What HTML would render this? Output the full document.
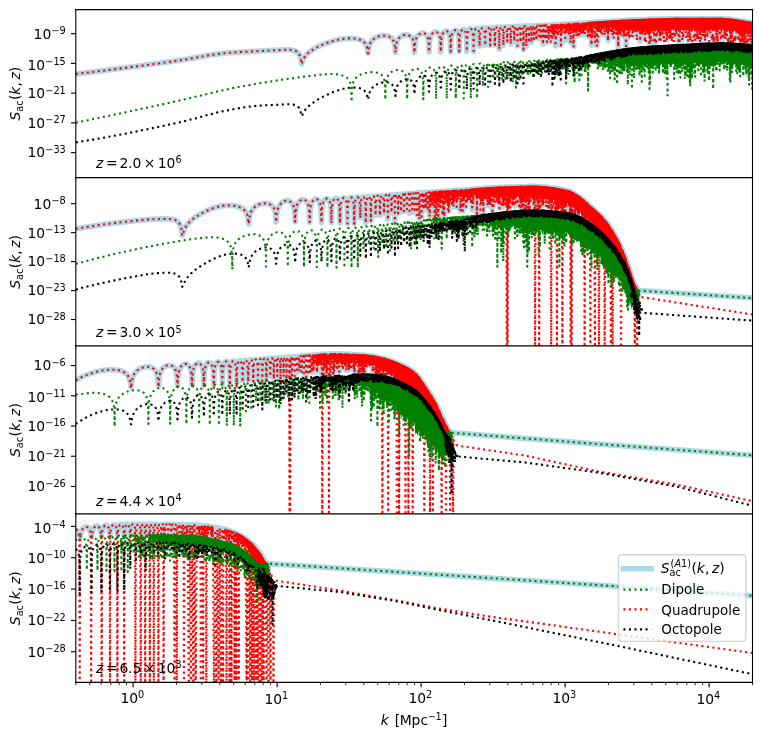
<!DOCTYPE html><html><head><meta charset="utf-8"><style>html,body{margin:0;padding:0;background:#fff;overflow:hidden}svg{display:block}</style></head><body><svg width="762" height="738" viewBox="0 0 548.64 531.36" version="1.1"><defs><style type="text/css">*{stroke-linejoin: round; stroke-linecap: butt}</style></defs><g id="figure_1"><g id="patch_1"><path d="M 0 531.36  L 548.64 531.36  L 548.64 0  L 0 0  z " style="fill: #ffffff"/></g><g id="axes_1"><g id="patch_2"><path d="M 54.576 127.8864  L 541.8 127.8864  L 541.8 6.8904  L 54.576 6.8904  z " style="fill: #ffffff"/></g><g id="matplotlib.axis_1"><g id="xtick_1"><g id="line2d_1"><defs><path id="m1504cfccaf" d="M 0 0  L 0 3.5  " style="stroke: #000000; stroke-width: 0.8"/></defs><g><use xlink:href="#m1504cfccaf" x="95.837366" y="127.8864" style="stroke: #000000; stroke-width: 0.8"/></g></g></g><g id="xtick_2"><g id="line2d_2"><g><use xlink:href="#m1504cfccaf" x="199.52477" y="127.8864" style="stroke: #000000; stroke-width: 0.8"/></g></g></g><g id="xtick_3"><g id="line2d_3"><g><use xlink:href="#m1504cfccaf" x="303.212174" y="127.8864" style="stroke: #000000; stroke-width: 0.8"/></g></g></g><g id="xtick_4"><g id="line2d_4"><g><use xlink:href="#m1504cfccaf" x="406.899578" y="127.8864" style="stroke: #000000; stroke-width: 0.8"/></g></g></g><g id="xtick_5"><g id="line2d_5"><g><use xlink:href="#m1504cfccaf" x="510.586981" y="127.8864" style="stroke: #000000; stroke-width: 0.8"/></g></g></g><g id="xtick_6"><g id="line2d_6"><defs><path id="m05db3bdf9b" d="M 0 0  L 0 2  " style="stroke: #000000; stroke-width: 0.6"/></defs><g><use xlink:href="#m05db3bdf9b" x="54.576" y="127.8864" style="stroke: #000000; stroke-width: 0.6"/></g></g></g><g id="xtick_7"><g id="line2d_7"><g><use xlink:href="#m05db3bdf9b" x="64.624348" y="127.8864" style="stroke: #000000; stroke-width: 0.6"/></g></g></g><g id="xtick_8"><g id="line2d_8"><g><use xlink:href="#m05db3bdf9b" x="72.834445" y="127.8864" style="stroke: #000000; stroke-width: 0.6"/></g></g></g><g id="xtick_9"><g id="line2d_9"><g><use xlink:href="#m05db3bdf9b" x="79.775984" y="127.8864" style="stroke: #000000; stroke-width: 0.6"/></g></g></g><g id="xtick_10"><g id="line2d_10"><g><use xlink:href="#m05db3bdf9b" x="85.789019" y="127.8864" style="stroke: #000000; stroke-width: 0.6"/></g></g></g><g id="xtick_11"><g id="line2d_11"><g><use xlink:href="#m05db3bdf9b" x="91.092891" y="127.8864" style="stroke: #000000; stroke-width: 0.6"/></g></g></g><g id="xtick_12"><g id="line2d_12"><g><use xlink:href="#m05db3bdf9b" x="127.050385" y="127.8864" style="stroke: #000000; stroke-width: 0.6"/></g></g></g><g id="xtick_13"><g id="line2d_13"><g><use xlink:href="#m05db3bdf9b" x="145.308831" y="127.8864" style="stroke: #000000; stroke-width: 0.6"/></g></g></g><g id="xtick_14"><g id="line2d_14"><g><use xlink:href="#m05db3bdf9b" x="158.263404" y="127.8864" style="stroke: #000000; stroke-width: 0.6"/></g></g></g><g id="xtick_15"><g id="line2d_15"><g><use xlink:href="#m05db3bdf9b" x="168.311751" y="127.8864" style="stroke: #000000; stroke-width: 0.6"/></g></g></g><g id="xtick_16"><g id="line2d_16"><g><use xlink:href="#m05db3bdf9b" x="176.521849" y="127.8864" style="stroke: #000000; stroke-width: 0.6"/></g></g></g><g id="xtick_17"><g id="line2d_17"><g><use xlink:href="#m05db3bdf9b" x="183.463388" y="127.8864" style="stroke: #000000; stroke-width: 0.6"/></g></g></g><g id="xtick_18"><g id="line2d_18"><g><use xlink:href="#m05db3bdf9b" x="189.476422" y="127.8864" style="stroke: #000000; stroke-width: 0.6"/></g></g></g><g id="xtick_19"><g id="line2d_19"><g><use xlink:href="#m05db3bdf9b" x="194.780295" y="127.8864" style="stroke: #000000; stroke-width: 0.6"/></g></g></g><g id="xtick_20"><g id="line2d_20"><g><use xlink:href="#m05db3bdf9b" x="230.737789" y="127.8864" style="stroke: #000000; stroke-width: 0.6"/></g></g></g><g id="xtick_21"><g id="line2d_21"><g><use xlink:href="#m05db3bdf9b" x="248.996234" y="127.8864" style="stroke: #000000; stroke-width: 0.6"/></g></g></g><g id="xtick_22"><g id="line2d_22"><g><use xlink:href="#m05db3bdf9b" x="261.950807" y="127.8864" style="stroke: #000000; stroke-width: 0.6"/></g></g></g><g id="xtick_23"><g id="line2d_23"><g><use xlink:href="#m05db3bdf9b" x="271.999155" y="127.8864" style="stroke: #000000; stroke-width: 0.6"/></g></g></g><g id="xtick_24"><g id="line2d_24"><g><use xlink:href="#m05db3bdf9b" x="280.209253" y="127.8864" style="stroke: #000000; stroke-width: 0.6"/></g></g></g><g id="xtick_25"><g id="line2d_25"><g><use xlink:href="#m05db3bdf9b" x="287.150792" y="127.8864" style="stroke: #000000; stroke-width: 0.6"/></g></g></g><g id="xtick_26"><g id="line2d_26"><g><use xlink:href="#m05db3bdf9b" x="293.163826" y="127.8864" style="stroke: #000000; stroke-width: 0.6"/></g></g></g><g id="xtick_27"><g id="line2d_27"><g><use xlink:href="#m05db3bdf9b" x="298.467698" y="127.8864" style="stroke: #000000; stroke-width: 0.6"/></g></g></g><g id="xtick_28"><g id="line2d_28"><g><use xlink:href="#m05db3bdf9b" x="334.425193" y="127.8864" style="stroke: #000000; stroke-width: 0.6"/></g></g></g><g id="xtick_29"><g id="line2d_29"><g><use xlink:href="#m05db3bdf9b" x="352.683638" y="127.8864" style="stroke: #000000; stroke-width: 0.6"/></g></g></g><g id="xtick_30"><g id="line2d_30"><g><use xlink:href="#m05db3bdf9b" x="365.638211" y="127.8864" style="stroke: #000000; stroke-width: 0.6"/></g></g></g><g id="xtick_31"><g id="line2d_31"><g><use xlink:href="#m05db3bdf9b" x="375.686559" y="127.8864" style="stroke: #000000; stroke-width: 0.6"/></g></g></g><g id="xtick_32"><g id="line2d_32"><g><use xlink:href="#m05db3bdf9b" x="383.896657" y="127.8864" style="stroke: #000000; stroke-width: 0.6"/></g></g></g><g id="xtick_33"><g id="line2d_33"><g><use xlink:href="#m05db3bdf9b" x="390.838195" y="127.8864" style="stroke: #000000; stroke-width: 0.6"/></g></g></g><g id="xtick_34"><g id="line2d_34"><g><use xlink:href="#m05db3bdf9b" x="396.85123" y="127.8864" style="stroke: #000000; stroke-width: 0.6"/></g></g></g><g id="xtick_35"><g id="line2d_35"><g><use xlink:href="#m05db3bdf9b" x="402.155102" y="127.8864" style="stroke: #000000; stroke-width: 0.6"/></g></g></g><g id="xtick_36"><g id="line2d_36"><g><use xlink:href="#m05db3bdf9b" x="438.112596" y="127.8864" style="stroke: #000000; stroke-width: 0.6"/></g></g></g><g id="xtick_37"><g id="line2d_37"><g><use xlink:href="#m05db3bdf9b" x="456.371042" y="127.8864" style="stroke: #000000; stroke-width: 0.6"/></g></g></g><g id="xtick_38"><g id="line2d_38"><g><use xlink:href="#m05db3bdf9b" x="469.325615" y="127.8864" style="stroke: #000000; stroke-width: 0.6"/></g></g></g><g id="xtick_39"><g id="line2d_39"><g><use xlink:href="#m05db3bdf9b" x="479.373963" y="127.8864" style="stroke: #000000; stroke-width: 0.6"/></g></g></g><g id="xtick_40"><g id="line2d_40"><g><use xlink:href="#m05db3bdf9b" x="487.58406" y="127.8864" style="stroke: #000000; stroke-width: 0.6"/></g></g></g><g id="xtick_41"><g id="line2d_41"><g><use xlink:href="#m05db3bdf9b" x="494.525599" y="127.8864" style="stroke: #000000; stroke-width: 0.6"/></g></g></g><g id="xtick_42"><g id="line2d_42"><g><use xlink:href="#m05db3bdf9b" x="500.538634" y="127.8864" style="stroke: #000000; stroke-width: 0.6"/></g></g></g><g id="xtick_43"><g id="line2d_43"><g><use xlink:href="#m05db3bdf9b" x="505.842506" y="127.8864" style="stroke: #000000; stroke-width: 0.6"/></g></g></g><g id="xtick_44"><g id="line2d_44"><g><use xlink:href="#m05db3bdf9b" x="541.8" y="127.8864" style="stroke: #000000; stroke-width: 0.6"/></g></g></g></g><g id="matplotlib.axis_2"><g id="ytick_1"><g id="line2d_45"><defs><path id="m5d545ce8f8" d="M 0 0  L -3.5 0  " style="stroke: #000000; stroke-width: 0.8"/></defs><g><use xlink:href="#m5d545ce8f8" x="54.576" y="109.869363" style="stroke: #000000; stroke-width: 0.8"/></g></g><g id="text_1"><!-- $\mathdefault{10^{-33}}$ --><g transform="translate(19.7840 114.3526)"><text><tspan x="0.0000" y="-0.9766" style="font-size: 10px; font-family: 'DejaVu Sans'">1</tspan><tspan x="6.3623" y="-0.9766" style="font-size: 10px; font-family: 'DejaVu Sans'">0</tspan><tspan x="12.8203" y="-4.1927" style="font-size: 7px; font-family: 'DejaVu Sans'">−</tspan><tspan x="18.6855" y="-4.1927" style="font-size: 7px; font-family: 'DejaVu Sans'">3</tspan><tspan x="23.1392" y="-4.1927" style="font-size: 7px; font-family: 'DejaVu Sans'">3</tspan></text></g></g></g><g id="ytick_2"><g id="line2d_46"><g><use xlink:href="#m5d545ce8f8" x="54.576" y="88.462982" style="stroke: #000000; stroke-width: 0.8"/></g></g><g id="text_2"><!-- $\mathdefault{10^{-27}}$ --><g transform="translate(19.7840 92.9462)"><text><tspan x="0.0000" y="-0.9766" style="font-size: 10px; font-family: 'DejaVu Sans'">1</tspan><tspan x="6.3623" y="-0.9766" style="font-size: 10px; font-family: 'DejaVu Sans'">0</tspan><tspan x="12.8203" y="-4.1927" style="font-size: 7px; font-family: 'DejaVu Sans'">−</tspan><tspan x="18.6855" y="-4.1927" style="font-size: 7px; font-family: 'DejaVu Sans'">2</tspan><tspan x="23.1392" y="-4.1927" style="font-size: 7px; font-family: 'DejaVu Sans'">7</tspan></text></g></g></g><g id="ytick_3"><g id="line2d_47"><g><use xlink:href="#m5d545ce8f8" x="54.576" y="67.056601" style="stroke: #000000; stroke-width: 0.8"/></g></g><g id="text_3"><!-- $\mathdefault{10^{-21}}$ --><g transform="translate(19.7840 71.5398)"><text><tspan x="0.0000" y="-0.9766" style="font-size: 10px; font-family: 'DejaVu Sans'">1</tspan><tspan x="6.3623" y="-0.9766" style="font-size: 10px; font-family: 'DejaVu Sans'">0</tspan><tspan x="12.8203" y="-4.1927" style="font-size: 7px; font-family: 'DejaVu Sans'">−</tspan><tspan x="18.6855" y="-4.1927" style="font-size: 7px; font-family: 'DejaVu Sans'">2</tspan><tspan x="23.1392" y="-4.1927" style="font-size: 7px; font-family: 'DejaVu Sans'">1</tspan></text></g></g></g><g id="ytick_4"><g id="line2d_48"><g><use xlink:href="#m5d545ce8f8" x="54.576" y="45.65022" style="stroke: #000000; stroke-width: 0.8"/></g></g><g id="text_4"><!-- $\mathdefault{10^{-15}}$ --><g transform="translate(19.7840 50.1334)"><text><tspan x="0.0000" y="-0.0641" style="font-size: 10px; font-family: 'DejaVu Sans'">1</tspan><tspan x="6.3623" y="-0.0641" style="font-size: 10px; font-family: 'DejaVu Sans'">0</tspan><tspan x="12.8203" y="-3.2802" style="font-size: 7px; font-family: 'DejaVu Sans'">−</tspan><tspan x="18.6855" y="-3.2802" style="font-size: 7px; font-family: 'DejaVu Sans'">1</tspan><tspan x="23.1392" y="-3.2802" style="font-size: 7px; font-family: 'DejaVu Sans'">5</tspan></text></g></g></g><g id="ytick_5"><g id="line2d_49"><g><use xlink:href="#m5d545ce8f8" x="54.576" y="24.243839" style="stroke: #000000; stroke-width: 0.8"/></g></g><g id="text_5"><!-- $\mathdefault{10^{-9}}$ --><g transform="translate(24.1840 28.7271)"><text><tspan x="0.0000" y="-0.9766" style="font-size: 10px; font-family: 'DejaVu Sans'">1</tspan><tspan x="6.3623" y="-0.9766" style="font-size: 10px; font-family: 'DejaVu Sans'">0</tspan><tspan x="12.8203" y="-4.1927" style="font-size: 7px; font-family: 'DejaVu Sans'">−</tspan><tspan x="18.6855" y="-4.1927" style="font-size: 7px; font-family: 'DejaVu Sans'">9</tspan></text></g></g></g><g id="text_6"><!-- $S_{\rm ac}(k,z)$ --><g transform="translate(15.0723 86.7884) rotate(-90)"><text><tspan x="0.0000" y="-0.4062" style="font-style: oblique; font-size: 10px; font-family: 'DejaVu Sans'">S</tspan><tspan x="18.6606" y="-0.4062" style="font-style: oblique; font-size: 10px; font-family: 'DejaVu Sans'">k</tspan><tspan x="29.5786" y="-0.4062" style="font-style: oblique; font-size: 10px; font-family: 'DejaVu Sans'">z</tspan><tspan x="6.3477" y="1.2344" style="font-size: 7px; font-family: 'DejaVu Sans'">a</tspan><tspan x="10.6372" y="1.2344" style="font-size: 7px; font-family: 'DejaVu Sans'">c</tspan><tspan x="14.7593" y="-0.4062" style="font-size: 10px; font-family: 'DejaVu Sans'">(</tspan><tspan x="24.4517" y="-0.4062" style="font-size: 10px; font-family: 'DejaVu Sans'">,</tspan><tspan x="34.8276" y="-0.4062" style="font-size: 10px; font-family: 'DejaVu Sans'">)</tspan></text></g></g></g><g transform="scale(0.72)"><clipPath id="cp0"><rect x="75.80" y="9.57" width="676.70" height="168.05"/></clipPath><g clip-path="url(#cp0)" stroke-linejoin="round"><path d="M75.8,74l40.3-4.9 44.6-6 22.7-3.3 26.5-4.7 11.7-1.6 7.5-.8 12.3-.8 38.3-1.8 5.6-.4 4.3,0 3.4,.5 2.7,.8 1.1,.6 1,.8 .7,.8 .7,.9 1,2.3 .7,2.9 .6,4.7 .3-.4 1.1-3 .7-1.8 .9-1.5 1.1-1.6 1.3-1.5 1.7-1.6 2-1.5 2.2-1.4 2.9-1.7 3.4-1.8 3.6-1.6 3.9-1.5 3.8-1.3 3.8-1.2 3.8-.9 3.5-.6 3.1-.4 2.9-.3 3.2,0 2.8,.1 2.6,.3 2.2,.4 1.9,.6 1.7,.7 1.4,.9 1.1,1 1,1.2 .7,1.3 .6,1.5 .5,1.5 .7,4.9 .2,.5 .6-4.8 .7-3.1 1-2.5 1.4-2.1 1-1.1 1.1-.9 2.6-1.6 3.2-1.1 3.2-.5 3,.1 1.4,.2 1.3,.4 1.1,.6 1.1,.6 .9,.8 .8,1 1.2,2 .9,2.8 .5,3.3 .4,5.1 .4-5.6 .6-3.5 .4-1.5 .6-1.5 .7-1.2 .8-1 1.1-1.1 1.1-.9 1.4-.7 1.4-.4 1.6-.3 1.4,.1 1.4,.3 1.3,.5 1.2,.8 1,1.1 .9,1.5 .5,1.7 .5,2 .3,2.7 .3,7.1 .3-5.4 .3-3.8 .5-2.8 .7-2.1 1.1-2.1 1.5-1.7 1.7-1.1 .9-.4 .9-.1 .9,0 .8,.2 .8,.3 .7,.5 1.2,1.4 .9,1.9 .6,2.3 .5,3.2 .3,9.1 .4-9.6 .4-2.6 .6-2.6 .8-2 1.2-1.8 1.3-1 .8-.3 .8-.2 1.3,.2 1.3,.9 1,1.4 .8,1.9 .5,2.4 .3,3 .3,10.1 .3-9.6 .3-3.4 .5-2.3 .7-2.3 .9-1.6 1.2-1.2 .6-.2 .7-.2 .6,0 .6,.2 1.1,.9 .8,1.5 .7,2.1 .4,2.5 .3,2.9 .2,10.5 .3-10.6 .2-3 .5-2.6 .6-2 .8-1.7 1-1.1 .5-.3 .6-.2 .6,.1 .5,.2 1,1 .7,1.6 .5,2 .4,2.4 .2,3.6 .2,10.4 .2-11.5 .5-4.9 .6-2.2 .7-1.8 .9-1.2 .6-.3 .5-.1 .5,0 .4,.3 .8,1 .6,1.4 .5,2.2 .4,2.8 .1,2.7 .2,11.4 .2-10.7 .2-3.1 .3-3.1 .5-2.4 .6-1.6 .8-1.1 .4-.3 .5-.2 .4,.1 .4,.2 .8,1 .6,1.5 .4,2 .3,3.2 .2,3.4 .2,11 .1-10.5 .2-4.9 .3-2.2 .4-2.1 .5-1.5 .6-1.1 .4-.4 .4-.2 .5,.1 .4,.2 .7,1.1 .6,1.9 .4,2 .2,2.7 .3,9.9 .2-7.1 .2-4.4 .5-3.4 .7-2.1 .8-1.1 .4-.1 .4,0 .4,.4 .4,.5 .6,1.9 .4,1.8 .2,2.5 .4,10.3 .1-8.4 .3-3.5 .3-2.3 .5-1.9 .6-1.2 .4-.3 .3-.1 .3,0 .4,.3 .4,.7 .3,.8 .6,3.2 .4,5 .1,7.8 .2-9 .4-4.3 .3-2 .4-1.5 .5-.9 .6-.4 .5,.2 .5,.9 .5,1.3 .3,1.9 .3,4.3 .2,9.1 .3-9.9 .2-3.2 .3-2.1 .6-1.9 .4-.5 .3-.3 .4,0 .3,.3 .6,1.3 .4,2.1 .3,3.5 .2,5 .1,9.8 .1-10.5 .2-5.7 .5-3.7 .5-1.4 .4-.7 .2-.2 .4,.1 .5,.6 .4,1.3 .4,1.9 .3,4.3 .2,10 .1-9.2 .2-3.2 .5-3.8 .3-1.2 .4-.6 .2-.3 .3,0 .4,.3 .4,1 .4,1.5 .4,4.5 .3,7.1 .1-7.1 .2-2.5 .3-2.5 .4-1.6 .5-.8 .2-.1 .3,.1 .5,.9 .4,1.8 .3,3.3 .3,11.2 .3-10.6 .3-3.7 .4-2 .4-.9 .3-.2 .2,0 .5,.7 .4,1.7 .4,4.3 .3,8 .1-7.7 .4-4.1 .2-1.4 .4-1.1 .3-.5 .3,0 .1,.1 .4,.6 .2,.9 .4,3.2 .3,6.3 .1,8.4 .2-12.2 .2-3.7 .3-2.2 .5-1.3 .4-.3 .4,.6 .4,1.6 .5,4.7 .1,9.1 .2-7.9 .3-4.3 .5-3 .3-.7 .2-.2 .2,.1 .4,.6 .2,1 .4,3.9 .2,4.8 .1,13 .1-13.4 .1-4.5 .5-3.9 .3-1.2 .3-.5 .4,.2 .3,.9 .3,1.4 .2,2.7 .2,4.4 .1,10.5 .1-9.7 .1-4.9 .5-4 .2-1 .4-.6 .3,.2 .3,.9 .5,3.1 .1,3.1 .2,9.5 .1-7.7 .1-4.2 .4-3.2 .2-1.1 .3-.6 .2-.1 .1,.1 .3,.5 .5,3 .2,5.3 .1,7.5 .3-11.1 .3-3.6 .4-1.5 .2-.2 .2,0 .2,.3 .5,2.1 .2,3.3 .2,7.5 .3-9.2 .3-2.4 .3-1.4 .3-.3 .2,.1 .3,.7 .2,1.4 .3,3.2 .2,6.9 .2-6.9 .3-3.2 .2-1.5 .3-.7 .1-.1 .2,0 .3,.7 .3,2.1 .2,2.3 .2,7.7 .1-5.2 .3-4.7 .4-2.6 .2-.4 .3,.1 .3,1.2 .3,2.2 .3,10.4 .1-6.1 .3-5 .3-2.2 .3-.6 .2,0 .4,1.5 .3,2.8 .2,4.9 0,9.6 .2-13.2 .3-3.6 .4-2 .2-.2 .3,.5 .3,2.2 .3,4.9 .1,6.4 .1-7.6 .3-4.1 .2-1.7 .3-.6 .2-.1 0,.2 .3,.8 .3,2.4 0,2.5 .2,11 .2-12.2 .1,.6 0-2.6 .4-2.5 .2-.2 .2,0 .3,1.8 .1,1.7 .1-.5 .2,11.5 .2-8.4 0-2.4 .1,1.2 .1-3.5 .2-.9 .1,.4 .1-1 .1,.3 .1-.3 .2,.3 .1-.2 0,.3 .2,2 .1-.6 .1,6.8 .1-5.9 .1,13.9 .2-13.9 .1-.6 .1,1.2 .1-2.2 0,.7 .1-1.8 .2,.3 .1-.4 .1,0 .1,.2 .2,2.8 .2,11.9 .1-13.5 0,5 .3-4.7 .1,9.1 .1-9.3 0,3.7 .2-4.7 .1,.1 .1-.6 .2-.1 0,1.6 .1-1.5 .2,6.3 .2-5 0,10.6 .1-7 .1,1.1 .2-5 .1,.2 .1-.9 0,3.6 .1-3.9 .2,.6 .1-.6 .1,1.5 .1-.2 .1,1.4 .1-2.9 .1,0 .1,21.2 .1-18.1 .1-1 .1,.5 .1,12.9 .1-14.7 .1-.5 0,3 .1-3.3 .2,.5 .1-.4 .1,.1 .1-.2 0,.2 .1,3.1 .1-2.9 .1,2.7 .1-1.4 .1,2.9 0-1.3 .2,7.6 .1-8.2 .1-2.1 .1,5.5 .1-6.2 .1,11.5 .2-11.5 .1,.8 .1-.8 .1,1.6 .2-1.6 .2,7.4 .1-5.1 0,2.6 .1-3.9 .1,1.3 .2-2.2 .1,2.2 0-2.3 .1,2.1 .3-2.1 .1-.1 .1,1.2 0-.7 .1,.5 .1,4.5 .1-5.5 .1,7.3 .1-6.1 0-.5 .1,5.5 .2-6.2 .2,20.8 .2-20.9 .1,1.4 .1-1.1 .2,9.1 .1-9.4 .1,6.3 .1-4.8 .1,6.3 .2-7.6 0,1 .1-1 .1-.2 .1,.7 .1-.7 .1,0 0,3 .2-2.7 .1,2.7 .1,0 .1-3.1 .1,.2 0-.1 .4,2.4 .1-1.9 0,1 .1-1.1 .1,.7 .1-.7 .2,2.8 .1,0 0-3 .1,8.2 .1-8.5 .2,8.1 .1-8.1 0,3.4 .2-3.4 .1,16.3 .2-16.4 .1,.3 0-.2 .1,1.2 .1,3.6 .2-3.9 .1-.3 0,1.1 .2-1.6 .1,9.6 .1-6.5 .2-3 0-.2 .1,5.8 .2-5.7 .1,0 .1,.9 0-1.2 .1,.2 .1,2.3 .1-2.4 .1,4.8 .2-4.9 .1,0 .1,.5 .1,2.4 .1-2.3 .1,2.3 0-1.9 .1,5.4 .1-6.4 .1,3.4 .2-3.2 .1,4.1 .1,7.7 .1-11.3 .1,5.1 .1-4.9 .1,1.2 0-1.9 .1,2.9 .1-3.2 .1,8.8 .2-8 .1,6.6 0-7.4 .1,0 .2,.2 .1,1.6 .1-1.8 0,.4 .1-.3 .1,18.6 .1-18.5 .1-.3 .1,.1 .1,6.2 .1-5.6 .1,.8 .2-1.5 .1,2.6 0-2.4 .2,3 .1,0 .1-3 .1-.1 .1,2.6 .1-2.5 .1,4.6 .1-4.8 .1,4.8 .1-3.5 .1,.5 .1-.5 .2,6.6 .2-7.3 0,18.2 .1-18.9 .1,3.3 .1-1.5 .2,20.7 0-22.2 .2,1.6 .1-.3 .1,.8 .1-1.7 .1-.7 0,.2 .1,2.3 .1-2.6 .1,1.3 .1-1.3 .1,7.6 0-6.3 .1,8 .1-9.3 .1,2 .1-.8 .1,1.7 .1-2.4 0,3.2 .1-3.4 .1,.1 .2-.5 .1,6.3 0-6.1 .2,8.9 .1-7.5 .2,10.9 .1-12.3 .2,2 .2-2.2 .1,1.8 .1-1.9 .1,2.1 .1-2.1 .1,3.8 .2-3.8 .1,.6 .1,3.2 .1-3.8 .1,3.5 .1-3.5 0,1.7 .1-1.4 .1,1 .1-.4 .2,10.7 .1-9 0,7.8 .1-10.2 .1,4.2 .1-4.5 .1,5.2 .1-4.7 0,11.2 .1-10 .1,.8 .1-2.2 .1,2.3 .1-2.5 .1,3.3 .2-3.4 .3,.1 .1-.2 .3,9 .1-7 .1,7.2 0-9.2 .1,8.2 .1-5.5 .2-2.7 .1,7.1 0-1.7 .1,.6 .1,3.2 .1-8.9 .1,7.1 .1-7 .1,1.3 .1-1.5 .1,1.3 .1-1.1 .1,.2 .1,9.1 0-8.8 .1,.4 .1-.6 .2,1.2 .1,9.3 .2-9.6 .1,8.2 .1-10 .1,0 .1,.7 0-.4 .1,2.8 .1-.5 .1,.9 .1-3.5 .1,5.3 0-3.6 .1,.7 .1-2.4 .1,7 .2-7 .1,4.4 .1-3 .1,9.4 .1-9.3 .1,2.6 .1-.1 0-3.9 .1,2.5 .1-2.7 .1,0 .2,5.4 .1-5.4 .1,1.7 .1-1.2 .1,4.8 .2-5.2 .1,8.7 .1-7.6 .2-.6 .1,1.2 .1-1.8 0,3.5 .1-1.4 .2,.3 .1-2 .1,2.7 .1-2.2 .2,.4 .1-1.4 .1,1.4 .1-1.1 0,13 .2-13.4 .1,0 .1,1.4 .1,11.9 0-13.3 .1,.7 .2,.1 .1-.5 .2,3.7 .1-3.8 .1,3.5 .1-1.2 .2,1.7 0-4.2 .1,1.4 .1-.1 .1,3.2 .1-1.1 .1,.9 .1-3.9 .1,12.2 .1-11.8 .1-.9 .2,1.3 .1-.9 .1,3.3 .1-3.7 .2,2 .1-2.1 .1,1.7 .1,20.7 .1-19.1 .1,1.4 .1-3.9 .1,5.1 .1-5 .1-.4 .1,4.2 .1-2.5 .1,9.1 0-9.9 .1-.5 .2,.5 .1,15 .1-16.5 .1,0 .1,2.3 .3-2.3 .1,4.1 0-3.8 .1-.2 .1,.1 .1,4.6 .1-4.9 .1,.2 .2,4.8 .1-5 .1,.7 .1-.4 .1,2.3 0-1.7 .1-.1 .1,3.3 .1-1.3 .1,3 .1-1.8 0,15.6 .1-8 .1,1.5 .1-13.2 .1,7.6 .1-4.7 .1-.4 0,1.2 .1-3.5 .1-.1 .1,5.7 .2-5.3 0-.3 .1,.2 .1,2.4 .2-2.9 .1,7.3 .1-6.8 0,3.4 .1,0 .1,19.6 .1-23.4 .1,1.7 .1-1.8 .1,.3 .1,4.2 .2-4.5 .1,0 .1,19.5 0-19.1 .1,6.5 .1-6.3 .2,1.4 .1-1.6 0,6.7 .3-7.1 .1,6.1 .1-4.7 .1,.1 0-1.3 .2-.3 .2,8.8 .1-7.8 0,3.7 .1-4.1 .1,10.9 .1-11 .2-.5 .1,.2 .1,2.4 .1-2.7 .1,.8 .1,7 .1-5.6 0-.1 .1,6 .1-6.5 .2-1.6 .1,11.8 .1-11.6 0-.3 .1,1.6 .1-.9 .1,0 .1,3.9 .1-4.5 .2,3.6 .2-2.8 .2,10.9 0-10.9 .3,4.9 .2-5.8 .1,3.5 .2-2.7 .1,1.7 .1-.4 .1-2.1 0,5.4 .1-4.7 .1,1.8 .1-2.6 .1,.2 .1-.2 .2,.8 .1-.7 .1,.1 .1,1.5 .1-1.5 .1,13.1 .1-12.5 .2,3.8 .1-4.6 .2,4.6 .2-4.6 .1,.6 .1-.3 .3,3 .1-3.3 .1,1.1 .1,8.5 .2-8.7 .2-1.1 .2,0 .2,6.1 .2-5.9 0,12.3 .2-11.7 .1,4.4 .1-3.9 .1,3.9 .1-.7 0,.8 .1-3.3 .1,16.8 .1-18 .2,.1 0,3.3 .2-.4 .1-3.7 .1,2.1 .1-.4 .1,0 0-1.1 .2,3 .1,6.2 .2-10.1 0,1.8 .1-1.7 .2,1.2 .1,6.2 .3-7.1 .2,5.2 .1-5.5 .1-.2 .2,4.3 .1-4.3 .2,1 .1,1.7 0-2.7 .2,1 .1-1 .2,.8 0-.2 .1,5.2 .1-5.8 .2,.2 .1,2.6 .1-2.5 0,9.8 .1-9.7 .1,9.1 .1-4.1 .2,9.9 0-15.2 .1,3.8 .1-2.6 .2,1.3 .1-2.6 .1,1.8 0-1.7 .2,9.7 .2-9.1 .1,15.5 .1-16.1 .2,2.6 .1-1.4 .2,2.5 .1-2 .1,5.5 .2-7.4 .1,2.6 .3-2.7 .2,1.1 .1-.5 .1,6 .1-5.8 .1,1.8 .1-2.4 .1,9.9 .1-10.2 .1,1.8 .1-1.8 .1,.1 .1,3.2 .1-1.9 0,3.8 .1-5.2 .2,2.9 .2-2.9 .1,15 .1-9.9 .1,6.1 .1-11.3 .2,2.7 .2-1.3 .2,.7 .1,23.5 0-23.5 .1,0 .2-2 .2,2.8 .1-2.9 .1,9.5 .1-8 .2,2.3 .1-3.6 0-.1 .1,1.2 .1-.1 .1,11.1 .1-12.3 .1,.3 .1,13.6 .2-14 .1,.6 .1-.5 .1,9.8 .2-10 .2,4.8 .1-3.5 .1-.6 .1,7.4 .4-7.3 .1,5.6 .2-6.4 .1,3 .1-2.8 0,1.8 .1-2 .1-.1 .2,.5 .2,9.5 0-9.1 .1-.3 .1,.2 .1,1.8 .2-2.3 0,6.5 .1-6.8 .1,0 .1,1.2 .1-1.1 .1,.2 .1,15.6 .1-15.8 .1,13.4 .1-13 .1,11.7 .1-11.8 0-.5 .1,6.6 .1-6.2 .1,.2 .1-.6 .2,10.1 .2-9.9 .1,.1 .1,6 .1-6.3 .1,2.8 .2-2.5 .1,4.9 .2-5.2 .1,.3 .1,25.2 .2-25.6 .1,4.6 .2-3.3 .1,.5 .1,5.2 .1-3.8 .1,1.4 .1-4.2 .2-.4 .1,3.8 .2-3.9 .1,5 .2-3.9 .1,.9 .1-1.9 .1,13.9 .1-10.1 .2-3.3 .1,.4 0-.9 .2,2.8 .1,8.7 .1-6 .1,4 .1-9.4 .1,2.2 .1-2.4 .2,.2 .1,4.3 0-4.4 .1,1.3 .1-1.4 .2,5.9 .2-5.5 0,6.2 .1-3.5 .3-3 .1,9.5 .2-8.9 .1,1.2 .1-.3 .1,0 .1,2.5 0-2.7 .2-1.4 .2,1.1 .1-1.3 0,5.9 .2-5.2 .1,.2 .1-.6 .1,2.9 .1-1.6 .2-1.5 .1,3.5 .1-3.6 .1,.2 0,9.9 .1-8 .1,.2 .1-1.7 .3,2.6 .1-3.2 .2,10.9 .2-11 0,6 .2-5.9 .4,7.2 0-3 .1,.1 .2,5.8 .2-10.2 0,2.3 .2-2.2 .2-.1 .1,.6 .1-.6 .2,1.5 .1,5.5 .2-7.1 .1,2.5 .1-2 .1,1.8 .1-2 .1,15.8 .1-13.4 .1-1.8 .1,2.8 .3-3.7 .1,5.6 .1-5 .1,10.2 .2-10.4 .1-.4 0,4.4 .2-4.4 .1,.8 .1,8.6 .1-9.4 0,1.3 .1-1.2 .1,5.8 .2-5.7 .1,.5 .1-.8 0,9 .1-8.8 .1-.2 .2,1.9 .1,5.1 0-7 .1,1.2 .1-.6 .1,.5 .1-1.1 .2,5.4 0,15.6 .1-20.8 .3,.9 .1,2.8 .1-2.2 .1,1.5 .1-1 .1,.5 .1-2.1 .1,2.5 0-3.1 .1,.2 .1,11.6 .1-11.8 .2,14.5 0-14.6 .2,2.6 .1,12.7 .1-15.3 .1,.1 .1,3.7 0-3.6 .2,11.3 .1-10.2 .1,2.2 .1-3.5 .2,4.1 .3-4.1 .1,4.8 0-3.6 .1,8 .1-9 .3,11.8 0-10.5 .1,8.3 .1-9.9 .2,.3 .2-.2 0,.1 .2-.1 .1,9.5 .1-8 .1,2.4 .1-3.9 .1,.2 .2-.1 .1,2 .1-2.2 0,1.9 .1-1.8 .1,1.6 .2-1 .1,5.9 .1-6.5 .3,11.2 .1-10.9 .1,.1 .1,13.1 .2-13.3 .1,5 .1-5.4 0,12.9 .3-12.7 .2-.2 .1,.2 .2,4.1 .1-3.1 .2-1.2 0,12 .1-10.5 .1,4.1 .1-5.5 .1,.3 .1,10.2 .1-10.5 .1-.1 .1,3.5 .2-3.5 .1,25.2 .1-24.7 .1-.3 .1,.3 .1,7.5 .1-7.4 .1,12.4 0-13.1 .1,5.2 .2-5.1 .1,4.7 .1-4.3 .1,5.6 .2-6.1 .2,3.1 .1,.1 0-2.9 .2,.8 .1,7.3 .1-7.8 .1,2.6 0-3.2 .1,1.3 .2-1.3 .1,1.5 .1-1.5 .1,.5 .1-.3 .2,12.7 .2-12.5 0-.1 .1,9.8 .1-10.2 .1,.5 .1-.4 .2,2.4 0-2.4 .1,.2 .1,10.5 .1-9.9 .1,.3 .1-.6 0,.5 .1,4 .2-3.9 .1,.3 .1-1.4 .1,.2 .1,23.5 .2-23.8 .1,1.4 .1-1.4 .1,.7 .1-.7 .1,.1 .1-.2 .2,3.1 0-2.8 .2,1.2 .2-1.4 .1,.2 .1,3.4 .1-1.4 .1,5.2 .1-6.6 .1,.8 .1-1.2 .1,1.7 .1-2.2 .2,3.6 .1-2.8 .2,1.5 .1,0 .2-2.3 .1,6.3 .1-6.2 .1,5.7 .3-5.8 0-.1 .2,4 .1-3.9 .1,3.2 .1-3.3 .1,9.5 .1-5.9 .1-1.8 .1,.1 .1,2.6 .1-4.5 .1,12.4 .1-12 .1,.1 .1,2.1 .1-1.6 0,1.9 .1,14.4 .1-15.7 .1-.8 .1,2.4 .1-3.2 .1,1.5 .1-1.5 .1,1.7 .1-1.8 .1,3 .1-2.8 0,2.5 .1-2.3 .1,1.9 .1-2 .2,9.1 .1-5.9 0,1 .1-2.8 .1,.7 .1-1.4 .1,5.4 .1-6.1 0,.1 .2,15.9 .1-15.9 .1-.3 .1,2.5 .1-1.8 .1,2.1 .1-.5 .1,1.1 .1,6.1 .2-9.3 .2,3 .2-3.3 .1,2.8 0-2.7 .2,1.7 .1-1.2 .1,1.9 .1-1.5 .2-1.1 .1,3.1 .1-3 .1,0 .1,12.6 .1-12.6 .2,6.1 .1-4.4 .1-1.5 .1-.2 .1,7.1 .2-6.3 .1-.5 .1,2.8 0-3.2 .2,1.5 .1-1 .1,1.8 .1-1.9 0,7.7 .1-7.9 .1,4 .1-4.1 .2,6 .1-.3 0,14.9 .1-20.7 .2,.4 .1,3.7 .1-3.8 0-.2 .1,2.7 .1-.6 .1,.8 .1-3 .2,7.1 .1-7.1 .2,5 .1-4.8 .1-.2 0,.3 .1,6.7 .1-6 .1,.2 .2,13.1 .1-10.8 0,.8 .1-2.9 .2,4.4 .2-5.5 0,14.2 .2-14.6 .1,10.6 .1-9.3 .1,0 .1-1.3 0,15 .2-14.9 .1,1.8 .2-1.9 .1,10.3 .1-9.7 .1,7.6 .1-8.2 .1,.1 .1,4.8 .1-4.9 .1,1.3 .1-1.3 .2,4.5 .1-4.5 .1,3 .1,.1 .1-2.7 .1,5.3 .1-5.6 .1,.4 .1-.5 .1,0 .2,4.9 0-4.3 .2,3.8 .1-3.9 .1,10.6 .1-11.1 .1,1.7 .1-1.6 .2,1.7 .1-.7 .1,8.7 0-9.7 .1,6.9 .2-7.1 .1,6.2 .1-2.6 .1,.6 0-4.1 .1,0 .1,1.8 .1-1.7 .1,.9 .1-1.1 0,1.2 .1-1.2 .3,.3 .1,.6 .1-.1 .1,6 .2-6.5 .1,5 .1-3.2 .1,3.5 .1-5.5 .1,2.9 .1-3 .1,3.9 .1-2.8 0,.5 .1-.1 .1,.2 .1-.6 .1,1.3 .1-1.8 0,3.7 .1-4.1 .1,10.5 .1-9.6 .1,1.5 .1-1.8 .1-.8 .1,5 .1-4.5 .1,1.1 .1-1.2 .1,25.7 .1-21.8 .2,6.7 .1-10.8 .1-.1 .1-.1 0,1.8 .2-1.7 .1,4.1 .1-3.6 .1,1.4 0-1.7 .3,6.8 .2-7.1 .1,0 0,1.7 .1-1.5 .1,.4 .1-.5 .2,.3 0,2.7 .4-3.1 .2,4.7 .1-4.5 .1,5.4 .1-5.2 .1-.3 .1,1.2 .1,2.3 .1-3.5 .1,0 .1,3.8 .2-3.8 0,.1 .3-.2 .1,3.4 .1-2.7 .1,5.1 .2-5.8 .1,3.4 .1-2 .1,6.7 0-5.9 .1,1.1 .2-1.7 .1,4.6 .1-6.2 .1,9.6 .1-8.6 .1,1.1 .1-.1 .2,3.8 .1-5.5 .1,0 .1,.9 .1,3.6 .1-4.7 0,3.3 .2-3.4 .3,1 .1,2.7 0-2.4 .1,.3 .1-1.4 .1,.9 .1-.9 .2,7.4 .1-6.1 .2-.2 .1,8.6 .1-9.9 .1,5.4 .2-5.2 .2-.1 0,2 .1-2.1 .1,.2 .1,2.5 .2-2.7 .1,3.8 .1-3.8 .1,9.7 .2-9.6 .1,.4 .1-.2 .1,1.1 .2-1.1 .2,.2 0,3.8 .1-3 .1,10.9 .1-8.2 .2-3.8 0,.3 .2,16.4 .3-16.7 .1-.2 0,7.8 .1-7.6 .1,11.1 .1-9.5 .2,3.2 .1-4.8 .1,1.5 .1-1.7 .2,2.5 .1-2.3 0,.3 .1-.2 .2,.5 .2,7 0-5.7 .1,.1 .1,8.8 .2-10.4 .2,9.4 .2-10 .2,4 .1-3.7 0,.9 .1,3.9 .1-4.3 .1,2.8 .1-1.1 .1,.1 .1-2.4 0,1.1 .1-.8 .1,3.3 .1-3.6 .2,4.3 .2-4.2 .1,.9 .1-1 .1,2.2 .1-2.4 0,9.5 .1-5.8 .1-1.5 .1,.6 .1-.1 .1,16.4 0-18.6 .1,1 .1,0 .1-1.4 .1,3.4 .1-3.5 .1,0 0,5.7 .2-5.2 .1,1.6 .2-1.6 0,.3 .1-.7 .1,.5 .2-.6 .2,7.6 .1-6.7 .1,.7 .1-1.6 .2,2.4 0,18.2 .1-20 .1,13.3 .2-13.8 .1,2.7 .1-1.5 .1,2.9 .1-3.4 .1,3.5 .1-2.2 .1,7.3 0-9.2 .2,5.9 .1-4.9 .2,9.4 .1-10.4 .2,2.6 .1-1.2 .1,8.5 .1-8 0-2.1 .1,.1 .1,17.2 .1-17.2 .1,8.9 .1-4.7 0,11.6 .1-14.2 .2-.4 .1-1.3 .2,6.1 .2-6 .1,13.8 .1-13.8 .1,2.4 .1-2.4 .4,4 .1-4 0,9.4 .3-9.5 .1,.5 .1-.1 0,1.9 .1-2.2 .1,8.7 .1-7.9 .1-.8 .1,4.4 .1-4.5 .1,0 .1,2.4 .1-2.4 .1,2.7 .1-2.7 .1,11.8 .1-10.3 .2,12.5 .1-11.2 .1,10.2 0-12.3 .1,8.3 .1-8.9 .1,1 .1-1 .1,1.7 0,5.1 .1-5.2 .1,9.3 .1-10.6 .2,4.2 .1,15 .1-19.6 .1,0 .1,9 .1-8.7 .1,5.4 0-5.6 .1,.2 .2-.3 .1,9.2 .1-8 .1,2.7 0-3.9 .1,.3 .1,8.2 .3-7.9 0,5 .1-5.5 .1,3.5 .1-1.5 .1,3.3 .1-4.5 .1,.6 0,8.1 .2-9.1 .1,.3 .2-.7 .1,.3 .1,5.2 .1-3.7 .2-1.1 .1,11.4 0-9.5 .1-1.5 .1,1 .1-2.1 .1,0 .1,.5 0-.6 .2,.6 .1,2.3 .1-2.9 .1,1.4 .1-.9 0,.2 .1,2.4 .2-3.1 .2,4.7 0-3.6 .2-1.1 .2,8.4 .1-8.3 .1,5.3 .1-5.3 .1,4.5 .1-4 .1,.9 .1-1.1 0,9.4 .1-9.2 .1-.2 .1,4.2 .1-3.2 .1,6.6 .1-7.4 0-.3 .1,.5 .1-.4 .1,1.8 .1-2.1 .1,1.2 0-1.2 .2,.6 .1,2 .1-2.4 .2,.7 0-.7 .1,18.9 .2-19.2 .1,10.6 .1-4.5 0,3.1 .3-8.2 .1,0 .1,2.2 .1-2.4 .1,8.9 .2-9.7 .2,.5 0-.3 .1,4.2 .2-4.3 .2,7.3 .1-7.1 0,11.3 .3-11.1 .1,11.5 .1-12 0,2.6 .1-2.5 .1,.8 .1-.9 .1,4.7 .1-2.3 .1,4.9 .1-7.2 .2,19.2 .1-18.6 .1,3.6 .1-4 .2,6.9 .2-7.2 .1,.9 .1-.8 .1,3.9 .1-3.6 .1,4.2 .1,17.3 .1-21.7 .2,2.7 .2-2.9 .1,6 .1-5.4 .1,1.1 .1-1.3 .1,.4 .1-.1 0,1.3 .2-1.9 .1,2.1 .1-.3 .1,0 .1,7.9 0-7.1 .2-2.7 .3,10.6 .1-9 .2-1.4 .1,3.7 .1-3.8 .1-.1 0,3.2 .1,.2 .1-1.2 .2,7.9 .1-10 0,3.8 .3-3.7 .1,5.8 .1-5.9 .1,2.8 .1-2 .1,5.4 .1-6.1 .2,1.3 .1-1.4 .2,.7 .1-.7 .1,1 .1-1 0,4.4 .1-2.8 .2,1.9 .1,5.2 .1-7.9 .2,6.3 .1-5.9 .2,6.7 .1-5.8 0,1.1 .1-3.2 .1,.7 .2-.6 .1,.4 0-.4 .1,0 .1,2.1 .1,0 .1-.9 .1,3.8 .1-5 0,.8 .1-.8 .1,.1 .1,5.4 .2-4.9 .1,1.8 .1-2.4 .1,.5 .1,3.4 .1-3.1 .1,2.6 .1-3.2 .1,.3 .1,4.6 .1-1.6 .1,.3 0-3.7 .1,2 .1-2 .1,2.2 .1-2 .2,4.3 .2-4.4 .1,7.4 .2-7.1 .1,.7 .1-.6 .3,.6 .1,3.7 0-4.2 .2,4.2 .1-3.3 .1,2.7 .1-4 .1,5.2 .1-5.2 .1,0 .3,7.5 0-4.1 .3-3.3 .1,9.3 .1-9.3 .1,2.9 .1-2.9 .1,.2 .1,4 .1,0 .1-3.9 0,9.9 .1-10.1 .2,24.8 .1-24.4 .1,3.3 0-3.7 .2,.2 .1,0 .1,7.3 .1-6.1 .1,3.8 .1-5.1 .1,3.7 .1-3.1 .1,8.1 .1-8.6 .1,1.4 .1,6.3 .1-7 .2-.4 .1,1.4 0-1.7 .1,3.3 .1-3.3 .1,2.6 .1-.6 .1,6.9 .1-8.8 .1,1.8 .2-1.8 .2,2 .2-1.7 .1,3.1 .1-2.9 .1,1.5 0-1.2 .1,5.3 .1-5.9 .2,4.4 .1-4.4 .1,7.8 .2-4.3 .2,7 .1-10.4 .2,9 .3-7.9 .1,1.4 .1-2.1 .1,7.2 .2-7.5 .1,1.3 .1-.9 .1,.7 .1,5.3 .1-5.3 .1,4.3 0-5 .1,4.5 .3-4.4 .1,9.9 .1-10.1 0-.1 .1,4.4 .1-4.4 .1,1.2 .1-.5 .1,2.5 .1-2.9 .1,4.8 .1-1.6 .1,6 .1-7.5 .1,5.7 .2-6.4 .2,8.3 .1-8.7 0-.1 .1,12.6 .1-12.9 .1,1.9 .2-2.1 .1,3.9 0-3.9 .2,.5 .2,4.7 .1-4 0-1.1 .1,.5 .1-.3 .1,14.4 .1-13.3 .1,17.9 .1-19 .3,4.6 .1-3.9 .1,6.5 .1-7 .1,.5 .1-.3 .1,.2 .1-.5 .2,2 .2-1.9 .1-.1 .1,5.5 .1,17.4 .2-20.9 .1,.4 .1-2.2 .1,3.2 0-3 .2,2.7 .1-2.6 .1,9.6 .2-9.8 .1,1.7 .2-1.7 .2,3.6 0-2.3 .1,1.7 .1-2.8 .1,.5 .1,23.8 .1-22.9 0-.5 .1,4.4 .1-2 .1,2.4 .1-5.7 .1,8.3 .1-7.2 0-.6 .1,3.9 .1-4.2 .1,9.4 .1-9.2 .1,6.9 0-6.6 .1-.3 .1,.2 .1,1.8 .1,.2 .1-.6 .1,3.2 0-4.9 .2,9.3 .2-9.1 .1-.1 .1,1.3 .1-1.2 .2,6.8 .2-6.7 .2,14.4 .1-14 .1,2.1 .1-1.9 .2,1 .1,2.3 .1-3.7 .1,1.2 .1-.5 .1,7.5 .2-7.7 .2,9.8 0-10.3 .1,.5 .2-.5 .2,2.8 .1-2.5 0,.2 .1-.4 .1,.2 .3,1.3 .1-1.4 .1,1.3 .1-1.3 .3,1.2 .1,6.4 .1-7.1 .1,5.8 .1-6 .1,2.7 .1-1.2 .2,21 .1-19.2 .1-.7 .1,.1 0-1.8 .1,5.1 .2-5.3 .1,2.5 .3-3.1 .1,.3" stroke="#add8e6" stroke-width="5.556" fill="none" stroke-linecap="square"/><path d="M589.7,20l.9,0 .8-.1 .9,0 .8-.1 .9-.1 .8,0 .9-.1 .8,0 .8-.1 .9,0 .8-.1 .9-.1 .8,0 .9-.1 .8,0 .9-.1 .8,0 .9-.1 .8,0 .9-.1 .8-.1 .8,0 .9-.1 .8,0 .9-.1 .8,0 .9-.1 .8,0 .9-.1 .8,0 .9-.1 .8,0 .9-.1 .8,0 .8-.1 .9,0 .8-.1 .9,0 .8-.1 .9,0 .8-.1 .9,0 .8-.1 .9,0 .8,0 .8-.1 .9,0 .8-.1 .9,0 .8-.1 .9,0 .8,0 .9-.1 .8,0 .9,0 .8-.1 .9,0 .8,0 .8-.1 .9,0 .8,0 .9-.1 .8,0 .9,0 .8-.1 .9,0 .8,0 .9-.1 .8,0 .9,0 .8,0 .8-.1 .9,0 .8,0 .9-.1 .8,0 .9,0 .8-.1 .9,0 .8,0 .9-.1 .8,0 .8,0 .9,0 .8-.1 .9,0 .8,0 .9,0 .8-.1 .9,0 .8,0 .9,0 .8,0 .9-.1 .8,0 .8,0 .9,0 .8,0 .9,0 .8,0 .9-.1 .8,0 .9,0 .8,0 .9,0 .8,0 .9,0 .8,0 .8,0 .9,0 .8,0 .9,0 .8,0 .9,0 .8,0 .9,0 .8,0 .9,0 .8,0 .9,0 .8,0 .8,0 .9,0 .8,0 .9,0 .8,0 .9,0 .8,0 .9,0 .8,0 .9,0 .8,0 .8,0 .9,0 .8,0 .9,0 .8,0 .9,0 .8,0 .9,0 .8,0 .9,0 .8,0 .9,0 .8,0 .8,0 .9,0 .8,0 .9,0 .8,0 .9,0 .8,0 .9,0 .8,0 .9,0 .8,.1 .9,0 .8,0 .8,.1 .9,0 .8,.1 .9,0 .8,.1 .9,.1 .8,.1 .9,.1 .8,0 .9,.1 .8,.1 .9,.2 .8,.1 .8,.1 .9,.1 .8,.1 .9,.2 .8,.1 .9,.1 .8,.2 .9,.1 .8,.1 .9,.2 .8,.1 .8,.2 .9,.1 .8,.2 .9,.1 .8,.2 .9,.1 .8,.2 .9,.1 .8,.2 .9,.2 .3,0 0,23.8-.3,.9-.9-2.8-.8,3-.9-1.8-.8,3.1-.9-4.5-.8,.4-.9,.8-.8-2.4-.9,1.3-.8,3.8-.8,.4-.9-6.4-.8,4.6-.9-.2-.8-4.4-.9,4-.8-4.6-.9,3.1-.8-2.4-.9,.4-.8,.6-.8,0-.9,4.4-.8-.1-.9-5.4-.8,2.6-.9-.5-.8,2.4-.9-.3-.8-4.9-.9,2.8-.8-1.1-.9,1.2-.8,2.3-.8,.4-.9-2.8-.8,.6-.9,1-.8-5.4-.9-.1-.8,5.1-.9-1.9-.8-.7-.9-1.1-.8-.8-.9,1.5-.8,.5-.8-.7-.9,2.5-.8-4.5-.9,.3-.8,.2-.9,5.9-.8-4.7-.9,1.9-.8,2-.9,0-.8-6.4-.9,1.5-.8,.6-.8,1.6-.9,2.6-.8-1.8-.9-2.2-.8,3.9-.9-6.3-.8,5.4-.9-.7-.8-2.4-.9,3-.8,1.6-.8-6.4-.9-.3-.8,6.8-.9-2.3-.8-2.3-.9,4-.8-.2-.9-5.8-.8,2.7-.9,3.6-.8,.6-.9-.3-.8-7-.8,1.5-.9,1.2-.8-.2-.9,4.6-.8-3.5-.9,.6-.8-.2-.9-2.3-.8-.8-.9,2.1-.8,.6-.9-3.7-.8,.3-.8,6.9-.9-3.4-.8,1.1-.9-3.6-.8,2.4-.9,3-.8-3.1-.9-2-.8-1.5-.9,5.2-.8-.7-.9-2-.8-.6-.8,1.6-.9,2.7-.8-6-.9,6.6-.8-6.1-.9,4.5-.8-2.7-.9,5.2-.8-6.3-.9-.4-.8,5.9-.8-1.6-.9-3.3-.8,5.7-.9-5.1-.8,2-.9-2.7-.8,4.9-.9-6.3-.8,.9-.9-1.6-.8,2.9-.9,2.4-.8-1.3-.8-4.1-.9,3.5-.8-2.6-.9,3-.8-1.6-.9,1.7-.8-4.2-.9,1.4-.8-2.2-.9,5.1-.8-.6-.9-1.2-.8-3.2-.8-.3-.9,2.8-.8-2.4-.9,.9-.8-2.5-.9,2.8-.8-3.2-.9,2.3-.8-.6-.9,.3-.8-3.1-.8-.8-.9,.5-.8-.2-.9,2.2-.8-3-.9-.5-.8-.4-.9,1.3-.8,0-.9,.7-.8-3-.9,1.6-.8-.4-.8,.9-.9-1.3-.8-1.9-.9,0-.8,.4-.9-.3-.8,.9-.9-1.6-.8-.6-.9-.7-.8,1.1-.9-.7-.8-.9-.8,.3-.9-.8-.8-.8-.9,0-.8-.5-.9-.3-.8-.6-.9-.4z" fill="#add8e6"/><path d="M75.8,74l40.3-4.9 44.6-6 22.7-3.3 26.5-4.7 11.7-1.6 7.5-.8 12.3-.8 38.3-1.8 5.6-.4 4.3,0 3.4,.5 2.7,.8 1.1,.6 1,.8 .7,.8 .7,.9 1,2.3 .7,2.9 .6,4.7 .3-.4 1.1-3 .7-1.8 .9-1.5 1.1-1.6 1.3-1.5 1.7-1.6 2-1.5 2.2-1.4 2.9-1.7 3.4-1.8 3.6-1.6 3.9-1.5 3.8-1.3 3.8-1.2 3.8-.9 3.5-.6 3.1-.4 2.9-.3 3.2,0 2.8,.1 2.6,.3 2.2,.4 1.9,.6 1.7,.7 1.4,.9 1.1,1 1,1.2 .7,1.3 .6,1.5 .5,1.5 .7,4.9 .2,.5 .6-4.8 .7-3.1 1-2.5 1.4-2.1 1-1.1 1.1-.9 2.6-1.6 3.2-1.1 3.2-.5 3,.1 1.4,.2 1.3,.4 1.1,.6 1.1,.6 .9,.8 .8,1 1.2,2 .9,2.8 .5,3.3 .4,5.1 .4-5.6 .6-3.5 .4-1.5 .6-1.5 .7-1.2 .8-1 1.1-1.1 1.1-.9 1.4-.7 1.4-.4 1.6-.3 1.4,.1 1.4,.3 1.3,.5 1.2,.8 1,1.1 .9,1.5 .5,1.7 .5,2 .3,2.7 .3,7.1 .3-5.4 .3-3.8 .5-2.8 .7-2.1 1.1-2.1 1.5-1.7 1.7-1.1 .9-.4 .9-.1 .9,0 .8,.2 .8,.3 .7,.5 1.2,1.4 .9,1.9 .6,2.3 .5,3.2 .3,9.1 .4-9.6 .4-2.6 .6-2.6 .8-2 1.2-1.8 1.3-1 .8-.3 .8-.2 1.3,.2 1.3,.9 1,1.4 .8,1.9 .5,2.4 .3,3 .3,10.1 .3-9.6 .3-3.4 .5-2.3 .7-2.3 .9-1.6 1.2-1.2 .6-.2 .7-.2 .6,0 .6,.2 1.1,.9 .8,1.5 .7,2.1 .4,2.5 .3,2.9 .2,10.6 .3-10.7 .2-3 .5-2.6 .6-2 .8-1.7 1-1.1 .5-.3 .6-.2 .6,.1 .5,.2 1,1 .7,1.6 .5,2 .4,2.4 .2,3.6 .2,10.4 .2-11.5 .5-4.9 .6-2.2 .7-1.8 .9-1.2 .6-.3 .5-.1 .5,0 .4,.3 .8,1 .6,1.4 .5,2.2 .4,2.8 .1,2.7 .2,11.4 .2-10.7 .2-3.1 .3-3.1 .5-2.4 .6-1.6 .8-1.1 .4-.3 .5-.2 .4,.1 .4,.2 .8,1 .6,1.5 .4,2 .3,3.2 .2,3.4 .2,11 .1-10.5 .2-4.9 .6-4 .4-1.4 .5-1.1 .5-.6 .4-.3 .5-.1 .4,.2 .8,.9 .7,1.8 .4,2.4 .2,2.7 .3,9.9 .2-7.1 .2-4.4 .4-3 .7-2.3 .8-1.2 .4-.2 .4,0 .4,.3 .4,.4 .7,1.7 .4,2.2 .2,2.5 .4,10.3 .1-8.4 .5-4.8 .3-1.8 .5-1.6 .5-.8 .6-.3 .6,.2 .6,.9 .4,1.4 .4,1.8 .3,3.8 .2,9.7 .1-6.5 .3-5.2 .4-3.2 .6-2.1 .7-1 .3-.1 .4,.1 .3,.3 .3,.7 .5,1.7 .4,2.3 .2,3.5 .2,9.1 .3-9.9 .4-4.4 .4-1.9 .6-1.3 .3-.3 .4-.1 .6,.6 .4,1 .3,1.5 .4,4.1 .2,5 .1,9.8 .1-10.5 .2-5.7 .5-3.7 .5-1.4 .4-.7 .2-.2 .4,.1 .5,.6 .4,1.3 .4,1.9 .3,4.3 .2,10 .1-9.2 .2-3.2 .5-3.8 .3-1.2 .4-.6 .2-.3 .3,0 .4,.3 .4,1 .4,1.5 .4,4.5 .3,7.1 .1-7.1 .2-2.5 .3-2.5 .4-1.6 .5-.8 .2-.1 .3,.1 .5,.9 .4,1.8 .3,3.3 .3,11.2 .3-10.6 .3-3.7 .4-2 .4-.9 .3-.2 .2,0 .5,.7 .4,1.7 .4,4.3 .3,8 .1-7.7 .4-4.1 .2-1.4 .4-1.1 .3-.5 .3,0 .1,.1 .4,.6 .2,.9 .4,3.2 .3,6.3 .1,8.4 .2-12.2 .2-3.7 .3-2.2 .5-1.3 .4-.3 .4,.6 .4,1.6 .5,4.7 .1,9.1 .2-7.9 .3-4.3 .5-3 .3-.7 .3-.2 .4,.5 .3,1.2 .4,3.9 .2,4.8 .1,13 .1-13.4 .1-4.5 .5-3.9 .3-1.2 .3-.5 .4,.2 .3,.9 .3,1.4 .2,2.7 .2,4.4 .1,10.5 .1-9.7 .1-4.9 .5-4 .2-1 .4-.6 .3,.2 .3,.9 .5,3.1 .1,3.1 .2,9.5 .1-7.7 .1-4.2 .4-3.2 .2-1.1 .3-.6 .2-.1 .1,.1 .3,.5 .5,3 .2,5.3 .1,7.5 .3-11.1 .3-3.6 .4-1.5 .2-.2 .2,0 .2,.3 .5,2.1 .2,3.3 .2,7.5 .3-9.2 .3-2.4 .3-1.4 .3-.3 .2,.1 .3,.7 .2,1.4 .3,3.2 .2,6.9 .2-6.9 .3-3.2 .2-1.5 .3-.7 .1-.1 .2,0 .3,.7 .3,2.1 .2,2.3 .2,7.7 .1-5.2 .3-4.7 .4-2.6 .2-.4 .3,.1 .3,1.2 .3,2.2 .3,10.4 .1-6.1 .3-5 .3-2.2 .3-.6 .2,0 .4,1.5 .3,2.8 .2,4.9 0,9.6 .2-13.2 .3-3.6 .4-2 .2-.2 .3,.5 .3,2.2 .3,4.9 .1,6.4 .1-7.6 .3-4.1 .2-1.7 .3-.6 .2-.1 0,.2 .3,.8 .3,2.4 0,2.5 .2,11 .2-12.2 .1,.6 0-2.6 .4-2.5 .2-.2 .2,0 .3,1.8 .1,1.7 .1-.5 .2,11.5 .2-8.4 0-2.4 .1,1.2 .1-3.5 .2-.9 .1,.4 .1-1 .1,.3 .1-.3 .2,.3 .1-.2 0,.3 .2,2 .1-.6 .1,6.8 .1-5.9 .1,13.9 .2-13.9 .1-.6 .1,1.2 .1-2.2 0,.7 .1-1.8 .2,.3 .1-.4 .1,0 .1,.2 .2,2.8 .2,11.9 .1-13.5 0,5 .3-4.7 .1,9.1 .1-9.3 0,3.7 .2-4.7 .1,.1 .1-.6 .2-.1 0,1.6 .1-1.5 .2,6.3 .2-5 0,10.6 .1-7 .1,1.1 .2-5 .1,.2 .1-.9 0,3.6 .1-3.9 .2,.6 .1-.6 .1,1.5 .1-.2 .1,1.4 .1-2.9 .1,0 .1,21.2 .1-18.1 .1-1 .1,.5 .1,12.9 .1-14.7 .1-.5 0,3 .1-3.3 .2,.5 .1-.4 .1,.1 .1-.2 0,.2 .1,3.1 .1-2.9 .1,2.7 .1-1.4 .1,2.9 0-1.3 .2,7.6 .1-8.2 .1-2.1 .1,5.5 .1-6.2 .1,11.5 .2-11.5 .1,.8 .1-.8 .1,1.6 .2-1.6 .2,7.4 .1-5.1 0,2.6 .1-3.9 .1,1.3 .2-2.2 .1,2.2 0-2.3 .1,2.1 .3-2.1 .1-.1 .1,1.2 0-.7 .1,.5 .1,4.5 .1-5.5 .1,7.3 .1-6.1 0-.5 .1,5.5 .2-6.2 .2,20.8 .2-20.9 .1,1.4 .1-1.1 .2,9.1 .1-9.4 .1,6.3 .1-4.8 .1,6.3 .2-7.6 0,1 .1-1 .1-.2 .1,.7 .1-.7 .1,0 0,3 .2-2.7 .1,2.7 .1,0 .1-3.1 .1,.2 0-.1 .4,2.4 .1-1.9 0,1 .1-1.1 .1,.7 .1-.7 .2,2.8 .1,0 0-3 .1,8.2 .1-8.5 .2,8.1 .1-8.1 0,3.4 .2-3.4 .1,16.3 .2-16.4 .1,.3 0-.2 .1,1.2 .1,3.6 .2-3.9 .1-.3 0,1.1 .2-1.6 .1,9.6 .1-6.5 .2-3 0-.2 .1,5.8 .2-5.7 .1,0 .1,.9 0-1.2 .1,.2 .1,2.3 .1-2.4 .1,4.8 .2-4.9 .1,0 .1,.5 .1,2.4 .1-2.3 .1,2.3 0-1.9 .1,5.4 .1-6.4 .1,3.4 .2-3.2 .1,4.1 .1,7.7 .1-11.3 .1,5.1 .1-4.9 .1,1.2 0-1.9 .1,2.9 .1-3.2 .1,8.8 .2-8 .1,6.6 0-7.4 .1,0 .2,.2 .1,1.6 .1-1.8 0,.4 .1-.3 .1,18.6 .1-18.5 .1-.3 .1,.1 .1,6.2 .1-5.6 .1,.8 .2-1.5 .1,2.6 0-2.4 .2,3 .1,0 .1-3 .1-.1 .1,2.6 .1-2.5 .1,4.6 .1-4.8 .1,4.8 .1-3.5 .1,.5 .1-.5 .2,6.6 .2-7.3 0,18.2 .1-18.9 .1,3.3 .1-1.5 .2,20.7 0-22.2 .2,1.6 .1-.3 .1,.8 .1-1.7 .1-.7 0,.2 .1,2.3 .1-2.6 .1,1.3 .1-1.3 .1,7.6 0-6.3 .1,8 .1-9.3 .1,2 .1-.8 .1,1.7 .1-2.4 0,3.2 .1-3.4 .1,.1 .2-.5 .1,6.3 0-6.1 .2,8.9 .1-7.5 .2,10.9 .1-12.3 .2,2 .2-2.2 .1,1.8 .1-1.9 .1,2.1 .1-2.1 .1,3.8 .2-3.8 .1,.6 .1,3.2 .1-3.8 .1,3.5 .1-3.5 0,1.7 .1-1.4 .1,1 .1-.4 .2,10.7 .1-9 0,7.8 .1-10.2 .1,4.2 .1-4.5 .1,5.2 .1-4.7 0,11.2 .1-10 .1,.8 .1-2.2 .1,2.3 .1-2.5 .1,3.3 .2-3.4 .3,.1 .1-.2 .3,9 .1-7 .1,7.2 0-9.2 .1,8.2 .1-5.5 .2-2.7 .1,7.1 0-1.7 .1,.6 .1,3.2 .1-8.9 .1,7.1 .1-7 .1,1.3 .1-1.5 .1,1.3 .1-1.1 .1,.2 .1,9.1 0-8.8 .1,.4 .1-.6 .2,1.2 .1,9.3 .2-9.6 .1,8.2 .1-10 .1,0 .1,.7 0-.4 .1,2.8 .1-.5 .1,.9 .1-3.5 .1,5.3 0-3.6 .1,.7 .1-2.4 .1,7 .2-7 .1,4.4 .1-3 .1,9.4 .1-9.3 .1,2.6 .1-.1 0-3.9 .1,2.5 .1-2.7 .1,0 .2,5.4 .1-5.4 .1,1.7 .1-1.2 .1,4.8 .2-5.2 .1,8.7 .1-7.6 .2-.6 .1,1.2 .1-1.8 0,3.5 .1-1.4 .2,.3 .1-2 .1,2.7 .1-2.2 .2,.4 .1-1.4 .1,1.4 .1-1.1 0,13 .2-13.4 .1,0 .1,1.4 .1,11.9 0-13.3 .1,.7 .2,.1 .1-.5 .2,3.7 .1-3.8 .1,3.5 .1-1.2 .2,1.7 0-4.2 .1,1.4 .1-.1 .1,3.2 .1-1.1 .1,.9 .1-3.9 .1,12.2 .1-11.8 .1-.9 .2,1.3 .1-.9 .1,3.3 .1-3.7 .2,2 .1-2.1 .1,1.7 .1,20.7 .1-19.1 .1,1.4 .1-3.9 .1,5.1 .1-5 .1-.4 .1,4.2 .1-2.5 .1,9.1 0-9.9 .1-.5 .2,.5 .1,15 .1-16.5 .1,0 .1,2.3 .3-2.3 .1,4.1 0-3.8 .1-.2 .1,.1 .1,4.6 .1-4.9 .1,.2 .2,4.8 .1-5 .1,.7 .1-.4 .1,2.3 0-1.7 .1-.1 .1,3.3 .1-1.3 .1,3 .1-1.8 0,15.6 .1-8 .1,1.5 .1-13.2 .1,7.6 .1-4.7 .1-.4 0,1.2 .1-3.5 .1-.1 .1,5.7 .2-5.3 0-.3 .1,.2 .1,2.4 .2-2.9 .1,7.3 .1-6.8 0,3.4 .1,0 .1,19.6 .1-23.4 .1,1.7 .1-1.8 .1,.3 .1,4.2 .2-4.5 .1,0 .1,19.5 0-19.1 .1,6.5 .1-6.3 .2,1.4 .1-1.6 0,6.7 .3-7.1 .1,6.1 .1-4.7 .1,.1 0-1.3 .2-.3 .2,8.8 .1-7.8 0,3.7 .1-4.1 .1,10.9 .1-11 .2-.5 .1,.2 .1,2.4 .1-2.7 .1,.8 .1,7 .1-5.6 0-.1 .1,6 .1-6.5 .2-1.6 .1,11.8 .1-11.6 0-.3 .1,1.6 .1-.9 .1,0 .1,3.9 .1-4.5 .2,3.6 .2-2.8 .2,10.9 0-10.9 .3,4.9 .2-5.8 .1,3.5 .2-2.7 .1,1.7 .1-.4 .1-2.1 0,5.4 .1-4.7 .1,1.8 .1-2.6 .1,.2 .1-.2 .2,.8 .1-.7 .1,.1 .1,1.5 .1-1.5 .1,13.1 .1-12.5 .2,3.8 .1-4.6 .2,4.6 .2-4.6 .1,.6 .1-.3 .3,3 .1-3.3 .1,1.1 .1,8.5 .2-8.7 .2-1.1 .2,0 .2,6.1 .2-5.9 0,12.3 .2-11.7 .1,4.4 .1-3.9 .1,3.9 .1-.7 0,.8 .1-3.3 .1,16.8 .1-18 .2,.1 0,3.3 .2-.4 .1-3.7 .1,2.1 .1-.4 .1,0 0-1.1 .2,3 .1,6.2 .2-10.1 0,1.8 .1-1.7 .2,1.2 .1,6.2 .3-7.1 .2,5.2 .1-5.5 .1-.2 .2,4.3 .1-4.3 .2,1 .1,1.7 0-2.7 .2,1 .1-1 .2,.8 0-.2 .1,5.2 .1-5.8 .2,.2 .1,2.6 .1-2.5 0,9.8 .1-9.7 .1,9.1 .1-4.1 .2,9.9 0-15.2 .1,3.8 .1-2.6 .2,1.3 .1-2.6 .1,1.8 0-1.7 .2,9.7 .2-9.1 .1,15.5 .1-16.1 .2,2.6 .1-1.4 .2,2.5 .1-2 .1,5.5 .2-7.4 .1,2.6 .3-2.7 .2,1.1 .1-.5 .1,6 .1-5.8 .1,1.8 .1-2.4 .1,9.9 .1-10.2 .1,1.8 .1-1.8 .1,.1 .1,3.2 .1-1.9 0,3.8 .1-5.2 .2,2.9 .1-2.7 .1-.2 0,.6 .1,14.4 .1-9.9 .1,6.1 .1-11.3 .2,2.7 .2-1.3 .2,.7 .1,23.6 0-23.6 .1,0 .2-2 .2,2.8 .1-2.9 .1,9.5 .1-8 .2,2.3 .1-3.6 0-.1 .1,1.2 .1-.1 .1,11.1 .1-12.3 .1,.3 .1,13.6 .2-14 .1,.6 .1-.5 .1,9.8 .2-10 .2,4.8 .1-3.5 .1-.6 .1,7.4 .4-7.3 .1,5.6 .2-6.4 .1,3 .1-2.8 0,1.8 .1-2 .1-.1 .2,.5 .2,9.5 0-9.1 .1-.3 .1,.2 .1,1.8 .2-2.3 0,6.5 .1-6.8 .1,0 .1,1.2 .1-1.1 .1,.2 .1,15.6 .1-15.8 .1,13.4 .1-13 .1,11.7 .1-11.8 0-.5 .1,6.6 .1-6.2 .1,.2 .1-.6 .2,10.1 .2-9.9 .1,.1 .1,6 .1-6.3 .1,2.8 .2-2.5 .1,4.9 .2-5.2 .1,.3 .1,25.3 .2-25.7 .1,4.6 .2-3.3 .1,.5 .1,5.2 .1-3.8 .1,1.4 .1-4.2 .2-.4 .1,3.8 .2-3.9 .1,5 .2-3.9 .1,.9 .1-1.9 .1,13.9 .1-10.1 .2-3.3 .1,.4 0-.9 .2,2.8 .1,8.7 .1-6 .1,4 .1-9.4 .1,2.2 .1-2.4 .2,.2 .1,4.3 0-4.4 .1,1.3 .1-1.4 .2,5.9 .2-5.5 0,6.2 .1-3.5 .3-3 .1,9.5 .2-8.9 .1,1.2 .1-.3 .1,0 .1,2.5 0-2.7 .2-1.4 .2,1.1 .1-1.3 0,5.9 .2-5.2 .1,.2 .1-.6 .1,2.9 .1-1.6 .2-1.5 .1,3.5 .1-3.6 .1,.2 0,9.9 .1-8 .1,.2 .1-1.7 .3,2.6 .1-3.2 .2,10.9 .2-11 0,6 .2-5.9 .4,7.2 0-3 .1,.1 .2,5.8 .2-10.2 0,2.3 .2-2.2 .2-.1 .1,.6 .1-.6 .2,1.5 .1,5.5 .2-7.1 .1,2.5 .1-2 .1,1.8 .1-2 .1,15.8 .1-13.4 .1-1.8 .1,2.8 .3-3.7 .1,5.6 .1-5 .1,10.2 .2-10.4 .1-.4 0,4.4 .2-4.4 .1,.8 .1,8.6 .1-9.4 0,1.3 .1-1.2 .1,5.8 .2-5.7 .1,.5 .1-.8 0,9 .1-8.8 .1-.2 .2,1.9 .1,5.1 0-7 .1,1.2 .1-.6 .1,.5 .1-1.1 .2,5.4 0,15.7 .1-20.9 .3,.9 .1,2.8 .1-2.2 .1,1.5 .1-1 .1,.5 .1-2.1 .1,2.5 0-3.1 .1,.2 .1,11.6 .1-11.8 .2,14.5 0-14.6 .2,2.6 .1,12.7 .1-15.3 .1,.1 .1,3.7 0-3.6 .2,11.3 .1-10.2 .1,2.2 .1-3.5 .2,4.1 .3-4.1 .1,4.8 0-3.6 .1,8 .1-9 .3,11.8 0-10.5 .1,8.3 .1-9.9 .2,.3 .2-.2 0,.1 .2-.1 .1,9.5 .1-8 .1,2.4 .1-3.9 .1,.2 .2-.1 .1,2 .1-2.2 0,1.9 .1-1.8 .1,1.6 .2-1 .1,5.9 .1-6.5 .3,11.2 .1-10.9 .1,.1 .1,13.1 .2-13.3 .1,5 .1-5.4 0,12.9 .3-12.7 .2-.2 .1,.2 .2,4.1 .1-3.1 .2-1.2 0,12 .1-10.5 .1,4.1 .1-5.5 .1,.3 .1,10.2 .1-10.5 .1-.1 .1,3.5 .2-3.5 .1,25.7 0-21.6 .2-3.9 .2,7.8 .1-7.4 .1,12.4 0-13.1 .1,5.2 .2-5.1 .1,4.7 .1-4.3 .1,5.6 .2-6.1 .2,3.1 .1,.1 0-2.9 .2,.8 .1,7.3 .1-7.8 .1,2.6 0-3.2 .1,1.3 .2-1.3 .1,1.5 .1-1.5 .1,.5 .1-.3 .2,12.7 .2-12.5 0-.1 .1,9.8 .1-10.2 .1,.5 .1-.4 .2,2.4 0-2.4 .1,.2 .1,10.5 .1-9.9 .1,.3 .1-.6 0,.5 .1,4 .2-3.9 .1,.3 .1-1.4 .1,.2 .1,23.6 .2-23.9 .1,1.4 .1-1.4 .1,.7 .1-.7 .1,.1 .1-.2 .2,3.1 0-2.8 .2,1.2 .2-1.4 .1,.2 .1,3.4 .1-1.4 .1,5.2 .1-6.6 .1,.8 .1-1.2 .1,1.7 .1-2.2 .2,3.6 .1-2.8 .2,1.5 .1,0 .2-2.3 .1,6.3 .1-6.2 .1,5.7 .3-5.8 0-.1 .2,4 .1-3.9 .1,3.2 .1-3.3 .1,9.5 .1-5.9 .1-1.8 .1,.1 .1,2.6 .1-4.5 .1,12.4 .1-12 .1,.1 .1,2.1 .1-1.6 0,1.9 .1,14.5 .1-15.8 .1-.8 .1,2.4 .1-3.2 .1,1.5 .1-1.5 .1,1.7 .1-1.8 .1,3 .1-2.8 0,2.5 .1-2.3 .1,1.9 .1-2 .2,9.1 .1-5.9 0,1 .1-2.8 .1,.7 .1-1.4 .1,5.4 .1-6.1 0,.1 .2,15.9 .1-15.9 .1-.3 .1,2.5 .1-1.8 .1,2.1 .1-.5 .1,1.1 .1,6.1 .2-9.3 .2,3 .2-3.3 .1,2.8 0-2.7 .2,1.7 .1-1.2 .1,1.9 .1-1.5 .2-1.1 .1,3.1 .1-3 .1,0 .1,12.6 .1-12.6 .2,6.1 .1-4.4 .1-1.5 .1-.2 .1,7.1 .2-6.3 .1-.5 .1,2.8 0-3.2 .2,1.5 .1-1 .1,1.8 .1-1.9 0,7.7 .1-7.9 .1,4 .1-4.1 .2,6 .1-.3 0,15 .1-20.8 .2,.4 .1,3.7 .1-3.8 0-.2 .1,2.7 .1-.6 .1,.8 .1-3 .2,7.1 .1-7.1 .2,5 .1-4.8 .1-.2 0,.3 .1,6.7 .1-6 .1,.2 .2,13.1 .1-10.8 0,.8 .1-2.9 .2,4.4 .2-5.5 0,14.2 .2-14.6 .1,10.6 .1-9.3 .1,0 .1-1.3 0,15 .2-14.9 .1,1.8 .2-1.9 .1,10.3 .1-9.7 .1,7.6 .1-8.2 .1,.1 .1,4.8 .1-4.9 .1,1.3 .1-1.3 .2,4.5 .1-4.5 .1,3 .1,.1 .1-2.7 .1,5.3 .1-5.6 .1,.4 .1-.5 .1,0 .2,4.9 0-4.3 .2,3.8 .1-3.9 .1,10.6 .1-11.1 .1,1.7 .1-1.6 .2,1.7 .1-.7 .1,8.7 0-9.7 .1,6.9 .2-7.1 .1,6.2 .1-2.6 .1,.6 0-4.1 .1,0 .1,1.8 .1-1.7 .1,.9 .1-1.1 0,1.2 .1-1.2 .3,.3 .1,.6 .1-.1 .1,6 .2-6.5 .1,5 .1-3.2 .1,3.5 .1-5.5 .1,2.9 .1-3 .1,3.9 .1-2.8 0,.5 .1-.1 .1,.2 .1-.6 .1,1.3 .1-1.8 0,3.7 .1-4.1 .1,10.5 .1-9.6 .1,1.5 .1-1.8 .1-.8 .1,5 .1-4.5 .1,1.1 .1-1.2 .1,26.8 .1-22.9 .2,6.7 .1-10.8 .1-.1 .1-.1 0,1.8 .2-1.7 .1,4.1 .1-3.6 .1,1.4 0-1.7 .3,6.8 .2-7.1 .1,0 0,1.7 .1-1.5 .1,.4 .1-.5 .2,.3 0,2.7 .4-3.1 .2,4.7 .1-4.5 .1,5.4 .1-5.2 .1-.3 .1,1.2 .1,2.3 .1-3.5 .1,0 .1,3.8 .2-3.8 0,.1 .3-.2 .1,3.4 .1-2.7 .1,5.1 .2-5.8 .1,3.4 .1-2 .1,6.7 0-5.9 .1,1.1 .2-1.7 .1,4.6 .1-6.2 .1,9.6 .1-8.6 .1,1.1 .1-.1 .2,3.8 .1-5.5 .1,0 .1,.9 .1,3.6 .1-4.7 0,3.3 .2-3.4 .3,1 .1,2.7 0-2.4 .1,.3 .1-1.4 .1,.9 .1-.9 .2,7.4 .1-6.1 .2-.2 .1,8.6 .1-9.9 .1,5.4 .2-5.2 .2-.1 0,2 .1-2.1 .1,.2 .1,2.5 .2-2.7 .1,3.8 .1-3.8 .1,9.7 .2-9.6 .1,.4 .1-.2 .1,1.1 .2-1.1 .2,.2 0,3.8 .1-3 .1,10.9 .1-8.2 .2-3.8 0,.3 .2,16.4 .3-16.7 .1-.2 0,7.8 .1-7.6 .1,11.1 .1-9.5 .2,3.2 .1-4.8 .1,1.5 .1-1.7 .2,2.5 .1-2.3 0,.3 .1-.2 .2,.5 .2,7 0-5.7 .1,.1 .1,8.8 .2-10.4 .2,9.4 .2-10 .2,4 .1-3.7 0,.9 .1,3.9 .1-4.3 .1,2.8 .1-1.1 .1,.1 .1-2.4 0,1.1 .1-.8 .1,3.3 .1-3.6 .2,4.3 .2-4.2 .1,.9 .1-1 .1,2.2 .1-2.4 0,9.5 .1-5.8 .1-1.5 .1,.6 .1-.1 .1,16.5 0-18.7 .1,1 .1,0 .1-1.4 .1,3.4 .1-3.5 .1,0 0,5.7 .2-5.2 .1,1.6 .2-1.6 0,.3 .1-.7 .1,.5 .2-.6 .2,7.6 .1-6.7 .1,.7 .1-1.6 .2,2.4 0,18.2 .1-20 .1,13.3 .2-13.8 .1,2.7 .1-1.5 .1,2.9 .1-3.4 .1,3.5 .1-2.2 .1,7.3 0-9.2 .2,5.9 .1-4.9 .2,9.4 .1-10.4 .2,2.6 .1-1.2 .1,8.5 .1-8 0-2.1 .1,.1 .1,17.3 .1-17.3 .1,8.9 .1-4.7 0,11.6 .1-14.2 .2-.4 .1-1.3 .2,6.1 .2-6 .1,13.8 .1-13.8 .1,2.4 .1-2.4 .4,4 .1-4 0,9.4 .3-9.5 .1,.5 .1-.1 0,1.9 .1-2.2 .1,8.7 .1-7.9 .1-.8 .1,4.4 .1-4.5 .1,0 .1,2.4 .1-2.4 .1,2.7 .1-2.7 .1,11.8 .1-10.3 .2,12.5 .1-11.2 .1,10.2 0-12.3 .1,8.3 .1-8.9 .1,1 .1-1 .1,1.7 0,5.1 .1-5.2 .1,9.3 .1-10.6 .2,4.2 .1,15.2 .1-19.8 .1,0 .1,9 .1-8.7 .1,5.4 0-5.6 .1,.2 .2-.3 .1,9.2 .1-8 .1,2.7 0-3.9 .1,.3 .1,8.2 .3-7.9 0,5 .1-5.5 .1,3.5 .1-1.5 .1,3.3 .1-4.5 .1,.6 0,8.1 .2-9.1 .1,.3 .2-.7 .1,.3 .1,5.2 .1-3.7 .2-1.1 .1,11.4 0-9.5 .1-1.5 .1,1 .1-2.1 .1,0 .1,.5 0-.6 .2,.6 .1,2.3 .1-2.9 .1,1.4 .1-.9 0,.2 .1,2.4 .2-3.1 .2,4.7 0-3.6 .2-1.1 .2,8.4 .1-8.3 .1,5.3 .1-5.3 .1,4.5 .1-3.9 .1,.8 .1-1.1 0,9.4 .1-9.2 .1-.2 .1,4.2 .1-3.2 .1,6.6 .1-7.4 0-.3 .1,.5 .1-.4 .1,1.8 .1-2.1 .1,1.2 0-1.2 .2,.6 .1,2 .1-2.4 .2,.7 0-.7 .1,18.9 .2-19.2 .1,10.6 .1-4.5 0,3.1 .3-8.2 .1,0 .1,2.2 .1-2.4 .1,8.9 .2-9.7 .2,.5 0-.3 .1,4.2 .2-4.3 .2,7.3 .1-7.1 0,11.3 .3-11.1 .1,11.5 .1-12 0,2.6 .1-2.5 .1,.8 .1-.9 .1,4.7 .1-2.3 .1,4.9 .1-7.2 .2,19.2 .1-18.6 .1,3.6 .1-4 .2,6.9 .2-7.2 .1,.9 .1-.8 .1,3.9 .1-3.6 .1,4.2 .1,18 .1-22.4 .2,2.7 .2-2.9 .1,6 .1-5.4 .1,1.1 .1-1.3 .1,.4 .1-.1 0,1.3 .2-1.9 .1,2.1 .1-.3 .1,0 .1,7.9 0-7.1 .2-2.7 .3,10.6 .1-9 .2-1.4 .1,3.7 .1-3.8 .1-.1 0,3.2 .1,.2 .1-1.2 .2,7.9 .1-10 0,3.8 .3-3.7 .1,5.8 .1-5.9 .1,2.8 .1-2 .1,5.4 .1-6.1 .2,1.3 .1-1.4 .2,.7 .1-.7 .1,1 .1-1 0,4.4 .1-2.8 .2,1.9 .1,5.2 .1-7.9 .2,6.3 .1-5.9 .2,6.7 .1-5.8 0,1.1 .1-3.2 .1,.7 .2-.6 .1,.4 0-.4 .1,0 .1,2.1 .1,0 .1-.9 .1,3.8 .1-5 0,.8 .1-.8 .1,.1 .1,5.4 .2-4.9 .1,1.8 .1-2.4 .1,.5 .1,3.4 .1-3.1 .1,2.6 .1-3.2 .1,.3 .1,4.6 .1-1.6 .1,.3 0-3.7 .1,2 .1-2 .1,2.2 .1-2 .2,4.3 .2-4.4 .1,7.4 .2-7.1 .1,.7 .1-.6 .3,.6 .1,3.7 0-4.2 .2,4.2 .1-3.3 .1,2.7 .1-4 .1,5.2 .1-5.2 .1,0 .3,7.5 0-4.1 .3-3.3 .1,9.3 .1-9.3 .1,2.9 .1-2.9 .1,.2 .1,4 .1,0 .1-3.9 0,9.9 .1-10.1 .2,31.1 .1-30.7 .1,3.3 0-3.7 .2,.2 .1,0 .1,7.3 .1-6.1 .1,3.8 .1-5.1 .1,3.7 .1-3.1 .1,8.1 .1-8.6 .1,1.4 .1,6.3 .1-7 .2-.4 .1,1.4 0-1.7 .1,3.3 .1-3.3 .1,2.6 .1-.6 .1,6.9 .1-8.8 .1,1.8 .2-1.8 .2,2 .2-1.7 .1,3.1 .1-2.9 .1,1.5 0-1.2 .1,5.3 .1-5.9 .2,4.4 .1-4.4 .1,7.8 .2-4.3 .2,7 .1-10.4 .2,9 .3-7.9 .1,1.4 .1-2.1 .1,7.2 .2-7.5 .1,1.3 .1-.9 .1,.7 .1,5.3 .1-5.3 .1,4.3 0-5 .1,4.5 .3-4.4 .1,9.9 .1-10.1 0-.1 .1,4.4 .1-4.4 .1,1.2 .1-.5 .1,2.5 .1-2.9 .1,4.8 .1-1.6 .1,6 .1-7.5 .1,5.7 .2-6.4 .2,8.3 .1-8.7 0-.1 .1,12.6 .1-12.9 .1,1.9 .2-2.1 .1,3.9 0-3.9 .2,.5 .2,4.7 .1-4 0-1.1 .1,.5 .1-.3 .1,14.4 .1-13.3 .1,18.2 .1-19.3 .3,4.6 .1-3.9 .1,6.5 .1-7 .1,.5 .1-.3 .1,.2 .1-.5 .2,2 .2-1.9 .1-.1 .1,5.5 .1,18.4 .2-21.9 .1,.4 .1-2.2 .1,3.2 0-3 .2,2.7 .1-2.6 .1,9.6 .2-9.8 .1,1.7 .2-1.7 .2,3.6 0-2.3 .1,1.7 .1-2.8 .1,.5 .1,24.1 .1-23.2 0-.5 .1,4.4 .1-2 .1,2.4 .1-5.7 .1,8.3 .1-7.2 0-.6 .1,3.9 .1-4.2 .1,9.4 .1-9.2 .1,6.9 0-6.6 .1-.3 .1,.2 .1,1.8 .1,.2 .1-.6 .1,3.2 0-4.9 .2,9.3 .2-9.1 .1-.1 .1,1.3 .1-1.2 .2,6.8 .2-6.7 .2,14.4 .1-14 .1,2.1 .1-1.9 .2,1 .1,2.3 .1-3.7 .1,1.2 .1-.5 .1,7.5 .2-7.7 .2,9.8 0-10.3 .1,.5 .2-.5 .2,2.8 .1-2.5 0,.2 .1-.4 .1,.2 .3,1.3 .1-1.4 .1,1.3 .1-1.3 .3,1.2 .1,6.5 .1-7.2 .1,5.8 .1-6 .1,2.7 .1-1.2 .1,2 .1,27.9 .1-28.1 .1-.7 .1,.1 0-1.8 .1,5.1 .2-5.3 .1,2.5 .3-3.1 .1,.3" stroke="#ff0000" stroke-dasharray="2.083 3.438" stroke-width="2.083" fill="none"/><path d="M589.7,21.8l.9-.1 .8,0 .9-.1 .8,0 .9-.1 .8,0 .9-.1 .8,0 .8-.1 .9-.1 .8,0 .9-.1 .8,0 .9-.1 .8,0 .9-.1 .8-.1 .9,0 .8-.1 .9,0 .8-.1 .8,0 .9-.1 .8,0 .9-.1 .8,0 .9-.1 .8-.1 .9,0 .8-.1 .9,0 .8-.1 .9,0 .8-.1 .8,0 .9-.1 .8,0 .9-.1 .8,0 .9,0 .8-.1 .9,0 .8-.1 .9,0 .8-.1 .8,0 .9-.1 .8,0 .9,0 .8-.1 .9,0 .8,0 .9-.1 .8,0 .9-.1 .8,0 .9,0 .8-.1 .8,0 .9,0 .8,0 .9-.1 .8,0 .9,0 .8-.1 .9,0 .8,0 .9-.1 .8,0 .9,0 .8-.1 .8,0 .9,0 .8-.1 .9,0 .8,0 .9-.1 .8,0 .9,0 .8,0 .9-.1 .8,0 .8,0 .9-.1 .8,0 .9,0 .8,0 .9-.1 .8,0 .9,0 .8,0 .9,0 .8-.1 .9,0 .8,0 .8,0 .9,0 .8,0 .9-.1 .8,0 .9,0 .8,0 .9,0 .8,0 .9,0 .8,0 .9,0 .8,0 .8,0 .9,0 .8,0 .9,0 .8,0 .9,0 .8,0 .9,0 .8,0 .9,0 .8,0 .9,0 .8,0 .8,0 .9,0 .8,0 .9,0 .8,0 .9,0 .8,0 .9,0 .8,0 .9,0 .8,0 .8,0 .9,0 .8,0 .9,0 .8,0 .9,0 .8,0 .9,0 .8,0 .9,0 .8,0 .9,0 .8,0 .8,0 .9,0 .8,0 .9,0 .8,0 .9,0 .8,0 .9,0 .8,0 .9,0 .8,0 .9,.1 .8,0 .8,0 .9,.1 .8,.1 .9,0 .8,.1 .9,.1 .8,0 .9,.1 .8,.1 .9,.1 .8,.1 .9,.1 .8,.1 .8,.2 .9,.1 .8,.1 .9,.1 .8,.2 .9,.1 .8,.1 .9,.2 .8,.1 .9,.2 .8,.1 .8,.2 .9,.1 .8,.2 .9,.1 .8,.2 .9,.1 .8,.2 .9,.1 .8,.2 .9,.1 .3,.1 0,11.8-.3,.8-.9,3.5-.8-4.2-.9-.3-.8,3.4-.9-2.6-.8-.1-.9-1.3-.8,3.4-.9-2.8-.8-1.4-.8,3.5-.9-3.2-.8,1.5-.9,.5-.8-1.2-.9-2.1-.8,2.3-.9-1.5-.8,2.5-.9-3.6-.8-.3-.8,.7-.9,2.5-.8-2.5-.9-.9-.8,2.5-.9,.5-.8-3.2-.9,1.3-.8,.8-.9-.4-.8-1.2-.9,.5-.8-1.2-.8-.7-.9,3.9-.8-1.4-.9-2.6-.8-.5-.9,4.2-.8-2.5-.9,.9-.8-1-.9,1.8-.8-2.9-.9,0-.8,1.5-.8-1.7-.9,1.7-.8-.5-.9,2.2-.8-1.7-.9,1.9-.8-2.6-.9,.1-.8-1.4-.9,4.1-.8-3.6-.9,2.9-.8-2.2-.8,2.2-.9-2.2-.8,1.5-.9,1.3-.8-1.6-.9-1.5-.8,2.4-.9-2.7-.8-.4-.9,1-.8,2.3-.8-.9-.9-1.1-.8,.8-.9,.4-.8-1.8-.9,2.7-.8-2.1-.9-.1-.8,.3-.9,.9-.8-.6-.9-1.1-.8,.7-.8,.2-.9,2.2-.8-1.1-.9-2.3-.8,3.6-.9-.2-.8-.6-.9-3.1-.8,1.9-.9-1.3-.8,.4-.9-1-.8,1.2-.8,2.9-.9-.5-.8-3-.9,3.6-.8-2.6-.9,2.5-.8-2.7-.9,.3-.8,.3-.9-.3-.8-1.4-.9,1.1-.8-.6-.8,3.1-.9-.6-.8-2.9-.9,3.1-.8-2.5-.9,1.5-.8-1-.9,2.7-.8-1.4-.9-.8-.8,2.1-.8-2.9-.9,3.6-.8-.9-.9,.6-.8-2.5-.9,.8-.8,1.1-.9-1.7-.8,1.4-.9-3.3-.8,1.8-.9,1.3-.8-.8-.8-1.6-.9,.7-.8,.4-.9,.3-.8-.9-.9-1.5-.8,1.3-.9-.4-.8,1.3-.9-1.6-.8-.3-.9-1.2-.8,1.5-.8-.6-.9-.4-.8-.3-.9,2.3-.8-2.1-.9,.5-.8,.4-.9,.2-.8-1.1-.9-.6-.8-.6-.8,2.2-.9-2.5-.8,1.4-.9-1.1-.8,0-.9,1.5-.8-.6-.9-1.5-.8,1.5-.9-1.9-.8-.2-.9,1-.8,.3-.8-.2-.9-.5-.8-.9-.9,0-.8-.2-.9,.4-.8,.2-.9-.4-.8-1-.9,.4-.8-.1-.9-.4-.8,.1-.8-.2-.9-.3-.8-.2-.9-.5-.8-.1-.9-.2-.8-.2-.9-.2z" fill="#ff0000"/><path d="M593.3,24.1h2.1v2.1h-2.1zm5.4,1.5h2.1v2.1h-2.1zm2.1,1.4h2.1v2.1h-2.1zm1.1-.4h2.1v2.1h-2.1zm.3-1.5h2.1v2.1h-2.1zm4,2.6h2.1v2.1h-2.1zm.4-.5h2.1v2.1h-2.1zm1.4,.2h2.1v2.1h-2.1zm1.7,2h2.1v2.1h-2.1zm.6,.4h2.1v2.1h-2.1zm.1-.2h2.1v2.1h-2.1zm2.7,2.3h2.1v2.1h-2.1zm1.8-3.7h2.1v2.1h-2.1zm.3,4h2.1v2.1h-2.1zm1.1-4.5h2.1v2.1h-2.1zm0,4.9h2.1v2.1h-2.1zm2.4-.9h2.1v2.1h-2.1zm1.7,1.8h2.1v2.1h-2.1zm1.4-3.1h2.1v2.1h-2.1zm2.2,3.3h2.1v2.1h-2.1zm2.4-1.8h2.1v2.1h-2.1zm1.4-.9h2.1v2.1h-2.1zm.3,4.6h2.1v2.1h-2.1zm0-4.9h2.1v2.1h-2.1zm1.2,3.7h2.1v2.1h-2.1zm2.1,.6h2.1v2.1h-2.1zm.1-3.6h2.1v2.1h-2.1zm.6-1.1h2.1v2.1h-2.1zm3.9,7.7h2.1v2.1h-2.1zm3.5-7.6h2.1v2.1h-2.1zm.5,1.6h2.1v2.1h-2.1zm3.6,6.7h2.1v2.1h-2.1zm.1,.1h2.1v2.1h-2.1zm.2-6h2.1v2.1h-2.1zm.1,4.6h2.1v2.1h-2.1zm.9,2.6h2.1v2.1h-2.1zm.4-7.8h2.1v2.1h-2.1zm2.8,.6h2.1v2.1h-2.1zm1.2,4.5h2.1v2.1h-2.1zm.2-1.6h2.1v2.1h-2.1zm.1,4h2.1v2.1h-2.1zm.3-3.3h2.1v2.1h-2.1zm2.5-4.9h2.1v2.1h-2.1zm0,7.4h2.1v2.1h-2.1zm1.1-5.6h2.1v2.1h-2.1zm.2,5.5h2.1v2.1h-2.1zm1.4,1.5h2.1v2.1h-2.1zm.4-6.2h2.1v2.1h-2.1zm.7-1.9h2.1v2.1h-2.1zm2.1,6.5h2.1v2.1h-2.1zm.4-.8h2.1v2.1h-2.1zm.5-5.4h2.1v2.1h-2.1zm.7,6.2h2.1v2.1h-2.1zm1.3-6.3h2.1v2.1h-2.1zm1.5,3.7h2.1v2.1h-2.1zm.2,.4h2.1v2.1h-2.1zm.1,3.4h2.1v2.1h-2.1zm1.4-.2h2.1v2.1h-2.1zm.1-7.5h2.1v2.1h-2.1zm1.4,5.5h2.1v2.1h-2.1zm.1-3.5h2.1v2.1h-2.1zm1.8,1.6h2.1v2.1h-2.1zm0-4.6h2.1v2.1h-2.1zm1.2,3h2.1v2.1h-2.1zm.2,2.7h2.1v2.1h-2.1zm.5-3.3h2.1v2.1h-2.1zm.3,2.4h2.1v2.1h-2.1zm.8,3h2.1v2.1h-2.1zm.5-2.5h2.1v2.1h-2.1zm.1-3.7h2.1v2.1h-2.1zm1.4,7.1h2.1v2.1h-2.1zm.2-7.2h2.1v2.1h-2.1zm.8,1.7h2.1v2.1h-2.1zm1.5-2h2.1v2.1h-2.1zm3.2,2.9h2.1v2.1h-2.1zm0,4.5h2.1v2.1h-2.1zm.4-9.5h2.1v2.1h-2.1zm2.1,7.6h2.1v2.1h-2.1zm.1-6.1h2.1v2.1h-2.1zm.8,3.5h2.1v2.1h-2.1zm.6-1.3h2.1v2.1h-2.1zm2-3h2.1v2.1h-2.1zm.7,4.9h2.1v2.1h-2.1zm1.4-1h2.1v2.1h-2.1zm0-2.4h2.1v2.1h-2.1zm.5,6.8h2.1v2.1h-2.1zm.7-7.3h2.1v2.1h-2.1zm.2,3.4h2.1v2.1h-2.1zm1.2,2.4h2.1v2.1h-2.1zm.1-1.6h2.1v2.1h-2.1zm1.2,3.3h2.1v2.1h-2.1zm1,.5h2.1v2.1h-2.1zm1.2-4.4h2.1v2.1h-2.1zm1.2-1.9h2.1v2.1h-2.1zm.1,4.9h2.1v2.1h-2.1zm1.9-4.5h2.1v2.1h-2.1zm.8,1.8h2.1v2.1h-2.1zm0,1h2.1v2.1h-2.1zm1-.5h2.1v2.1h-2.1zm.5,.5h2.1v2.1h-2.1zm.5-4h2.1v2.1h-2.1zm.3,7h2.1v2.1h-2.1zm1.1-2.6h2.1v2.1h-2.1zm1.2-3.2h2.1v2.1h-2.1zm.1-3.8h2.1v2.1h-2.1zm.5,3.6h2.1v2.1h-2.1zm1.9-3h2.1v2.1h-2.1zm.2,7.5h2.1v2.1h-2.1zm2.3-3.8h2.1v2.1h-2.1zm0-2.1h2.1v2.1h-2.1zm1.9,7.4h2.1v2.1h-2.1zm1.1-8.7h2.1v2.1h-2.1zm1.5,4.7h2.1v2.1h-2.1zm.4,1.4h2.1v2.1h-2.1zm.7-.1h2.1v2.1h-2.1zm.5-1h2.1v2.1h-2.1zm.1,2.3h2.1v2.1h-2.1zm.1,1.5h2.1v2.1h-2.1zm.7-2.3h2.1v2.1h-2.1zm2.6,.2h2.1v2.1h-2.1zm.4,1.5h2.1v2.1h-2.1zm2.6-7.4h2.1v2.1h-2.1zm.8,5.1h2.1v2.1h-2.1zm.2-1.5h2.1v2.1h-2.1zm1.6-1.3h2.1v2.1h-2.1zm.8,1.4h2.1v2.1h-2.1zm1.1-4.5h2.1v2.1h-2.1zm.3,5.3h2.1v2.1h-2.1zm.2-3.4h2.1v2.1h-2.1zm.7,.5h2.1v2.1h-2.1zm.1,3h2.1v2.1h-2.1zm.4-3.9h2.1v2.1h-2.1zm.9,1.2h2.1v2.1h-2.1zm.7,4.5h2.1v2.1h-2.1zm.4,1.6h2.1v2.1h-2.1zm1.3-2.5h2.1v2.1h-2.1zm1.4-4.8h2.1v2.1h-2.1zm.4,8.3h2.1v2.1h-2.1zm.2-4.3h2.1v2.1h-2.1zm.1-4.4h2.1v2.1h-2.1zm.4,2.6h2.1v2.1h-2.1zm.9,4.9h2.1v2.1h-2.1zm1.2-2h2.1v2.1h-2.1zm.7,1h2.1v2.1h-2.1zm.4-2.6h2.1v2.1h-2.1zm.3,.7h2.1v2.1h-2.1zm.2-.3h2.1v2.1h-2.1zm2.7-.4h2.1v2.1h-2.1zm.3,1.7h2.1v2.1h-2.1zm1.7,2.6h2.1v2.1h-2.1zm.1-1.2h2.1v2.1h-2.1zm.5-1.1h2.1v2.1h-2.1zm.2-3.6h2.1v2.1h-2.1zm.5,4.1h2.1v2.1h-2.1zm.1-4.1h2.1v2.1h-2.1zm.2-1h2.1v2.1h-2.1zm.3,1h2.1v2.1h-2.1zm.7,4h2.1v2.1h-2.1zm.4-1.4h2.1v2.1h-2.1zm1,1h2.1v2.1h-2.1zm.9,2.7h2.1v2.1h-2.1zm.1-4.6h2.1v2.1h-2.1zm.2,.7h2.1v2.1h-2.1zm1.1,3.7h2.1v2.1h-2.1zm.7-1.6h2.1v2.1h-2.1zm.4,1h2.1v2.1h-2.1zm.4-1.7h2.1v2.1h-2.1zm1.1,0h2.1v2.1h-2.1zm.4-2.9h2.1v2.1h-2.1zm1.6,2.4h2.1v2.1h-2.1zm1.1,4.8h2.1v2.1h-2.1z" fill="#ff0000"/><path d="M75.8,122.7l42.6-8.9 46-9.9 22.3-5 34.9-8.4 15.8-3.3 21.9-3.9 22.7-3.6 30.6-4.1 7.8-.9 6.6-.5 3.7-.2 3.5,.1 3.1,.3 2.9,.5 2.5,.7 2.1,.9 1.8,1.1 1.4,1.3 1.1,1.4 .7,1.4 .7,2 .4,2 .4,2.9 .1,2.9 .2,10.2 .2-11.3 .4-3.7 .6-3.1 .8-2.4 1.3-2.1 1.6-1.8 2-1.5 2.7-1.5 3.2-1.1 3.3-.7 3.5-.4 3.2,.1 2.8,.5 2.4,.9 1.9,1.3 1.1,1.2 .9,1.6 .7,1.8 .5,2.2 .5,5.6 .1,12.4 .2-11.4 .3-4.3 .6-4.4 .6-1.9 .7-1.5 1-1.6 1.3-1.4 1.5-1.3 1.7-.9 1.9-.7 1.9-.3 1.9,0 1.8,.3 1.9,.9 .8,.7 .8,.8 1.2,2 .8,2.7 .5,3.3 .3,3.9 .2,14.7 .1-11.7 .1-4.7 .4-4.3 .4-1.8 .5-1.7 .7-1.6 .8-1.4 1-1.2 1.1-.9 1.3-.7 1.4-.4 1.3-.1 1.4,.2 .8,.3 .9,.5 .7,.6 .7,.8 .6,1 .5,1.2 .7,2.7 .3,2.5 .3,4.3 .1,16.4 .2-17.5 .3-4.4 .6-3.3 .5-1.6 .6-1.4 .8-1.2 .8-.9 1-.8 1-.5 1.1-.2 1,.1 .8,.2 .7,.5 .7,.7 .6,.8 .9,2.2 .6,2.7 .3,3.4 .2,4.1 .1,16.7 .2-18.1 .2-4.4 .4-2.6 .7-3.1 1-2.1 .7-.9 .8-.7 .7-.4 .9-.2 .7,.1 .8,.3 .7,.5 .6,.7 .9,1.9 .7,2.8 .4,4.2 .2,4.9 .1,16.9 0-17.4 .2-4.6 .4-3.6 .5-3 1-2.3 .6-.9 .6-.6 .6-.5 .8-.2 .7,.1 .7,.3 .5,.6 .6,.8 .8,2.2 .5,2.7 .3,2.7 .1,4 .1,19.6 .2-20.7 .4-5.9 .6-3.1 .8-2 1-1.4 .6-.4 .6-.1 .6,0 .5,.3 .5,.5 .5,.9 .7,1.8 .5,2.9 .2,2.8 .2,4.6 .1,19.7 .1-19.2 .3-7.2 .5-3.4 .7-2.2 .9-1.5 .5-.4 .6-.2 .5,.1 .5,.3 .9,1.3 .6,2.1 .5,2.8 .3,6.1 .1,21.4 .1-19.3 .3-7.9 .4-3.1 .6-2.1 .9-1.6 .5-.4 .5-.2 .5,.2 .4,.3 .4,.6 .5,.9 .6,2.5 .3,2.8 .2,5.9 .1,21.4 .2-24.3 .3-4 .5-3.3 .4-1.4 .4-1 .5-.6 .6-.4 .6,.2 .5,.5 .4,.8 .5,1.4 .4,2.5 .2,3 .3,14.2 .1-10.1 .1-4.5 .3-2.9 .3-2.1 .5-1.7 .7-1.2 .7-.4 .3,.1 .4,.3 .6,1 .5,1.9 .3,2.3 .3,6.6 .1,11.6 .1-10.9 .3-6.3 .2-2.4 .4-2.1 .6-1.4 .5-.8 .6-.2 .5,.5 .6,1.1 .4,1.7 .3,2.6 .2,2.6 .2,7.4 .3-9.1 .5-4.1 .5-1.8 .6-.9 .3-.2 .4,.1 .6,.7 .5,1.7 .4,2.9 .3,4.4 .1,6.6 .2-8.2 .2-2.6 .3-2.7 .4-1.7 .5-1.1 .3-.2 .3-.1 .5,.4 .4,.7 .3,1.3 .4,3 .3,5.1 .1,6.4 .2-9.6 .4-3.8 .3-1.8 .5-1.4 .5-.5 .3,0 .2,.2 .4,.6 .3,1.1 .5,3.8 .2,3.1 .1,9.8 .1-8 .2-4.2 .3-3.4 .5-1.9 .5-1.1 .2-.2 .3,.1 .5,.6 .4,1.5 .3,2.5 .2,2.4 .3,7.8 .1-7.6 .4-4 .3-1.9 .3-1 .5-.5 .4,.1 .3,.6 .4,1.1 .4,3.3 .2,6.2 .1,9.3 .1-10.2 .3-5.6 .2-2.2 .4-1.6 .4-1 .2-.2 .3,.1 .4,.7 .4,1.3 .4,3.9 .1,4.5 .1,15.5 .1-15.2 .2-4.8 .5-4.4 .3-1.2 .5-.5 .2,0 .2,.2 .3,.8 .5,3.3 .3,5.3 .1,7.9 .1-9.7 .2-3.1 .4-3.3 .3-.9 .3-.6 .4-.1 .3,.6 .5,2.5 .3,5.2 .2,5.6 .2-7.5 .3-4 .4-1.7 .3-.7 .3-.1 .4,.5 .3,1.3 .3,3.1 .4,6.9 .2-6 .3-3.7 .5-2 .3-.3 .4,.3 .3,1.3 .4,2.8 .3,9.8 .2-8.1 .3-4 .3-1.6 .4-.6 .1-.1 .2,.2 .5,1.8 .4,3.7 .1,6.3 .5-9.4 .5-2.4 .2-.3 .2-.1 .2,.2 .3,.9 .3,2.4 .2,2.6 .2,9 .3-11.1 .3-2.8 .2-.7 .4-.6 .1,0 .2,.3 .2,.4 .3,2.1 .3,7.3 .2-1.5 .2-4.2 .3-3.2 .2-.7 .3-.7 .2,.1 .2,.2 .1,.5 .4,2.3 .1,2.5 .2,8.5 .3-10.4 .4-2.8 .3-1 .2,0 .2,.1 .1,.4 .4,2 .3,7.3 .3-5.7 .4-3.1 .3-1.1 .2-.1 .2,.1 .1,.5 .4,2.1 .1,2.5 .2,7.5 .3-9.2 .4-2.8 .3-.8 .2,0 .2,.3 .3,1.7 .3,6.1 .2,1.2 .2-5.1 .1-2.1 .4-1.9 .2-.3 .1-.1 .2,.3 .3,1.7 .4,7.1 .1-1.1 .4-6.5 .3-1.5 .2-.1 .1,.1 .2,.4 .2,2 .2,.4 .1,6.7 .2,1.9 .3-9.7 .4-1.9 .3,.1 .2,.8 .1,3.3 .2-2.1 .2,4.7 .2,1.2 .3-6.9 .2,.2 .1-1.4 .4-.1 .1,1.3 .2,.4 .2,7.7 .3-6.6 .2,0 .2-2.8 .1-.1 .2,.2 .2-.1 .1,4.1 .2-3.7 .2,7.8 .1-4.6 .2,12.5 .2-2 .1-13.2 .2-1 .4-.1 .3,3.1 .2,15.2 .1-16.5 .2-.3 .2,2.5 .1-3 .2-.7 .2,.4 .1-.3 .2,.7 .2,4.7 .2-3.2 .1,1.2 .4,11.5 .1-15.5 .5,2.2 .2,13.4 .2-14.9 .1,3.3 .2-3.3 .2,.5 .2,5.7 .1-6.1 .2,0 .2-.4 .1,.5 .2-.1 .2,4 .1-4.6 .2,.2 .2-.5 .1,0 .2,1 .2,6 .2-4.9 .3,6.4 .2-6.9 .1-1.6 .2-.1 .2,1.5 .1-.9 .2-.1 .2,8.8 .1,.4 .4,1.9 .2-9.6 .1,8 .2-9.2 .2,.7 .1-1.1 .2-.4 .2,11 .1-10.8 .2-.3 .3,.1 .2,3.2 .2,.1 .2-3.2 .3,1.3 .2-1.5 .1,24.6 .2-22.7 .2,4.3 .1-5.3 .2,11.6 .2-12.1 .1-.5 .2,0 .2,3.4 .3-3 .2,2.3 .2-2.7 .1,14.5 .2,2 .2-13.5 .1,4.4 .2-5.7 .2,4.6 .1-5.2 .2-.4 .2,3 .2-3.5 .1-.2 .2,2.5 .2-2.6 .1,3.3 .2-2 .2,1.8 .5-1.6 .1,2.3 .2-3.5 .2,2.5 .2-2.6 .1,0 .2,9.8 .2-7.2 .1,3.8 .2-6.7 .3,1.7 .2,9.9 .2-7.9 .1,3.9 .2,.6 .2-8.2 .2,.8 .1,2.5 .2,20.9 .2-23.2 .1,.8 .2,4.4 .2-6.1 .1,.2 .2-.3 .2,4.6 .1-2.8 .2,.5 .2,5.4 .2-7.2 .3,1.4 .2,12.7 .3-14.6 .2-.1 .1,9.8 .2-9 .2,7.3 .3-7.2 .2-.7 .5-.3 .2,5.2 .1,16.7 .2-20.5 .3-1.3 .2,2.1 .2-.4 .1-1.5 .2,11.8 .4-11.6 .1,0 .2-.5 .2,1.2 .1,18.3 .2-19.4 .2-.1 .3,2.2 .2-1.6 .1,.4 .2,4.7 .4-4.8 .1,6.3 .2-6.9 .2,9.8 .1-7.6 .2-.5 .2-2 .1-.1 .2,1.5 .2-.9 .3,14.4 .2-11.6 .1-3.2 .2,.7 .2,13 .2-13.9 .1,9.9 .2-9.9 .2-.1 .1,3.6 .2-2.6 .3,7.6 .2-8.6 .3,10 .2-7 .2,1.2 .2-2.3 .1,30.4 .2-32.2 .2,1.3 .1,5.2 .4-4.4 .1,3 .4-2.6 .1,.6 .2,7.6 .2-8.5 .2-2.4 .1,4.8 .2-2.3 .2-1 .1,.2 .2-1.6 .3,1.7 .2-1.6 .2-.3 .1,4.3 .2-3.3 .2,5.7 .2-3.6 .1,2 .2-4.9 .2-.2 .1,4.7 .2-2.6 .3,2.8 .2-4.7 .2,4.2 .1,.2 .2-3.7 .2,1.8 .2-1.3 .1,.1 .2,3.4 .2-3.3 .1,2.8 .2-4.4 .2,5.1 .3-5.2 .3,.7 .2-.5 .2,4.3 .2-4.3 .1,5 .2-4.8 .2-.2 .1,6.4 .2-6 .2,10.2 .1-10.8 .5,5.5 .2-5.1 .2,1.7 .2-1.4 .1,7.4 .2-6.8 .2-.2 .1,1 .2,2.3 .2-4.5 .3,9.5 .2-8.9 .1,5.4 .2-2.1 .2,4.9 .2-8.1 .1,8.6 .2-9.3 .2,8.3 .1-7.1 .2-1 .2,.4 .1,2.3 .2-2.8 .2,.3 .5,12.5 .2-9.5 .1-3.3 .2-.1 .2,9.1 .1,1.1 .2-8.9 .2,2.6 .1-1.8 .2,4.5 .2-6.7 .1,9.7 .2-9.3 .2,9.2 .2-9.5 .1,5.2 .2-4.8 .3,10.4 .2-9 .2,3.2 .3,3.2 .2-8.1 .4,8.1 .2-8.2 .1,15.6 0-13.7 .1,.9 .1-2.4 .1,.8 .1-1.4 .1,.7 .1,4.1 .2-3.4 .1,12.3 .1-9.3 .1-1.5 0,.4 .1,3.6 .1-6.9 .1,9 .1-8.9 .1,.3 0-.4 .2,2.9 .1-.6 .1,1.3 .1-2.6 .1,19.8 0-18.3 .1,3.2 .1-5.8 .2,7.3 .1-7.3 .1,14.4 .2-11.6 .2,3.5 .1-5.4 0,2 .1-2.8 .1-.1 .1,6.2 .1-6.3 .1,10.8 .1-10.8 .2,3.2 .2-1.8 .1-.1 0,1.2 .1-2.2 .1,9.3 .1-8.8 .2,13.6 0-8.6 .1,3.5 .1-7.2 .1,4.5 .1-6.6 .2,12.2 .1-11.3 .1,2.2 .1-2.5 .1,6.5 .1-6.9 .2,1.3 .1,4 .3-5.5 .1,6.5 .1,17.7 .2-23.9 .1,17.3 0-15.7 .1-.7 .1,10.1 .1-7.7 .2,5 .1-7.9 .1-.3 .1,2.5 .1,.1 .1-2.9 .1,.3 0,7.7 .1-7.8 .1-.3 .1,.2 .1-.3 .1,0 .1,1.5 0-1.6 .1,6.5 .2-6.5 .2,27.4 .2-25.7 .1,1.3 .1-1.5 .1,.1 .1,15.3 .3-16.1 .1-.7 .1,2.9 .1,6.8 .2-9.6 .2-.1 .2,4.8 .2-5 .1,5.6 .1-5.2 .1,6.1 .2-6.4 .1,17.6 .1-16.9 .1,.1 0-.5 .1,10.3 .2-10.7 .2,9.7 .2-9.7 .1,4 .1-1.4 .1,6.4 0-8.5 .1,7 .1-6.4 .1,1 .2-2.2 .1,5.5 0-5.4 .1,3.1 .1-2.2 .1,17.4 .1-17.9 .1,14.4 0-14.4 .1,1.3 .1-1.3 .1,.2 .2,2.2 .1-2.6 0,.8 .1-1 .1,10.9 .1-9.6 .1,4.4 .1-4.9 0,1.4 .1-1.6 .1,12.4 .2-12.9 .2-.3 0,7.5 .1-1.3 .1,.2 .1,8.3 .1-14.1 .1,14.7 .1-10.6 .2,9.4 .2-14.1 .1,0 0,7.5 .4-7.5 .1,.8 0-.7 .1,2.2 .1-2.4 .1,6 .3-4.2 0-.6 .1,1.1 .1-1.6 .1,6.1 .1-5.1 .1,5.1 .3-6.8 .2,14.3 .1-12.6 0-.1 .1,3.6 .3-5.3 .1,14.7 .2-14.7 .1,28.3 .1-23.6 .1,2.4 .1-5.5 0,2.1 .2-3.6 .2,7.4 .1-7 .1,.3 .1-.3 .1,1.4 .1-.9 .1,.4 .1,9 .1-7.7 .3-2.8 .1,1.3 0-1.3 .1,19.2 .1-13.9 .1,1.5 .1-6.8 .2,1.2 .1,9.2 .2-10.2 .1-.1 .1,9 .2-9.2 .3,4.1 .1-3.8 0,4.9 .1-4.9 .2,4.5 .2-4.6 0,.9 .1,31.5 .1-32.6 .1,7.1 .2-7.2 .1,.6 .1-.5 .1,1.2 .1-.7 .1,.4 .1,8.7 0-9.3 .2,3.9 .1-4.2 .1-.1 .1,.6 .1,3.9 .1,7.7 .1-12 .2,21.8 .1-22.1 .2,.9 .1,2 .1,10.9 .1-13.7 .1,7.5 0-4.3 .1,5.2 .1-.5 .1-5.1 .1-2 .1,.1 .1,7.8 .1-8.1 .1-.8 .2,1.2 .1-.7 0,8.9 .2-9.1 .1,12.6 .1-12.9 .1,0 0,1.3 .1-.6 .1,4.9 .1-3.1 .1,5.1 .1-7 .1,10.9 0-11.6 .1,1.4 .1-.8 .2,5.2 .1-5.8 .1,14.5 .2-13.9 .1-.5 .1,1.7 .1,10 0-9.9 .1-1.1 .1,7.4 .1-8.1 .2-.2 .2,1.1 .2,11.3 .1-6.3 .1,.9 0-1.2 .1,4.8 .3-10.4 .1,20.8 0-17.2 .1,12.7 .1-16.5 .2,8.8 .1-8.9 .1,1.3 .1,3.3 .1-4.6 .1,8.9 .2-7.4 0,5.1 .2-5.5 .1-.7 .1,4.1 .2-4.6 .1,0 .1,8.4 .1-8.4 .2,26.2 .1-25.8 .1,1.3 .1-1.5 .2,5 .1-3.3 .2,7.1 .2-8.1 .1,7.2 .1-8.3 .1,2.7 .1-1 .1,.6 .1,11.1 .1-13.3 .1,10.5 .2-10.1 .1-.4 .1,.3 0-.4 .1,.3 .1,1.6 .2-2 .1,9.3 .1-8.8 .1,20.3 .1-19.8 .1-.5 .1,4.8 .1-4.9 0,2.7 .2-2.9 .1,7.1 .1-7.3 .1,2.2 .1-.6 0,.4 .1-2 .2,2.5 .1-1.9 .1,.3 .1,4.5 .1-5.4 .1,7.2 .2-7.3 .1,.1 0,3.9 .2-4.1 .1,14.5 .2-14.5 .1,3.5 .1-3.2 .1-.3 .1,1.1 .2,6.8 .1-7.6 .2,11.8 .1-10.9 .1,3.7 0-4.1 .1,7.3 .1-6.4 .1,16.6 .1-18.2 .1,4.2 .1-4.3 .1,12.5 .1-8.9 .2-3.8 .1,.1 0,34 .1-34.1 .1,5.8 .1,0 .1-5 .2,3 0,23.8 .1-27.1 .1-.3 .1,.1 .1,14.3 .1-14 .1,13.1 .1-6.4 .2,3.4 .2-9.9 0,1.5 .1,0 .1,12 .1-10.2 .1,3 .1-4.8 0,8.4 .3-10.5 .2,7 .1-5.7 .1-1.1 .1,5.4 .1-5.9 .1,.1 .1,17.7 .1-17.8 .1,0 .1,3.5 .1-2.5 .2,6.9 .1-7.3 .1,4.4 .1-4.7 .1,5.5 .2-5.6 .1,9.5 .2-9.8 .1-.1 .1,9 .1-8.8 .1,9.6 .1-5 .1,4.6 .1-7.8 .2-1.3 .1,3.2 .2-3.4 .1,17.1 0-17.2 .1,13.7 .1-13 .1,.7 .1-1 .1,9 .1-9.3 .1,0 .1,2.3 .2-2.1 .1,.5 .1,9 .1-8.7 .1,1.8 .1-2.7 .1,9.6 .1-9.9 .1,3.1 .1-1 .1,2.2 .2-4.5 0,8.8 .1-4.9 .1,9.5 .1-11.4 .1,1.9 .1-2.1 0,4.7 .2-6.6 .1,8.8 .1-8.5 .1-.3 .2,18.4 .1-18.4 .2,17.9 .1-12.9 0,5.2 .1-3.9 .2,3.6 .2-9.9 0,8.8 .1-7.4 .1,6.5 .1-4.2 .1,2.3 .2-6.1 0,6 .1-5.7 .1,3.2 .1-3.3 .2,5.8 .1-5.8 .2,6.6 .2-6.4 .1,4.9 .1-4.8 .2,5.7 .1-3.7 .1-.8 0,1.3 .2-2.9 .1,9 .3-9.2 .2,16.4 .1-16.2 .1,17.4 .1-17.6 0-.1 .3,9.2 .2-8 .1,3.2 .1-4.1 .2,.1 .1,1.2 .1-1.6 0,1.2 .1-.9 .1,.1 .1-.4 .2,19 .1-19.1 .1,.1 .1,11.2 .1-11.2 .1,0 .1,20.2 .3-20.1 .1,4.4 .1-3.1 .1,4 0-1.7 .1,.9 .1,7.2 .2-10.7 .1,23.4 0-24.7 .1,3.3 .3-3 .1,11.6 .1-12 .1,3.5 .2,17.4 .1-20.9 .1,41.8 0-41.8 .1,.1 .1,6.4 .2-6.5 .1,4.4 .1-3.8 0,9.9 .1-6.3 .1,1 .3-5.3 0,10.1 .2-9.1 .1,7.1 .1-8.1 .1,.6 .1-.6 0,6.9 .1-6.1 .1,5.5 .1-5.9 .1,9.8 .1-10.2 0,3.4 .2-3.4 .2,10 .2-9.6 .1,14.2 .1-10.3 .2-3.8 .1,2.8 .1-2.5 .1,2.6 .1-2.7 .1,.4 .1,7.6 .1-7.2 0,.1 .1,8.5 .3-10.2 .1,2.8 0-2.8 .2,8.9 .1-7.4 .1,3.3 .1-.2 .1,.5 0-4.3 .2,2.2 .1-2.1 .1,3.4 .1-4.4 0,1.7 .2-1 .1,.3 .1-.9 .1,2.2 .1-2.4 .1,5.5 .1-5.3 .2,7.8 .1,17.8 0-25 .1-.5 .1,7.4 .1-5.6 .1-.2 .1,2.2 .1-3.2 0,8.8 .1-8.9 .1,2.1 .1-2 .1,8 .1-8.1 0-.6 .1,7.1 .1-6.2 .1,4.1 .1-4.4 .1,5.1 .1-6 .1,16.6 .2-16.6 .2,3 0-1.9 .1,11.4 .2-11.6 .3,20.4 .1-19.6 .1,8.2 .1-4.7 .2,9.5 0-14.5 .1,2.2 .1-1.1 .2,5.5 .1-5.3 .1,0 0-1.5 .2,6 .1-6.1 .2,21.3 .1-21.3 .1,4.9 .2-3.8 .1,3.5 .1-4.7 0,1.5 .1-1 .1,9.3 .1-7.2 .1,11.9 .1-14.5 .2,2.1 .1-1.6 .1,2.5 .2-2.8 .1,24.5 .2-24.2 .1,8.2 .1-8.1 0,12.8 .1-13 .1-.4 .2,3.6 .1-3.5 .1,.8 .1,9.9 .2-10.8 .1,.2 .1-.2 .1,7 .1-7 .1,19.3 .1-12.2 .2-6.4 0,5 .1-5.3 .1,2.9 .1-3.4 .1,10.2 .1-10.1 0,.4 .1-.4 .1,2.1 .1-2.2 .1,3.5 .2-3.6 .2,6.1 .1-6.1 .2,6 0-4.3 .3,15.3 .1-16.8 .1-.2 .2,4 .1,22.2 .3-25.2 0,2.8 .1-2.4 .1,.6 .1-.7 .1,9.4 .1-6.6 .1,19.2 0-20.7 .1,1.3 .1-2.1 .2,8.8 .1-8.9 .1-1.6 .2,1.6 .1-.4 .2,14.7 0-15.9 .1,4.2 .1-4.2 .2,3.1 .1,20.1 0-23.4 .1,0 .1,12.7 .2-11.7 .1,1.4 .1-2.3 .1,1 .2-1.2 .1,.2 .1,5.1 .1-5.3 .2,24.1 .1-22.5 .1,3.5 .1-4.7 0,6.5 .1-6.6 .1,6.2 .1-5.5 .1,1.3 .1,14.4 .1-16.7 .2,29.7 .2-29.6 .1,34 0-33.7 .2,16.6 .2-17 .1,16.4 .1-14.6 .1,.4 .1-2.2 .2,15.7 .1-12.6 0-2.6 .1,10.6 .2-8.9 .2,23.4 0-24.3 .1,25.2 .1-26.4 .1-.2 .2,9.4 .1-9.3 .1,2.4 .1-2.5 .3,17.4 .1-15.2 .1,5.7 .1-4.8 .1-.5 .1,.3 .1-2.2 .1,1 .2-1.7 .2-.1 .1,4.7 .1-4.7 .1,8.6 .1-6.9 .1,21 .1-15.9 .2,2.3 .1-9 .2,.2 0-.3 .1,24.4 .1-24.4 .2,11.1 .2-9.6 0,.5 .1-2 .1,.2 .1,6.8 .1-5.8 .1,1.1 0-1.2 .1,5.8 .2-6.5 .1-.5 .1,.1 .2,14 .2-12.9 .1,9.9 .1-11.1 .1,.1 .1-.1 .1,.2 .2,5.8 0-5.3 .1-.8 .2,.1 .2,5.9 .1,14.3 .1-19.6 .1,.2 .1,12.8 .1,.1 .2-13 .2,15.4 .2-16 .1-.1 0,.3 .1,5.1 .1,0 .2-5.4 .1-.1 0,7 .1-6.4 .1,.2 .1-.6 .1,4.7 .2-4.7 .1,3.7 .3-3.9 .1,24.6 .2-24.7 .1,6.1 .1,.3 .2-1.2 0,.4 .1,3.5 .1-8.7 .3,8 0-.2 .1-7.5 .1,11.7 .1-11 .1,6.7 .1-7.3 .1,3.3 0-3.9 .1,.1 .2,21.3 .1-21 .1,1.3 0-1.5 .1,4.2 .1-3.4 .2,12.6 .2-12 0,3.6 .2-5.3 .1,17.6 .1-12.8 .1-3.9 0,2.9 .1-2 .1,27.5 .1-22.2 .2-4.1 .1,5.6 .1-8.7 .4,10.3 0-8.7 .1,.2 .1,9.4 .1-8.6 .1,2.6 .1-.2 .1-5.1 0,4.3 .1-3.6 .1,5.5 .1-6.2 .1,4.2 .1-4.3 .1,15.4 .1-15.3 .2,1.9 .2-1.9 0,14 .1-13 .1,19.8 .1-18.5 .1,4.8 .1-4.5 0,.6 .1,17.6 .2-20.6 .1-.3 .1,3.7 .1,8 .1-11.7 .2,10.7 .2-10.6 .1,2.1 .1-1.8 .1,28.6 .2-26.6 .1,2.3 0-2.3 .2,13.9 .2-16.1 .1,7.2 .1-5.9 .1,13.5 .2-14.9 .2,6.5 0-4.3 .1,10.9 .1-13.1 .1,13 .1-9.5 .1,.7 0-4.4 .1,2.3 .1-2.2 .1,.3 .2,3.8 .1-3.1 0,10.3 .1-11.4 .3,5.2 .1-4 .1,1.7 .1-2.9 .1,8.7 .1-6.8 .2,6.6 0-3.9 .2,5.9 .2-10 .1,36.8 .2-35.2 .2,12.7 .1-8.8 .1,3.6 0-8.3 .1,2.7 .1-2.9 .1,.2 .1,9.8 .1-11.1 .1,1.7 .1-1.7 .1,1.1 .1-1 .1,2.3 .1-2 0,5 .1-5.2 .1,4.4 .2-3.4 .1,5.8 0-6.7 .1,3.9 .1-4 .1,12.6 .1-10.3 .1,2.5 .1-5 .2,19.3 .1-17.9 .1,.8 .1-1.8 .1,4.4 .1-4.9 .1,17.8 .1-13.3 .2-4.4 .1,.7 .1,5.3 .1-3.4 .1,5.4 .1-7.9 0,11.1 .2-11.2 .2,7.3 .1-7 .1,1.9 .3-2.2 .1,4.3 .1-3.8 .1,7.6 .1,0 .2-7.6 .1-.5 .1,1 .1,5.1 .1-2.1 .1,1.6 .1,13.1 .1-18.8 .1,1.9 .1-1.9 .2,5.5 .2-5.5 .2,2 .1-.8 .1,1.9 .1-3.1 0,.5 .1-.4 .1,4.2 .2-2.9 .2,13.1 0-14.4 .3,8.1 .2-8.1 0,6.1 .1-4.6 .2-1.6 .1,7.5 .1-6.7 .1,10.3 .1-10.9 .1,5.9 .1-5.9 .1,1.3 .1-.9 .1,6.5 .1-5.4 .2,5 .2-5.6 0,12.6 .1-12.5 .1,9.7 .1-10.5 .2,5 0,12.6 .1-17.8 .2,4.7 .2-4.1 .2,6.2 .2-5.6 .3,3.8 .1-5.1 .1,17.6 .1-15.5 .2-2 0,.7 .1-.2 .1,0 .1,3 .1-2.8 .1,7.4 .1-7 .3,5 .2-1.4 0-2.8 .1,17.2 .1-16 .1,4.3 .1-6.5 .1,9.3 0-9.4 .1,1.1 .1-1.5 .1,8.4 .1-8.8 .2,7 .1-6.9 .2,1 .2-.4 .1,.6 .1,5.7 .2-6.9 .1,4.4 .1-4.4 .1,1.3 .2-.4 .1,5.4 .1-5.8 .1,26.9 .2-26.3 .2-.3 .1,28.8 0-29.4 .1,4.1 .1-4.2 .1,.4 .1,9.7 .1-6.4 .1-3 .1-.1 .1,1.6 .1,5.9 .1-7.7 .2,2.8 .1-2.8 .2,9.3 .1-9 0,19.7 .1-20.2 .1,.2 .1,15.8 .1-15.9 .2,1.3 0,12.6 .1-8.9 .1,1.7 .1-6.2 .1-.1 .1,3.9 0,.1 .2-4.6 .1,1.6 .1-1.5 .1,3.3 .1-1.7 0,.1 .1,3.9 .2-2.6 .1,4.9 .1-5.1 0,4.5 .1-4.9 .1,1.4 .1-3.4 .1,9 .1-8.7 0-.3 .1,.2 .1,12.4 .1-11.8 .2,4.4 .1-2.4 0,9 .1-10.6 .1,0 .1,6.3 .1-7.4 .1,1.6 0-1.3 .2-.6 .1,4.2 .1-2.9 .1,17.3 .1-18.6 .1,10.3 .1-10 .2,12.4 .1-11.8 0-.9 .1,0 .2,6.7 .1-4.6 .2,18.6 0-20.4 .1-.2 .1,2.3 .1,12.7 .1-14.5 .1,3.6 .2,3.3 .1-1.8 .1,1.9 .1,9.5 .1-15.8 0,2.9 .2-3.8 .1,.9 .1,6.6 .1-7.7 0,2.7 .1-1.4 .1,16.6 .1-10.1 .1,4.8 .1-10.9 .1,0 0-1 .4,15.6 .1-15.6 .1,23.1 .1-23.6 .1,1 .1-1 .1,1 .1-1 .2,.6 .1,5.2 .1-5.8 .1,8.6 .1-8.4 .1,7.7 .1-5.9 .1,3.6 .2-5.5 .3,9.7 .1-9.5 .1,11.7 .1-11.7 .2,7.9 .1-6.4 .1,4.5 .1-4.6 0-1 .1,3.1 .2-3.3 .1,22.9 .1-19.4 .1-3.6 .1,1.2 .1-1.3 .1,.6 .1,7.7 .1-7.6 .1,11.1 .1-9.7 .2,6.4 .1-7.4 0-1 .1,.3 .1,4.7 .1-4.8 .1,11.6 .2-11.3 .1,14.9 .1-14.3 .1-.6 .1,.5 .1,2.7 0-3.3 .1,4.5 .1-2.2 .1,5.1 .1-2.2 .1,12.2 .1-17.6 0,4.3 .1-.9 .1,16.5 .1-18.8 .2-.8 .1,8.9 .1-3.6 .1,15.2 .1-20.7 .2,10.5 0-10.4 .1,4.4 .2-4.1 .2,9.4 0-4.1 .1,2 .1-7.1 .1,5.3 .2-5.7 .1,.3 .1,6.4 .1-6.7 .1,25.2 .1-17 .1-8 .1,8.3 .1-5.7 .1,28.2 .2-28.9 .1,3.5 .1-4.8 .3,3.2 .1-3.8 0,1 .1,0 .1,.9 .1-.1 .1,11.8 .1-9.7 .1,3.7 .1-5 .2,6.4 .1-8.8 .1,2.2 .2,18.8 .3-20.3 .1,8 0-3.5 .1,3.3 .1-8.4 .1,4.6 .1-4.6 .1,3.9 .1,30.9 .2-32.7" stroke="#008000" stroke-dasharray="2.083 3.438" stroke-width="2.083" fill="none"/><path d="M589.7,56.3l.9-.1 .8-.2 .9-.1 .8-.2 .9-.1 .8-.2 .9-.2 .8-.1 .8-.2 .9-.1 .8-.2 .9-.1 .8-.2 .9-.1 .8-.2 .9-.2 .8-.1 .9-.2 .8-.1 .9-.2 .8-.1 .8-.2 .9-.1 .8-.2 .9-.1 .8-.2 .9-.1 .8-.2 .9-.1 .8-.1 .9-.2 .8-.1 .9-.2 .8-.1 .8-.1 .9-.2 .8-.1 .9-.1 .8-.1 .9-.2 .8-.1 .9-.1 .8-.1 .9-.1 .8-.2 .8-.1 .9-.1 .8-.1 .9-.1 .8-.1 .9-.1 .8-.1 .9-.1 .8-.1 .9-.1 .8,0 .9-.1 .8-.1 .8-.1 .9,0 .8-.1 .9-.1 .8-.1 .9,0 .8-.1 .9,0 .8-.1 .9-.1 .8,0 .9-.1 .8-.1 .8,0 .9-.1 .8,0 .9-.1 .8,0 .9-.1 .8-.1 .9,0 .8-.1 .9,0 .8-.1 .8,0 .9-.1 .8,0 .9-.1 .8,0 .9-.1 .8,0 .9-.1 .8,0 .9-.1 .8,0 .9,0 .8-.1 .8,0 .9-.1 .8,0 .9-.1 .8,0 .9-.1 .8,0 .9,0 .8-.1 .9,0 .8-.1 .9,0 .8-.1 .8,0 .9,0 .8-.1 .9,0 .8-.1 .9,0 .8-.1 .9,0 .8-.1 .9,0 .8-.1 .9,0 .8-.1 .8,0 .9-.1 .8,0 .9-.1 .8,0 .9-.1 .8,0 .9,0 .8-.1 .9,0 .8-.1 .8,0 .9-.1 .8,0 .9,0 .8-.1 .9,0 .8,0 .9-.1 .8,0 .9,0 .8-.1 .9,0 .8,0 .8,0 .9,0 .8-.1 .9,0 .8,0 .9,0 .8,0 .9,0 .8,0 .9,0 .8,0 .9,0 .8,0 .8,0 .9,0 .8,.1 .9,0 .8,0 .9,0 .8,.1 .9,0 .8,0 .9,.1 .8,0 .9,0 .8,.1 .8,0 .9,.1 .8,0 .9,.1 .8,0 .9,.1 .8,0 .9,.1 .8,0 .9,.1 .8,.1 .8,0 .9,.1 .8,0 .9,.1 .8,.1 .9,.1 .8,0 .9,.1 .8,.1 .9,.1 .3,0 0,22.6-.3-1.5-.9,.7-.8-4.6-.9,2.1-.8-3-.9,1.3-.8,3.8-.9-3.3-.8,4-.9-3.1-.8-2.6-.8,.7-.9,1.8-.8,0-.9,2.1-.8-.1-.9-1.3-.8,.9-.9-4.1-.8,3.6-.9-4.5-.8-.1-.8,3.1-.9,2.1-.8,.3-.9-3.8-.8,1.3-.9,.6-.8-.5-.9-.3-.8-2.6-.9,1.3-.8,.4-.9-.2-.8,.5-.8-.4-.9-.1-.8,.3-.9,.3-.8-2.1-.9,3.7-.8-2.9-.9-2.1-.8,6-.9-.9-.8,.3-.9-4.3-.8,4.2-.8,.6-.9-.4-.8-5-.9-.5-.8,.5-.9,5.5-.8-5.7-.9,2.8-.8,2.5-.9-3.8-.8-.7-.9,.6-.8,3-.8-1.4-.9,2.4-.8-4.5-.9,1.8-.8,2.4-.9-1.1-.8-.8-.9-2.4-.8,5.5-.9-.1-.8-5.8-.8,2.4-.9,1.4-.8,.6-.9-2.9-.8,.5-.9-.5-.8-1.4-.9,1.3-.8,1.2-.9,3.5-.8-2.3-.9-1.2-.8-1.5-.8,5.4-.9-2.2-.8-3.8-.9,3.6-.8-3.2-.9,.1-.8,5.4-.9-2-.8-2.4-.9,.3-.8,3.9-.9-2.3-.8-2.8-.8,3.9-.9-3.3-.8,.3-.9-.1-.8-.5-.9,5.7-.8-1.1-.9-3.8-.8,5.4-.9-5.8-.8,3.5-.9-2.9-.8,4.5-.8-1.6-.9,2.6-.8-.7-.9-3.3-.8,1.3-.9-1.2-.8,4.1-.9-3.1-.8-.1-.9-.6-.8,4.2-.8-2.5-.9-3-.8-.2-.9,2.1-.8,1.9-.9-3.8-.8,1.6-.9,.8-.8,2.8-.9-.8-.8,.4-.9-3.3-.8,1.9-.8-3.4-.9,4.7-.8-5.2-.9,1.3-.8,1.6-.9-3-.8,2.3-.9-1-.8,2.3-.9,1.2-.8-.4-.9-2.8-.8,2.6-.8-.5-.9-3.1-.8-.7-.9,.6-.8,2.4-.9-.5-.8-2.8-.9,.6-.8,1.6-.9-3.1-.8,.4-.8,3.4-.9-3.1-.8,2.8-.9-2.9-.8,1.8-.9-2.5-.8-.5-.9,2-.8,.7-.9-.4-.8-1.8-.9-.2-.8-.7-.8,.7-.9,.4-.8-.2-.9,.2-.8-1.5-.9-.2-.8-.3-.9,1.1-.8-.7-.9-.9-.8,.5-.9,.6-.8-1-.8-.5-.9,.6-.8-1.1-.9,.2-.8,.1-.9-.4-.8-.6-.9,0z" fill="#008000"/><path d="M75.8,142.4l15.6-2.5 16.1-2.9 16.9-3.1 17.7-3.6 20.7-4.3 20.2-4.5 8.6-2.2 20.2-5.4 9.8-2.4 18.6-3.5 6.4-1 5.7-.8 8.7-.7 16.6-.7 8.6-.5 4,0 3.1,.3 1.9,.6 1.6,.7 1.2,.9 1.1,1.2 .7,1.3 .6,1.6 1.1,5.1 .6-.6 1.5-3 1-1.7 1.1-1.5 1.3-1.5 1.7-1.6 2-1.7 5.1-3.6 3.5-2.1 3.8-2 4-2 3.9-1.7 3.8-1.5 3.7-1.3 3.5-1 3.3-.8 5-.7 4.8-.1 2,.2 1.8,.3 1.7,.4 1.5,.6 1.2,.7 1,.8 .8,.9 .8,1.1 1,2.3 .9,4 .3,.5 .9-4.8 .9-2.9 .7-1.4 .9-1.3 .9-1.2 1.1-1.1 1.4-1.1 1.6-1 1.7-.8 1.9-.7 1.9-.5 1.8-.3 1.8-.1 1.7,.1 1.9,.5 1.6,.7 1.3,1.1 1.1,1.5 .8,1.5 .6,2 .9,6.4 .5-4.5 .6-3.1 .8-2.5 1.3-2.2 .9-1 1-1 2.2-1.5 1.2-.5 1.2-.3 1.3-.2 1.2,0 1.6,.3 1.4,.7 1.1,1.1 1,1.5 .6,1.9 .5,2.1 .3,3.1 .2,4.2 .7-7.9 .6-2.8 .8-2.2 1.2-2.1 1.4-1.7 1.8-1.2 1.8-.6 1.6,.1 1.3,.6 1.1,1.1 .9,1.6 .6,2 .4,2.7 .4,8 .5-8.5 .4-2.8 .6-2.3 1-2.1 1.1-1.6 1.3-1.1 1.4-.6 1.4,.1 1.2,.7 .9,1.2 .8,1.7 .5,2.1 .3,2.6 .4,9.1 .4-8.9 .3-2.8 .4-2.1 .7-2 .9-1.6 1.1-1.2 .6-.3 .7-.2 .6,0 .6,.1 1.1,.8 .8,1.4 .7,1.9 .4,2.2 .3,2.3 .3,9.8 .2-6.9 .3-3.9 .4-3 .6-2.3 1-2 .6-.7 .7-.5 .6-.2 .7,0 .7,.4 .6,.6 .6,1 .4,1.1 .7,3.4 .3,4.3 .2,8.4 .3-10.8 .4-3.1 .4-2.1 .7-2.1 1-1.4 .5-.3 .6-.2 .6,.1 .5,.3 .7,.8 .5,1.3 .5,1.5 .3,2.1 .3,4.3 .2,9.5 .3-10.6 .2-3.1 .4-2.2 .6-2.2 .8-1.7 .4-.4 .5-.3 .5,0 .5,.2 .7,.7 .5,1.1 .4,1.4 .4,1.9 .4,6 .2,9 .1-8.5 .3-5.7 .3-2.4 .5-1.7 .5-1.3 .6-1 .5-.2 .4-.1 .4,.1 .4,.4 .7,1.2 .5,1.9 .4,2.3 .2,3.5 .2,8.1 .2-6.8 .2-4.4 .5-3.5 .7-2.1 .4-.7 .4-.4 .5-.1 .4,.1 .4,.3 .3,.6 .6,1.7 .4,1.8 .2,2.5 .4,10 .1-8.1 .3-3.5 .3-2.4 .5-1.9 .6-1.2 .4-.3 .3-.2 .3,.1 .4,.2 .4,.7 .3,.9 .6,3 .4,5.1 .1,7.5 .1-6.3 .3-5.1 .3-2.8 .6-2.4 .7-1.1 .4-.2 .4,0 .3,.3 .3,.6 .5,1.8 .4,2.2 .2,3.5 .2,8.9 .3-9.7 .3-3.8 .3-1.9 .5-1.4 .5-.8 .2-.2 .4,0 .5,.5 .4,1.1 .6,3.4 .3,7 .1,9 .1-9.6 .2-5.7 .5-3.8 .5-1.4 .4-.7 .2-.2 .4,0 .5,.6 .4,1.3 .4,1.9 .3,4.3 .2,9.9 .1-9.1 .2-3.2 .5-3.9 .3-1.2 .4-.7 .5-.3 .4,.3 .4,1 .4,1.5 .4,4.4 .3,7.2 .1-7.1 .2-2.5 .3-2.6 .4-1.7 .5-.7 .2-.1 .3,0 .5,.9 .4,1.8 .3,3.2 .3,11.2 .3-10.6 .3-3.7 .4-2.1 .4-.9 .3-.2 .2,.1 .5,.6 .4,1.6 .4,4.4 .3,7.9 .1-7.7 .4-4.1 .6-2.5 .3-.5 .3-.1 .1,.1 .4,.6 .2,.9 .4,3.2 .3,6.2 .1,8.3 .2-12.1 .2-3.7 .3-2.2 .5-1.3 .4-.3 .4,.5 .4,1.6 .5,4.7 .1,9 .3-9.8 .2-2.3 .5-3.1 .3-.8 .3-.1 .4,.4 .3,1.2 .4,2.7 .1,2.9 .2,15.3 .2-15.5 .3-4.5 .3-1.8 .4-.8 .3-.2 .2,.2 .5,1.7 .3,3.3 .2,4.4 .2,.7 .1-5 .4-3.5 .5-1.8 .3-.2 .4,.4 .5,2.7 .3,7.5 .5-7.9 .5-2.6 .2-.3 .2-.1 .1,.1 .4,.7 .1,.8 .4,3.1 .3,5.9 .4-7.7 .5-2.7 .1-.3 .2-.1 .2,0 .3,.9 .3,2.3 .2,2.4 .2,7.6 .3-9.3 .4-2.8 .3-1.2 .2-.1 .1,0 .2,.2 .3,1.4 .2,1.3 .2,2.4 .2,6.8 .5-10 .1-1.1 .4-1.1 .1-.2 .2,.1 .2,.3 .3,1.7 .2,1.7 .3,9 .2-7.5 .2-2.4 .3-2.3 .2-.5 .1-.3 .2,.1 .3,.8 .4,2.6 .3,10.4 .2-8.5 .3-4 .4-1.4 .1-.2 .2,.1 .2,.3 .3,1.9 .4,7 .1-.9 .2-4.4 .3-3.1 .4-1 .1-.1 .2,.3 .3,1.6 .2,1.8 .4,6.5 .1-5.7 .2-2.3 .3-1.9 .2-.4 .2,0 .3,1.1 .3,3.4 .2,5.6 .3-8 .4-2 .2-.2 .1,0 .5,1.7 .2,2.4 .2,10 .1-7.4 .4-6.1 .1-.8 .4-.1 .2,.3 .1,2.6 .2-1.1 .2,8.2 .1-5.6 .2-.3 .2-3 .1,0 .2-.3 .2-1 .1,.1 .2,2.6 .2-1.8 .2,1.8 .1,23.2 .2-19.5 .2-5.8 .1,2.5 .4-3.2 .1,.3 .2,1.5 .2-1.6 .3,17.8 .2-14 .3-3.8 .2,2.4 .2-2.1 .1-.8 .2,.2 .2,14.7 .1-10.4 .4-3.5 .1,8.7 .2-7.1 .2-2.4 .2-.3 .3,2 .2-.6 .1,12.7 .2-11.3 .2,1.3 .1-4.1 .2,3.3 .2-3.3 .3-.2 .2,.6 .2,8.5 .1-5.2 .2,12.8 .2-14.1 .1-2.7 .2,.3 .2-.4 .1,.1 .2,12.2 .2-9.4 .1-.6 .2,19.7 .2-21.9 .2-.2 .1,1.4 .2-1.3 .2,0 .3,8.5 .2-7.7 .1,2.3 .2-3 .2,3.1 .1-3.3 .2,.1 .2,.6 .2,2.3 .3-1.6 .2-1.7 .1,4.6 .2-3.5 .2,3.2 .1-4.4 .2,4.8 .2-4.1 .3-.4 .2,5.8 .2-5.5 .3-.8 .2,0 .1,20.4 .2-20.5 .2,10.4 .1-10.4 .2,2.5 .3-2.4 .2,.4 .2,7.4 .2-1.2 .1-6.8 .2,1.4 .2-1.5 .1,7.2 .2-5.9 .2,1.5 .3-2.6 .5-.4 .2,0 .2,.5 .1,11.9 .4-12.2 .1,.7 .2-1.1 .2,1.9 .1-1.5 .2-.2 .2,7 .3-7.4 .2,2.3 .2-1.9 .5-.4 .1,2.7 .2-2.7 .3-.2 .2,17.2 .2-12.8 .1,9.8 .2-13.8 .2,.2 .3-.3 .2,.9 .2-1 .3-.4 .2,9.7 .1-9.8 .2,0 .2,1.6 .1-.9 .2,.4 .2-1.2 .2,.1 .1,1 .2-1.1 .2,.4 .1,5.5 .2-1.7 .2,1.9 .1-5 .4-1.4 .1,1.6 .2-1 .2,5.6 .2-4.4 .1,13.2 .2-15.2 .2,.4 .1-.3 .2,.2 .3,8.9 .2-7.5 .2,3.3 .1-1.2 .2-4.1 .4,11.2 .1-11.3 .2,1.8 .2-1.8 .1,0 .2,1.2 .2-.6 .1,5.1 .2-.9 .2,.8 .1-5.9 .2,11.3 .2-10.6 .2,3.1 .1-2.3 .2,3.4 .2-3 .1,5.3 .2-5 .3,4.2 .2-6.1 .3,2.8 .2,4 .2-6.8 .3,.1 .2-.6 .2,.6 .1,5.7 .2-5.6 .2-1.1 .1,1.4 .2,5.5 .2-5.7 .1,1.2 .2-2.3 .2,4.3 .1-4.6 .2-.1 .2,6.8 .2-6.3 .1,4.7 .2-2.8 .2,8 .1-10.2 .2,.6 .2-.9 .3,5 .2-4.9 .1,3.2 .2-3.5 .2,1.1 .2-1 .3,2.5 .2,5 .1-7.1 .2,5.4 .2-6.2 .3,7.4 .2-7.5 .1,.2 .2,4 .2-1.4 .2,.7 .1-2 .2-.1 .2-1.4 .1,.2 .2-.4 .2,8.8 .1-8.2 .2,.4 .3,8.9 .4-10.2 .2,0 .1,3.4 .2-.8 .2-2.3 .3,2.5 .2,7.3 .1-1.6 .2-8.1 .2,5.2 .1-5.8 .4,1.7 .2-1.7 .1-.3 .2,1 .2,0 .1,3.6 .2,.3 .2-3.8 .1,6.9 .2-6.3 .2,4.3 .1-6.2 .4,5.8 .2-3.9 .1,.1 .2,7.2 .2-7.9 .1,4.4 .2-4.4 .2,.3 .1-1.3 .2,3.2 .2-2.6 .1-.5 .2,1.5 .2-2.4 .2,.1 .1,1.5 .2,5.2 .2-7 .1,7 .2-4.2 .3,2.7 .2-3.9 .2,.8 .1-2.6 .2,2.5 .2-.3 .2,5.3 .1-5.7 .2-1.8 .2,8.2 .1-5.3 .2-1.4 .2,6.4 .1-8.1 .2-.1 .2,6.9 .3-6.9 .2,.5 .2-.4 .5,3.4 .1-3.6 .2,.1 .2,5.9 .1-6.3 .2,0 .2,3.9 .1,.9 .2-.6 .1,3.7 .2-8 .1,3.2 .2-3.2 .1,0 .2,4 .1-1.2 .1-3 .1,5.1 .2-3.9 .1,2.6 .1-3.4 .2,2.3 .2-2.8 0,4.8 .1-1.9 .1,1.4 .2-3.7 .1,0 .1,7 0-7.6 .1-.1 .1,6.3 .1-4.8 .1-1.5 .1,.9 0-.9 .1,7.3 .2-7.5 .1,4.7 .1-3.7 .1,6.9 .1-6.7 .1,1.9 .1-3 .1,5.8 .1-5.6 .1,.5 .2,7 .1-7.2 .1,2.2 .1-2 .1,6.7 .1-6.3 .1-.4 .2,.3 .1,2.8 .1-4.1 .2,.6 .1,2.2 .1-2.3 0,.4 .2,3.6 .1-4.4 .1,2 .1-1.7 .2,1.1 .1,4.6 .1-6.3 .2,6.7 0-6.2 .2,.1 .1-.8 .1,1.9 .1-2 0,1.8 .1-1.6 .1,4.8 .3-5 .1,.1 0,6.2 .1-4.1 .1,1.2 .2-3 .1,7.1 .1-7 .2,3.2 .1-3.9 .1,.2 .1-.3 0,5.3 .1-4.8 .1,.8 .1-1.2 .1,6.1 .1-6.3 0,4.2 .1-3.7 .1,.1 .2,5 .1-5.3 .1,3.8 .2-3.7 .1,6.8 .1-5.4 .1,.9 .1-.5 .1,1.1 .1-2.2 .2,4.1 .1-4.4 .1,3.2 .2-4.3 .1,.9 .1-.8 .1,3 .1-2.9 .1-.3 .1,.2 .1-.2 .1,.8 0-.6 .1,5.3 .2-3.3 .2-1.8 .1,6.2 .1-6.4 .1,4.4 .2-4.2 0,6.8 .2-5.2 .1,5.2 .3-7.4 0,3.3 .1-2.8 .1,6.3 .1-6.3 .2-.6 .1,5.1 .2-5 .1,.8 .1-.5 .1,3.3 .1-3.8 .1,6.1 .1-5.6 .1,1.1 .1-1.6 0,.3 .1,6.9 .1-7.2 .2,7.1 .2-7.3 0,6 .1-5.7 .1-.3 .1,6.2 .1-4.9 .1,5.6 .1-7 .2,2.6 .1-2.6 .1,6 .2-6 .1,1.3 .1-.9 .1,2 .1-2.3 .1,6.5 .1-6 .2,.9 .1,5.3 .1-6.2 0,.3 .1-.9 .2,6.6 .1-6.8 .1,.2 0-.2 .1,1.8 .1-1.6 .2-.3 .1,.4 .1,5.8 .1-6.2 .2,3.6 .2-3.1 .1,5.9 .1-6.5 .2,.9 .2,4.3 0-5.2 .1-.1 .1,2 .2-1.9 .1,4.1 .1-4.2 .1,6.8 .2-2.9 .2,2.9 0-5.7 .1,1.6 .1-1.1 .2,2.6 .1-4.3 0,6.8 .2-4.6 .2,1.7 .2-4.1 0,5.4 .2-1.4 .1-3.8 .2,3.8 0-3.5 .1,6.2 .2-6.6 .1,6.7 .1-6.3 .1,3.7 .1-2.8 .1,2.6 .1-3 .1,.5 .1-1.5 0,3.4 .1-2 .1,2.7 .2-4.2 .2,2.4 0-1.5 .1,1 .2-1.5 .1,2.6 .1-3 0,3.7 .2-3.9 .1,1.5 .1-1.3 .2,6.4 0-6.6 .1,6.1 .1-5.9 .1,3.3 .1-2.3 .1-1.1 .1,1.2 .1-1.1 .1-.3 .1,.3 .1,3.3 .1-3.5 0,2.3 .1-2.5 .2,2.6 .1-1.7 .1,5.7 .1-5.4 .1,1.2 .1-2 .2,3.8 .1-3.4 0,5.7 .1-6.2 .1,5.1 .1-5.5 .1,6.8 .1-6.1 0,3.1 .2-3.8 .3,4.1 .1-3.9 .1,.7 .1,4.7 .1-4.8 .2,3.8 0-4.7 .1,3.7 .1-3.8 .1,6.8 .1-4.7 .2,4.2 .1-6.3 .1,0 .1,6.4 .1-5.2 .1,.4 0-1.7 .1,2.2 .1-2.2 .1,2.6 .1-2.6 .1,0 .1,5.7 0-5.7 .1,5.9 .3-5.8 .1,0 .1,4.3 .1-4.3 .1,4 .2-4 .1,4.8 0-3.1 .1,1.8 .1-2.3 .1,2.8 .2-4.3 .2,6.7 .2-6.7 .2,6 0-5.1 .1,1.4 .1-1.9 .1,2.7 .2-3.1 0,1.5 .2-1.6 .2,1.6 .1-1.5 .1,6.5 .1-6.6 .2,0 .1,6.2 .1-5.2 0,5.5 .3-6.5 .1,3.9 .2-3.7 0,5.7 .1-5.8 .1,2.8 .3-3 .2,6.5 .1-6 .1,4.7 .2-4.6 0,5.8 .1-6.2 .2,6 .2-5.3 .1,.8 .2-.7 .1,.2 .1-1.1 .1,5.8 .1-5.4 .1,5.7 .2-6.3 .1,5.6 .2-5.6 .1,2.2 .1-1 .2,5.2 .2-6.2 .1-.3 .1,1.4 .1-1.3 0,.7 .1-.3 .2,1.9 .1-2.4 .1,6.4 .1-6.5 0,4.5 .1-3.2 .1,2.3 .1-3.5 .2,4.3 0-4.5 .1,1.6 .1-1.1 .1,3.4 .2-3 .1,.7 .1,4.1 .1-5.7 .1,3.9 .1-2.2 .3-1.5 .2,4 .1-4.2 .1,6.4 .1-6.5 .1,.1 .1,5.3 .1-4.3 .1-.7 .1,2.8 .2-3.2 .2,.8 .1,3.5 .2-4.3 .1,3.8 .1-2.2 .1,1 0-2.4 .2,2.1 .1-2.4 .1,5.6 .1-5.6 .1,.1 .1-.1 .1,6 .3-5.9 0-.1 .1,2.3 .1-1.8 .2,3.9 .1-3.3 .1,1.6 0-1.8 .1,.1 .1-.9 .1,5.1 .1-4.9 .1,5.8 .4-6 .1-.1 .1,1.2 .1,2.5 .1-1.2 .1,1.2 .1-2.8 .1,4.1 0-4.8 .2,3.5 .1-1.8 .1,1.3 .1-.4 .1-2.9 .2,6.3 .1-5.8 .1,.2 .1-.9 0,.5 .1-.4 .1,6.3 .2-6.3 .2,1.3 0-1.4 .1,0 .1,3.5 .1-3.3 .1,5.8 .1-6 .1,1 .1-1 .2,2.5 .2-1.3 0,2.7 .2-4 .3,5 .1-4.1 .2,5.3 .1-6.2 .1,.8 .1,1.6 .1-2 .1,.1 .4,5.4 .3-6 .1,2.1 .1-1.9 .2,1.6 .1-1.8 .1,2.1 .1-2 .1,1.7 .1-1.8 .1,1.9 .1-1.3 .1,4.2 .1-1.6 .2,2.2 .1-4.7 .1,3.1 .1-2.3 .1,2.9 .1-3.3 .1,1.7 .2-2.8 0,3.9 .2,1.2 .1-3.9 .1,.2 .1-1.5 .1,3.9 0-3.9 .1,2.4 .1-1.2 .1,4.3 .1-5.4 .1,1.4 0-1.5 .1,.1 .1,1.7 .2-1.9 .1,4.5 .1-4.5 .2,1.7 .1-1.8 .1,4.7 .1-4.4 .1,1.9 .1-2.2 .1,5.5 .1-4.2 .1-.6 .1,1.2 0-.1 .1-1.6 .3,5.9 .1-6.1 .3,2.6 .2-2.5 .1,3.2 0-3.3 .1-.1 .2,.8 .1-.7 .1,5.5 .2-4.1 .2-1.3 .2,1.2 0-1 .1,2.7 .1-2 .1-.5 .2,1.2 0-1.8 .1,.8 .3-.4 .1,.8 .1,5.1 0-3.8 .1,1.7 .1-3.1 .1,5.2 .2-5.5 .1,4.7 .1-5.4 .2,2.6 .2-1.5 .1-.1 .2,.6 .1,3 .1-3.7 .1,4.9 .1-5.1 .1,.4 .1-1 .1,6 .1-5 .1,4.6 .1-5.3 .1,5.1 .1-5.8 .1,5 .1-4.7 .2,6.2 .1-6.5 .1,4.2 .1-4.3 .1,3.6 .1-3.4 .3,6.3 0-5.5 .1,2.5 .2-3.5 .1,3.5 .1-3 .1,3.3 .1-2.7 .1,3.5 .2-4.4 .1,1.8 0-1.7 .1,3 .2-1.8 .1,3.4 .1-5 .1,.3 0-.3 .1,5.6 .2-5.6 .2,6.5 .1-6.5 .1,6.4 .2-6.4 .2,.9 0,5.2 .2-6.1 .1,5.4 .2-5.2 .1,1.8 .2-1.5 .1,2.6 .2-3.1 .1,.1 .2,3.4 .1-3.6 .1,1.7 0-1.6 .1,1 .1-1 .2,5 .2-4.1 0,3.7 .1-3 .1,4.8 .1-5 .2,1.3 .2-2.9 .2,0 .1,5.8 .1-5.1 0-.7 .1,.1 .1,6.4 .1-6.3 .2,1.8 .1,3.7 .1-5.6 .1,3 .2-.9 .1,.4 0-2 .2,2.6 .1-3.3 .2,6.5 0-6.5 .2,.4 .2,2.5 .1-2.7 .1,1 0-.9 .2,.9 .1-1.2 .1,.5 .2-.4 .2,1.2 .1-1.2 .1,.1 .1,6.1 .1-5.2 .2,5.1 .1,0 .1-5.4 .1,5.6 .1-6.4 .1,0 .1,5.8 .1-5.8 .1,3.1 0-2.3 .2,2.5 .1-3.4 .2,3.5 0-3.5 .1,.1 .1-.2 .1,.9 .1-.5 .1,.8 .1-1.1 .1,1.5 .3-1.3 .1,2.4 .1-.9 .1,1.1 .1-2.8 .3,1.8 0-.1 .1-1.9 .2,6.5 .1-5.3 .1-1 .2,1.3 .2,4.1 .1-3.8 .1,.2 .1-1.7 .1,4.8 .1-4 .1-.4 .1,.4 .1,1.9 .1-2.2 .1,5.3 .1-4 .1,1.2 .1-1.7 0,3 .1-4.6 .1-.1 .2,.3 .1,3.6 .1-3.7 .1,1.4 .1-.9 .1,.3 .1,1.6 .1,.3 0-.1 .2,3.7 .1-6.2 .1,1.3 .1-1.6 .1,4.2 .3-3.4 .1,2.6 .1-1 .1-.4 .1-2 .3,2.3 .1-2.4 .2,5.7 .1-5.5 .1,4.2 .1-3.6 0,2.9 .1-1.3 .1,3.4 .1-5.9 .1,.5 .1-.4 .2,1.9 .2-1.6 .2,4.7 0-4.9 .1-.1 .1,6.4 .2-6.5 .1,5.7 0-5.2 .1,5.6 .2-6.2 .1,2.5 .1-2.4 .1,0 0,4.4 .2-4.5 .1,2.3 .1-1.2 .2-1.1 .2,3.3 .1-2.7 .2,2.2 0,3.7 .2-6.4 .2,1.3 .1-.7 0,3 .2-3.8 .1,.5 .1-.5 .1,1.3 .1-1.1 0,1.3 .1-1.5 .1,.1 .1,6.4 .2-6.5 .2,0 .2,2.1 .2-1.9 0,3.4 .1-2.7 .1,1.6 .1-1.9 .1,4.3 .1-3.1 0,4.3 .1-6.2 .2,4.6 .1-4.1 .1,5.5 0-4.6 .1,2.1 .3-1.6 .1-2 .1,5.7 .3-4.4 .1,2 .1-2.5 0,1.8 .1-.2 .1-2.4 .1,3.4 .1,.1 .1-3.5 .1,5.9 0-5.9 .2,4.8 .1-.1 .1-4.7 .1,4.8 .1-4.9 .2,.4 .1,2.1 .1-2.2 .3,3.2 .1-1.7 .1,1.7 .1-3.4 0,3.3 .1-3.3 .2,5.7 .2-5.8 .1,2.5 0-1.9 .1-.3 .1,.4 .1-.7 .2,.5 .2,3.4 .1-3 .1,5 .2-6 0,6.5 .2-6.2 .1,5.7 .1-4.6 .1,3.7 .1-5 .1,2.8 .1-1.7 .1,.8 .1-1.9 .1,2.2 0-2 .2,2.1 .1-2.3 .1,2.3 .1-2.3 .1,5.8 .1-3.8 .1,1.2 .1-.1 .2-3.3 0,3.7 .2-3.2 .1,6 .2-6.5 .1,3 .2-3 .2,2.2 .1-2.1 .1,6.4 .1-2.3 .1,1.1 .1-5.3 .1,2.3 0-2 .1,6.1 .1-6.4 .1-.1 .2,6.2 .1-5.1 0,.8 .1-.9 .1,.5 .2-1.5 .1,1.7 0,.2 .1-.9 .1,2.4 .1-2.9 .1,3.1 .1-1.3 .1,1.9 0-2.7 .1-.4 .1,1.2 .1-2.3 .2,2.3 .2-2 .1,1.7 .1-1.2 .1,3.7 .1-4.6 .1,5.8 .1-5.7 .2,.2 .1,.8 .1-1 .1,3.9 .1-3.8 .1,1.3 .1-1.5 .1,0 .2,6.4 .3-6 0-.2 .1,2.2 .2-1.8 .1,3.4 .2-3.9 .1,.3 .2-.5 .1,5.6 .1-5.4 .1,2.3 .1-2.4 .2,1 .2-1 .3-.1 .2,4 0-1.7 .1,2.2 .1-3.9 .2,3.5 .1-4 .1,.1 0,4.1 .2-3.8 .1,2.9 .1-1.3 .1,1.1 0-2.4 .1,3.5 .1-2.3 .1,1.8 .1-.3 .2-3.3 0,1.5 .2-1.7 .2,6.1 .1-5.8 .2,2.2 .2-1.9 .1,2.5 .1-3.1 0,6.4 .2-6.2 .1,6.3 .1-6.3 .1,6 .3-5.2 .2,3.8 .1-4.9 .2,5.5 .1-3.1 .1,1.8 .1-3.7 0-.5 .1,.5 .1,2.6 .1-3.1 .1,6 .1-5.4 .1-.6 .1,1.8 .1-1.5 .2,2.1 .1-2.1 0-.1 .1,.6 .1-.6 .1,6.3 .1-6.4 .2,3.1 0-3.1 .1,5.4 .2-5.4 .1,.8 .1-.7 .1,4.2 .1-3.8 .1-.3 .1,3.6 .1-3.9 .3,2.8 .1-2.4 .1,3.3 .1-2.7 .2,4.1 .1-5.1 .2,3.7 .1-3.6 .1,2.3 .1-2.1 .2,3.5 .1-3.8 0,2.8 .2-2.8 .1,6.4 .2-6.3 .1,3.3 0-3.1 .2,4.9 .1-3.3 .2-1.6 0,2.8 .1-2.5 .1,3.3 .1-3.4 .1,4.3 .1-4.7 .2,4.1 .1-2.9 .1,.7 .1-1.7 .1,1.2 0-1.2 .2,1.8 .1-2 .3,3.3 .1-3.4 .1,3.7 .1-3.7 .1,5.9 .2-5.9 .2,6.5 .2-6.3 .1,4.6 .2-4.5 .2,5 .1-5.2 .2,3.9 .1-3.5 .1,1.5 .1-1.9 .1,6.2 .1-5.6 .1-.4 .2,.3 .1,3.5 .1-4 .2,2.3 .1-2 .2,2.2 .1-2.5 .1,1.6 .1-.9 .1,1.2 .1-1.9 .1,1.5 .1-1 .1,.7 .1-.3 .1,.7 .1-1.6 .2,6.4 .1-6.3 .2,.1 .1,3.2 .1-2.9 .1,1.4 .1-1.8 .1,1.1 .1-.9 .1,3.5 .1-3.5 .1,3.5 .2-.1 0,2.9 .1-6.1 .1,1 .1-1.3 .2,2.2 .1-2.2 0,4.4 .1-4.4 .1,0 .1,.9 .1-.7 .1,5.8 0-2.9 .1,3.3 .2-6.5 .1,6 .1-6 .1,1.9 .1-1.7 .1,3.9 .1-3.9 .1,5.8 .1-5.9 0,5.9 .3-5.7 .1,2.8 .1,.2 .1-1.1 .1,4.3 .2-5.9 .1,4.8 .1-5.1 .1,0 .1,2.4 .2-2.4 .2,3.9 0-2.2 .1,1.1 .1-2.9 .2,4.1 .1-3.5 .1-.6 .1,4.8 .1-4.8 .2,3.6 0-3.2 .1,5.6 .1-6 .2,4.2 .1-4 .2,3.1 .1-3 .2,.5 .1,4.9 0-3.3 .3,3.1 .1-3.4 .1,4.1 .1-5.9 .1,6.2 .2-4.4 .1,4.5 .1-6.5 0,.3 .1-.3 .2,6.1 .1-5.6 .1,1.4 .1-.2 0,3.5 .1-5.1 .2,0 .1,6.2 .1-5.7 .3,4.3 .1-4.5 .1,5.5 .1-5.7 .1,0 .1,3 .2-1.8 .1,3.3 .1-3.1 .1-.7 .1,.2 .2,5.6 .1-6.3 .3,2.3 .1-1.9 .1,2.1 0-2.6 .1,0 .1,3.1 .1-2 .1,4.3 .1-5.3 .1,0 0,3.3 .1-2.9 .1,3.5 .1-3.6 .1,1 .1-1.3 .3,6.2 .1-6.2 .2,1.3 0-1.1 .2,1.4 .1-.9 .1,.2 .1,4.7 0-5.6 .2,5.2 .1-5.2 .2,5.5 .1-3.8 0,4.8 .1-6.4 .2,3 .1-2.1 .1,2.2 .1-2.8 .1,3.9 .1-4.2 .1,1.2 .1-1.2 .1,4.8 .2-4.7 .2,5.6 .1-5.6 .2,2.8 .1-2.7 .1,.1 .1,3.1 .1-2.3 0,.4 .1-.3 .1,3.2 .1,.1 .1-4.4 .1,2.1 0-2 .1,.6 .2-.6 .1,2.4 .2-2.4 .1,5.1 .1-4.6 .3,5.6 0-4.5 .2,3.7 .1-4.8 .2,4.3 .1-3.3 .1,.8 .1-1.7 .2,1.8 .2-2.2 .1-.1 .4,.5 .1-.4 .1,2 .1-2 .2,4.9 .1-4.8 .3,6 .2-5.7 0,1.7 .2-2 .1,6.4 .1-4.2 .1,1.1 .1-3.1 .1,.6 .1-.5 .1,6.1 .1-6.2 .1,2 .2-1.9 .1,3 .1-1.7 .1,.8 .1-2 .1,.7 .1-.4 .2,.6 .1,5.1 .1-6 .2,3.6 .1-3.5 .1,5.4 .1-5.6 .1-.1 .1,1.5" stroke="#000000" stroke-dasharray="2.083 3.438" stroke-width="2.083" fill="none"/><path d="M589.7,54.3l.9-.1 .8-.2 .9-.1 .8-.2 .9-.1 .8-.2 .9-.2 .8-.1 .8-.2 .9-.1 .8-.2 .9-.1 .8-.2 .9-.1 .8-.2 .9-.2 .8-.1 .9-.2 .8-.1 .9-.2 .8-.1 .8-.2 .9-.1 .8-.2 .9-.1 .8-.2 .9-.1 .8-.2 .9-.1 .8-.1 .9-.2 .8-.1 .9-.2 .8-.1 .8-.1 .9-.2 .8-.1 .9-.1 .8-.1 .9-.2 .8-.1 .9-.1 .8-.1 .9-.1 .8-.2 .8-.1 .9-.1 .8-.1 .9-.1 .8-.1 .9-.1 .8-.1 .9-.1 .8-.1 .9-.1 .8,0 .9-.1 .8-.1 .8-.1 .9,0 .8-.1 .9-.1 .8-.1 .9,0 .8-.1 .9,0 .8-.1 .9-.1 .8,0 .9-.1 .8-.1 .8,0 .9-.1 .8,0 .9-.1 .8,0 .9-.1 .8-.1 .9,0 .8-.1 .9,0 .8-.1 .8,0 .9-.1 .8,0 .9-.1 .8,0 .9-.1 .8,0 .9-.1 .8,0 .9-.1 .8,0 .9,0 .8-.1 .8,0 .9-.1 .8,0 .9-.1 .8,0 .9-.1 .8,0 .9,0 .8-.1 .9,0 .8-.1 .9,0 .8-.1 .8,0 .9,0 .8-.1 .9,0 .8-.1 .9,0 .8-.1 .9,0 .8-.1 .9,0 .8-.1 .9,0 .8-.1 .8,0 .9-.1 .8,0 .9-.1 .8,0 .9-.1 .8,0 .9,0 .8-.1 .9,0 .8-.1 .8,0 .9-.1 .8,0 .9,0 .8-.1 .9,0 .8,0 .9-.1 .8,0 .9,0 .8-.1 .9,0 .8,0 .8,0 .9,0 .8-.1 .9,0 .8,0 .9,0 .8,0 .9,0 .8,0 .9,0 .8,0 .9,0 .8,0 .8,0 .9,0 .8,.1 .9,0 .8,0 .9,0 .8,.1 .9,0 .8,0 .9,.1 .8,0 .9,0 .8,.1 .8,0 .9,.1 .8,0 .9,.1 .8,0 .9,.1 .8,0 .9,.1 .8,0 .9,.1 .8,.1 .8,0 .9,.1 .8,0 .9,.1 .8,.1 .9,.1 .8,0 .9,.1 .8,.1 .9,.1 .3,0 0,9.2-.3-.3-.9-1.1-.8,.6-.9-.1-.8,1.1-.9,.2-.8-1.6-.9,1.6-.8-1.5-.9,1.1-.8-1.4-.8,1.5-.9-1.3-.8-.9-.9,.2-.8,1.8-.9-2.4-.8,.8-.9-.9-.8,.3-.9,.1-.8,1.7-.8-2.5-.9,2.3-.8,.1-.9-1.5-.8,1.5-.9-2.7-.8,1.7-.9-1.5-.8,0-.9,1.9-.8,.2-.9-2.4-.8,1.8-.8-1.1-.9-.8-.8,1.7-.9-.9-.8-.5-.9,2.2-.8-1.9-.9,.5-.8,.5-.9-1.5-.8,.8-.9,1.1-.8-1.8-.8,2.1-.9-.9-.8,1.4-.9-.2-.8,0-.9-1.7-.8,2-.9-1.4-.8,.7-.9-1.6-.8,2.5-.9-1.3-.8,1.1-.8-1.7-.9,.9-.8-.8-.9-.5-.8,2.3-.9-.2-.8-1.4-.9,1.4-.8-1.9-.9,2-.8,.6-.8-.8-.9,.8-.8-1.3-.9,1.6-.8-.3-.9-.4-.8-1.1-.9,.7-.8,1.2-.9-.5-.8-.8-.9,1-.8-2.1-.8,.8-.9,1.2-.8,.6-.9-2.2-.8,1.5-.9-1-.8,.2-.9,.5-.8-.6-.9-.1-.8,1.3-.9,.6-.8-1.9-.8,.7-.9,.7-.8,0-.9-1.1-.8,1.9-.9-.6-.8-.8-.9-.6-.8,.1-.9,2.1-.8-.3-.9,.9-.8-2.2-.8,.4-.9,.4-.8,1.5-.9-2.2-.8,2.2-.9,0-.8-1.1-.9,1.4-.8-2.3-.9,2-.8-2-.8-.1-.9,2.2-.8-.2-.9-1.4-.8,1.5-.9-1.4-.8,.9-.9-.1-.8-.1-.9,1.3-.8-1.8-.9-.1-.8,1.4-.8,.1-.9-.7-.8,.4-.9,.5-.8-1.9-.9,1.9-.8-2.2-.9,.1-.8,0-.9,1.5-.8-.6-.9-.5-.8,1.7-.8-.8-.9-.3-.8-.5-.9,1.6-.8-1.2-.9,1.1-.8-.2-.9-1-.8,.3-.9-.3-.8,1.1-.8-1.2-.9,.8-.8-.6-.9,.9-.8-.3-.9,.7-.8,.1-.9-1.3-.8,1-.9-.4-.8,.5-.9-.5-.8,0-.8,.7-.9-.7-.8,0-.9,.2-.8,.2-.9,.2-.8-.7-.9,.4-.8,0-.9-.2-.8,.4-.9-.2-.8-.1-.8,.1-.9,0-.8-.1-.9,0-.8,0-.9,.1-.8-.1-.9,0z" fill="#000000"/></g></g><g id="patch_3"><path d="M 54.576 127.8864  L 54.576 6.8904  " style="fill: none; stroke: #000000; stroke-width: 0.8; stroke-linejoin: miter; stroke-linecap: square"/></g><g id="patch_4"><path d="M 541.8 127.8864  L 541.8 6.8904  " style="fill: none; stroke: #000000; stroke-width: 0.8; stroke-linejoin: miter; stroke-linecap: square"/></g><g id="patch_5"><path d="M 54.576 127.8864  L 541.8 127.8864  " style="fill: none; stroke: #000000; stroke-width: 0.8; stroke-linejoin: miter; stroke-linecap: square"/></g><g id="patch_6"><path d="M 54.576 6.8904  L 541.8 6.8904  " style="fill: none; stroke: #000000; stroke-width: 0.8; stroke-linejoin: miter; stroke-linecap: square"/></g><g id="text_7"><!-- $z = 2.0\times10^{6}$ --><g transform="translate(69.1927 121.8366)"><text><tspan x="0.0000" y="-0.9766" style="font-style: oblique; font-size: 10px; font-family: 'DejaVu Sans'">z</tspan><tspan x="7.1973" y="-0.9766" style="font-size: 10px; font-family: 'DejaVu Sans'">=</tspan><tspan x="16.8044" y="-0.9766" style="font-size: 10px; font-family: 'DejaVu Sans'">2</tspan><tspan x="23.0371" y="-0.9766" style="font-size: 10px; font-family: 'DejaVu Sans'">.</tspan><tspan x="26.2158" y="-0.9766" style="font-size: 10px; font-family: 'DejaVu Sans'">0</tspan><tspan x="34.3680" y="-0.9766" style="font-size: 10px; font-family: 'DejaVu Sans'">×</tspan><tspan x="44.3351" y="-0.9766" style="font-size: 10px; font-family: 'DejaVu Sans'">1</tspan><tspan x="50.6254" y="-0.9766" style="font-size: 10px; font-family: 'DejaVu Sans'">0</tspan><tspan x="57.1554" y="-4.3727" style="font-size: 7px; font-family: 'DejaVu Sans'">6</tspan></text></g></g></g><g id="axes_2"><g id="patch_7"><path d="M 54.576 249.1056  L 541.8 249.1056  L 541.8 127.8864  L 54.576 127.8864  z " style="fill: #ffffff"/></g><g id="matplotlib.axis_3"><g id="xtick_45"><g id="line2d_50"><g><use xlink:href="#m1504cfccaf" x="95.837366" y="249.1056" style="stroke: #000000; stroke-width: 0.8"/></g></g></g><g id="xtick_46"><g id="line2d_51"><g><use xlink:href="#m1504cfccaf" x="199.52477" y="249.1056" style="stroke: #000000; stroke-width: 0.8"/></g></g></g><g id="xtick_47"><g id="line2d_52"><g><use xlink:href="#m1504cfccaf" x="303.212174" y="249.1056" style="stroke: #000000; stroke-width: 0.8"/></g></g></g><g id="xtick_48"><g id="line2d_53"><g><use xlink:href="#m1504cfccaf" x="406.899578" y="249.1056" style="stroke: #000000; stroke-width: 0.8"/></g></g></g><g id="xtick_49"><g id="line2d_54"><g><use xlink:href="#m1504cfccaf" x="510.586981" y="249.1056" style="stroke: #000000; stroke-width: 0.8"/></g></g></g><g id="xtick_50"><g id="line2d_55"><g><use xlink:href="#m05db3bdf9b" x="54.576" y="249.1056" style="stroke: #000000; stroke-width: 0.6"/></g></g></g><g id="xtick_51"><g id="line2d_56"><g><use xlink:href="#m05db3bdf9b" x="64.624348" y="249.1056" style="stroke: #000000; stroke-width: 0.6"/></g></g></g><g id="xtick_52"><g id="line2d_57"><g><use xlink:href="#m05db3bdf9b" x="72.834445" y="249.1056" style="stroke: #000000; stroke-width: 0.6"/></g></g></g><g id="xtick_53"><g id="line2d_58"><g><use xlink:href="#m05db3bdf9b" x="79.775984" y="249.1056" style="stroke: #000000; stroke-width: 0.6"/></g></g></g><g id="xtick_54"><g id="line2d_59"><g><use xlink:href="#m05db3bdf9b" x="85.789019" y="249.1056" style="stroke: #000000; stroke-width: 0.6"/></g></g></g><g id="xtick_55"><g id="line2d_60"><g><use xlink:href="#m05db3bdf9b" x="91.092891" y="249.1056" style="stroke: #000000; stroke-width: 0.6"/></g></g></g><g id="xtick_56"><g id="line2d_61"><g><use xlink:href="#m05db3bdf9b" x="127.050385" y="249.1056" style="stroke: #000000; stroke-width: 0.6"/></g></g></g><g id="xtick_57"><g id="line2d_62"><g><use xlink:href="#m05db3bdf9b" x="145.308831" y="249.1056" style="stroke: #000000; stroke-width: 0.6"/></g></g></g><g id="xtick_58"><g id="line2d_63"><g><use xlink:href="#m05db3bdf9b" x="158.263404" y="249.1056" style="stroke: #000000; stroke-width: 0.6"/></g></g></g><g id="xtick_59"><g id="line2d_64"><g><use xlink:href="#m05db3bdf9b" x="168.311751" y="249.1056" style="stroke: #000000; stroke-width: 0.6"/></g></g></g><g id="xtick_60"><g id="line2d_65"><g><use xlink:href="#m05db3bdf9b" x="176.521849" y="249.1056" style="stroke: #000000; stroke-width: 0.6"/></g></g></g><g id="xtick_61"><g id="line2d_66"><g><use xlink:href="#m05db3bdf9b" x="183.463388" y="249.1056" style="stroke: #000000; stroke-width: 0.6"/></g></g></g><g id="xtick_62"><g id="line2d_67"><g><use xlink:href="#m05db3bdf9b" x="189.476422" y="249.1056" style="stroke: #000000; stroke-width: 0.6"/></g></g></g><g id="xtick_63"><g id="line2d_68"><g><use xlink:href="#m05db3bdf9b" x="194.780295" y="249.1056" style="stroke: #000000; stroke-width: 0.6"/></g></g></g><g id="xtick_64"><g id="line2d_69"><g><use xlink:href="#m05db3bdf9b" x="230.737789" y="249.1056" style="stroke: #000000; stroke-width: 0.6"/></g></g></g><g id="xtick_65"><g id="line2d_70"><g><use xlink:href="#m05db3bdf9b" x="248.996234" y="249.1056" style="stroke: #000000; stroke-width: 0.6"/></g></g></g><g id="xtick_66"><g id="line2d_71"><g><use xlink:href="#m05db3bdf9b" x="261.950807" y="249.1056" style="stroke: #000000; stroke-width: 0.6"/></g></g></g><g id="xtick_67"><g id="line2d_72"><g><use xlink:href="#m05db3bdf9b" x="271.999155" y="249.1056" style="stroke: #000000; stroke-width: 0.6"/></g></g></g><g id="xtick_68"><g id="line2d_73"><g><use xlink:href="#m05db3bdf9b" x="280.209253" y="249.1056" style="stroke: #000000; stroke-width: 0.6"/></g></g></g><g id="xtick_69"><g id="line2d_74"><g><use xlink:href="#m05db3bdf9b" x="287.150792" y="249.1056" style="stroke: #000000; stroke-width: 0.6"/></g></g></g><g id="xtick_70"><g id="line2d_75"><g><use xlink:href="#m05db3bdf9b" x="293.163826" y="249.1056" style="stroke: #000000; stroke-width: 0.6"/></g></g></g><g id="xtick_71"><g id="line2d_76"><g><use xlink:href="#m05db3bdf9b" x="298.467698" y="249.1056" style="stroke: #000000; stroke-width: 0.6"/></g></g></g><g id="xtick_72"><g id="line2d_77"><g><use xlink:href="#m05db3bdf9b" x="334.425193" y="249.1056" style="stroke: #000000; stroke-width: 0.6"/></g></g></g><g id="xtick_73"><g id="line2d_78"><g><use xlink:href="#m05db3bdf9b" x="352.683638" y="249.1056" style="stroke: #000000; stroke-width: 0.6"/></g></g></g><g id="xtick_74"><g id="line2d_79"><g><use xlink:href="#m05db3bdf9b" x="365.638211" y="249.1056" style="stroke: #000000; stroke-width: 0.6"/></g></g></g><g id="xtick_75"><g id="line2d_80"><g><use xlink:href="#m05db3bdf9b" x="375.686559" y="249.1056" style="stroke: #000000; stroke-width: 0.6"/></g></g></g><g id="xtick_76"><g id="line2d_81"><g><use xlink:href="#m05db3bdf9b" x="383.896657" y="249.1056" style="stroke: #000000; stroke-width: 0.6"/></g></g></g><g id="xtick_77"><g id="line2d_82"><g><use xlink:href="#m05db3bdf9b" x="390.838195" y="249.1056" style="stroke: #000000; stroke-width: 0.6"/></g></g></g><g id="xtick_78"><g id="line2d_83"><g><use xlink:href="#m05db3bdf9b" x="396.85123" y="249.1056" style="stroke: #000000; stroke-width: 0.6"/></g></g></g><g id="xtick_79"><g id="line2d_84"><g><use xlink:href="#m05db3bdf9b" x="402.155102" y="249.1056" style="stroke: #000000; stroke-width: 0.6"/></g></g></g><g id="xtick_80"><g id="line2d_85"><g><use xlink:href="#m05db3bdf9b" x="438.112596" y="249.1056" style="stroke: #000000; stroke-width: 0.6"/></g></g></g><g id="xtick_81"><g id="line2d_86"><g><use xlink:href="#m05db3bdf9b" x="456.371042" y="249.1056" style="stroke: #000000; stroke-width: 0.6"/></g></g></g><g id="xtick_82"><g id="line2d_87"><g><use xlink:href="#m05db3bdf9b" x="469.325615" y="249.1056" style="stroke: #000000; stroke-width: 0.6"/></g></g></g><g id="xtick_83"><g id="line2d_88"><g><use xlink:href="#m05db3bdf9b" x="479.373963" y="249.1056" style="stroke: #000000; stroke-width: 0.6"/></g></g></g><g id="xtick_84"><g id="line2d_89"><g><use xlink:href="#m05db3bdf9b" x="487.58406" y="249.1056" style="stroke: #000000; stroke-width: 0.6"/></g></g></g><g id="xtick_85"><g id="line2d_90"><g><use xlink:href="#m05db3bdf9b" x="494.525599" y="249.1056" style="stroke: #000000; stroke-width: 0.6"/></g></g></g><g id="xtick_86"><g id="line2d_91"><g><use xlink:href="#m05db3bdf9b" x="500.538634" y="249.1056" style="stroke: #000000; stroke-width: 0.6"/></g></g></g><g id="xtick_87"><g id="line2d_92"><g><use xlink:href="#m05db3bdf9b" x="505.842506" y="249.1056" style="stroke: #000000; stroke-width: 0.6"/></g></g></g><g id="xtick_88"><g id="line2d_93"><g><use xlink:href="#m05db3bdf9b" x="541.8" y="249.1056" style="stroke: #000000; stroke-width: 0.6"/></g></g></g></g><g id="matplotlib.axis_4"><g id="ytick_6"><g id="line2d_94"><g><use xlink:href="#m5d545ce8f8" x="54.576" y="230.051746" style="stroke: #000000; stroke-width: 0.8"/></g></g><g id="text_8"><!-- $\mathdefault{10^{-28}}$ --><g transform="translate(19.7840 234.5350)"><text><tspan x="0.0000" y="-0.9766" style="font-size: 10px; font-family: 'DejaVu Sans'">1</tspan><tspan x="6.3623" y="-0.9766" style="font-size: 10px; font-family: 'DejaVu Sans'">0</tspan><tspan x="12.8203" y="-4.1927" style="font-size: 7px; font-family: 'DejaVu Sans'">−</tspan><tspan x="18.6855" y="-4.1927" style="font-size: 7px; font-family: 'DejaVu Sans'">2</tspan><tspan x="23.1392" y="-4.1927" style="font-size: 7px; font-family: 'DejaVu Sans'">8</tspan></text></g></g></g><g id="ytick_7"><g id="line2d_95"><g><use xlink:href="#m5d545ce8f8" x="54.576" y="209.205079" style="stroke: #000000; stroke-width: 0.8"/></g></g><g id="text_9"><!-- $\mathdefault{10^{-23}}$ --><g transform="translate(19.7840 213.6883)"><text><tspan x="0.0000" y="-0.9766" style="font-size: 10px; font-family: 'DejaVu Sans'">1</tspan><tspan x="6.3623" y="-0.9766" style="font-size: 10px; font-family: 'DejaVu Sans'">0</tspan><tspan x="12.8203" y="-4.1927" style="font-size: 7px; font-family: 'DejaVu Sans'">−</tspan><tspan x="18.6855" y="-4.1927" style="font-size: 7px; font-family: 'DejaVu Sans'">2</tspan><tspan x="23.1392" y="-4.1927" style="font-size: 7px; font-family: 'DejaVu Sans'">3</tspan></text></g></g></g><g id="ytick_8"><g id="line2d_96"><g><use xlink:href="#m5d545ce8f8" x="54.576" y="188.358412" style="stroke: #000000; stroke-width: 0.8"/></g></g><g id="text_10"><!-- $\mathdefault{10^{-18}}$ --><g transform="translate(19.7840 192.8416)"><text><tspan x="0.0000" y="-0.9766" style="font-size: 10px; font-family: 'DejaVu Sans'">1</tspan><tspan x="6.3623" y="-0.9766" style="font-size: 10px; font-family: 'DejaVu Sans'">0</tspan><tspan x="12.8203" y="-4.1927" style="font-size: 7px; font-family: 'DejaVu Sans'">−</tspan><tspan x="18.6855" y="-4.1927" style="font-size: 7px; font-family: 'DejaVu Sans'">1</tspan><tspan x="23.1392" y="-4.1927" style="font-size: 7px; font-family: 'DejaVu Sans'">8</tspan></text></g></g></g><g id="ytick_9"><g id="line2d_97"><g><use xlink:href="#m5d545ce8f8" x="54.576" y="167.511745" style="stroke: #000000; stroke-width: 0.8"/></g></g><g id="text_11"><!-- $\mathdefault{10^{-13}}$ --><g transform="translate(19.7840 171.9950)"><text><tspan x="0.0000" y="-0.9766" style="font-size: 10px; font-family: 'DejaVu Sans'">1</tspan><tspan x="6.3623" y="-0.9766" style="font-size: 10px; font-family: 'DejaVu Sans'">0</tspan><tspan x="12.8203" y="-4.1927" style="font-size: 7px; font-family: 'DejaVu Sans'">−</tspan><tspan x="18.6855" y="-4.1927" style="font-size: 7px; font-family: 'DejaVu Sans'">1</tspan><tspan x="23.1392" y="-4.1927" style="font-size: 7px; font-family: 'DejaVu Sans'">3</tspan></text></g></g></g><g id="ytick_10"><g id="line2d_98"><g><use xlink:href="#m5d545ce8f8" x="54.576" y="146.665078" style="stroke: #000000; stroke-width: 0.8"/></g></g><g id="text_12"><!-- $\mathdefault{10^{-8}}$ --><g transform="translate(24.1840 151.1483)"><text><tspan x="0.0000" y="-0.9766" style="font-size: 10px; font-family: 'DejaVu Sans'">1</tspan><tspan x="6.3623" y="-0.9766" style="font-size: 10px; font-family: 'DejaVu Sans'">0</tspan><tspan x="12.8203" y="-4.1927" style="font-size: 7px; font-family: 'DejaVu Sans'">−</tspan><tspan x="18.6855" y="-4.1927" style="font-size: 7px; font-family: 'DejaVu Sans'">8</tspan></text></g></g></g><g id="text_13"><!-- $S_{\rm ac}(k,z)$ --><g transform="translate(15.0723 207.8960) rotate(-90)"><text><tspan x="0.0000" y="-0.4062" style="font-style: oblique; font-size: 10px; font-family: 'DejaVu Sans'">S</tspan><tspan x="18.6606" y="-0.4062" style="font-style: oblique; font-size: 10px; font-family: 'DejaVu Sans'">k</tspan><tspan x="29.5786" y="-0.4062" style="font-style: oblique; font-size: 10px; font-family: 'DejaVu Sans'">z</tspan><tspan x="6.3477" y="1.2344" style="font-size: 7px; font-family: 'DejaVu Sans'">a</tspan><tspan x="10.6372" y="1.2344" style="font-size: 7px; font-family: 'DejaVu Sans'">c</tspan><tspan x="14.7593" y="-0.4062" style="font-size: 10px; font-family: 'DejaVu Sans'">(</tspan><tspan x="24.4517" y="-0.4062" style="font-size: 10px; font-family: 'DejaVu Sans'">,</tspan><tspan x="34.8276" y="-0.4062" style="font-size: 10px; font-family: 'DejaVu Sans'">)</tspan></text></g></g></g><g transform="scale(0.72)"><clipPath id="cp1"><rect x="75.80" y="177.62" width="676.70" height="168.36"/></clipPath><g clip-path="url(#cp1)" stroke-linejoin="round"><path d="M75.8,228.8l14.6-2.4 14.2-2.1 12.7-1.6 17.6-2 9.1-.8 7.6-.6 14.1-.4 3.8,.1 3.2,.4 2.6,.7 2.1,1.2 1.6,1.5 1.2,2 .8,2.5 .5,2.6 .6,4.8 .1,.6 .4-.6 1.1-3.5 .7-2 1-1.9 1.1-1.7 1.5-2 1.8-1.9 2.1-1.9 2.4-1.9 3.2-2.2 3.6-2.1 3.7-1.9 3.8-1.8 3.7-1.5 3.6-1.1 3.5-.9 3.3-.6 2.8-.3 3.2-.1 2.9,.1 2.8,.3 2.5,.5 2.2,.6 1.9,.8 1.7,1.1 1.4,1.1 1.1,1.2 .9,1.4 .8,1.6 .5,1.8 .5,1.9 .8,6.1 .8-6.5 .8-3.7 .7-1.8 .8-1.4 .9-1.4 1.1-1.3 1.4-1.2 1.7-1.1 1.9-.9 2-.7 2-.4 2.2-.2 2,.1 1.8,.4 1.7,.8 1.6,1.1 1.2,1.5 1,1.8 .6,2.1 .6,2.6 .3,3.1 .3,5.3 .5-6.2 .4-3.5 .7-3.3 1.1-2.5 1.5-2.4 .9-1 1-.9 1.1-.7 1.1-.5 1.2-.3 1.2-.2 1,.1 1,.2 .9,.4 1,.6 .8,.7 .7,.9 1.1,2.1 .8,2.5 .5,3.2 .3,4.3 .3,6.1 .1-5.5 .4-4.8 .5-3.4 .7-2.5 1.1-2.4 1.4-1.9 .8-.7 .9-.4 .9-.4 .9-.1 .9,.1 .8,.2 .8,.4 .8,.7 1.1,1.6 1,2.3 .6,2.6 .4,3.6 .4,11 .4-10.7 .3-3.3 .6-3 .8-2.5 1.2-1.9 1.4-1.2 .7-.4 .8-.1 .8,.1 .6,.3 .7,.4 .6,.7 1,1.7 .8,2.4 .4,2.3 .3,3.4 .4,12.2 .3-12 .3-3.5 .5-2.5 .7-2.5 1-1.8 1.1-1.2 .6-.3 .6-.1 .6,0 .6,.3 .6,.5 .5,.6 .9,1.7 .6,2.4 .5,2.8 .2,3.2 .2,4.4 .1,8.3 .2-11.5 .3-3.8 .4-3.2 .6-2.4 .8-2 1.1-1.3 .5-.3 .6-.1 .5,.1 .5,.2 .9,1.1 .8,1.8 .6,2.5 .3,2.7 .2,3.8 .3,12.6 .2-12.4 .2-4 .4-2.8 .5-2.3 .7-2.1 1-1.2 .4-.3 .5-.1 .5,.1 .4,.3 .8,1 .7,1.8 .5,2.5 .5,5.9 .2,13.8 .1-11 .2-4.3 .3-3.9 .5-2.8 .6-1.9 .9-1.4 .4-.3 .5-.2 .4,.1 .4,.3 .8,1.3 .6,1.9 .4,2.6 .4,6.2 .2,13.4 .1-10.2 .3-6.8 .4-4 .7-3 .4-1 .4-.7 .5-.4 .5-.1 .5,.3 .4,.6 .8,2.1 .4,2.2 .4,3.6 .3,12.1 .2-9.8 .4-5.7 .4-2.5 .5-1.7 .6-1.1 .4-.3 .3-.1 .3,0 .4,.3 .6,1.3 .6,1.9 .3,2.4 .3,5.3 .2,14.6 .1-10.7 .3-8.3 .3-2.3 .4-2.3 .5-1.5 .5-.8 .4-.2 .3-.1 .3,.3 .4,.4 .6,1.7 .4,2.4 .4,6 .2,13.6 .1-9.4 .2-7.3 .5-4.6 .4-1.7 .6-1.2 .3-.4 .3-.1 .4,.1 .2,.3 .5,1.2 .5,1.9 .5,5.7 .2,10 .2-9.4 .2-4.1 .4-2.7 .5-2.1 .6-1 .3-.2 .3,.1 .6,.9 .6,2.4 .3,3.1 .2,5.9 .1,7.2 .4-12.4 .3-3.6 .5-2.5 .5-1.1 .3-.3 .3,0 .4,.4 .2,.5 .4,1.6 .5,4.6 .4,10.7 .1-8.8 .5-5.5 .3-1.9 .4-1.3 .5-.5 .2-.1 .3,.2 .3,.7 .3,1.2 .5,4.3 .3,7.2 .1,10.7 .2-14.8 .2-4.5 .4-3.1 .5-1.7 .3-.3 .2-.1 .4,.2 .2,.5 .5,1.7 .3,2.9 .2,2.8 .2,9.4 .2-9 .2-4.1 .6-3.3 .3-.9 .4-.5 .4,.4 .5,1.3 .5,4.1 .2,6.9 .1,14.6 .1-14.8 .2-5.4 .5-5.2 .3-1.3 .4-.8 .3,0 .1,.2 .4,.8 .5,3.2 .3,7 .1,7.8 .4-13.2 .4-4 .5-1.7 .2-.3 .2,0 .3,.5 .4,1.3 .2,1.8 .3,3.6 .2,10.2 .3-11.3 .3-3.8 .5-2.1 .2-.3 .3-.1 .3,.5 .3,1.3 .3,1.9 .3,3.9 .1,9.6 .4-11.8 .2-2.8 .4-1.9 .3-.8 .2-.1 .2,.2 .4,.9 .2,1.5 .3,4.6 .2,8.2 .3-8.4 .2-3.8 .5-2.8 .3-.5 .2-.1 .1,.2 .3,.6 .2,1.2 .4,3.7 .1,4.9 .1,9.2 .3-13.5 .2-3.5 .5-2.4 .3-.5 .2,0 .1,.3 .3,.8 .2,1.8 .3,3.6 .2,9.2 .2-8.9 .4-4.6 .2-1.5 .3-.9 .2,0 .2,.2 .2,.8 .3,1.6 .2,3.3 .3,13 .1-8.8 .2-6.2 .5-3.2 .2-.7 .3-.2 .2,.5 .3,1.2 .3,3.9 .3,16.1 .1-11.4 .1-5.1 .4-4.2 .3-.9 .2-.2 .1,0 .3,.6 .2,1.5 .4,5.2 .2,17.9 .1-18.1 .3-4.3 .2-1.9 .3-.9 .2-.2 .1,.1 .3,.8 .4,4.1 .2,5.2 .1,13.3 .1-16.3 .3-4.5 .3-2.2 .3-.6 .1,0 .2,.4 .4,2.9 .3,5.8 .1,7.5 .2-11.2 .4-4.6 .3-.8 .2-.2 .1,.1 .2,.8 .3,1.9 .2,4.9 .2,8.1 .1-7 .2-5.7 .4-2.9 .3-.3 .2,.3 .3,2.1 .3,4.6 0,11.4 .2-11.9 .2-3.1 .4-3.3 .3-.2 .1,.1 .4,2.2 .1,4.5 .1-2.2 .3,19 .1-19.3 0,.3 .1-2.5 .1,1 .3-3.2 .1,.5 0-.5 .1,0 .2,1.1 .1-.9 .1,2.4 0-.5 .4,11.5 .2-10.2 0,4 .2-2 .1-4.3 .1,1.3 .1-2.5 .1,.3 .2-.3 .2,0 .1,1.6 0-.5 .2,13.4 .1-12.5 .1,8.1 .1-6.9 .1-1.3 .1,3.2 .1-4.3 .1,4.5 .1-4.9 .2-.5 .1,.8 .1-.7 .1,.4 .1-.5 .1,4.2 .1-2.4 .3,23.8 0-22.2 .1,3 .2-5.5 .1,10.7 .1-11.2 .1,2.1 .1-2.5 .1-.1 .1,.7 .2-.8 .1,.1 .1,6.6 .1-6.7 .1,1.7 .1,24.6 .1-20.6 .1,5 .1-3.2 .1,2.7 .1-10.2 .1,1.8 0-1.8 .1,.1 .1-.1 .1,.1 .1-.2 .1,.2 .1,2.7 0-1.1 .1,.9 .1,11.1 .1-12 .1,8.3 .1-6.8 0,6.1 .2-2.6 .1,16.7 .3-23.5 0,6.5 .2-6 .1-.1 .1,.9 .1-1.4 .1,3.5 .1-3.4 .1,8.2 .1-7.5 .1,1.5 .1-.3 .1,3.5 .1-5.2 .1,9.5 .1-9.6 .1,15.2 0-15.4 .1,1 .1-.7 .1,.2 .1,0 .1,1.1 .1-1.7 0,.1 .2,6.2 .1-6.2 .1,4.4 .1-3.5 .1,2.2 .2,9.3 .1-11.5 .2,.4 0,3.4 .1-2.8 .1,1.9 .1-3.4 .2-.5 0,.3 .1-.2 .1,23.3 .2-21 .2-2.4 0,3.6 .1-.4 .1,11.6 .1-13.4 .1,.6 .1-2.1 .2-.1 .1,.7 .1-.5 .1,3.3 .1-3.1 .1,24.6 .1-19.5 .2-1.2 .1-4.3 .1,0 .1,3.2 .2-3.1 .1-.2 .1,.2 .1,8.9 .1-7.7 .1-.4 .1,1.2 .1,4.5 0-1.2 .1,1.2 .1-4.5 .1,9.2 .1-11.3 .2,11 .1-11 .1-.2 .1,1.2 .1,5.7 .1-6.9 0,11.2 .1-11.2 .2,9.8 .1-7.8 .1,2.1 .1-4 0,12.8 .1-12.4 .2,4.2 .1-4.2 .1,1.7 0-1.1 .1,17.5 .1-14.8 .1,.8 .1-1.1 .1,2.9 .1-3.1 .2,2.4 .1,14.5 .1-20.3 .1,2.6 0-.2 .1,12.8 .2-15.2 .1,1.7 .2-1.5 0-.2 .1,.8 .1-.5 .2,11.6 .2-12 .3,11.2 .1-11.1 .1,1.1 .1,7.1 .2-8 .1,2.6 .1-3 0,.6 .1-.3 .1,2.2 .1-1.4 .2,2.6 .1-3.7 0,13 .1-11.9 .1-.8 .1,4.5 .1-3.4 .1,1.7 0-3.2 .1,6.7 .4-6.5 .1,14 0-13.5 .1,6 .1,.2 .1-.5 .1-3 .1,1.5 0-2.4 .1,13.5 .1-13.9 .2-2.2 .2,.6 .1,2.6 .1-3.2 .1,.2 .2,9.1 0-9.1 .1,9.2 .2-8.9 .1,7.2 .1-7.7 .1-.1 0,4 .1-3.2 .1,1.2 .2-1.8 .1,.8 0-1 .2,0 .2,.7 .1-.5 .1,2.9 0-2.5 .1-.5 .2,1.4 .1-1 .1,15.9 .1-16.3 .1-.1 .1,1.4 .1,8.4 .1-9.9 .1,.2 .2-.2 .1,5.3 .2-5.3 0,10.2 .1-6.2 .1-.7 .1,3.1 .1-6.4 .2,.2 .1,.3 .1,5.5 .1-5.2 .1,0 .1,4 0-2.6 .1,.2 .2-2 .1,2.7 .1,.3 .1-.7 0,3.9 .1-5.7 .1,1.5 .2-2.5 .1,3.3 0-3.1 .1,6.7 .2-5.8 .1,19.5 .1-20.6 .2,5.1 .1-3.9 .1-.6 .1,.6 .1-1.1 0,.3 .3,6.7 .1,8.2 .2-14.1 0-1.3 .1-.1 .1,1 .1-.7 .2,4.2 0-2.5 .1,2 .1-3.5 .2,20.3 .1-20.4 .1,6.3 .1-6.2 .1,6.7 .2-7.3 .1,3.5 .1-2.7 .1,14.2 .2-13.7 .1,13.1 .1-9.8 0,3.3 .1-7.9 .1,0 .2,.9 .1,7.7 0-6.4 .2-1.4 .1,3 .1-1.4 .1,2.3 .1-2.7 0,3.4 .1-4.7 .1,.3 .1-1 .1,.2 .1-.2 0,4.4 .1-1.9 .1,3.8 .1-5.3 .1,15.8 .1-14 .1,.1 0-1.8 .1,0 .1,2.5 .1,0 .1-3.7 .1,.1 0,5.9 .2-5.8 .2,10.6 .1-10.1 .1,1.3 .1-2.2 .1,5.6 .1-3.9 .1,5.5 .1-7 .1,9.1 .1-8.5 .1,3 .1-3.5 .2,3.1 .1-1.9 .1,1.9 .1-2.4 .2-1 .1,.5 .4,6.4 .2-5.7 .1,9.4 .1-7.6 .2-3 .1,3.7 .2-3.8 .2,2.9 .1-2.5 0,6.4 .1-5.9 .1,6.8 .1-7.6 .2,11.2 0-10.8 .2,12.1 .2-11.9 .1,5.4 0-6.3 .2,.5 .1-.4 .1,3.5 .2-3.6 .1,20.3 .1-19.8 .2,3.7 .2-4.2 .1,7.8 .2-7.7 .1,5 .1-3.4 .1,13 .1-12.6 .2-2.3 .1,.6 .2,1.7 .1-2.3 .1,.8 .1-.4 .1,3.7 0-3.4 .2,6.8 .1-6.8 .1,1.7 .1-2.2 0,5.1 .1-5.3 .1,1.7 .1-1.3 .1,1.9 .1-2.2 .1-.2 0,.3 .1,6.1 .1-5.6 .1-.7 .1,1.7 .1,4.2 0-4.9 .1,1.1 .1-.1 .1-1.7 .3,7 0-7.4 .1,9.1 .1-9.1 .1,.1 .1,23.8 .1-22.2 0,8.3 .1-8.3 .2,7.5 .1-7 .1,2.3 .1-4.4 0,3.6 .1-3.5 .2,7.3 .2-7.7 0,4.9 .1-4.1 .1-.2 .1,3.8 .1-3.2 .1-1.2 .1,.2 0,7.3 .1-7.4 .2,10.4 .1-8.6 .1,3.9 0-4.8 .1,9.1 .1-9.2 .1,1.1 .1-2.1 .2,2.3 0-1.7 .1,.8 .1-1.3 .1,.2 .1-.3 .1,1.1 0-1.1 .1,23.2 .2-21.1 .2,2.9 .1-5.1 0,2.2 .2,13.4 .1-15.1 .1,2.8 .1-3.1 .2,7 .2-6.7 .2,2.2 0-1.6 .1,4.3 .1-2.8 .2,7.6 .2-10.3 .3,3.7 .1,9.8 .1-10.4 0-2.8 .1,0 .1,26.1 .1-23.1 .2-3.4 .1,2.1 .1-.8 .2,6.3 .1-7 .1,2.1 .1-2.7 .1,11.6 .2-10 .1,.8 0-2.2 .2,4.8 .1-3.2 .1,1.8 .1-2 .1,6.4 0-6.4 .1-1.7 .1,.8 .1,10.2 .1-11 .1,1.8 0-1.4 .1,9.3 .3-9.8 .1,7 .1-4.9 0,2.4 .2-4.1 .2,5.6 .1-6 0,5.8 .2-5.8 .1,2.7 .1-1.5 .1,3.1 .1-3.7 0,16.4 .1-15.7 .2,2.2 .1-3.2 .1,.6 0-.3 .1,6.2 .1-6.8 .1,4.4 .1-4.6 .1,3.7 .1-3.4 0,17 .1-16.9 .1,7.4 .1-7.4 .1,4.7 .1-.6 .1,11.6 .1-16.1 .1,2.1 .1-2.1 .1,9 .1-8.8 .1,12.2 .1-12.5 .1,7.1 .2-6.1 0,13.5 .1-14 .1,17.7 .1-18.2 .3,2.8 .1-2.7 .1,7 .1-6.2 .1,.4 .1-1.2 0,.4 .1,6 .1-2.1 .1,.1 .1-3.9 .1,3 .1-3.7 .1,3.5 .1-3.5 .1,2.3 .1-1.7 .1,22.2 0-22.7 .3,4.2 .1-4.1 .1,5.1 .1-5.3 .1,10.8 .1-10.2 .1,3.9 .1-4.5 .1,1.1 0,17 .1-15.7 .1,1.9 .2-2.9 .1,1.6 .1-3.1 .1,.9 .1,3 .3-3.7 .1,9.5 .1-7.6 .1,6.3 .1-8.4 .1,7.3 .2-5.2 .1,3.5 .1-5.7 .2,.2 .1,9.1 .2-8.9 .1,1.3 .1-1.7 .1,5.4 .1-5.3 .1,9.9 .1-9.3 .2,5.7 0-6 .2,2.1 .1,8.8 .2-10.1 .1,2.9 .3-4.1 .1,.4 .1,8 .1-8.5 .1,7.7 .1-7.6 .1-.1 .1,9.6 .1-9.5 .1,8.8 .1-7.7 .2,10.6 .1-11.8 0,15.2 .1-14.8 .1-.4 .1,0 .2,20.4 .1-19.1 .1,4 .3-5.3 .1,4.4 .1-4.5 .2,5.4 .2-4.1 .1,1.2 .2-2.5 .1,8.5 .1-4.9 .1,1.7 .1-4.9 .1,2.4 .1-1.7 .1,6.1 .2-7 .1,.7 .1-.9 .2,7.7 .1-7.4 .2,11.1 .1-9 .2,16.8 .1-11 0,3.8 .1-9.2 .1,4.7 .2-7.5 .1,14.9 0-11.5 .1,4.1 .1-.5 .1,8.2 .2-14.4 .1,9 0-9.2 .2,8.6 .1-9.3 .1,7.1 .1-5.7 .1-1.4 .1,11.2 .1-10.9 .1-.2 .1,2.4 .1-1.8 0,13.2 .3-13.6 .1,6.5 .1-6.8 .1,3 .2-3 .1,4.1 .2-4.2 0,.2 .1,6.9 .2-6.5 .2,.7 .1,6.5 .2-7.8 .1,.3 .1,8.5 .1-8.3 .2,6.9 .1-7.5 .2,5.4 .1-5.4 .1,1.5 .1-1.2 .2,.7 0,3.6 .1-2.8 .1,17.4 .1-17.7 .1,1 .1-.3 .1,.8 0-3 .2,7.7 .2-7.7 .1,4.7 .1-4.8 .1,4.4 .1-4 .1,.4 .1-.3 .1,8.7 .1-8 .2,2.1 .1-3.2 .1,7.7 .3-7.8 .3,.7 0,4.9 .1-5.3 .2,3.9 .2-3.2 .1-1 .1,.1 .2,9.4 .2-9.4 .1,0 .1,2.8 .2-2.9 .1,17.6 0-17.6 .1,10.6 .1-8.4 .1,4.9 .1-6.3 .1,.7 .1,15.1 0-15 .1,3.8 .2-4.9 .1-.5 .1,.2 0,4.8 .1-3.3 .2,1.6 .1-3.4 .1,2.6 .1-2.4 .2,8.8 .1-8.3 .1-.6 .1,0 0,7.8 .1-7.9 .3,3.8 .1-3.2 .1,3.6 .1,13.7 .2-17.6 .1,7 .1,.9 0-.4 .1-5.7 .2,6.8 .1-8.9 .1-.1 .1,.3 .1-.3 .1,3.7 .1-2.3 .1,1.7 .1-2.2 0-.7 .1,.5 .1,5.5 .2-4.6 .1,7.2 .1-8 0,1.1 .1-1.9 .1,6.9 .1-4.3 .2-2.5 .2-.1 .1,.1 .1,5.4 .1-4.3 .1-1.3 .1,.5 .1,7.8 .1-6.2 .1,4.3 .1-5.4 .1,4.4 .1-1.1 .1,.3 .1-4.4 .1,8.4 .1-7.6 0,6.6 .1-3.8 .1,5.1 .2-8.9 .2,4.7 .1-4.7 .1,8.3 .1-7.9 .1,13.5 .1-13.9 .1,6.1 .1-6.1 .1,11.8 .1-9.1 .1,8.4 .1-11 .1,0 .3,23.6 .1-22.2 0,2 .1-1.5 .1,2.8 .1-1.2 .1,5 .1-8.6 .2,25 .1-24.7 .1,.5 .1-.8 .1,14.6 .1-14 .2,1 .1,2.3 .1-.1 .1,14 .1-17.4 .2-.4 .1,6.8 .3-6.9 .2,1.8 .1-1.5 0,1.1 .1-1 .1,1.2 .1-.2 .1,.7 .1-2.1 .1,6.7 .1-6.7 .1,4 .2-3.5 .1,18.8 0-18.6 .2,3.5 .1-3.3 .1,11.7 .2-12.4 .1,8.3 .4-8.4 0,1.1 .1-1.2 .2,.2 .1,5.7 .1-4.8 .1,.3 0-.4 .1-1.1 .2,1.8 .1-.6 .1,.1 0,5.3 .1-4.8 .2-1.8 .1,1.9 .1-1.8 .1,0 .2,.9 .1,22.1 .2-19.8 0-2.5 .3,6.8 .1-7.4 .1-.2 .1,8.3 0-8.3 .1,1.6 .2-1.5 .1-.1 .1,.6 0,1.3 .1-1.3 .1,7.5 .2-8.1 .1,.8 .1-.7 0,.1 .1,6 .4-6.1 0,7.2 .1-7.2 .1,.7 .3-.6 .1,1.9 .1-1.6 .1,1.4 .1-1.5 .1,8.9 .1-9.2 0,1.7 .1-1.8 .1,3.5 .1-3.5 .1,1 .1-1 .1,4.5 .1-4.2 .1,16.7 .1-12.2 .1,1.9 .1-5.5 0,1.3 .1-2.5 .1,2.3 .1-1.6 .1,0 .2,2.2 .2-2.4 .1,1.6 .1-1.4 .1,1.5 0-2.2 .1,.2 .2,13.9 .2-14.1 .1,.2 0,14.3 .2-14.3 .2,9 .1-7.9 0,9 .1,0 .1-8.9 .2,9.1 .2-10.4 0,10.3 .1-10.3 .1,2.4 .1-2 .1,3.1 .1-3.4 .1,3.5 .2-3.6 .1,14 .2-11.3 .1,5.3 .2-6.1 .2-1.9 .2,1.3 .2-1.3 .1,0 .1,3 0-2.6 .1,.5 .1-.7 .1,1.8 .2-2 .1,.1 .1,2.8 .1-2.2 .1,.2 .1,8 .1-5 .1,.4 .2-3.9 .1,9.3 .1-9.5 .1-.1 .1,6.9 .1-6.2 .1,5.4 .1-6 .1,0 .1,1.6 .1-.8 .2,2.9 .1,11.9 0-15.6 .2,3.8 .2-2.7 .2,4.8 0-5.8 .1-.1 .1,15.3 .2-15.3 .1,17.3 0-12.7 .2,2.5 .1-6.8 .1,16.8 .1-15.8 .1,17.1 .2-18 .1,.5 .1-.3 .1,.4 0,7.9 .1-7.4 .2-1.4 .1,.8 .1,10.7 .1-9.2 0,.6 .1-2.5 .1,1 .2-1.3 .1,6.6 .1-6.4 .1,3.4 .1-2.8 .1,4.2 .1-4.5 .1,0 0,2.6 .1-.1 .2,1.9 .2-4.8 0,8.5 .1-7.9 .1,8.8 .1-9 .2,7.9 .1-8.2 .3,.5 .2,8.4 .2-8.8 .2,4.6 .1-2.8 0,2.7 .1-4.1 .2,4.3 .2-3.9 .1,2.4 0-1.6 .1,5.4 .1-6.9 .2,.5 .1-.4 0,19.5 .1-15.9 .2-3.5 .1,2 .1-.3 .1,.3 0,3.5 .1-5.1 .1,.5 .1-.1 .1-.7 .1,10.1 .1-10.3 .1,6 .2-5.9 .1,4.8 .1-3.8 .2,5.3 .1-5.5 .1,11.7 .1-11.1 0,3.8 .1-5.1 .2,5.1 .1-3.6 .1,0 .1,11.1 0-10.2 .1,0 .1,7.3 .2-9.5 .1,1 0-.9 .1,4.7 .1-4.5 .2,9.4 .1-3.9 .1,6.3 .1-11.6 .1,5.7 .3-6 0,9.3 .1,.2 .1-8.4 .1,6.1 .1-7.2 .1,6.6 .1-6.5 0,7.5 .1-6.7 .1,5.4 .1-6 .1,8 .1-5.4 0-.7 .1,2.6 .1-4.6 .1,7.1 .1-7 .1,2.8 .1-2.3 0,3.6 .1-3.9 .2,.4 .1-.3 .1,3 0-3.2 .1,1.9 .2-2 .1,19.6 .1-19 .1-.5 0,4.7 .1-4.5 .2,2.2 .1-1.8 .1,8.1 0-8.1 .1-.6 .1,2.3 .2-2.2 .1,8.4 .1-8.4 .2,13.3 .1-10.3 .1,8.4 .1-11.1 .1-.1 .1,.5 .1,19.2 .1-17.1 .1-1.3 .1,11.1 0-10.9 .1,3.4 .1-3.2 .2-1.6 .1,2 .1,18.7 .2-20.6 .1,8.8 .1-7.1 .1,.7 0-2.4 .1,.3 .1-.1 .2,1.6 .1-1.6 0,.5 .2,4 .1-4 .1,2.7 .1-3.2 .1,10.9 .1-9 .1-.8 .1,3.2 .1-4.2 .1,6.4 .1-6.1 .2,16.4 .2-16.1 .1,.8 0-1 .2,21.9 .1-20.5 .1-.8 .1,5.7 .1-6.4 .1,2.5 .2-2.2 .1,2.4 .1,1.2 .1-3.2 .1,7.9 .2-8.3 .1,1.2 0-1.1 .1,1.2 .1-1.3 .2,1.2 .2-1.1 0,.4 .2,8.4 .2-8.7 .1,.1 0,17.6 .2-17.4 .1,3.6 .1-2 .1,17.7 .1-14.2 0,6.1 .2-10.7 .1,6.3 .1-6.6 .1,21.1 .1-18 .2,1.6 .2,8.5 .1-13.2 0,1.3 .1,.1 .1-.8 .1,13.5 .1-12.2 .1-1.8 .1,2 .1-1.9 .1-.2 .1,.6 .1,4.1 .1-4.4 0,1.4 .1-1.5 .1,1.1 .1-1.1 .1,3.3 .1-2.6 0,1.1 .1-1.6 .1-.2 .1,1.3 .1-.8 .1,.6 .1-.8 .1,9.4 .1-4.7 .1-1.2 .1,1.1 .2-4.6 .1,2.4 .1-1.4 .1,.1 .1,1.7 .1,7.7 0-8.7 .1,2.5 .2-3.6 .1-.3 .1,2.8 0-1 .1,.4 .1-2.4 .1,1.7 .3-1.5 0,8.4 .2-8 .1,3.7 .1-2.5 .1-.7 .2,5.5 .2-1.3 .1-4.5 .1,8.1 0-3.4 .1,10 .1-14.7 .1,15.9 .2-14 0,9.9 .1-7 .1,0 .1,3.6 .1-6.6 .2-.9 0,.2 .1,8.3 .1-8.9 .1,11.7 .1-8.4 .1,2 0-4 .1,3.6 .2-4.5 .1,1.6 .1-1.6 .1,.1 .1,.4 .1,3.6 .1-3.3 .2,2.5 0-2.1 .1-.4 .2,.2 .1-.4 .2,9.3 0-7.9 .1,5 .2-5.9 .1,21.2 .1-20.7 .4,1.8 .2-2 .1,2.8 .1-2.7 .1,8.3 .2-8.1 0,3.8 .1-3.4 .1,5.3 .1-5.5 .1,1 .1-.5 .1,.1 0,2.6 .1,.1 .1-1.7 .1,5 .4-6 .1,4.7 .2-3.9 .1,1.2 0-1.5 .1,1.5 .1-1.6 .1,2.6 .1-.6 .1,16.3 .1-17.8 .2,1.7 .1-.5 .1,10 .1-10.6 0,2.9 .3-3.2 .2,4.3 .2-2.7 .3,8.2 .1,0 .1-8.9 .1,.7 .1-.8 .1,1.7 .1-1.6 0,1.1 .2,7.2 .1-6.7 .1,.6 .1-1 .1,9.2 0-8.8 .1-.1 .1,.4 .1-1.1 .2,7 0-6.8 .1-.1 .2,.5 .1-.3 .1,8.5 .1-8.3 0,3 .1-2.9 .1,5.3 .1-2 .2,12.7 0-13.6 .1,.3 .1-1.3 .2-.5 .1,1.8 .1,11.6 0-6.1 .1,2.9 .2-9.5 .2,1.5 .2-1.8 .1,6.2 .1-4.8 .1-.5 0,.8 .1-1 .1,12.4 .1,.2 .1-12.7 .1,9.6 .1-9.4 .2,6.2 .1-2 .1,8.6 .1-10.5 .1,7.7 .1-2.8 .1,10.3 .2-16.5 .1,14.5 .1-11 .1,5.5 .1-.6 .1-7.3 .1,6.1 .1-5.2 .1,0 .2,3.2 .1,13.1 .1-17.1 .1-.1 .1,5.3 .1-4.7 .1-.4 .1,1.1 .1-.9 .1,13.4 .1-12.5 .1-.5 .1,9.9 .1-8.2 0,6.9 .1-8.3 .1,2.4 .1-2.2 .2,.8 0,8.7 .2-7.1 .1,4.6 .1-6.3 .2,18.8 .2-16.3 .2-2 .1,8.7 .3-8.6 .2,6.7 .1-5.4 0,3.6 .1-4.2 .4,3.7 0,6.6 .1-10.2 .2,6.9 .1-4.9 .2-.2 0,6.4 .2-7.4 .2,9.6 .1-8.9 .1,3.7 .1-4.1 .1,.1 .2,3.4 .1-1.3 0,18.2 .1-18.2 .3,5.9 .1-7.3 .1,3.1 .1-.7 .1,8.4 .1-4.4 .1,9 .1-12.8 0-.8 .1,5.7 .1-6.7 .3,8.7 .1-8.2 .1,4 .1-4 .1,1 .1-.6 .1,9.1 0-5.4 .1,1.3 .1-3.9 .2-.9 .1,3.8 0-3 .1-.6 .1,.4 .1-.3 .1,.1 .1,11.1 .1-8.9 0,12.4 .1-13.2 .2-.9 .1,11.2 .1-10.6 .1,.6 .1-.8 .1,3.8 .1-3.4 .1,4 .1-3.5 .1,.7 .2-.5 .1,5.7 .1-.1 0-4.6 .2,.7 .1,9.4 .2-9.3 .1,2.5 0-4 .1,6.4 .2-6.2 .2,1.9 0,3.6 .1-5.1 .2,4.7 .2-3.6 .1,11.2 0-11.8 .2,7.3 .1-6.9 .1,4.4 .1-4.4 .1,.3 .1-.1 .1,1.6 .1-1.4 .1,.1 .1,3.1 .1-2.9 .1,5.1 .2-2.2 .1,.9 .1-3 .1-.1 .1,2.6 .2-2.5 .1,2.3 .2,16 .1-15.3 .1-1 .1,1.8 0-1 .1,1.1 .1-3 .1,1.3 .1-1.1 .2,.1 0,1.8 .1-1.6 .1,2.1 .1-1.9 .1,3 .1-2.8 .1,1.9 .1-.8 .1,11.3 .1-11.6 .1,7.6 .1-6.3 0,.6 .2,8.2 .1-9.9 .1,3.4 .2-3 .2,10 .2-8.7 .1-.7 .2,1 .1-.6 .1,4.3 .1-3.9 0,14.7 .1-11.7 .1,2.5 .1-.9 .1,.2 .1-3.9 .1,8.4 0-8.5 .1-.2 .1,10.3 .1-8.5 .1-1.1 .1,0 0,.3 .1-.3 .1,15 .1-10 .1,7.1 .1-11.8 .1,1.9 0-1.7 .1,13.6 .1-10.7 .2-2.5 .1,5.5 0-5.2 .1,11.3 .2-11 .1,4.9 .1-2.4 .1,6.1 0-6.8 .1,3.7 .1-4.4 .1,8.3 .1-8.5 .1,1.3 .2,10.3 .1-11 .1,1.7 .1-.4 .1,.7 0,2.8 .1-2.6 .1,8.8 .1-8.5 .1,1.7 .1-1.9 0,3.9 .1-4.8 .1,9 .1-8.8 .1,2.7 .1-2.5 .1,.6 0,3.5 .1-3.3 .1,7.3 .2-7.3 .2,7.3 .1-6.9 .1,7.5 .1-7.2 .2,11.3 .1-10.5 .1,7.3 .1-7.2 .1,4 .1,0 .1-1.9 .1,.1 .1,3.6 .1-4.5 .1,2.9 .1-3.1 0,16.8 .1-16.3 .1,9 .2-8.8 .1,2.2 .1,5.2 .1-6.9 .3,4.1 .1,.1 0-3.1 .1,2.3 .1-2.3 .1,1.4 .1-1.2 .1,.6 .2,0 .1,.3 .1,7.4 .1-3.2 .1,12.2 .1-15.4 .2,4.8 .1-4.7 .1,0 0,3.1 .2-2.4 .1,1.7 .1-1.5 .1,3.4 .1-3.1 .1,1.6 .1,0 .1-1 .1,11.3 .1-8.5 0-.7 .1,3.7 .1-4.7 .2,10.9 .2-10.5 .1,3.3 .1-2.3 .1,1.1 .1-1.4 .1,0 0,1.7 .1-.9 .1,10 .2-10 .1,12.8 .1-12 .1,10.5 .2-9.9 .2,2.4 0-2.3 .1,.5 .1,9.7 .2-9.6 .1,.1 .1,11.8 .1-11.3 .3,4.7 .1-2.6 0,3.1 .3-3.8 .2,2.2 .1,5.8 0-4.7 .2-2.3 .1,2.1 .2-1.5 0,13.6 .1-13.3 .2,3.8 .1,.6 .1-1.9 .1,1.2 .1,11.1 .1-4.9 .1,4.4 .1-12.2 .1,0 .1,6.3 .1-4.6 .1,.7 .1-1.2 .1,4.4 0-4.2 .1,2.9 .1-1.6 .1,2.2 .1-2.7 .2,4.9 .1-3.9 .2,6.9 .1-6.4 .1,8.7 .2-8 .1,5.9 .1-4.4 .2,7.1 .1-7.1 .1,2.2 .1-1.3 .1,2.8 .1-.1 0,7.5 .1-9.9 .2,2.8 .1-2.4 .1,7.3 .1-1.6 0,1 .1-.1 .1-3.7 .1,6.1 .1-1 .1,3.3 0-5.6 .1,3.2 .1-6.4 .1,5.5 .1-5.2 .2,8.5 0-7.4 .2,3.2 .1-1.5 .1,.1 .1,2.5 0-2.7 .2,6.4 .1-4.5 .1,.7 .1,6.4 .1-8.3 .2,1.1 .2,2.2 .1-1.7 .1,.3 .1,3.2 .2-1.6 .2,8.9 .1-8.7 .1,3.7 .1-1.7 .1,.6 .1,8.9 0-10 .2,7.1 .1-3.2 .1,1.2 .1-4.1 .3,4.8 .1-3.5 .1,5.2 .1-4.1 .1,1.6 .2-1.3 .1,2.8 .1-1.3 .1,1.1 0-1.5 .1,4.4 .3-3 .1,3.4 .2-2.8 .1,6.4 .1-5.4 .1,3.6 .1-3.1 .2,6.3 .1-5.2 .2,1.4 0,3.6 .1-4.1 .3,9.2 .1-4.4 .1,5.5 0-5.4 .1-1.5 .1,2.1 .1-3.5 .1,2.9 .1-1.4 .1,4.4 .1-2 .2,3.2 .1-2.1 .1,1.9 .1-4.4 .1,7.4 .2-4.6 .1,5.1 0-3.5 .1-.2 .1,2.2 .1-4.1 .1,5.6 .1-5.7 .1,4 .1-3.5 .1,3.9 .2-3.5 .1,.5 0,6.3 .1-6.6 .1,4.5 .1-4.1 .1,2.3 .1-1.4 .1,6.8 0-6.8 .2,9 .1-8.2 .1,2.2 .1-.1 .1-1.9 .1,.1 .1-.2 .2,10.1 .1-9.5 .1,2.4 .1-1.2 .2,1.5 .1-1.2 .2,5.5 .2-5.7 .1,1.7 .1-1.6 0,5.1 .2-4.7 .2,7 .1-6.7 .7,.6 .9,.2 39.7,2.8 72.7,4.8" stroke="#add8e6" stroke-width="5.556" fill="none" stroke-linecap="square"/><path d="M470.4,186.7l.8-.1 .9,0 .8-.1 .8-.1 .9,0 .8-.1 .9-.1 .8,0 .9-.1 .8-.1 .9,0 .8-.1 .9,0 .8-.1 .9-.1 .8,0 .8-.1 .9-.1 .8,0 .9-.1 .8,0 .9-.1 .8,0 .9-.1 .8-.1 .9,0 .8-.1 .9,0 .8,0 .8-.1 .9,0 .8-.1 .9,0 .8,0 .9-.1 .8,0 .9,0 .8-.1 .9,0 .8,0 .9-.1 .8,0 .8,0 .9-.1 .8,0 .9,0 .8-.1 .9,0 .8,0 .9-.1 .8,0 .9,0 .8,0 .8-.1 .9,0 .8,0 .9,0 .8-.1 .9,0 .8,0 .9,0 .8,0 .9-.1 .8,0 .9,0 .8,0 .8,0 .9,0 .8,0 .9-.1 .8,0 .9,0 .8,0 .9,0 .8,0 .9,0 .8,0 .9,0 .8,.1 .8,0 .9,0 .8,.1 .9,0 .8,.1 .9,0 .8,.1 .9,.1 .8,0 .9,.1 .8,.1 .8,.1 .9,.1 .8,.1 .9,.1 .8,.1 .9,.1 .8,.1 .9,.2 .8,.1 .9,.1 .8,.2 .9,.1 .8,.2 .8,.1 .9,.2 .8,.1 .9,.2 .8,.2 .9,.1 .8,.2 .9,.2 .8,.2 .9,.2 .8,.1 .9,.2 .8,.2 .8,.3 .9,.3 .8,.4 .9,.4 .8,.4 .9,.5 .8,.5 .9,.5 .8,.5 .9,.6 .8,.5 .9,.6 .8,.6 .8,.6 .9,.5 .8,.7 .9,.6 .8,.7 .9,.8 .8,.7 .9,.8 .8,.7 .9,.8 .8,.8 .8,.7 .9,.8 .8,.8 .9,.8 .8,.7 .9,.8 .8,.7 .9,.8 .8,.8 .9,.7 .8,.8 .9,.8 .8,.9 .8,.8 .9,.9 .8,.8 .9,1 .8,.9 .9,1 .8,1 .9,1 .8,1.1 .9,1.1 .8,1.2 .9,1.2 .8,1.3 .8,1.3 .9,1.3 .8,1.4 .9,1.5 .8,1.4 .9,1.5 .8,1.6 .9,1.6 .8,1.6 .9,1.6 .8,1.8 .8,1.8 .9,1.9 .8,2 .9,2 .8,2.1 .9,2.2 .8,2.2 .9,2.2 .8,2.3 .9,2.5 .8,2.7 .9,2.7 .8,2.7 .8,2.6 .9,2.4 .8,2.3 .9,1.9 .8,1.7 .9,1.6 .8,1.8 .9,1.9 .6,2.1 0,2.8-.6,26.6-.9-9.5-.8-2.4-.9,.3-.8,2.2-.9,.6-.8-7-.9,5.9-.8-4-.8-4.5-.9-7.1-.8-.9-.9,1.4-.8-3-.9-10.1-.8,2.2-.9-7.1-.8,1.1-.9,0-.8-.6-.9-9.9-.8,1.4-.8-3.5-.9-3.5-.8,.4-.9-3.5-.8-.3-.9-3.2-.8-1.2-.9,1.5-.8-1.8-.9-3.6-.8-2-.8,.1-.9-4.6-.8,2.8-.9-1.4-.8-3.1-.9,.8-.8-4.6-.9,3.1-.8-1.7-.9-5.1-.8,1.7-.9-1-.8-1.6-.8-3.7-.9,.7-.8-.1-.9-1.7-.8,.9-.9-1.6-.8-1.2-.9-.3-.8,1.1-.9,.1-.8-5.8-.9,.9-.8-1-.8,2.4-.9-1.9-.8,.6-.9-6.2-.8,2.2-.9-2.3-.8-1.5-.9,.1-.8-.4-.9,1.8-.8,.5-.8-2.1-.9,0-.8-3.3-.9,.9-.8,.9-.9-2.8-.8,.7-.9,5.2-.8-1.6-.9-3.3-.8,2.3-.9-1.2-.8-1-.8-1.1-.9-1.8-.8,5.9-.9-4.7-.8-.3-.9,0-.8,2.7-.9-4.4-.8,5.9-.9-3.5-.8,2.8-.9-5.7-.8,5.6-.8-4.3-.9,4.2-.8-5.4-.9,1.6-.8,3.8-.9-.8-.8-4.3-.9,2-.8-1.3-.9,5-.8-5.1-.9,1.8-.8-3.3-.8-.7-.9,1.4-.8,1.5-.9,1.1-.8-3.3-.9,2.5-.8,.1-.9,.8-.8-3.6-.9,1.2-.8,4.3-.8-3.5-.9,4.3-.8-3-.9-3.5-.8,3.9-.9-3.4-.8,4-.9-4.9-.8,3.4-.9-3.4-.8,3-.9-2.2-.8,3.7-.8-3.1-.9,1.6-.8,1.9-.9-3.7-.8,.9-.9-1.5-.8,4.5-.9-4.5-.8,5.8-.9-4.4-.8,.7-.9-.1-.8,.7-.8,2.3-.9-5.9-.8-.8-.9,2.8-.8,2.5-.9-3.2-.8,3.3-.9-3.6-.8-1.7-.9-1.7-.8,5.4-.8-2.9-.9-1-.8-.9-.9,1-.8-1.1-.9,1.6-.8-4-.9,2.7-.8-1-.9-2.6-.8,3.5-.9,.5-.8-.1-.8-3.6-.9,.3-.8,.3-.9-2.9-.8,2.5-.9,.2-.8-1.5-.9-2.2-.8,.6-.9-.5-.8,1.3-.9,.1-.8-3-.8-.5-.9,.7-.8-.2-.9-.1-.8-.1-.9-1.2-.8,.1-.9-1.4-.8,.4-.9-.3-.8-.5-.9-.8-.8-.5-.8-.6-.9-.3-.8-.6z" fill="#add8e6"/><path d="M75.8,228.8l14.6-2.4 14.2-2.1 12.7-1.6 17.7-2 9.1-.9 7.6-.5 14-.4 3.8,.1 3.2,.4 2.7,.7 2.1,1.2 1.6,1.6 1.1,1.9 .8,2.5 .5,2.6 .6,5.1 .1,.7 .4-.7 .9-3.2 .8-2.1 .9-2 1.1-1.9 1.4-1.9 1.8-1.9 2.1-1.9 2.4-1.9 3.2-2.2 3.6-2.2 3.8-2 3.8-1.8 3.7-1.5 3.6-1.2 3.6-.9 3.4-.6 2.8-.3 3-.1 3,.1 2.8,.3 2.4,.4 2.3,.7 1.9,.8 1.7,1 1.4,1.1 1.1,1.2 .9,1.4 .8,1.5 .6,1.7 .4,1.8 .9,6.5 .8-6.5 .8-3.7 .7-1.8 .8-1.4 .9-1.4 1.1-1.3 1.4-1.2 1.7-1.1 1.9-.9 2-.7 2-.4 2.2-.2 2,.1 1.8,.4 1.7,.8 1.6,1.1 1.2,1.5 1,1.8 .6,2.1 .6,2.6 .3,3.1 .3,5.3 .5-6.2 .4-3.5 .7-3.3 1.1-2.5 1.5-2.4 .9-1 1-.9 1.1-.7 1.1-.5 1.2-.3 1.2-.2 1,.1 1,.2 .9,.4 1,.6 .8,.7 .7,.9 1.1,2.1 .8,2.5 .5,3.2 .3,4.4 .3,6.1 .1-5.6 .4-4.8 .5-3.4 .7-2.5 1.1-2.4 1.4-1.9 .8-.7 .9-.4 .9-.4 .9-.1 .9,.1 .8,.2 .8,.4 .8,.7 1.1,1.6 1,2.3 .6,2.6 .4,3.6 .4,11.1 .4-10.8 .3-3.3 .6-3 .8-2.5 1.2-1.9 1.4-1.2 .7-.4 .8-.1 .8,.1 .6,.3 .7,.4 .6,.7 1,1.7 .8,2.4 .5,3 .3,4.1 .3,10.9 .3-12.1 .3-3.5 .5-2.5 .7-2.5 1-1.8 1.1-1.2 .6-.3 .6-.1 .6,0 .6,.3 .6,.5 .5,.6 .9,1.7 .6,2.4 .5,2.8 .2,3.2 .2,4.4 .1,8.5 .2-11.7 .3-3.8 .4-3.2 .6-2.4 .8-2 1.1-1.3 .5-.3 .6-.1 .5,.1 .5,.2 .9,1.1 .8,1.8 .6,2.5 .3,2.7 .2,3.8 .3,12.9 .2-12.7 .5-6.2 .5-2.6 .7-2.2 1-1.3 .5-.4 .5-.1 .5,.1 .4,.3 .9,1.2 .6,1.9 .6,2.8 .4,5.3 .2,14.1 .1-11.3 .2-4.3 .3-3.9 .5-2.8 .6-1.9 .9-1.4 .4-.3 .5-.2 .4,.1 .4,.3 .8,1.3 .6,1.9 .4,2.6 .4,6.2 .2,13.9 .1-10.6 .2-5.5 .4-4.8 .3-2 .5-1.6 .4-1 .4-.7 .5-.4 .5-.1 .5,.3 .4,.6 .8,2.1 .4,2.2 .4,3.6 .3,12.2 .2-9.9 .4-5.7 .4-2.5 .5-1.7 .6-1.1 .4-.3 .3-.1 .3,0 .4,.3 .6,1.3 .6,1.9 .3,2.4 .2,3.4 .2,5.3 .1,11.7 .1-11.2 .3-8.3 .3-2.3 .4-2.3 .5-1.5 .5-.8 .4-.2 .3-.1 .3,.3 .4,.4 .6,1.7 .4,2.4 .4,6 .2,13.9 .1-9.6 .2-7.4 .5-4.6 .4-1.7 .5-1.1 .6-.6 .3,0 .3,.3 .6,1.3 .5,1.9 .5,5.7 .2,10.1 .2-9.5 .2-4.1 .4-2.7 .5-2.1 .6-1 .3-.2 .3,.1 .6,.9 .6,2.4 .3,3.1 .2,5.9 .1,7.2 .4-12.4 .3-3.6 .5-2.5 .5-1.1 .3-.3 .3,0 .4,.4 .2,.5 .4,1.6 .5,4.6 .4,10.8 .1-8.9 .5-5.5 .3-1.9 .4-1.3 .5-.5 .2-.1 .3,.2 .3,.7 .3,1.2 .5,4.3 .3,7.3 .1,11 .2-15.2 .2-4.5 .4-3.1 .5-1.7 .3-.3 .2-.1 .4,.2 .2,.5 .5,1.7 .3,2.9 .2,2.8 .2,9.5 .2-9.1 .2-4.1 .6-3.3 .3-.9 .4-.5 .3,.1 .2,.5 .4,1.5 .6,5.1 .1,5.5 .1,16.3 .1-16.5 .2-5.4 .5-5.2 .3-1.3 .4-.8 .3,0 .1,.2 .4,.8 .5,3.2 .3,7 .1,7.9 .4-13.3 .4-4 .5-1.7 .2-.3 .2,0 .3,.5 .4,1.3 .2,1.8 .3,3.6 .2,10.2 .3-11.3 .3-3.8 .5-2.1 .2-.3 .3-.1 .3,.5 .3,1.3 .3,1.9 .3,3.9 .1,9.6 .4-11.8 .2-2.8 .4-1.9 .3-.8 .2-.1 .2,.2 .4,.9 .2,1.5 .3,4.6 .2,8.2 .3-8.4 .2-3.8 .5-2.8 .3-.5 .2-.1 .1,.2 .3,.6 .2,1.2 .4,3.7 .1,4.9 .1,9.3 .3-13.6 .2-3.5 .5-2.4 .3-.5 .2,0 .1,.3 .3,.8 .2,1.8 .3,3.6 .2,9.2 .2-8.9 .4-4.6 .2-1.5 .3-.9 .2,0 .2,.2 .2,.8 .3,1.6 .2,3.3 .3,13.1 .1-8.9 .2-6.2 .5-3.2 .2-.7 .3-.2 .2,.5 .3,1.2 .3,3.9 .3,16.4 .1-11.7 .1-5.1 .4-4.2 .3-.9 .2-.2 .1,0 .3,.6 .2,1.5 .4,5.2 .2,18.9 .1-19.1 .3-4.3 .2-1.9 .3-.9 .2-.2 .1,.1 .3,.8 .4,4.1 .2,5.2 .1,13.8 .1-16.8 .3-4.5 .3-2.2 .3-.6 .1,0 .2,.4 .4,2.9 .3,5.8 .1,7.5 .2-11.2 .4-4.6 .3-.8 .2-.2 .1,.1 .2,.8 .3,1.9 .2,4.9 .2,8.1 .1-7 .2-5.7 .4-2.9 .3-.3 .2,.3 .3,2.1 .3,4.6 0,11.4 .2-11.9 .2-3.1 .4-3.3 .3-.2 .1,.1 .4,2.2 .1,4.5 .1-2.2 .3,19.7 .1-20 0,.3 .1-2.5 .1,1 .3-3.2 .1,.5 0-.5 .1,0 .2,1.1 .1-.9 .1,2.4 0-.5 .4,11.5 .2-10.2 0,4 .2-2 .1-4.3 .1,1.3 .1-2.5 .1,.3 .2-.3 .2,0 .1,1.6 0-.5 .2,13.4 .1-12.5 .1,8.1 .1-6.9 .1-1.3 .1,3.2 .1-4.3 .1,4.5 .1-4.9 .2-.5 .1,.8 .1-.7 .1,.4 .1-.5 .1,4.2 .1-2.4 .3,26 0-24.4 .1,3 .2-5.5 .1,10.7 .1-11.2 .1,2.1 0-1.8 .2-.8 .1,.7 .2-.8 .1,.1 .1,6.6 .1-6.7 .1,1.7 .1,25.6 .1-21.6 .1,5 .1-3.2 .1,2.7 .1-10.2 .1,1.8 0-1.8 .1,.1 .1-.1 .1,.1 .1-.2 .1,.2 .1,2.7 0-1.1 .1,.9 .1,11.1 .1-12 .1,8.3 .1-6.8 0,6.1 .2-2.6 .1,17.5 .3-24.3 0,6.5 .2-6 .1-.1 .1,.9 .1-1.4 .1,3.5 .1-3.4 .1,8.2 .1-7.5 .1,1.5 .1-.3 .1,3.5 .1-5.2 .1,9.5 .1-9.6 .1,15.2 0-15.4 .1,1 .1-.7 .1,.2 .1,0 .1,1.1 .1-1.7 0,.1 .2,6.2 .1-6.2 .1,4.4 .1-3.5 .1,2.2 .2,9.3 .1-11.5 .2,.4 0,3.4 .1-2.8 .1,1.9 .1-3.4 .2-.5 0,.3 .1-.2 .1,23.7 .2-21.4 .2-2.4 0,3.6 .1-.4 .1,11.6 .1-13.4 .1,.6 .1-2.1 .2-.1 .1,.7 .1-.5 .1,3.3 .1-3.1 .1,24.9 .1-19.8 .2-1.2 .1-4.3 .1,0 .1,3.2 .2-3.1 .1-.2 .1,.2 .1,8.9 .1-7.7 .1-.4 .1,1.2 .1,4.5 0-1.2 .1,1.2 .1-4.5 .1,9.2 .1-11.3 .2,11 .1-11 .1-.2 .1,1.2 .1,5.7 .1-6.9 0,11.2 .1-11.2 .2,9.8 .1-7.8 .1,2.1 .1-4 0,12.8 .1-12.4 .2,4.2 .1-4.2 .1,1.7 0-1.1 .1,17.5 .1-14.8 .1,.8 .1-1.1 .1,2.9 .1-3.1 .2,2.4 .1,14.7 .1-20.5 .1,2.6 0-.2 .1,12.8 .2-15.2 .1,1.7 .2-1.5 0-.2 .1,.8 .1-.5 .2,11.6 .2-12 .3,11.2 .1-11.1 .1,1.1 .1,7.1 .2-8 .1,2.6 .1-3 0,.6 .1-.3 .1,2.2 .1-1.4 .2,2.6 .1-3.7 0,13.1 .1-12 .1-.8 .1,4.5 .1-3.4 .1,1.7 0-3.2 .1,6.7 .4-6.5 .1,14 0-13.5 .1,6 .1,.2 .1-.5 .1-3 .1,1.5 0-2.4 .1,13.5 .1-13.9 .2-2.2 .2,.6 .1,2.6 .1-3.2 .1,.2 .2,9.1 0-9.1 .1,9.2 .2-8.9 .1,7.2 .1-7.7 .1-.1 0,4 .1-3.2 .1,1.2 .2-1.8 .1,.8 0-1 .2,0 .2,.7 .1-.5 .1,2.9 0-2.5 .1-.5 .2,1.4 .1-1 .1,15.9 .1-16.3 .1-.1 .1,1.4 .1,8.4 .1-9.9 .1,.2 .2-.2 .1,5.3 .2-5.3 0,10.2 .1-6.2 .1-.7 .1,3.1 .1-6.4 .2,.2 .1,.3 .1,5.5 .1-5.2 .1,0 .1,4 0-2.6 .1,.2 .2-2 .1,2.7 .1,.3 .1-.7 0,3.9 .1-5.7 .1,1.5 .2-2.5 .1,3.3 0-3.1 .1,6.7 .2-5.8 .1,19.8 .1-20.9 .2,5.1 .1-3.9 .1-.6 .1,.6 .1-1.1 0,.3 .3,6.7 .1,8.3 .2-14.2 0-1.3 .1-.1 .1,1 .1-.7 .2,4.2 0-2.5 .1,2 .1-3.5 .2,20.3 .1-20.4 .1,6.3 .1-6.2 .1,6.7 .2-7.3 .1,3.5 .1-2.7 .1,14.2 .2-13.7 .1,13.1 .1-9.8 0,3.3 .1-7.9 .1,0 .2,.9 .1,7.8 0-6.5 .2-1.4 .1,3 .1-1.4 .1,2.3 .1-2.7 0,3.4 .1-4.7 .1,.3 .1-1 .1,.2 .1-.2 0,4.4 .1-1.9 .1,3.8 .1-5.3 .1,15.9 .1-14.1 .1,.1 0-1.8 .1,0 .1,2.5 .1,0 .1-3.7 .1,.1 0,5.9 .2-5.8 .2,10.6 .1-10.1 .1,1.3 .1-2.2 .1,5.6 .1-3.9 .1,5.5 .1-7 .1,9.1 .1-8.5 .1,3 .1-3.5 .2,3.1 .1-1.9 .1,1.9 .1-2.4 .2-1 .1,.5 .4,6.4 .2-5.7 .1,9.4 .1-7.6 .2-3 .1,3.7 .2-3.8 .2,2.9 .1-2.5 0,6.4 .1-5.9 .1,6.8 .1-7.6 .2,11.3 0-10.9 .2,12.1 .2-11.9 .1,5.4 0-6.3 .2,.5 .1-.4 .1,3.5 .2-3.6 .1,20.4 .1-19.9 .2,3.7 .2-4.2 .1,7.8 .2-7.7 .1,5 .1-3.4 .1,13 .1-12.6 .2-2.3 .1,.6 .2,1.7 .1-2.3 .1,.8 .1-.4 .1,3.7 0-3.4 .2,6.8 .1-6.8 .1,1.7 .1-2.2 0,5.1 .1-5.3 .1,1.7 .1-1.3 .1,1.9 .1-2.2 .1-.2 0,.3 .1,6.1 .1-5.6 .1-.7 .1,1.7 .1,4.2 0-4.9 .1,1.1 .1-.1 .1-1.7 .3,7 0-7.4 .1,9.1 .1-9.1 .1,.1 .1,24.7 .1-23.1 0,8.3 .1-8.3 .2,7.5 .1-7 .1,2.3 .1-4.4 0,3.6 .1-3.5 .2,7.3 .2-7.7 0,4.9 .1-4.1 .1-.2 .1,3.8 .1-3.2 .1-1.2 .1,.2 0,7.3 .1-7.4 .2,10.4 .1-8.6 .1,3.9 0-4.8 .1,9.1 .1-9.2 .1,1.1 .1-2.1 .2,2.3 0-1.7 .1,.8 .1-1.3 .1,.2 .1-.3 .1,1.1 0-1.1 .1,23.6 .2-21.5 .2,2.9 .1-5.1 0,2.2 .2,13.5 .1-15.2 .1,2.8 .1-3.1 .2,7 .2-6.7 .2,2.2 0-1.6 .1,4.3 .1-2.8 .2,7.6 .2-10.3 .3,3.7 .1,9.8 .1-10.4 0-2.8 .1,0 .1,34.5 .1-31.5 .2-3.4 .1,2.1 .1-.8 .2,6.3 .1-7 .1,2.1 .1-2.7 .1,11.6 .2-10 .1,.8 0-2.2 .2,4.8 .1-3.2 .1,1.8 .1-2 .1,6.4 0-6.4 .1-1.7 .1,.8 .1,10.2 .1-11 .1,1.8 0-1.4 .1,9.3 .3-9.8 .1,7 .1-4.9 0,2.4 .2-4.1 .2,5.6 .1-6 0,5.8 .2-5.8 .1,2.7 .1-1.5 .1,3.1 .1-3.7 0,16.4 .1-15.7 .2,2.2 .1-3.2 .1,.6 0-.3 .1,6.2 .1-6.8 .1,4.4 .1-4.6 .1,3.7 .1-3.4 0,17.1 .1-17 .1,7.4 .1-7.4 .1,4.7 .1-.6 .1,11.7 .1-16.2 .1,2.1 .1-2.1 .1,9 .1-8.8 .1,12.2 .1-12.5 .1,7.1 .2-6.1 0,13.5 .1-14 .1,17.7 .1-18.2 .3,2.8 .1-2.7 .1,7 .1-6.2 .1,.4 .1-1.2 0,.4 .1,6 .1-2.1 .1,.1 .1-3.9 .1,3 .1-3.7 .1,3.5 .1-3.5 .1,2.3 .1-1.7 .1,22.6 0-23.1 .3,4.2 .1-4.1 .1,5.1 .1-5.3 .1,10.8 .1-10.2 .1,3.9 .1-4.5 .1,1.1 0,17.1 .1-15.8 .1,1.9 .2-2.9 .1,1.6 .1-3.1 .1,.9 .1,3 .3-3.7 .1,9.5 .1-7.6 .1,6.3 .1-8.4 .1,7.3 .2-5.2 .1,3.5 .1-5.7 .2,.2 .1,9.1 .2-8.9 .1,1.3 .1-1.7 .1,5.4 .1-5.3 .1,9.9 .1-9.3 .2,5.7 0-6 .2,2.1 .1,8.8 .2-10.1 .1,2.9 .3-4.1 .1,.4 .1,8 .1-8.5 .1,7.7 .1-7.6 .1-.1 .1,9.6 .1-9.5 .1,8.8 .1-7.7 .2,10.6 .1-11.8 0,15.3 .1-14.9 .1-.4 .1,0 .2,20.8 .1-19.5 .1,4 .3-5.3 .1,4.4 .1-4.5 .2,5.4 .2-4.1 .1,1.2 .2-2.5 .1,8.5 .1-4.9 .1,1.7 .1-4.9 .1,2.4 .1-1.7 .1,6.1 .2-7 .1,.7 .1-.9 .2,7.8 .1-7.5 .2,11.1 .1-9 .2,16.8 .1-11 0,3.8 .1-9.2 .1,4.7 .2-7.5 .1,15 0-11.6 .1,4.1 .1-.5 .1,8.3 .2-14.5 .1,9 0-9.2 .2,8.6 .1-9.3 .1,7.1 .1-5.7 .1-1.4 .1,11.2 .1-10.9 .1-.2 .1,2.4 .1-1.8 0,13.2 .3-13.6 .1,6.5 .1-6.8 .1,3 .2-3 .1,4.1 .2-4.2 0,.2 .1,6.9 .1-2.2 .4,168.8 .4-166.5 .4,166.5 .4-172.9 .1-.6 .1,0 .1,4.3 .1-2.8 .1,17.6 .1-17.9 .1,1 .1-.3 .1,.8 0-3 .2,7.7 .2-7.7 .1,4.7 .1-4.8 .1,4.4 .1-4 .1,.4 .1-.3 .1,8.7 .1-8 .2,2.1 .1-3.2 .1,7.7 .3-7.8 .3,.7 0,4.9 .1-5.3 .2,3.9 .2-3.2 .1-1 .1,.1 .2,9.4 .2-9.4 .1,0 .1,2.8 .2-2.9 .1,17.8 0-17.8 .1,10.6 .1-8.4 .1,4.9 .1-6.3 .1,.7 .1,15.3 0-15.2 .1,3.8 .2-4.9 .1-.5 .1,.2 0,4.8 .1-3.3 .2,1.6 .1-3.4 .1,2.6 .1-2.4 .2,8.8 .1-8.3 .1-.6 .1,0 0,7.8 .1-7.9 .3,3.8 .1-3.2 .1,3.6 .1,13.8 .2-17.7 .1,7 .1,.9 0-.4 .1-5.7 .2,6.8 .1-8.9 .1-.1 .1,.3 .1-.3 .1,3.7 .1-2.3 .1,1.7 .1-2.2 0-.7 .1,.5 .1,5.5 .2-4.6 .1,7.2 .1-8 0,1.1 .1-1.9 .1,6.9 .1-4.3 .2-2.5 .2-.1 .1,.1 .1,5.4 .1-4.3 .1-1.3 .1,.5 .1,7.8 .1-6.2 .1,4.3 .1-5.4 .1,4.4 .1-1.1 .1,.3 .1-4.4 .1,8.4 .1-7.6 0,6.6 .1-3.8 .1,5.1 .2-8.9 .2,4.7 .1-4.7 .1,8.3 .1-7.9 .1,13.5 .1-13.9 .1,6.1 .1-6.1 .1,11.8 .1-9.1 .1,8.4 .1-11 .1,0 .2,9.6 .1,20 .1-28.2 0,2 .1-1.5 .1,2.8 .1-1.2 .1,5 .1-8.6 .2,26.8 .1-26.5 .1,.5 .1-.8 .1,14.6 .1-14 .2,1 .1,2.3 .1-.1 .1,14.2 .1-17.6 .2-.4 .1,6.8 .3-6.9 .2,1.8 .1-1.5 0,1.1 .1-1 .1,1.2 .1-.2 .1,.7 .1-2.1 .1,6.7 .1-6.7 .1,4 .2-3.5 .1,19.3 0-19.1 .2,3.5 .1-3.3 .1,11.7 .2-12.4 .1,8.3 .4-8.4 0,1.1 .1-1.2 .2,.2 .1,5.7 .1-4.8 .1,.3 0-.4 .1-1.1 .2,1.8 .1-.6 .1,.1 0,5.3 .1-4.8 .2-1.8 .1,1.9 .1-1.8 .1,0 .1,.3 .1,.6 .1,26.2 .2-23.9 0-2.5 .3,6.8 .1-7.4 .1-.2 .1,8.3 0-8.3 .1,1.6 .2-1.5 .1-.1 .1,.6 0,1.3 .1-1.3 .1,7.6 .2-8.2 .1,.8 .1-.7 0,.1 .1,6 .4-6.1 0,7.2 .1-7.2 .1,.7 .3-.6 .1,1.9 .1-1.6 .1,1.4 .1-1.5 .1,8.9 .1-9.2 0,1.7 .1-1.8 .1,3.5 .1-3.5 .1,1 .1-1 .1,4.5 .1-4.2 .1,16.8 .1-12.3 .1,1.9 .1-5.5 0,1.3 .1-2.5 .1,2.3 .1-1.6 .1,0 .2,2.2 .2-2.4 .1,1.6 .1-1.4 0,1.3 .5,172.4 .5-173.7 .1,8.5 .1-7.9 0,9 .1,0 .1-8.9 .2,9.1 .2-10.4 0,10.3 .1-10.3 .1,2.4 .1-2 .1,3.1 .1-3.4 .1,3.5 .2-3.6 .1,14 .2-11.3 .1,5.3 .2-6.1 .2-1.9 .2,1.3 .2-1.3 .1,0 .1,3 0-2.6 .1,.5 .1-.2 .4,173.6 .5-166.5 0-3.9 .1,.4 .2-3.9 .1,9.3 .1-9.5 .1-.1 .1,7 .1-6.3 .1,5.4 .1-6 .1,0 .1,1.6 .1-.8 .2,2.9 .1,12 0-15.7 .2,3.8 .2-2.7 .2,4.8 0-5.8 .1-.1 .1,15.3 .2-15.3 .1,17.5 0-12.9 .2,2.5 .1-6.8 .1,17 .1-16 .1,17.4 .2-18.3 .1,.5 .1-.3 .1,.4 0,7.9 .1-7.4 .2-1.4 .1,.8 .1,10.7 .1-9.2 0,.6 .1-2.5 .1,1 .2-1.3 .1,6.6 .1-6.4 .1,3.4 .1-2.8 .1,4.2 .1-4.5 .1,0 0,2.6 .1-.1 .2,1.9 .2-4.8 0,8.5 .1-7.9 .1,8.8 .1-9 .2,7.9 0-8 .2-.2 .2,.5 .2,8.4 .2-8.8 .2,4.6 .1-2.8 0,2.7 .1-4.1 .2,4.3 .2-3.9 .1,2.4 0-1.6 .1,5.4 .1-6.9 .2,.5 .1-.4 0,20 .2-19.3 .1-.6 .1,2 .1-.3 .1,.3 0,3.5 .1-5.1 .1,.5 .1-.1 .1-.7 .1,10.1 .1-10.3 .1,6 .2-5.9 .1,4.8 .1-3.8 .2,5.3 .1-5.5 .1,11.7 .1-11.1 0,3.8 .1-5.1 .1,.1 .4,173.1 .5-172.2 0,.2 0-.9 .1,4.8 .1-4.6 .2,9.4 .1-3.9 .1,6.3 .1-11.6 .1,5.7 .3-6 0,9.3 .1,.2 .1-8.4 .1,6.1 .1-7.2 .1,6.6 .1-6.5 0,7.5 .1-6.7 .1,5.4 .1-6 .1,8 .1-5.4 0-.7 .1,2.6 .1-4.6 .1,7.1 .1-7 .1,2.8 .1-2.3 0,3.6 .1-3.9 .2,.4 .1-.3 .1,3 0-3.2 .1,1.9 .2-2 .1,19.9 .1-19.3 .1-.5 0,4.7 .1-4.5 .2,2.2 .1-1.8 .1,8.1 0-8.1 .1-.6 .1,2.3 .2-2.2 .1,6.3 .4,166 .4-163.8 .1,12.1 .1-17.8 .1-1.3 .1,11.1 0-10.9 .1,3.4 .1-3.2 .2-1.6 .1,2 .1,19 .2-20.9 .1,8.8 .1-7.1 .1,.7 0-2.4 .1,.3 .1-.1 .2,1.6 .1-1.6 0,.5 .2,4 .1-4 .1,2.7 .1-3.2 .1,11 .1-9.1 .1-.8 .1,3.2 .1-4.2 .1,6.4 .1-6.1 .2,16.5 .2-16.2 .1,.8 0-1 .2,22.1 .2-21.5 .1,5.7 .1-6.4 .1,2.5 .1-1.9 .5,170.7 .4-170 .1-1 .2,1.2 .2-1.1 .2,8.8 .2-8.7 .1,.1 0,18 .2-17.8 .1,3.6 .1-2 .1,18.3 .1-14.8 0,6.1 .2-10.7 .1,6.3 .1-6.6 .1,23.4 .1-20.3 .2,1.6 .2,8.5 .1-13.2 0,1.3 .1,.1 .1-.8 .1,13.6 .1-12.3 .1-1.8 .1,2 .1-1.9 .1-.2 .1,.6 .1,4.1 .1-4.4 0,1.4 .1-1.5 .1,1.1 .1-1.1 .1,3.3 .1-2.6 0,1.1 .1-1.6 .1-.2 .1,1.3 .1-.8 .1,.6 .1-.8 .1,9.4 .1-4.7 .1-1.2 .1,1.1 .2-4.6 .1,2.4 .1-1.4 .1,.1 .1,1.7 .1,7.8 0-8.8 .1,2.5 .2-3.6 .1-.3 .1,2.8 0-1 .1,.4 .1-2.4 .1,1.7 .3-1.5 0,8.4 .2-8 .1,1.9 .4,167.1 .5-162.6 0,8.6 .1-14.8 0,8.2 .5,160.6 .5-166.4 0,7.1 .1-9 .1,11.7 .1-8.4 .1,2 0-4 .1,3.6 .2-4.5 .1,1.6 .1-1.6 .1,.1 .1,.4 .1,3.6 .1-3.3 .2,2.5 0-2.1 .1-.4 .2,.2 .1-.4 .2,9.3 0-7.9 .1,5 .2-5.9 .1,27.5 .1-27 .4,1.8 .2-2 .1,2.8 .1-2.7 .1,8.4 .2-8.2 0,3.8 .1-3.4 .1,5.3 .1-5.5 .1,1 .1-.5 .1,.1 0,2.6 .1,.1 .1-1.7 .1,5 .4-6 .1,4.7 .2-3.9 .1,1.2 0-1.5 .1,1.5 .1-1.6 .1,2.6 .1-.6 .1,17.4 .1-18.9 .2,1.7 .1-.5 .1,10.1 .1-10.7 0,2.9 .3-3.2 .2,4.3 .2-2.7 .3,8.3 .1-.1 .1-8.9 .1,.8 .1-.9 .1,1.7 .1-1.6 0,1.2 .2,7.1 .1-6.7 .1,.6 .1-1 .1,9.2 0-8.8 .1-.1 .1,.4 .1-1.1 .2,7 0-6.8 .1-.1 .2,.5 .1-.3 .1,8.5 .1-8.3 0,3 .1-2.9 .1,5.3 .1-2 .2,13.2 0-14.1 .1,.3 .1-1.3 .2-.5 .1,1.8 .1,12 0-6.5 .1,3 .2-9.6 .2,1.5 .2-1.8 .1,6.2 .1-4.8 .1-.5 0,.8 .1,0 .4,158.9 .5-149.9 0,3.2 .1-10.8 .1,7.7 .1-2.7 .1,10.6 .2-16.9 .1,15.2 .1-11.7 .1,5.5 .2-7.9 .1,6.1 .1-5.2 .1,0 .2,3.2 .1,13.4 .1-17.4 .1-.1 .1,5.3 .1-4.7 .1-.4 .1,1.1 .1-.9 .1,13.7 .1-12.8 .1-.5 .1,10 .1-8.3 0,6.9 .1-8.3 .1,2.4 .1-2.2 .2,.8 0,8.7 .2-7.1 .1,4.7 .1-6.4 .2,22.4 0-11.3 .2-8.6 .2-2 .1,8.8 .3-8.7 0,1.4 .5,153.7 .4-153.9 .2,6.5 .1-4.9 .2-.2 0,6.5 .2-7.5 .2,9.8 .1-9.1 .1,3.7 .1-4.1 .1,.1 .2,3.4 .1-1.3 0,25 .1-25 .3,6 .1-7.4 .1,3.1 .1-.7 .1,8.5 .1-4.5 .1,9.4 .1-14 .1,5.7 .1-6.7 .3,8.7 .1-8.2 .1,4.1 .1-4.1 .1,1 0-.5 .5,150.6 .5-150 0-.2 .1,.1 .1,11.3 .1-9.1 0,13.5 .1-14.3 .2-.9 .1,11.4 .1-10.8 .1,.6 .1-.8 .1,3.8 .1-3.4 .1,4 .1-3.5 .1,.7 .2-.5 .1,5.7 .1,0 0-4.7 .2,.7 .1,9.5 .2-9.4 .1,2.5 0-4 .1,6.5 .2-6.3 .2,1.9 0,3.6 .1-5.1 .1,0 .4,147.2 .4-145.7 .1-.6 .1,.3 .1-.1 .1,1.6 .1-1.4 .1,.1 .1,3.1 .1-2.9 .1,5.1 .2-2.2 .1,.9 .1-3 .1-.1 .1,2.6 .2-2.5 .1,2.3 .2,17.1 .1-16.4 .1-1 .1,1.8 0-1 .1,1.1 .1-3 .1,1.3 .1-1.1 .2,.1 0,1.8 .1-1.6 .1,2.1 .1-1.9 .1,3 .1-2.8 .1,1.9 .1-.8 .1,11.6 .1-11.9 .1,7.7 .1-6.4 0,.6 .2,8.6 .1-10.3 .1,3.4 .2-3 .2,10.1 0-3.8 .5,135.3 .5-136.6 0,2 .1-1 .1,.2 .1-3.9 .1,8.4 0-8.5 .1-.2 .1,10.5 .1-8.7 .1-1.1 .1,0 0,.3 .1-.3 .1,18.7 .1-13.7 .1,7.3 .1-12 .1,1.9 0-1.7 .1,15.9 .1-13 .2-2.5 .1,5.6 0-5.3 .1,11.6 .2-11.3 .1,4.9 .1-2.4 .1,6.2 0-6.9 .1,3.7 .1-4.4 .1,8.6 .1-8.8 .1,1.3 .1,2.8 .1,8.1 .1-11.6 .1,1.7 .1-.3 .1,.6 0,2.8 .1-2.6 .1,9.3 .1-9 .1,1.7 .1-1.9 0,3.9 .1-4.8 .1,9.3 .1-9.1 .1,2.7 .1-2.5 .1,4.1 .1-3.3 .1,7.3 .2-7.2 0,2.7 .5,130.5 .5-128.3 0-3.4 .1,4 .1,.1 .1-2 .1,.1 .1,3.7 .1-4.6 .1,2.9 .1-3 .4,130.5 .5-128.3 .1,3.1 .1,.1 0-3.2 .1,2.4 .1-2.4 .1,1.5 .1-1.3 .1,.6 .2,0 .1,.4 .1,7.6 .1-3.5 .1,22.6 .1-25.8 .2,4.9 .1-4.8 .1,.1 0,3 .2-2.4 .1,1.7 .1-1.5 .1,3.5 .1-3.2 .1,1.6 .1,.1 .1-1.1 .1,17.2 .1-14.4 0-.7 .1,4 .1-5 .2,11.1 .2-10.6 .1,3.3 .1-2.4 .1,1.1 .1-1.4 .1,0 0,1.7 .1-.9 .1,10.6 .2-10.6 .1,14.2 .1-13.4 .1,10.9 .1-9.2 .1-1.1 .2,2.4 0-2.3 .1,.6 .1,11.9 .2-11.9 .2,.7 0,11.6 .1-11.7 .3,4.8 .1-2.7 0,3.1 .3-3.8 .2,2.3 .1,6.7 0-5.5 .2-2.4 .1,2.1 .2-1.5 0,15.2 .1-15 .1,2.8 .5,112.5 .5-112 0,5.6 .1-5 .1,.8 .1-1.3 .1,4.5 0-4.4 .1,3 .1-1.7 .1,2.5 .1-2.9 .2,5.2 .1-4.2 .2,7 .1-6.6 .1,17.7 0-13.3 .2-3.6 .1,6.1 .1-4.7 .1,2.9 .1,10.3 .1-13 .1,2.1 .1-1.4 .1,3 .1-.2 0,16.6 .1-19 .2,2.8 .1-2.4 .1,12.5 .1-6.4 .1,2.3 .1-5.4 .1,6.5 .1-1.1 .1,12.4 0-14.8 .1,6.9 .1-10.4 .1,5.9 .1-5.6 .1,9.4 .1-8.3 .2,3.5 .1-1.7 .1,0 .1,3.1 0-3.2 .2,12.4 .1-10.3 .2,9.8 .1-11.2 .1,.3 .3,3.3 .1-2 .1,.1 .1,4 .2-2.2 .2,16.1 .1-15.9 .1,4.7 .1-2.8 .1,.6 .1,12 0-13.2 .1,9.9 .2-5.9 .1,3.2 .1-6.1 .3,6.5 .1-5 .1,9.4 .1-8.3 .1,1.4 .1,0 .1-1.1 .1,2.7 .1-1.3 .1,1.7 0-2 .1,4.6 .1,.1 .2-3.5 .1,4 .2-3.1 .1,6.8 .1-6.1 .1,3.8 .1-2.9 .1,9.5 .2-8.8 .2,1.6 0,3.6 .1-4 .2,6.1 .1,11.7 .1-13.1 .1,15.1 0-13.5 .1-2.8 .1,2.7 .1-4.2 .1,3.6 .1-2.3 0,2.2 .1,22.4 .1-22 .2,3.9 .1-3 .1,4.9 .1-7.2 .1,7.9 .2-5.1 .1,6.9 0-5.5 .2,2.4 0-1.7 .5,74.2 .4-62.6 .1-13.3 .1,5.7 .1-5.3 .1,2.2 .1-1.3 .1,14.4 0-14.7 .2,9.5 .1-8.6 .2,3.4 .1-2.6 .1-.4 .1,.2 .2,17.6 .4,55.8 .5-61.4 .1-8.9 .1,5.5 .1-5.4 0,3.3 .1-2.2 .1-.3 .1,.5 .1,5.1 .1-4.7 1,3.4 .3,.7 .3,.2 112.4,17.7" stroke="#ff0000" stroke-dasharray="2.083 3.438" stroke-width="2.083" fill="none"/><path d="M470.4,188.5l.8-.1 .9,0 .8-.1 .8-.1 .9,0 .8-.1 .9-.1 .8,0 .9-.1 .8-.1 .9,0 .8-.1 .9-.1 .8,0 .9-.1 .8-.1 .8,0 .9-.1 .8,0 .9-.1 .8-.1 .9,0 .8-.1 .9,0 .8-.1 .9,0 .8-.1 .9,0 .8-.1 .8,0 .9-.1 .8,0 .9,0 .8-.1 .9,0 .8,0 .9-.1 .8,0 .9,0 .8-.1 .9,0 .8,0 .8-.1 .9,0 .8,0 .9-.1 .8,0 .9,0 .8,0 .9-.1 .8,0 .9,0 .8-.1 .8,0 .9,0 .8,0 .9-.1 .8,0 .9,0 .8,0 .9,0 .8-.1 .9,0 .8,0 .9,0 .8,0 .8,0 .9-.1 .8,0 .9,0 .8,0 .9,0 .8,0 .9,0 .8,0 .9,0 .8,0 .9,0 .8,0 .8,.1 .9,0 .8,0 .9,.1 .8,0 .9,.1 .8,.1 .9,0 .8,.1 .9,.1 .8,.1 .8,.1 .9,.1 .8,.1 .9,.1 .8,.1 .9,.1 .8,.1 .9,.1 .8,.2 .9,.1 .8,.1 .9,.2 .8,.1 .8,.2 .9,.1 .8,.2 .9,.2 .8,.1 .9,.2 .8,.2 .9,.2 .8,.2 .9,.1 .8,.2 .9,.2 .8,.2 .8,.3 .9,.3 .8,.3 .9,.4 .8,.5 .9,.5 .8,.5 .9,.5 .8,.5 .9,.6 .8,.5 .9,.6 .8,.6 .8,.5 .9,.6 .8,.7 .9,.6 .8,.7 .9,.7 .8,.8 .9,.7 .8,.8 .9,.8 .8,.8 .8,.7 .9,.8 .8,.8 .9,.7 .8,.8 .9,.8 .8,.7 .9,.8 .8,.7 .9,.8 .8,.8 .9,.8 .8,.8 .8,.9 .9,.8 .8,.9 .9,.9 .8,1 .9,.9 .8,1 .9,1.1 .8,1.1 .9,1.1 .8,1.2 .9,1.2 .8,1.3 .8,1.3 .9,1.3 .8,1.4 .9,1.4 .8,1.5 .9,1.5 .8,1.6 .9,1.5 .8,1.7 .9,1.6 .8,1.7 .8,1.9 .9,1.9 .8,2 .9,2 .8,2.1 .9,2.2 .8,2.2 .9,2.2 .8,2.3 .9,2.5 .8,2.7 .9,2.7 .8,2.7 .8,2.6 .9,2.4 .8,2.3 .9,1.9 .8,1.7 .9,1.6 .8,1.7 .9,2 .6,2.1 0,1-.6,23.1-.9-7.3-.8,4.1-.9-4.2-.8-5.5-.9,7-.8-6.3-.9,1.7-.8-5.8-.8,3.6-.9-8.4-.8,1.8-.9-9.5-.8,2.5-.9-6.3-.8-1.1-.9-5.5-.8-3-.9-1.7-.8,1.4-.9-6.8-.8,.1-.8,2.2-.9-4.7-.8-1.5-.9,.5-.8-4.7-.9,0-.8-3.9-.9,1.5-.8-5.6-.9,2.6-.8-2.7-.8-5.9-.9,3.3-.8-3.4-.9-3.1-.8,.9-.9-1.8-.8-.7-.9-3.3-.8-.3-.9,2.9-.8-5.4-.9-1-.8,1.9-.8-2.8-.9-.2-.8-.3-.9,.2-.8-5.3-.9-1.1-.8,4.7-.9-5.8-.8,4.7-.9-6.4-.8-.9-.9,1.8-.8,0-.8-3.1-.9-1.1-.8,.5-.9,2.3-.8-4.3-.9,2.9-.8-4.2-.9,2.5-.8-4-.9-3.1-.8,4-.8-.6-.9-.7-.8-1-.9-3.1-.8,1.7-.9-3.9-.8,1-.9-1.4-.8-.2-.9,.3-.8-1.6-.9,1.9-.8-.8-.8-3.8-.9,1.2-.8,.6-.9-.9-.8,1.8-.9-1.6-.8-1.6-.9,2.4-.8-1.3-.9,.3-.8-1.9-.9,2.3-.8-2.7-.8-.2-.9-1.4-.8,3-.9-2.5-.8-1-.9,4.1-.8-1.4-.9-.7-.8,.9-.9-2.9-.8,1.6-.9-2.5-.8,2.9-.8-2.7-.9,1.5-.8-2.1-.9,3.4-.8-2.9-.9,1.5-.8-2.5-.9,4.5-.8-3.6-.9,0-.8,2.9-.8-1.1-.9-2.9-.8,2.7-.9,1.1-.8-.9-.9-2.8-.8,1.4-.9-1.1-.8,3-.9-3.2-.8,4-.9-.3-.8-1.9-.8-2.1-.9,2.3-.8-2-.9,.8-.8,.5-.9-.1-.8-.7-.9,2-.8-3.1-.9-.5-.8,2.5-.9-2.5-.8,3.4-.8-.5-.9-2.2-.8,.7-.9-1-.8,.8-.9,.6-.8-2-.9,.8-.8-1.9-.9,.4-.8,.6-.8-.9-.9,1.6-.8-.3-.9-.6-.8,.7-.9,.3-.8-.3-.9-.6-.8-2-.9,1.1-.8,1-.9-2-.8-.4-.8-.1-.9,1.9-.8-1.4-.9-1-.8,1.7-.9-1.6-.8,.1-.9,1-.8-1.9-.9,1-.8-.7-.9,.1-.8-.6-.8,.7-.9-.4-.8-.4-.9-.1-.8-.6-.9,.1-.8,.1-.9-.5-.8-.5-.9-.2-.8,.2-.9-.5-.8,0-.8-.3-.9-.2-.8-.2z" fill="#ff0000"/><path d="M473.8,191.5h2.1v2.1h-2.1zm1.1-1.5h2.1v2.1h-2.1zm4.7,3.4h2.1v2.1h-2.1zm.9,1.5h2.1v2.1h-2.1zm3,1h2.1v2.1h-2.1zm3-1.3h2.1v2.1h-2.1zm1,2.9h2.1v2.1h-2.1zm1.8-3.8h2.1v2.1h-2.1zm3.4,.5h2.1v2.1h-2.1zm1.6,6.4h2.1v2.1h-2.1zm1.5-1.2h2.1v2.1h-2.1zm1.2-.1h2.1v2.1h-2.1zm.1,1.9h2.1v2.1h-2.1zm.3-3.9h2.1v2.1h-2.1zm1.1-.9h2.1v2.1h-2.1zm.9,4.1h2.1v2.1h-2.1zm.8,2.7h2.1v2.1h-2.1zm1.6-7.7h2.1v2.1h-2.1zm.2,1.2h2.1v2.1h-2.1zm.6,.3h2.1v2.1h-2.1zm.3,5.9h2.1v2.1h-2.1zm1.3-.3h2.1v2.1h-2.1zm1.9-.5h2.1v2.1h-2.1zm1.5-3.2h2.1v2.1h-2.1zm.1,.9h2.1v2.1h-2.1zm.1,5.9h2.1v2.1h-2.1zm.9-7.4h2.1v2.1h-2.1zm.4,1.4h2.1v2.1h-2.1zm.1,6.6h2.1v2.1h-2.1zm.2-4.6h2.1v2.1h-2.1zm1.2-4.5h2.1v2.1h-2.1zm.9,6.1h2.1v2.1h-2.1zm.8-6h2.1v2.1h-2.1zm.9,5.5h2.1v2.1h-2.1zm3.1-2h2.1v2.1h-2.1zm.1-1.3h2.1v2.1h-2.1zm1.7,5.5h2.1v2.1h-2.1zm.3-.8h2.1v2.1h-2.1zm.8-3.5h2.1v2.1h-2.1zm.2,5.5h2.1v2.1h-2.1zm.1-7.2h2.1v2.1h-2.1zm.3,2.2h2.1v2.1h-2.1zm2.1-.9h2.1v2.1h-2.1zm.6-.7h2.1v2.1h-2.1zm.9,7.8h2.1v2.1h-2.1zm1-7.3h2.1v2.1h-2.1zm.1,7.2h2.1v2.1h-2.1zm1.8-7.4h2.1v2.1h-2.1zm.4,6.6h2.1v2.1h-2.1zm.3-.5h2.1v2.1h-2.1zm.2-2.8h2.1v2.1h-2.1zm1.1-4.1h2.1v2.1h-2.1zm.4,7.2h2.1v2.1h-2.1zm.2-7h2.1v2.1h-2.1zm.7,.3h2.1v2.1h-2.1zm3.6,1.8h2.1v2.1h-2.1zm.1,6.3h2.1v2.1h-2.1zm2.2-2.4h2.1v2.1h-2.1zm.9,2.7h2.1v2.1h-2.1zm.2-7.3h2.1v2.1h-2.1zm.6,1.6h2.1v2.1h-2.1zm.5-2.2h2.1v2.1h-2.1zm.6,6.7h2.1v2.1h-2.1zm.4-2.4h2.1v2.1h-2.1zm.6,.7h2.1v2.1h-2.1zm1.2-4.6h2.1v2.1h-2.1zm.8,2.9h2.1v2.1h-2.1zm.9-3.2h2.1v2.1h-2.1zm2.5,.3h2.1v2.1h-2.1zm0,.7h2.1v2.1h-2.1zm.5,3.6h2.1v2.1h-2.1zm2.1,.2h2.1v2.1h-2.1zm.5,1h2.1v2.1h-2.1zm0-4.3h2.1v2.1h-2.1zm1.8-.8h2.1v2.1h-2.1zm.6,6.5h2.1v2.1h-2.1zm.6-.8h2.1v2.1h-2.1zm.5-.6h2.1v2.1h-2.1zm.8-1.6h2.1v2.1h-2.1zm1.1-2.1h2.1v2.1h-2.1zm1.3,4.7h2.1v2.1h-2.1zm.1-5.2h2.1v2.1h-2.1zm.1,6.1h2.1v2.1h-2.1zm0-2.5h2.1v2.1h-2.1zm.5,2.5h2.1v2.1h-2.1zm.4-5.3h2.1v2.1h-2.1zm.9,1.6h2.1v2.1h-2.1zm.8,2.6h2.1v2.1h-2.1zm.4-2.9h2.1v2.1h-2.1zm.5,1.7h2.1v2.1h-2.1zm2.2,.6h2.1v2.1h-2.1zm1-2.5h2.1v2.1h-2.1zm.6,2.6h2.1v2.1h-2.1zm2.8,3.4h2.1v2.1h-2.1zm.5-5h2.1v2.1h-2.1zm3.5,5.1h2.1v2.1h-2.1zm.3-.7h2.1v2.1h-2.1zm1.2-.9h2.1v2.1h-2.1zm.7,.8h2.1v2.1h-2.1zm.7,1.3h2.1v2.1h-2.1zm2.4,1.8h2.1v2.1h-2.1z" fill="#ff0000"/><path d="M75.8,263.9l19.9-5.3 19-4.7 21.3-4.7 19.9-4 21.2-3.8 14.1-2.2 7.1-.9 9-.8 3.4-.2 3.2,0 2.9,.2 2.6,.4 2.4,.5 2.1,.8 1.9,.9 1.5,1.2 1.3,1.3 1,1.5 .8,1.5 .6,1.8 .4,2 .3,2.3 .4,4.8 .2,12.8 .1-9.9 .2-4.3 .3-3.8 .4-2.6 .5-2.1 .7-1.8 .9-1.9 1.4-1.8 1.6-1.7 1.9-1.4 2.3-1.3 2.6-1.1 2.8-.7 2.7-.5 2.7-.1 1.9,.1 1.9,.4 1.6,.5 1.4,.7 1.3,1 1.1,1.1 .8,1.3 .8,1.6 .5,1.5 .4,1.9 .5,4.1 .3,5.2 .2,13 0-12.2 .3-5.8 .6-4.9 .9-3.5 .8-1.7 1-1.7 1.1-1.3 1.4-1.2 1.5-1 1.6-.7 1.7-.5 1.7-.1 1.4,.1 1.3,.4 1.2,.6 1.1,.8 .9,1 .7,1.2 .7,1.5 .5,1.6 .7,3.5 .4,5.7 .2,18.1 .3-18.6 .4-5.4 .7-3.7 .5-1.6 .6-1.6 .9-1.4 .9-1.1 1-.9 1.2-.7 1.2-.4 1.3-.2 1.1,.2 1.1,.4 .9,.6 .8,.8 .8,1.2 .6,1.2 .5,1.4 .4,1.8 .5,3.8 .3,4.4 .2,20.2 .1-19.5 .3-4.8 .5-4.1 .4-1.9 .5-1.6 .6-1.3 .8-1.3 .8-1 1-.7 .9-.4 1-.1 .9,.1 .9,.4 .7,.6 .7,.8 .6,1.1 .5,1.2 .8,3.1 .4,3.6 .3,5.2 .1,20.9 .1-19.9 .3-5.9 .4-3.9 .7-3.3 .6-1.4 .5-1.1 .7-.9 .8-.7 .7-.4 .9-.2 .7,.2 .8,.4 .7,.7 .6,.9 .9,2.5 .6,3.2 .3,4 .2,4.6 .1,21.4 .2-22.7 .1-3.9 .4-3.7 .6-3.2 .9-2.7 .6-.9 .7-.8 .6-.4 .7-.2 .7,.2 .6,.4 .6,.6 .5,.9 .7,2.2 .6,3.4 .5,6.8 .1,24.2 .1-22.9 .2-4.7 .2-3.2 .5-3.3 .9-2.8 .5-1 .6-.7 .6-.5 .6-.1 .6,.1 .6,.5 .5,.7 .4,.9 .7,2.3 .5,3.6 .3,6.6 .1,24.6 .1-19.9 .2-7.6 .2-3.9 .5-3.7 .7-2.4 .4-.9 .5-.8 .5-.4 .6-.2 .5,.1 .5,.4 .9,1.6 .7,2.6 .4,3.6 .3,10 .1,21.6 .1-25.6 .2-5.8 .5-3.8 .6-2.9 .9-1.7 .5-.5 .5-.2 .5,.2 .4,.4 .8,1.7 .6,2.7 .3,3.1 .3,5.7 .1,26.6 0-22.5 .3-8.9 .3-3.7 .5-2.8 .8-2.1 .4-.6 .5-.2 .4-.1 .3,.2 .7,1 .5,1.6 .4,2.4 .4,5.7 .2,10.5 .2-9.2 .2-5 .5-3.6 .6-2.6 .4-.8 .4-.5 .4-.2 .4,.1 .3,.2 .3,.6 .6,1.8 .5,2.6 .2,3.1 .3,10.1 .3-10.3 .5-4.9 .5-2.2 .6-1.2 .3-.3 .4-.1 .6,.5 .4,.9 .3,1.2 .5,3.8 .3,4.8 .2,11.2 .1-12.2 .5-5.9 .4-2.5 .6-1.7 .3-.4 .4-.2 .3,.1 .3,.4 .5,1.1 .3,1.5 .5,5.2 .2,5.4 .1,18 0-17.7 .3-7.1 .2-2.8 .5-2.4 .5-1.5 .5-.6 .2,0 .3,.1 .4,.8 .4,1.2 .3,2 .3,4.5 .3,10.5 .2-9.9 .1-3.1 .4-3.2 .4-2 .6-1.2 .3-.2 .3,.1 .3,.6 .3,.7 .4,2.2 .3,3.8 .2,4.9 .1,9.1 .1-11.2 .5-6.5 .4-2.5 .5-1.3 .3-.3 .3,.1 .5,.9 .6,3.2 .3,5.4 .2,19.5 .1-16.4 .2-5.4 .5-5.2 .4-1.7 .4-.7 .3-.1 .1,.1 .5,.9 .3,1.5 .2,2 .4,6.9 .1,7.7 .1-9.2 .3-5 .4-3.3 .3-1 .3-.8 .2-.1 .2,0 .4,.5 .3,1.2 .3,1.6 .3,4.7 .2,8.8 .4-12.1 .4-3.3 .5-1.6 .4-.2 .3,.4 .3,1.1 .3,1.5 .3,4.5 .3,9 .1-6.1 .2-5.6 .4-3 .5-1.8 .3-.3 .3,.4 .5,2.2 .4,4 .2,5.5 .1-.4 .4-7.8 .3-2.6 .5-1.5 .2-.1 .1,.1 .4,.7 .5,3.3 .3,9.2 .5-9.8 .5-3.1 .4-.6 .2-.1 .1,.2 .5,2 .4,3.9 .1,5.3 .2,.2 .2-5.6 .3-3.9 .4-1.7 .1-.4 .2-.2 .2,0 .3,.7 .3,1.9 .4,5.3 .1,19.7 .2-20 .4-5.2 .3-2 .3-.7 .2,0 .2,.2 .1,.5 .4,2 .1,2 .4,11.8 .2-9.7 .3-4.7 .2-1.1 .3-1.1 .2-.2 .1,.1 .4,1 .3,2.8 .2,3.1 .2,11.7 .1-10.7 .2-3.7 .3-3.2 .4-1.2 .1-.2 .2,.1 .2,.4 .3,1.9 .2,1.9 .3,12.5 .2-10.2 .2-3.1 .1-1.7 .4-1.7 .1-.3 .2,0 .3,.9 .4,2.6 .2,3.1 .1,11.9 .2-10.9 .2-3.7 .3-3.1 .3-1 .2-.1 .2,.3 .1,.7 .4,2.9 .2,3.6 .1,10.7 .2-11.8 .3-4.8 .4-1.6 .1-.2 .2,.1 .2,.4 .3,2.4 .2,2.7 .2,7.9 .5-11.5 .3-1.9 .2-.3 .1,0 .2,.4 .3,2.4 .2,2.8 .2,11 .3-13.1 .2-2.1 .3-1.5 .2-.2 .3,.8 .2,1.3 .3,10.9 .2,.5 .2-8.9 .2-3.7 .1-.7 .4-.3 .1,.1 .4,3.1 .1-.1 .4,5.3 .3-7.4 .2-1.2 .2-.1 .1,.1 .2,1 .2,4.2 .1-2.9 .2,7.2 .2-6.6 .1-.4 .2,.1 .2-.7 .1-2.1 .2-.1 .2,1.9 .1-1.8 .4,8.1 .2,11.1 .3-18 .2-1.5 .1,1.5 .2,.4 .2-1 .3,9.3 .2-4.1 .1,12.5 .4-18.6 .2,2.2 .1-2.2 .2-.2 .2,6 .1-3.8 .2,6.6 .2-3.3 .1,6.7 .2-12.2 .2,.7 .1-.8 .2,.9 .2-1 .3,1.6 .2,13.7 .2-14.1 .1,14.5 .2,5 .2-20.4 .1,2.1 .2-2.4 .2-.1 .1,.7 .2-.6 .2,1.5 .2,4.7 .1-6.4 .2,0 .3,4.1 .2,25.7 .2,.5 .1-21.6 .2-7.4 .2-1.4 .1,5.3 .2-3.8 .2,.6 .2-2.2 .1,2.9 .2-.3 .2-2.1 .1,.7 .2-1.3 .2,6.9 .1,.1 .2-6.7 .2,4 .1-4.3 .2,.4 .2,1.3 .2-1.2 .1,5.7 .2-1.3 .2-4.6 .1,4.5 .2-4.9 .2,9.3 .1-1.1 .2,.8 .2,12 .1-19 .2,6 .4-8.3 .3,.7 .2-.5 .3,2.1 .2,11.7 .1-9.5 .2-.7 .2,7.7 .5-10.4 .2-1 .1,.7 .2-.8 .2-.2 .1,.3 .4,3.5 .1-2.6 .4,2.3 .1-3.6 .2,11 .2-9.5 .2,5.2 .1-6.1 .2,10.7 .2-11.3 .1,1.9 .2,9.7 .3-11.5 .2,.9 .2,4.9 .1-6.1 .2,15.5 .2-10.8 .2-3.3 .1-1.2 .2,.4 .3-.5 .4,15.7 .1-15.5 .2-.3 .2,.2 .1,3.8 .2-2.7 .2-.2 .2,7.6 .1-7 .2,7.2 .2-7.2 .3-1.9 .5,2.2 .2,14.1 .1-15.7 .2,1.6 .2-.6 .2,.2 .5,12.5 .1-12.7 .2-1.9 .2,.8 .1-.1 .2,13.8 .2-11.2 .1,3.4 .4-6.7 .2,1.3 .1,7.7 .4-7.6 .1-1.2 .2,6.3 .2-5.2 .1-1.4 .2,.1 .2,.9 .1,18.6 .2-19.7 .2,9.4 .2-9.3 .3,1.8 .2,3.8 .1,.6 .2,22.3 .2-27.5 .1-1.1 .2,4.3 .2-1.4 .1,11.7 .2-9.5 .2-3.9 .2-1.1 .1,7.9 .2-5.2 .2,8.9 .1-5.9 .2,.4 .2-5.9 .1,2.4 .2-2.6 .2,6.1 .5-6.3 .3,1.5 .2-1.6 .2,.9 .1-.5 .2,19.2 .2-4.7 .1-14.8 .4,5.6 .1-1.3 .2-3.8 .2,.9 .2-1.6 .1,9.5 .2-.6 .2,1.2 .1-9.3 .2-.9 .2,8 .1,2.6 .2-10.1 .2,.8 .1-1.3 .2,0 .2,1.2 .1-.7 .2,6.7 .2-1 .2-5.1 .1,30.2 .2-25 .2-4.6 .1,7.3 .2-7.9 .3,2.4 .2,.1 .2-3.7 .3-.1 .4,21.4 .1-20.3 .2,9 .2-6.8 .1-1.1 .2,2.3 .2-4.6 .1,18 .2-1.1 .3-11.4 .2,9.9 .4-14.5 .1,10.4 .2-10.7 .2-.6 .1,.3 .4,7.1 .1-7.2 .2,19.1 .2-12.3 .1,.7 .2-6.1 .2-1 .3-.7 .2,3.8 .2-3.2 .1-.6 .2,.2 .3,9.8 .4-9.2 .1,3 .2,0 .2-2.9 .2,1.7 .3-2.7 .2,11.8 .1-9.8 .2,7.4 .2-8.5 .1-1 .2,.8 .3,13.7 .2-14.5 .2,.9 .2,10.8 .1-11.7 .2,0 .2,4.2 .1-3.6 .2,6 .2-6.4 .1,.7 .2,13.2 .2-14.2 .1,.7 .2,3.6 .2-2.2 .3-1.3 .2-.3 .2,1.8 .1-.6 .4,10.8 .3-12.6 .2,7.6 .1-3.8 .2,16.6 .2-15.7 .2-.5 .1,7.3 .2-9.4 .2-1.7 0,6.8 .1-6.3 .2,3.6 .1-4.6 .1,0 .1,2.2 0-2.1 .2,14.5 .1-4 .1,2.6 .1-9.6 .1-3.5 .1,.5 .1-.6 .1,16 .2-13.2 0,4 .2-6.9 .1,0 .1,9.5 .1-9 0,3.4 .1-3.4 .1,3.5 .2-1.8 .1,.4 .1-2 0,7.1 .2-6 .1,7.5 .1-8.6 .1,7.5 .1-7.5 .1-.5 .1,1.7 .2-.4 .1,4.9 0-5.6 .2,4.3 .1-3.5 .2,9.6 0-11.1 .1,16.3 .1-14.9 .1,1.1 .1-2.2 .2,20.1 0-20.5 .1,17.1 .2-16.5 .1,13 .1-11.9 0,1.9 .1-1.1 .2,13.3 .1-15.6 .2,8.7 .1-8.6 .2,3.2 .2-2.1 0,3.6 .1-3.8 .1-1.2 .1,.5 .1-.5 .2,23.8 .1-22.3 .1,2.2 .1-3.1 .1,9.5 .1-9.8 .1,1.8 .1-1.3 .1,8.1 .1-7.7 .1,4.4 .1-2.7 0,6.5 .1-7.3 .2,6.5 .1-8.6 .1,0 .1,5.7 .1-5.3 .1,5.9 .2-6.3 .1,51.8 0-51.5 .1,3.3 .1-2 .1,7.7 .2,3.7 0-10 .1-.4 .1,.8 .2-3.4 .1,5 .1-5.1 .1,13.4 .1-10 .1,1.6 .1-5.1 .1,4 0-3.9 .2,25.5 .1-25.2 .2,1.4 .1-1.8 0,12.1 .3-12.1 .1,.1 .1,12 0-11.6 .3,5.4 .1-3.5 .1,13.4 .1-15.6 0,8.6 .2-8.6 .1,11 .2-11.2 0,38.5 .1-38.1 .1-.4 .2,3.4 .2-3.3 0,15.5 .1-12.9 .3-2.7 .1,13.8 0-9.7 .1,22 .2-20.4 .1,22.8 .2-27.2 0,8.2 .1-9.5 .3,46.4 .1-46.1 0,1 .1-.5 .1,6.8 .1-7.6 .3,5.2 .1,25.3 .1-30.3 .1-.3 .1,3 .1-2.8 .1,13.5 .1-11.6 .1,9.6 .2-10.7 .1,.8 0-1.2 .3,12.4 .1-11.1 .1,4.1 .1-6 .2,20.8 .1-17.7 .1,11.5 .1-14.4 0-.2 .1,.5 .1,4 .1-4.3 .1,.3 .1,11.5 0-11.7 .3,10.6 .3-10.9 .1,.1 .1,2.6 .1-2.3 .1,.9 .1-1.3 .1,.4 .1,2.7 .2-2.9 .1,22.6 0-20.4 .1,3.4 .2-5.5 .1,9.4 .2-9.7 0,2.7 .1-2.5 .1,1.9 .1-1.6 .2,15.2 0-12.9 .2-2.3 .1,8.1 .1-6.7 .1-.7 .1,3.2 0-3.8 .2,15.7 .2-16.1 .1,1.8 .1-1.9 .1,8.1 .1-8.1 .1,2.5 .1-2.5 .1,2.1 .1,10.7 .3-12.8 .1,9.5 0-7.2 .1,1.9 .1-4.3 .1,8.1 .1-7.6 .2,5.7 0-4.8 .2-1.3 .1,3.1 .1-3.1 .1,10.6 0-9.2 .1,4.9 .1-5.8 .1,.1 .2,11.8 .1-11.5 0-.3 .3,6.3 .1-4.7 .1,2 0-2.3 .1,1.6 .1-3.5 .2,2.9 .1-2.7 .3,9.5 .2-9.6 .1,23.6 0-23.3 .1,0 .1,1.6 .2-1.9 .1,13.8 .1-13 .1-.5 .1,4.4 .2-4.1 .1,2.2 .1-2.7 .1,8.6 .2-7.6 .1-1 .1,1.1 0-1 .1,2.5 .1-2.7 .1,.2 .1,16.8 .1-12.3 0,1.7 .1-5.3 .1,22.4 .1-22.7 .1,4 .1-4.7 .1,13 .1-12.9 .2,10.2 .1-10 .1,1.7 0-1.4 .1,8.8 .2-8.7 .1,.7 .1-.9 .1,6.1 .2-6.3 .1,17 .1,.2 .1-16.7 0,10.5 .1-11.1 .1,.9 .1-.9 .1,6.6 .1-2.7 .1,.9 0,10.7 .2-15.4 .1,3.7 .1-3.8 .1,.6 0-.2 .1,3.7 .1-4 .1,0 .1,3.7 .1-3.5 .1,18.4 .1-15 .1,13.7 .1-16.7 .1,10.9 .1-6.2 0,3 .2-8.3 .1,4.2 .1-4.2 .1,14.7 .1-13 0,10.8 .1-11 .1,15.4 .1-16.8 .1,5.8 .1-1.9 0,.5 .1-4.4 .1,0 .1,11 .1-11 .1,29 .1-26.3 .1,4 .1-2.1 .2,13.9 .1-18 0,3.4 .1-3.5 .1,.2 .1,.5 .1,31 .2-31.9 .1,5.6 .2-5.5 .2,13.7 .1-12.4 .3,11.6 .1-.2 .1-8.8 0,3.9 .2-7.8 .2,30.5 .1-29.2 .1,4 .1,20 .1,.5 .1-23.1 .2-2.3 0,19.1 .1-11.1 .2-3.4 .1,4.4 .1-9.2 .2,14.7 .1,36.1 .1-47 .1,23.1 .1-23.3 0,35 .1-38.4 .1,11.1 .2-11.2 .1,12 .2-10.9 .1,4.8 .2-5.5 .1,.6 0,9.5 .1-7.2 .1,32.2 .1-35.5 .1,4.3 .1-4.2 .1,2.4 .1-.1 .1,15.9 .1-17.2 .2,9.7 .1-10 .2,2 .1-1.8 .1,.7 .1-.4 .2,8.5 .1-7.1 .2-2.5 0,4.4 .1-3.4 .1,4.9 .1-3 .2,3.8 0-5 .2-1.6 .1,21.9 .1-17.8 .2-3.6 0,3.2 .1-3.3 .1,.8 .2-1.1 .1,.9 .1,2.3 .1-1.1 .1,14.9 .1-16.9 .1,3.4 .1-3.5 0,14 .2-12.6 .1-1.1 .1,.4 .1,4.1 0-4 .1,19.6 .2-19.4 .1,.5 .1-.7 .1,.1 0,3.8 .3-4.5 .1,14.6 .1-10.2 0,8.5 .1-12.9 .1,0 .1,2.3 .1-1.3 .1,4.8 .1-5.7 0,5 .2-4.8 .1,8 .2-8.3 0,.8 .1,13.5 .2-14.2 .1,5.3 .1-4.4 .1,1.8 .1-1.3 .1,.1 .1,4.9 .1-6.1 .1,1.2 0-1.3 .1,.9 .2-1 .1,12.7 .1-12.2 .1-.5 0,7.9 .1-6.3 .2,6.6 .1-8 .1,13.9 0-13.2 .3,1.7 .1-1 .1,17 .1-18.4 0,36.8 .1-36.8 .1,0 .1,9 .1-8.1 .1-.9 .1-.1 .1,.7 .2,4.9 .1-5.3 .1,19.5 0-18.4 .1-1.3 .1,1.6 .1,27.7 .2-24.8 .1-4.5 .1,0 .1,10.9 .1-10.7 .1,1.2 .1-1 0,5.6 .1-5.4 .1,.4 .1,10.8 .1-9.8 .1-1 .1,7.5 .3-7.9 .1,0 .1,14.5 0-14.4 .1-.1 .2,7.1 .1-5.9 .1,.1 0,4.1 .2,1.3 .2-7.1 .1,2.9 .1-2.5 .1,6.1 .2-5.5 .2,6.4 0-7.4 .1,.3 .1,2.5 .1-1.6 .1,7.4 .1-8.3 .1,7 .2-7.2 .2,17.6 .1-16.2 .1,25.3 .1-23.9 .1,12.3 .1-9.3 .1,1.8 .1-.4 0-5.2 .2,12 .1-8.4 .1,11.9 .1-17.3 0,1.2 .1,0 .1-1.1 .1,.7 .1-.4 .1,9.8 0-10.3 .1,0 .1,1.4 .1,8.7 .3-9.8 0-.1 .2,2.8 .1-2.7 .2,2.7 0-1.5 .1,1.7 .1-2.4 .1,.3 .3,13.7 .1-14 .1,14.7 .1-11.5 .1,4.1 .1-7 .2,5.4 .1-1.8 .1,1.3 .1,4.6 .1-10.3 .1,0 .1,12.3 .3-11.4 .1,29.9 .1-28.2 .2-2.6 .2,5.7 0-3.8 .1,1.7 .1-3.2 .2,16.7 .1-16.2 0,12.3 .1-12.4 .1,.4 .1-1.2 .2,6.8 .1-5.8 0,5 .1-5.8 .3,11.3 .1-10.5 0,14.8 .1-14.5 .2,4.3 .2-4.4 .1,9.4 .1-10.1 .1,5 .1-4.2 .1,.8 .1,13.4 .1-15.2 .2,20 .1-15.4 .1,1.1 .1-3.1 0,12.2 .1-14.8 .1,14.8 .3-11.3 0-.2 .1,1.9 .1-1.1 .1,1.8 .1-5 .1-.6 .1,.6 0,2.6 .1-2.8 .3,4.8 .1-4.8 0,1.6 .1-1.7 .2,26 .2-25.7 .1,11.3 .1-7.2 .3-4.1 .1-.7 .1,8.8 .1-7.9 .1,14.1 .1-9.8 .1,3.7 .1-8.8 0,1 .1-.8 .1,23.4 .2-23.6 .1,0 .1,6.1 .1-5.3 .2,14.2 .1-13.2 .1,1.1 0-2.6 .1,.8 .1-.6 .1,5.4 .1-5.1 .1,.6 0-1.2 .1,1.2 .1-1.1 .1,11.9 .1-6.5 .1,11.8 .1-16.2 .1,10.3 .1-10.6 .1,10.6 .1-11.2 .1,47.7 0-43 .1,.4 .1-4.1 .1,.4 .2,19.3 .1-20.6 0,3.7 .4-3.5 .1-.1 .1,15.2 .1-3.3 .1,3.4 .1-14.7 .1-.3 .1,7.2 0-5.6 .1,10.5 .3-11.9 .1,0 0,8.8 .2-9 .2,1.2 .2,22.1 0-22.4 .1,.9 .2-1.9 .1,17 .1-16.8 .1,4.7 .1-4.9 .2,3.9 .1,16.2 .1-19.2 .1-.6 .2,2.1 .1-2.1 .1,2.3 .1,16.7 .3-19.1 .2,27.8 .1-26.2 .1,13.7 .1-11.3 .1,12.9 .1-13 0,4.7 .1-8.3 .1,2.8 .1-2.2 .1,2.8 .1-3.5 .1,4.3 .2-3.6 .1,7.8 .1-7 .1,.6 0-1.7 .1,.3 .2,23 .3-23.5 0,1.7 .1-.1 .1,.8 .1,7.2 .1-9.5 .1,.9 0,10.1 .1-7.9 .2-.2 .1,5.3 .1-8 .1,2.9 .1-2.8 .2,4.2 .2-3.1 0,7.2 .1-8 .1,9 .1-5.4 .3-3.5 .1,8.8 .1-3.4 .1,10.1 .1-14.9 .1,1.6 0-1.4 .1,1.9 .1,0 .1-.9 .2,6.2 .1-7 .1,2.8 .1-3.2 .1,10.3 .2,3.1 0-13.5 .1,2.1 .2-1.9 .1,0 .1,.7 .1-.2 0,8.1 .1-7.9 .1,6.7 .1-5.4 .1,.4 .1-.4 0-1.5 .1,15 .1-15 .2,19.6 .1-18.8 .1-.5 0,.5 .1-.4 .1,.4 .2,5.1 .1-2.6 0,2.5 .1-5 .3,21.9 .1-15.9 .1-2.7 .1,14.4 .1-16.5 .1,.6 .1-1.2 .1,8.6 0-8.3 .1,.2 .1,7.1 .1-6.2 .1,9.7 .1-9.6 .1,6.7 0-7.5 .2,6.5 .1-5.1 .1,5.1 .1-6.2 .2,5.4 .1-3.4 .1,4.3 .1-5.7 .1,.6 .1-.6 .1,5.7 .1-1 .1,10.8 .1-14.8 .1-.1 .1,2.4 .1,6.4 .1-8.3 .1,1.5 .1-1.4 0,.5 .1-.8 .1,3.2 .1-2.1 .2,13.9 .1-11.3 .1,5.3 .1-7.8 .2,13.5 .1-13 0-.8 .1,.8 .1,3 .2-3.5 .1,.3 0,6.2 .2-6.3 .1,1.3 .1-.9 .1,12 .1-9.2 0,11.8 .1-14.2 .1,2.1 .1-2.2 .1,2.9 .1-2.7 0,.2 .1-.3 .1,0 .1,3.6 .1-2.3 .2,2.6 0-3.1 .1,10.3 .3-10.6 .1,1.5 .1-1.1 .1,8.1 .2-7.7 .2,2.1 .1-2.2 .2,24.4 .1-24.4 .1,3.9 0-3.6 .1,11.4 .1-8.1 .1,9 .1-11.5 .2,.6 0,2.4 .1-2.4 .1,3.5 .1-3.2 .1,23.5 .1-21.7 .1-2.6 .1,8.6 .1-5.9 .1,.7 .1,19.4 .1-22.6 .1,10.9 .2-9.9 .2,3.5 0-3 .2-1.2 .1,24.1 .2-24.1 .1,1.5 .1-.5 .1,10 .2-10.8 .1,10.3 .1-7.3 .1,7.7 .1-9.7 .2,7.4 0-7.3 .2,3.9 .1-2.4 .1,2.7 .1-4.6 .1,17.4 .1-10 .3-5.7 .2,4.7 .1-5.7 .1,.1 .2,6.9 .1-5.8 0-.3 .1,6 .1-4.9 .1,17.4 .1-15.9 .1-3.2 .2,24.2 .1-23.9 .1,1.9 .2-1.7 0,.1 .1,0 .1,2.1 .1-1.7 .1-.1 .1,.7 0-.1 .1,5.7 .1-6.3 .1,.4 .1,9.9 .1-9.9 .1,7.7 0-7.8 .1,3.3 .1-.6 .1,2 .1,7.2 .1-11.8 .1,13 .1-12.1 .1-.2 .1,6.9 .1-5.6 .1,2.1 0-2 .2,14.1 .1-15.3 .1-.1 .1,1.5 0-.9 .1,1.4 .1,24 .1-25.5 .2,8.2 .1-8.3 .1,3.1 .1,30.2 .1-31.4 .1,1.1 .1-2.7 0,7.2 .1-5.9 .1,1.4 .1-2.3 .1-.1 .1,16.9 .1-16.4 0,7.3 .1-7.5 .1,6.6 .1-5.6 .1,5.5 .1-6 0-.2 .1,1.5 .1-1.3 .2,11.2 .2-9.8 0-.1 .1,8.4 .1-5.8 .1,7.1 .1-10.5 .1,.6 0-.4 .2,13.8 .1-9.7 .1,4.6 .1-6.1 .1,4.1 .1-5.5 .2,.4 .1,.8 .1-1.6 .1,16.5 .1-15.8 .1,4.1 .1-4.3 .2,4 0-3.7 .1,4.9 .1-4.9 .1,0 .3,8.7 .1-6.3 .1,12.1 .1-12.4 .2,3 0-2.6 .1,10.3 .1-11.8 .2,25 .1-22.5 .1,27.7 .1-23.9 .3-5.4 .1,7.8 0-6.7 .1,.2 .1,11.3 .1-11.2 .1,3.6 .1-4.5 .1,3.6 .1-3.3 .1,15.2 .1-14.7 .1,2.1 .1-.5 0,5.1 .1-4.6 .1,4.8 .2-6.8 .1,.8 0,10.1 .1-10.9 .1,1.2 .1-.8 .1,5.5 .1-5.6 .1,6.3 .3-5.3 .2-.4 0,7.1 .1-6.9 .1,6.9 .1-6.4 .3,2.6 0,4.2 .1,14.7 .1-13.5 .1,13.5 .2-18.5 0,11.8 .1-7.2 .1,13.2 .1-19.2 .1-.2 .1,2.9 .1-3.2 .1,8.5 .1-7.5 .1,1.5 .1-1.6 .1,7.2 0-6 .1,2.2 .1-2.1 .1,13.7 .1-10.2 .1,8 .1-12.2 .1,.7 .1,3.8 .1-3.9 .2,18 .1-17.2 .1,10 .2-7.9 .2,14 0-15.6 .1-.3 .1,2.1 .1,4.6 .1-3.3 .1,4.4 .3-7.2 .3,6.5 0-4.6 .1,7.7 .1-6.5 .1,5 .2-.5 .2,15.7 .1-21.4 .2,9.1 .1-8.8 0,22.1 .2-22 .2,14.6 .1-10.6 .1,7.9 .2-10.9 .3,15.8 .1-14.2 .2-1.1 .2,25.5 .1-24.8 .1,31.4 .1-29.7 .2,5.9 .1-7.2 .1,0 .1,.3 .1,4.1 .1-3.6 .1,.2 .1-.4 .1,15.5 .1-15.3 .2,6.5 .1,.9 0-3 .1,14.2 .1-17.9 .1,4 .2-3.7 .1,1.3 .1,12.4 .2-10.9 .1,21 .1-23 0,5.7 .1-6.1 .1,.6 .2,31.4 .1-31.5 .2,.4 .1,10.7 .1-9.9 .1,4.8 .1-4 0,7.6 .1-6.6 .1,3.5 .1-5.7 .1,14.3 .1-14.3 0,3.4 .2-3.1 .2,9 .1-5.8 .1,7 .1-9.4 .1,21 .1,.2 .1-21.4 .1,.4 .2,24.1 .1-21 .1,2.5 .1-1.4 .1,2.1 .1-3.7 .1,2.2 .2-4.2 .1,15 .2-4 .1-10.2 .1-.2 .2,2.6 0-1 .2,15.8 .1-16.4 .1,12.9 .1-10.1 .1,4.5 .2-7 .1-.4 .1,5.5 .1-4.7 0,6.4 .1-6.2 .1,4 .2-4.5 .1,3.3 0-3.1 .3,.2 .1,2.6 .1-1.4 .1,14.9 .2-15.5 .1,15.1 .1-15 .1,2.1 .2-1.6 .1,1.4 .1,12.6 .1-10.6 .1-3.1 0,.2 .1,23 .1-12.5 .2-6.5 .1,7.4 .1-10.4 .1,8 .1-5.1 .1,26.6 .2-28.5 0,4.4 .1-5.4 .1,7.8 .1-2.9 .1,9.9 .1-11.2 .1-1.4 .1,4.3 .2-5.2 .1-.2 0,1.1 .1-1 .1,2.2 .1-1.4 .2,2.8 .1,5.6 0-8.5 .1,5.9 .1-4.1 .1,6 .1-7.3 .1,.3 .2,24.3 .1-23.6 .1-.2 .1,.2 .1,19.1 0-17.5 .2,3 .1-2.9 .1,20.2 .1-17.9 0,8.4 .1-11.2 .1,22.4 .1-20.5 .2,10.6 .1-1.9 .2-9.3 .1-.1 .1,3.3 .1-2.1 0,4.2 .1-3.8 .2,12.9 .1-10.5 .1-2.5 .1,1.2 0,7.1 .1-7.9 .2,2 .1,17 .1-17.3 .1-.7 .1,1 .2-.5 .2,19.7 .1-7.3 .1-2.8 .1,1.3 .1-5.7 .1-1.9 .1,2 .3-3 .2,.8 .2,30.3 .1-29.9 .1,0 .1,13.7 0-13.3 .1,13.9 .2-13.1 .3,1.6 0,30.3 .3-30.9 .2,26.9 .1-24.8 .1,17.4 .2-18.1 .2,5.7 0-5 .1,0 .2,9.8 .2-8.5 0,1.1 .1-1.3 .1,1.9 .1,6.5 .1-2.7 .1,2.6 .1-6.1 0,1 .1-1.3 .2,5.3 .1-4.2 .1,5.5 .1-5.1 .3,4.3 .1-3.6 .1,14.5 .1-11.6 .1-2 .1,.6 .1,6.5 .1-5.6 .1,7.6 .1-1.9 .1,10.9 .1-12 .1-.5 .1,2 0-4.9 .2,4.5 .1-2.8 .1,8.6 .1-10.1 .1,6.3 .1-5.6 .2,16.8 .2-16.2 .2,10.8 .2-10.6 .1,3.2 .1,13 .2-16.8 .2,10.5 .1-10.7 0,1.7 .1-1.1 .1,7.4 .1-6.8 .2,18.5 .1-19.7 .1,1.2 .1-.5 .1,3 .1-3 .1,1.8 .1,12.8 .4-14.9 0,11.2 .1-11.6 .1,2.7 .2-2.6 .1,6.5 .1-5.5 0,4.7 .1,18.6 .3-23.6 .1-.7 0,1.5 .1-.4 .1,2.8 .2-4 .1,.3 .1-.3 0,18.7 .2-18.5 .1,12.7 .2-4.3 0-8.6 114,7.5" stroke="#008000" stroke-dasharray="2.083 3.438" stroke-width="2.083" fill="none"/><path d="M470.4,215.1l.8,0 .9-.1 .8,0 .8-.1 .9,0 .8-.1 .9,0 .8-.1 .9,0 .8,0 .9-.1 .8,0 .9-.1 .8,0 .9-.1 .8,0 .8,0 .9-.1 .8,0 .9-.1 .8,0 .9,0 .8-.1 .9,0 .8,0 .9-.1 .8,0 .9,0 .8,0 .8-.1 .9,0 .8,0 .9,0 .8-.1 .9,0 .8-.1 .9-.1 .8-.1 .9-.1 .8-.1 .9-.1 .8-.1 .8-.1 .9,0 .8-.1 .9-.1 .8-.1 .9-.1 .8,0 .9-.1 .8-.1 .9-.1 .8,0 .8-.1 .9-.1 .8,0 .9-.1 .8-.1 .9,0 .8-.1 .9,0 .8-.1 .9,0 .8-.1 .9,0 .8,0 .8-.1 .9,0 .8,0 .9,0 .8-.1 .9,0 .8,0 .9,0 .8,0 .9,0 .8,0 .9,0 .8,0 .8,0 .9,.1 .8,0 .9,0 .8,.1 .9,0 .8,0 .9,.1 .8,0 .9,.1 .8,0 .8,.1 .9,0 .8,.1 .9,.1 .8,0 .9,.1 .8,.1 .9,.1 .8,0 .9,.1 .8,.1 .9,.1 .8,.1 .8,.1 .9,.1 .8,.1 .9,.1 .8,.1 .9,.1 .8,.1 .9,.1 .8,.1 .9,.1 .8,.1 .9,.2 .8,.1 .8,.1 .9,.2 .8,.2 .9,.2 .8,.3 .9,.3 .8,.3 .9,.3 .8,.3 .9,.3 .8,.4 .9,.3 .8,.4 .8,.3 .9,.4 .8,.5 .9,.4 .8,.5 .9,.5 .8,.5 .9,.6 .8,.5 .9,.6 .8,.6 .8,.6 .9,.6 .8,.6 .9,.7 .8,.6 .9,.6 .8,.7 .9,.6 .8,.7 .9,.7 .8,.7 .9,.7 .8,.8 .8,.7 .9,.8 .8,.8 .9,.8 .8,.8 .9,.8 .8,.9 .9,.8 .8,.9 .9,.9 .8,.9 .9,1 .8,1 .8,1 .9,1 .8,1 .9,1.1 .8,1.2 .9,1.1 .8,1.2 .9,1.2 .8,1.3 .9,1.3 .8,1.3 .8,1.4 .9,1.5 .8,1.5 .9,1.6 .8,1.7 .9,1.8 .8,1.9 .9,1.9 .8,2 .9,2.1 .8,2.2 .9,2.2 .8,2.3 .8,2.4 .9,2.7 .8,2.9 .9,1.9 .8,0 .9,0 .8,0 .9,0 .6,0 0,1-.6,15.1-.9-.2-.8-2.2-.9,2.6-.8,1.6-.9,1.9-.8-3.7-.9,4.5-.8-3.4-.8-3.4-.9-2.3-.8,1.6-.9-8.8-.8,2.6-.9,1.4-.8-10.7-.9,6.7-.8-6.2-.9-4.7-.8-1.8-.9,3-.8-6.7-.8,.1-.9,1.1-.8-4.5-.9,4.3-.8-2.7-.9-.9-.8-3.3-.9,5.2-.8-6.3-.9,5-.8,.1-.8-9.4-.9,5.1-.8-1.3-.9,3.1-.8-.5-.9-1.7-.8-4.7-.9,1.5-.8,.1-.9-3-.8-6.5-.9-2.7-.8-.7-.8,4.1-.9-6.3-.8,.4-.9,5.8-.8-7.3-.9,5.5-.8-.6-.9-5.1-.8,2.8-.9-2.7-.8-4-.9-.6-.8,1.7-.8,2.2-.9-.7-.8-3.3-.9,4.1-.8-7.4-.9,.1-.8,.7-.9-2-.8,6.1-.9-1.8-.8-5.8-.8-.3-.9,0-.8,2.1-.9-1.8-.8-2.1-.9,5.3-.8-8.2-.9,3.4-.8,1.9-.9-7.2-.8,3.8-.9-4.7-.8,.6-.8-1.2-.9,2.1-.8-3-.9,.9-.8,4.6-.9-5.7-.8,1.2-.9,3.6-.8-2.4-.9,.7-.8,0-.9-1.9-.8-1.2-.8,.1-.9,4.5-.8-2.9-.9-1.2-.8,4.4-.9-.5-.8-2.2-.9-1.7-.8,1.1-.9-.3-.8-2.1-.9,2.2-.8-1.5-.8-1.2-.9,1.5-.8-2.4-.9,3.8-.8,1.8-.9-6.2-.8,1.4-.9,.1-.8,3.3-.9-4.6-.8-.1-.8,6.2-.9-5-.8,3.9-.9-3.3-.8,.3-.9,.1-.8,1.9-.9-.9-.8,1.1-.9-4.1-.8,.3-.9-.5-.8,4-.8,.5-.9-.4-.8-3.3-.9-2.2-.8,.7-.9-.9-.8,.5-.9-1-.8,2.3-.9-2.5-.8-.8-.9,4.1-.8,.3-.8-4.8-.9,.5-.8,1.6-.9-1.9-.8,.6-.9,1-.8,.8-.9,0-.8-.4-.9-2.8-.8,1.6-.8-2-.9,1.1-.8-1-.9-.5-.8,.6-.9,.6-.8,.6-.9-2.6-.8,2.2-.9-.3-.8-.9-.9-2.2-.8,0-.8,1.6-.9-1.8-.8,.8-.9-.4-.8-.8-.9,.3-.8,1.3-.9-1.3-.8,.6-.9-1.4-.8-.1-.9,.4-.8-.2-.8-1.3-.9,.5-.8-.1-.9,.1-.8-.3-.9-.3-.8-.2-.9-.6-.8-.7-.9-.2-.8,0-.9,0-.8-.6-.8-.2-.9-.3-.8-.3z" fill="#008000"/><path d="M75.8,289.5l11.5-3 11.3-2.7 11-2.4 10.7-2.2 18.9-3.5 8.8-1.5 8.8-1.1 7.7-.4 4.7,0 3.6,.4 2.8,.8 1.2,.6 1,.7 1.5,1.6 1.2,2.3 .8,2.7 .8,4.8 .1,.2 .6-.8 1.5-3.3 1-2 1.1-1.8 1.3-1.8 1.8-2 2-2 2.4-2 2.8-2.2 3.6-2.5 3.9-2.5 4-2.3 4-2.1 3.7-1.7 3.6-1.5 3.5-1.1 3.2-.8 2.4-.5 2.6-.2 2.5-.2 2.2,.1 2,.2 1.9,.4 1.6,.5 1.4,.7 1.2,.8 1,1 .8,1 .8,1.4 1,2.8 .9,4.7 .2,.3 1-5.9 1-3.2 .6-1.6 .9-1.5 .9-1.3 1.1-1.3 1.5-1.3 1.6-1.1 1.7-.9 1.8-.8 1.9-.6 1.8-.3 1.8-.1 1.7,.2 2,.6 1.6,1 1.3,1.3 1,1.6 .8,1.9 .6,2.5 .8,7.2 .6-5.7 .5-3 .9-3 1.2-2.6 .9-1.2 .9-1 1-.9 1.1-.8 1.2-.5 1.3-.4 1.2-.2 1.2,0 1.6,.5 1.6,1 1.2,1.4 .9,1.9 .7,2.3 .4,2.4 .7,8.8 .2-5.1 .4-3.8 .5-3 .7-2.6 1.1-2.3 1.4-1.7 1.6-1.3 .8-.3 1-.3 .8,0 .9,.2 .7,.3 .7,.5 1.2,1.4 .9,2 .7,2.6 .4,3.1 .5,9.7 .4-9.6 .5-3.3 .6-2.6 .8-2.3 1.1-1.8 1.4-1.2 .6-.4 .8-.1 .7,0 .6,.2 .7,.3 .6,.6 1,1.6 .8,2.2 .5,2.6 .3,3.3 .4,10 .3-9.9 .3-3.5 .6-2.8 .7-2.5 .9-1.8 1.1-1.2 .6-.3 .6-.2 .6,.1 .6,.2 1,.9 .9,1.5 .7,2.2 .4,2.4 .3,3.9 .3,10.6 .3-11.1 .3-3 .4-2.9 .6-2.3 .8-1.9 1-1.3 .5-.3 .6-.1 .5,0 .5,.2 .9,1 .7,1.5 .6,2.3 .3,2.2 .3,3 .3,12.3 .2-10.5 .2-4 .4-2.8 .5-2.4 .7-2.1 1-1.3 .4-.3 .5-.2 .5,.1 .4,.2 .8,1 .7,1.7 .5,2.5 .5,5.8 .2,11.8 .2-11.6 .5-6.2 .5-2.6 .6-1.8 .9-1.4 .4-.3 .4-.2 .4,.1 .4,.3 .7,1 .6,1.7 .4,2.2 .4,3.4 .1,3.4 .2,11.6 .1-8.4 .3-6.8 .4-4 .7-3.3 .9-1.6 .5-.4 .5-.1 .4,.3 .4,.5 .8,2 .4,2.2 .4,3.6 .3,11.8 .2-9.6 .4-5.7 .4-2.6 .5-1.7 .6-1.1 .7-.5 .3,0 .4,.2 .6,1.2 .6,2 .3,2.3 .3,5.3 .2,13.3 .2-13.1 .2-4.7 .6-4.3 .4-1.5 .5-1 .4-.4 .4-.1 .3,.1 .4,.4 .6,1.4 .5,2.7 .4,5.9 .2,13 .1-12.5 .3-4.8 .5-3.9 .4-1.6 .5-.9 .3-.5 .3-.1 .4,.1 .2,.3 .5,1.1 .5,1.9 .5,5.7 .2,9.9 .2-9.4 .2-4.1 .4-2.7 .5-2.2 .6-1.1 .3-.2 .3,0 .6,.9 .6,2.4 .3,3.1 .2,5.8 .1,7.1 .4-12.3 .3-3.6 .5-2.6 .5-1.1 .3-.3 .3,0 .4,.3 .2,.5 .4,1.5 .5,4.6 .4,10.7 .1-8.8 .4-4.9 .6-3.3 .4-1 .4-.3 .4,.3 .5,1 .3,1.7 .3,2.2 .3,8.3 .1,10.5 .2-14.7 .2-4.5 .4-3.2 .5-1.7 .3-.3 .2-.2 .4,.3 .2,.4 .5,1.7 .3,2.8 .2,2.8 .2,9.4 .2-9.1 .2-4 .6-3.3 .3-1 .4-.5 .4,.3 .5,1.3 .5,4 .2,6.9 .1,14.4 .1-14.6 .2-5.4 .5-5.2 .3-1.4 .4-.8 .3,0 .1,.2 .4,.7 .5,3.2 .3,6.9 .1,7.8 .4-13.2 .4-4 .5-1.8 .2-.2 .2-.1 .3,.5 .4,1.2 .2,1.8 .3,3.6 .2,10.2 .3-11.4 .3-3.7 .5-2.3 .4-.4 .3,.3 .5,1.9 .4,3.6 .3,8.1 .2-7 .3-4.5 .4-1.8 .3-.9 .2-.1 .1,0 .4,.8 .3,1.8 .3,4.4 .2,8.3 .5-12.2 .5-2.9 .4-.6 .1,0 .2,.2 .5,2.4 .4,4.8 .1,12.3 .2-11.4 .2-3.7 .3-3.2 .3-1.4 .2-.3 .2-.1 .1,.1 .4,1 .2,1 .3,4.3 .2,7.4 .3-8.8 .3-3.5 .2-.9 .3-.9 .2-.1 .2,.2 .3,1.2 .4,3.1 .1,3.6 .2,10.8 .2-11.9 .1-3.1 .5-3.7 .2-.4 .2-.1 .2,.1 .3,1.1 .2,1.1 .3,5.3 .2,14.1 .1-14.7 .4-5 .1-1.2 .4-1.1 .2-.1 .1,.2 .2,.5 .3,2.2 .4,8 .1-.5 .4-7.7 .3-2.3 .2-.5 .2-.2 .1,.1 .4,1.2 .3,3.7 .2,5.1 .1,.7 .4-8.2 .3-2.3 .2-.4 .2-.2 .1,.2 .4,1.4 .3,4.6 .2,10.3 .1-8.9 .2-3.8 .3-3.1 .2-.7 .2-.3 .2,.1 .3,1.2 .3,4 .2,6.8 .5-10.1 .3-1.9 .2-.3 .2,0 .3,1.6 .4,6.1 .1,12 .2-14 .2-3.6 .3-2 .3-.4 .2,1.1 .2,.2 .2,2.9 .3,18.9 .2-15.5 .1-4.9 .4-2.9 .1-.1 .2,.3 .3,1.6 .4,4.1 .2,6.9 .1-7.2 .4-5.5 .1-.4 .2,.1 .2-.2 .3,3.6 .2-.3 .1,8.3 .4-3.4 .3-8.3 .2,.2 .2,1.7 .1,.4 .2-1 .2,7.6 .3-8.3 .2,4 .1-2.8 .2,.4 .2-2.5 .1,0 .2,.5 .4,15 .1-2.8 .2-11.9 .2-1 .5,2.5 .3-2.5 .2,.1 .1,4.5 .2-1.8 .2,1.1 .2,13.2 .1-14.8 .2-2.1 .2,2 .1-2.5 .2,.2 .2,8.1 .1-7.4 .2,8 .2-.6 .1-8.3 .2,.4 .2-.5 .2,6.3 .1-5.3 .2-1 .2,1.3 .1,5.5 .2-7 .2,.2 .1,4.9 .2-4.6 .2,8.1 .1-5 .2,4.3 .2-6.7 .2,.3 .1,5.9 .2-7.5 .2,.8 .1,2.1 .2-2.7 .2-.5 .3,3.1 .2,.7 .1-2.1 .2,8.2 .2-8.6 .2,1.8 .1-2.3 .2,.2 .5,2 .2-3.1 .3,5.2 .2-5.2 .1-.3 .4,7.8 .2-7.9 .1,0 .2-.1 .2,2.6 .1-2.1 .2,.2 .5,6.9 .2-5.7 .1-2 .2,4.2 .2-4.4 .2,1 .1-.9 .2,.6 .2,2.7 .1-3.1 .2,8.7 .3-8.1 .2,.2 .2-1.3 .1,7.4 .4-7.2 .2,.2 .1,3.5 .2-.2 .2,12.9 .1-16.8 .2,1 .2,7 .1-7.9 .2,.4 .2-.7 .1,0 .2,9.7 .2-1.7 .2-7.1 .1,2 .2-2.9 .2,2.8 .1-2.6 .2-.2 .2,.3 .1,8.8 .2-5 .3-4.4 .4,7.5 .2-7.5 .1,11.3 .2-10.5 .2,2.6 .1,16.9 .2-11.9 .2-.5 .1-8.1 .2,.2 .3,9.6 .2-8.2 .2,1.4 .2,14.5 .1-17.6 .2,.2 .2,15.4 .1-15 .2,7.1 .3-8 .2,0 .3,3.2 .2-1.2 .2,4.4 .2-5.8 .1,2.1 .2-1.9 .2,9.5 .1-10 .2,3.4 .2-1.4 .1-.3 .2,2.3 .2-4.5 .1,7.1 .2-7.5 .2,9.7 .3-7.8 .2,.9 .2,15.2 .1-17.6 .2,11.7 .2-9.1 .1,6.3 .2-9.3 .2,5.9 .1-6.2 .4,32.6 .2-32.1 .1,.9 .2-1.6 .2,5.5 .1-5.3 .2,4.3 .2-.3 .1,5.2 .2-7.6 .2,3.1 .1,10.5 .4-15.7 .2,2.4 .1,.5 .2,3 .2-6 .3,2.2 .2-2.3 .1,1.2 .2-1.3 .3,1.1 .2,2.9 .2-3.7 .2,.5 .1-.2 .4,4.9 .1-2.1 .2,12.6 .2-16.4 .1,4 .4-4.1 .1,1.6 .4,.6 .1-2.2 .2,8.8 .4-8.8 .1-.2 .2,.4 .3-.6 .2,12 .2-1.1 .1-10.2 .2-.9 .3,1.6 .2-1.7 .2,4.6 .2,1.4 .1-4.3 .2-.6 .2,2 .1-3.3 .2,7 .2-7 .1,.8 .2,2.8 .2-3.5 .1,10.2 .2-1.2 .2-9.4 .2,8.8 .1,.8 .2-1 .2-7.3 .1,7.7 .2-7.4 .2-1.3 .1-.1 .2-.6 .2,7.7 .1-7.7 .4,1.2 .2-.9 .1-.1 .2,7.5 .3-7.3 .4,5.8 .1-.6 .2-5.8 .3-.2 .2,6 .2-6.2 .2,.9 .1-1 .2,9.1 .2-8.9 .3,5.4 .2-5 .1,2.5 .2-3.3 .2,.3 .1-.4 .2,8.2 .2-8.3 .2,.3 .1-.1 .2,6.2 .2-4.2 .1-1.5 .4-.9 .1,.1 .2,4.4 .2-4 .1,1.1 .2,4.3 .2-5.1 .2-.8 .1,4.1 .2,1.4 .2-4.7 .1,6.2 .2-1.2 .2,2.1 .3-7.8 .2-.2 .1,3.6 .2-3.9 .2,6.9 .2-4.4 .1,3.2 .4-5.7 .2,7.5 .1-5.8 .1-.1 .1,1.4 .1-3.2 .1-.3 .1,7.9 .1-7.1 .1-.6 .1,1.2 0,5.3 .2-6.7 .1,6.8 .3-6.8 0,3.1 .1-2 .1,5.4 .2-5.9 .1,3.3 0-2.2 .1,4.2 .1,1.3 .1-2.9 .1,3.3 .1-6.9 .1-.8 .2,6.9 .1,.1 .1-6.9 .1,1.3 0-.3 .1,.5 .1,5.9 .2-7.7 .1,2.6 .1-.9 .1,4.8 .1-6.2 .1,1 .1-.7 .2,3.8 .1-4.5 .1,3.1 .1-3 .1,5.9 .1-2.4 0,3.7 .1-6.2 .1,2.2 .1,.3 .1-.3 .1,3.1 .1-6.6 .2,7.3 .2-6.8 .1,5.3 0-5.8 .2,.9 .2,3.1 .1-2.4 0,1.4 .2-3 .1,2.4 .1-2.4 .1-.2 .1,1.7 0-1.7 .1,5.4 .1-4.8 .1,5.4 .2-5.4 .2,1.8 .1-1 .1,5 .2-6.3 .2,5.5 .1-5.3 .2,2.7 .1-3 .2,.3 .1,1.4 .1-.4 .1,1.4 .1-2.7 .1,2.6 .1-.3 .1,1.5 .1-3.8 .1,5.5 .1-5.4 .1,6.8 .1-6.3 .1-.8 .1,6.1 0-6.2 .2,5.6 .1-5 .2,3 0-3.5 .1,3.2 .2-2.7 .1,5.6 .1-5.4 .1,.9 0-1.8 .1,5.7 .1-5.7 .2-.1 .1,6.9 0-6.9 .1,4.5 .1-4 .1,1.6 .1-2 .1,1.4 .1-1.1 .1,6.4 .1-6.8 .3,6.9 0-5 .1,4.3 .1-5.4 .2,3.2 .1-2 .1,3.7 0-1.9 .1,2.6 .1-.1 .2-6.5 .1,4.3 0-3.2 .1,.9 .1,4.8 .1-4.5 .2,2.8 .1-5.1 .1,6.7 .1-6 .1-.2 .1,1.6 .1-2.3 0,1.2 .1-1.2 .1,0 .1,1.5 .1-1.2 .1,.4 .1,2.3 0-2.6 .1,.9 .1-.8 .1,6.2 .2-6.8 .2,6.4 .2-6.1 .2,1.7 0,3.9 .2-5.2 .1-.1 .1,4.3 .1,0 0-4.1 .1-.8 .1,.1 .1-.3 .1,6.6 .2-6.6 .1,6.1 .1-6.1 .3,6 .1-5.8 .3,3.4 .2-3.7 0,6.5 .2-6.3 .1,6 .1-2.3 .1,2.7 .3-6.2 .1,5.6 .1-6.1 .2,1.2 .1-.8 .1,.2 .1,5.5 .1-3.8 0,4.2 .1-5.9 .2,5.7 .1-6.4 .1,2.6 .1-2.4 .1,2.9 .1-2.4 .2,3 .1-3.8 0,.5 .1,6.1 .1-4.4 .1,3.8 .2-6 0,6.5 .1-4.8 .4-1.6 .1,2.2 0-2.2 .1,3.4 .2-3.5 .1,3.7 .1-3.8 0,5.8 .1-5.8 .2,6 .1-5.3 .1,3.6 .1-2.8 .1,4.5 .1,0 .3-6.1 .1,1.8 .1-1.3 .1,.5 .1,1.9 .2-2.9 0,5.3 .1-3.9 .2-1.5 .1,6.4 .1-3.9 0,2.9 .1-4.7 .2,1.5 .3-2.1 0,.3 .1,0 .1,2.5 .1-2.5 .1,.5 .1-.1 .1,5.2 .1-5.8 .1,.3 .2,5.5 .1-6.1 .1,1.2 .1-.6 .1,.8 .1,4.7 .1-5 0,4.6 .1-5.1 .1,4.5 .1-5.2 .2,2.8 .1,.1 0,3.1 .2-6 .2,2.1 .1,4.1 0-6.2 .1,5.6 .1-4.2 .2,2.5 .1-3.4 .1,5.6 .1-6.2 .1,0 .1,2.1 .2-2.1 0,.9 .2-.9 .1,6.1 .1-4.5 .1,3.5 .1-.5 0-4.5 .2,2.3 .2-2.1 .1,.2 0-.1 .1,3.1 .2-3.6 .1,1.8 .1-1.8 .1,6 .1-5.3 .2,1.1 .1,3.3 .1-5.1 0,4.1 .1-3.7 .1-.5 .1,.2 .1,4.8 .1-3.4 .1-1.6 .1,6.1 .1-6.2 .1,4 .1-3.5 .1,4.5 .2-5 .2,4.5 .1-4.5 .1,6.1 .1-6 .1,1.7 .1-1.8 .2,4.6 0-3.4 .1,3.5 .1-.4 .1-4.2 .2,5.4 .1-2.4 0,2.5 .2-4.9 .1,1 .1-1.2 .1,1.9 .1-2.3 .1-.2 .1,0 .1,5.5 .1-5.3 .1,4.8 0-5 .1,2.9 .1-2.7 .1,3.9 .2-3.9 0,3.1 .2-2.3 .1,.3 .1-.3 .1,4.2 .1-4.3 0,.6 .2-1.4 .2,1.7 .1-1.9 0,.1 .1,5.8 .2-5.9 .1,1.3 .1-1.2 .1-.2 .1,.4 .1,0 .2,5.6 .1-5.8 .1,1.5 .2-.5 .1,.9 .1,3.7 .1-5.5 0,.6 .1-.6 .1,5.4 .3-5.4 0,.1 .2,3.8 .1-3.9 .1,1.8 .1-1.4 .1,1.1 .1-.8 .1,.9 .1-1.9 .1,2.4 .1-.1 0,1.2 .2-3 .2,4.7 .1-2.7 .1,2.7 .1-4.1 .1,.9 .1-1.8 .2,5.6 0-5 .1,.9 .1-1.6 .1,1 .2,.5 .1,3.7 .1-5.2 .1,4.9 .1-2.6 .1,2 .1-4.1 0,1.6 .1-1.7 .1,4.5 .3-4.7 .2,1.3 .1,3.7 .2-4.4 .1,4.9 .1-5 .1-.4 .1,2.4 .2-2.1 .1,2.1 .1-2.4 .1,5.7 .1-.5 .1,.6 .1-4.9 0-.1 .1,3.2 .1-4.2 .2,6 .1-5.9 .1,4.6 .1-4.3 .2-.4 .1,4.6 .1-4.6 .3,4.2 .1-3 .1,4.5 .1-5.5 0-.2 .2,5.6 .2-5.6 .1,.5 0-.5 .1,.1 .1,2.5 .1-2 .2-.6 .1,3 .1-3 .2,5.9 .1-5.4 .1,1.9 0-1.4 .2-.3 .1,3.7 .2-3.4 .1,4 .1-4.7 .1,1.7 .1-1.9 .1,1 .1-1 0,5.9 .2-5.6 .1,5.4 .3-5.3 0,4.6 .3-4.5 .1,5.2 .1-4.7 .1,4.2 .1-2.4 .1,1.6 .1,.1 .1-.4 .1,1.5 .1-4.9 .2,1.4 .1-2.1 .1,.1 0-.1 .1,1.6 .1-1.5 .1,.2 .1,1.5 .1-1.2 .1-.4 .1,.1 .1-.1 .3,2.8 .1-2.3 .1-.6 .2,0 .2,4 0-3.1 .2,5.1 .1-5.7 .1,2.1 .1-2.4 .1,3.3 .2-3.3 .1,0 .1,1.8 .1-1.8 .2,1 .1-.8 .1,2.4 .1-2.6 0,5.4 .1-4.7 .1,1.2 .1-1.4 .1,1 .1,3.3 .1-4.7 .1,5 .1-4.9 .2,5.8 .1-5.7 .2,5 .1-4.1 .1,1.5 .1-2.5 .1,3.7 .1-2.1 .1,.8 .1-.2 .1,1.3 .1-3.5 0,.4 .1-.4 .1,0 .1,5.7 .2-5.7 .3,1.7 .1-1.6 .2,5.1 0-1.7 .2,1.1 .1-4.5 .2,5.9 .2-5.5 .1-.2 .1,.9 .1-.9 .1,.7 0-.7 .1,2.2 .1-2.1 .2,1.9 .1-2.2 .1,2 .2-1.5 .1,.2 .1,4.1 .1-4.4 0,.6 .1-.3 .1,.4 .1-.8 .1,1.4 .1-1.1 0,1 .1,4.6 .1-5.8 .1,2.3 .1-2.4 .1,2.1 .1-2 0,3.6 .2-3.8 .2,0 .1,.1 0,2 .1-2 .1,5 .4-5 0,5.2 .2-5 .1,5.6 .2-5.6 .1,1.6 .1-1.4 .2,.4 .1,3.6 .1-2.8 .1-1.1 .1,5.2 .1-5.6 .1,5.8 .1-5.7 0,3.9 .1-2.5 .1,3.9 .2-3.1 .1-.4 .1,1.3 0-3 .1-.1 .2,6 .2-5.8 0,2.5 .1-2.4 .2,.9 .1,4.8 .1-5.3 .1,3.3 .1-2.4 .1,4.5 .1-4.5 .1-.2 .1,2.6 .1-1 .1-2.8 .1,4.9 .2-4.9 .1,1.1 .2,4.7 .3-5.6 .1,5.6 .1-4.5 .1,.1 .1-1 .1,1.8 .1-2.1 .1,4.7 .1,.7 .2-5 .2,5.7 .2-5.5 .1,3.9 .1-1.9 .1,1.7 .1-3 .1,2 .2-2.9 .1-.2 .1,3.1 .1-2.8 .1,4.2 .2-4.3 .1,5.7 .1-4.6 .2,4.6 .2-5.8 .1,1 .2-.9 .1,5.8 .1-5.7 .1-.1 .1,.1 .1-.1 .1,2.4 .1-1.8 .1,4.3 0-4.3 .1,.2 .1,4.7 .1-3.7 .2-.5 .1-1.2 0,1.3 .1-1.2 .1,5.9 .1-5.1 .1-.7 .1,.3 0,4.5 .2-4.9 .1,6 .1-6 .1,2.8 .1-1.5 0,4.1 .2-4 .1-.1 .1,.3 .1,3.2 0-4.3 .2,1.5 .1-1.8 .1,3.3 .2-.2 0-.5 .1-2.6 .1,.6 .1-.1 .1,3.8 .1-3.9 .1,0 .1,4.1 .1-4 .1-.1 .4,5.8 .2-6 .1,5.4 0-5 .1,5.4 .2-5 .2,5 .1-5.1 .1,4.6 .2-5.2 .2,.4 .2,4.9 .1-4.4 .2-.8 .1,4.2 0-3.2 .1,.7 .1,4.3 .2-5.9 .3,5.3 .1-4.1 .1,.3 .2,4.5 .1-5.6 .1,.6 .1-.6 .1,4.7 .1-.1 0,1.1 .1-3.2 .1,1.9 .1-1.8 .1,2.5 .2-4.4 0,.1 .2,5.1 .1-5.3 .1,1.4 .1-2.1 0,1.4 .1-1.3 .1,.3 .1,4.6 .1-.3 .1,.6 .1-5 0,5.4 .1-.1 .1-5.4 .1,5.5 .1,.3 .1-5.1 0,.2 .1-.1 .1,5.3 .1-3.9 .1,1.3 .1-3.3 .1,3.3 .1-1.4 .1,0 .1,2.6 .1,.8 .1-1.2 0,2.1 .2-3.6 .1,1 .1-3 .1-.1 .1,.4 0-.6 .1,0 .2,1 .1-.3 .1,5.3 .2-5 .2-.7 .1,6 .1-5.9 .2,5.4 .2-5.3 .1,.4 0-.3 .1,.4 .1-.1 .1,1.2 .1-.8 .1,.1 .1-.4 0,3.8 .2-3.7 .1,5.6 .2-5.7 0,5.9 .1,0 .1-5.9 .1,4.1 .1-3.9 .2,5.6 0-5.5 .2,4.1 .1-3.9 .1,1.2 .1-1.3 .2,.7 .1,3.2 .2-3.4 .1,5.6 0-4.8 .2,3.3 .1-3.8 .1,3.6 .1-4 .1,1.1 .1-.4 .1,5.2 .1-4.3 .1,3.3 .1-2.9 0,2.8 .1-3.7 .1,2.3 .1-2.8 .2,.6 0-.5 .1,3.3 .1-2.9 .2,1.7 .1-2.2 .1,5.3 0-5.2 .1,0 .1,5.2 .1-4.8 .1,5.1 .1-4.4 0-.4 .2,3.4 .3-3.7 .1,3.9 .2-3.6 .1,5.5 .1-4.5 .1,4.9 0-5.9 .2,.4 .1,5.6 .2-4.1 .1,1.3 .2-2.8 .1,5 .1-5 .1,0 .1,1.7 .1-1.2 .2,4.1 .1-3.8 .1,4.6 .1-2.9 .1,2.5 .2-4.4 .1,1 0-.5 .1,1.4 .1-1.6 .1,5.4 .1-5.2 .1,3.7 .1-3.9 0,5.2 .1-3.3 .1,.3 .1-1.5 .2,3.1 0-1.1 .1,2.1 .1-4.2 .2,1 .1,3.2 0-3.8 .2,.2 .1,4 .2-3.9 .1,.8 .1-1 .1,.1 .1,3.7 .1-3.4 .1,5.7 0-3.7 .1,2.6 .1-3.5 .1,2.6 .2-3.3 .1,.5 0-.6 .2,5.8 .1-5.5 .1,1.2 .1-1.3 0,.4 .1,4.5 .1-4.5 .1,.4 .1-.4 .1,5 .1-4 0,2.7 .1-1.6 .1,2.6 .2,.8 .1-5.1 .1,2.6 .2-1.5 .1,4.5 .1-5.3 .2,.6 .2-.3 .1,.6 .1-.5 0,4.4 .2-4.1 .1,2 .1-2 .1,.1 .1,2.3 .1,1.1 .1-2 .2-.4 .1,4.4 0-4.8 .1,3.5 .1-3.3 .2,5.9 .2-5.8 .1,.6 .1-.1 .1,1.1 .1-1.2 .1,5.7 0-4.6 .1,2.6 .1-3.1 .1,5.4 .1-4.7 .1,.3 .1-1.3 0,2.5 .2-2.2 .1,5.9 .1-5.9 .1,5.9 .1-4.8 .1,2.5 .1-3.2 .1,6 .1-4.6 .3,4.5 .1-5.5 .2,.7 .1,5.1 .1-5.4 .3,3.3 .1-3.1 .1,4.6 .2-4.4 .1,5.9 .1-5.7 0,3.9 .1-3.8 .1,.1 .1,4.7 .1-4.1 .1,.4 .1-.1 .1,4.1 .2-4.6 .2,3.4 .1-.1 .1,.2 .1-3 .2,1.7 .1-1.3 .1,5.4 .1-5.3 .1,5.7 .1-3.6 .1,4 .1-5.4 .1,3.3 .2-3.3 .1,.6 .1-.5 .1,5.7 .2-5 .1,4.3 .1-4 0,3.6 .2,1.1 .1-3 .1,2.5 .1-.4 .1-4.1 .2,2.6 .2-2 .1,.2 .1-.3 .1,3.4 .1,.5 .1-2.1 .2,1 0,3.5 .1-3.3 .1,3.2 .1-2.5 .1,1.7 .1-4.6 .1,4.1 .2-3.6 .2,4.6 .1-4 .2,5.6 .1-4.6 .2-.8 .1,5.8 .1-5.7 .1,5.5 .1-4.4 .1,2.1 .2-2.4 .1,4.5 .1-2.5 .1,2.4 .1-3.1 .1,4.4 .2-5.6 .2,1.7 .1,3.6 0-4.7 .2,4.5 .2-4.5 .1,4.5 0-3.7 .2,5.1 .1-3.5 .2-1.3 .1,.4 0-.1 .1,3.2 .1-3.7 .1,5.4 .1-5 .1,4.2 0-4 .4,4.6 .2-4.3 .1,2.5 .1-1.1 .2,4.9 .1,.1 0-4.2 .1,3.2 .1-4.2 .1,5.3 .2-3.7 .1,3.8 .1-5.4 .1,1.4 .1-1.3 .1,4.9 .1,0 .3-4.2 .2,6 .2-5.7 .1,3.9 .1-2.6 .1,4.9 .1-4 .2,1.2 .1,3.2 .1-5.8 .2,1.5 0,3.2 .3-4.1 .1,2.7 .1-2 .1-.4 .3,1.6 .2-1 .1,1.5 .1-1 .2,4.1 .1-1.2 0,.9 .2-3.6 .2,5 .2-3.9 0,2.4 .1-.9 .1,4 .2-5.7 .1,.1 0,5.2 .1-5 .1,1.1 .1-.8 .1,.1 .1,1.7 .1-1.3 0,1.5 .1-.1 .1,3.8 .1,0 .1-4.6 .1,.1 0,2.9 .1-2.9 .1,5.9 .1-4.9 .2,2.1 .1-1.9 0,3 .3-3 .1,5.5 .1-4.6 0,3.1 .1-3.7 .2,4 .1-.3 .1,1.1 .1-4.7 .2,5.1 .1-4.3 .1-.2 .1,.3 .1,.8 .1,3.9 .1-4.3 .1-.1 .1,6.1 .1-4.4 .2,2.4 .1-2.5 .1,5.2 .1-5.6 0,2.8 .1-2.5 .1,1.5 .2-1.4 .2,5.2 0-4.9 .1,2.3 .1-2.1 .2,.2 .1,4.5 .1-4.1 .1,5.5 .1-1.7 .1,2 .1-2.2 .1,1.9 0-4.8 .1,.2 .2,5.9 .1-5.5 .1,2.8 .1,.9 .1,.1 .1-3.2 .1,4.5 .1-.3 .1,.5 0-2.8 .1,3.2 .1-4.2 .1,4.6 .2-3.8 0,2.4 .1-2.1 .2,.5 .2-.5 .1,6 .1-1.4 .1,.2 .1-4.1 .2,4.5 .1-2.5 .1,3.2 .1-1.4 .2,1.4 .1-4.1 .1,6.1 .1-5.5 .2,.8 .1-.7 0,6 .2-5.6 .1,5.3 .1-4.6 .1-.1 0,1.7 .1-.8 .1,4 .1-4.5 .1,6.1 .1-5.8 .1,6 .1-4.5 .2-.7 .1,4.1 .1-1.9 .1,.4 .1,3.7 .1-5.3 .3,1.1 .1-.5 .1,4.7 .2,1.4 .1-4.9 .1,3.4 .1-3.2 .2,5.9 .1,.1 .1-5.6 0,1.2 .1-.9 .2,6.1 .1-3.3 .2,2.2 .1-1.4 .1,0 .1,2.5 .1-4.4 .1,2.3 .1-1.7 .2,4.6 .3-3.3 .2,2.6 .1-2.2 .2,6.3 0-5 .1,2.6 .1-1.7 .1,1.3 .2-1.8 0,.8 .1-.5 .3,1 .1,2.8 .1-2.7 0,.3 .1,3.9 .1-3.9 .3,1.5 .1,4.2 .1-4.4 .2,1.3 .1-.7 .1,3.7 .2-2.9 .2,6.4 .1-.3 0,.3 .1-5.3 .2,6 .1-5.1 .1,4.1 .1-3.8 0,.1 .1,3.8 .1-3.4 .1,.7 .1-.1 .2,6.2 .1-4.3 .1-.3 .1,4.4 .2-4.2 .1,4.1 .1-3.6 .1,.7 .2,5.4 0-3.4 .1-1.5 .1,.2 .1,5 .1-.9 .1,2.6 .1-5.5 0,1 .1-.8 .2,6.5 .1-3.2 .1,3.9 .1-5 .4,5.9 .1-4.2 .2,1.5 .1-1 .1,.3 .1,4.3 .1-4 .1,3.8 .1-1.3 .2,3.9 .1-4.6 .2,5.3 .1-3.4 .2,5.2 .1-4.7 .1,4.5 .1-3.8 .2,6.5 .1-3.6 .1,5.3 .1-5 .2,4.9 .1-2.3 .1,2.6 .1-2.6 .2,3.4 .1-1.7 .1,4 0-1.2 .1,.5 .1,4.2 .1-4.7 .2,7.7 .1-5.2 .1,1.5 .1-.5 .1,1 .2,5.8 0-4.6 .1,1.5 .2,.5 .1,1 .1,0 .1,5.9 .1-5.3 .2,3.1 .1-1.2 .1,1.6 0-.7 .2,5 .2-2.9 .1,3.4 0-5.4 .3,.3 .3,0 .1,23.4 .1-23.4 113.2,8" stroke="#000000" stroke-dasharray="2.083 3.438" stroke-width="2.083" fill="none"/><path d="M470.4,217l.8-.2 .9-.2 .8-.2 .8-.2 .9-.2 .8-.2 .9-.2 .8-.2 .9-.1 .8-.2 .9-.2 .8-.2 .9-.2 .8-.2 .9-.1 .8-.2 .8-.2 .9-.1 .8-.2 .9-.1 .8-.2 .9-.1 .8-.1 .9-.1 .8-.1 .9-.1 .8-.1 .9-.1 .8-.1 .8-.1 .9-.1 .8-.1 .9-.1 .8-.1 .9-.1 .8-.1 .9-.1 .8-.1 .9-.1 .8-.1 .9-.1 .8-.1 .8-.1 .9,0 .8-.1 .9-.1 .8-.1 .9-.1 .8,0 .9-.1 .8-.1 .9-.1 .8,0 .8-.1 .9-.1 .8,0 .9-.1 .8-.1 .9,0 .8-.1 .9,0 .8-.1 .9,0 .8-.1 .9,0 .8,0 .8-.1 .9,0 .8,0 .9,0 .8-.1 .9,0 .8,0 .9,0 .8,0 .9,0 .8,0 .9,0 .8,0 .8,0 .9,.1 .8,0 .9,0 .8,.1 .9,0 .8,0 .9,.1 .8,0 .9,.1 .8,0 .8,.1 .9,0 .8,.1 .9,.1 .8,0 .9,.1 .8,.1 .9,.1 .8,0 .9,.1 .8,.1 .9,.1 .8,.1 .8,.1 .9,.1 .8,.1 .9,.1 .8,.1 .9,.1 .8,.1 .9,.1 .8,.1 .9,.1 .8,.1 .9,.2 .8,.1 .8,.1 .9,.2 .8,.2 .9,.2 .8,.3 .9,.3 .8,.3 .9,.3 .8,.3 .9,.3 .8,.4 .9,.3 .8,.4 .8,.3 .9,.4 .8,.5 .9,.4 .8,.5 .9,.5 .8,.5 .9,.6 .8,.5 .9,.6 .8,.6 .8,.6 .9,.6 .8,.6 .9,.7 .8,.6 .9,.6 .8,.7 .9,.6 .8,.7 .9,.7 .8,.7 .9,.7 .8,.8 .8,.7 .9,.8 .8,.8 .9,.8 .8,.8 .9,.8 .8,.9 .9,.8 .8,.9 .9,.9 .8,.9 .9,1 .8,1 .8,1 .9,1 .8,1 .9,1.1 .8,1.2 .9,1.1 .8,1.2 .9,1.2 .8,1.3 .9,1.3 .8,1.3 .8,1.4 .9,1.5 .8,1.5 .9,1.6 .8,1.7 .9,1.8 .8,1.9 .9,1.9 .8,2 .9,2.1 .8,2.2 .9,2.2 .8,2.3 .8,2.4 .9,2.7 .8,2.9 .9,3.5 .8,4.9 .9,5.6 .8,5.4 .9,4.2 .6,2 0,1-.6,10.2-.9-3.6-.8-4.1-.9-3.7-.8-5.6-.9-6.5-.8-2.5-.9-3.6-.8-2.6-.8-2.9-.9-4.1-.8,.2-.9-4.4-.8-2.4-.9-2.4-.8-.5-.9-1.2-.8-1.3-.9-2.7-.8-3-.9-1.4-.8,.2-.8-2.3-.9-.9-.8-.8-.9-3.1-.8-1.2-.9-1.1-.8-1.4-.9-.6-.8-.2-.9-1.1-.8-3.2-.8-1.1-.9,1.6-.8-.9-.9-1.4-.8-.6-.9-1.5-.8-.7-.9-2.2-.8-.4-.9-1.2-.8-.7-.9-1.4-.8,1.3-.8-3-.9,1.5-.8-2-.9-1.6-.8,1.7-.9-.8-.8-2.5-.9-.5-.8,0-.9-.6-.8-.8-.9,.1-.8-.4-.8-.8-.9-.8-.8,.1-.9-3-.8,.1-.9,.4-.8-1-.9-1.4-.8-.3-.9,1.5-.8-.7-.8-1.2-.9-.1-.8,.2-.9-.8-.8,.2-.9-2-.8-.8-.9,.3-.8,1.4-.9-.8-.8-.5-.9-1.7-.8,.9-.8,0-.9-.9-.8,1.6-.9-.8-.8-1.2-.9-.1-.8,.5-.9,.3-.8-.5-.9,.4-.8,.4-.9-2-.8,.4-.8,.1-.9-.2-.8,1-.9,0-.8-1.2-.9,.5-.8-.8-.9,.4-.8-.4-.9,.2-.8-.1-.9,.5-.8-.1-.8-.1-.9-.7-.8,1-.9,.2-.8-1.5-.9-.7-.8,0-.9,1.9-.8-1.6-.9-.4-.8,1.8-.8-1.3-.9-.4-.8,1.9-.9-1.2-.8,1.1-.9-.7-.8-.3-.9-.6-.8,.6-.9-.3-.8,.1-.9-.6-.8,1.9-.8-1.1-.9,.3-.8-.8-.9,.7-.8-.4-.9,1.1-.8-1.4-.9,0-.8,0-.9,.6-.8,.4-.9-.5-.8-.9-.8,1.8-.9-1.8-.8,.1-.9,.1-.8,.8-.9-.5-.8,.8-.9-.2-.8,.2-.9,.1-.8-.6-.8,.9-.9-.9-.8,.5-.9-.7-.8,0-.9,1.1-.8-.8-.9-.3-.8-.1-.9,1-.8,.1-.9-1-.8,.5-.8-.2-.9-.4-.8,.8-.9-.1-.8,.3-.9-.7-.8-.1-.9,.8-.8-.4-.9-.1-.8,.1-.9,.1-.8,.3-.8,.1-.9-.1-.8-.2-.9,.4-.8,.1-.9-.2-.8,0-.9,.3-.8,.1-.9-.1-.8,.3-.9-.1-.8,.1-.8,0-.9,.1-.8,0z" fill="#000000"/><path d="M629.9,295.1h2.1v2.1h-2.1zm.2-2h2.1v2.1h-2.1zm.3-.3h2.1v2.1h-2.1zm.6,3.4h2.1v2.1h-2.1zm.1-2.4h2.1v2.1h-2.1zm0-.3h2.1v2.1h-2.1zm.8,9.2h2.1v2.1h-2.1zm0-7.8h2.1v2.1h-2.1zm.2,1.1h2.1v2.1h-2.1zm.4-1.1h2.1v2.1h-2.1zm.3,2h2.1v2.1h-2.1zm0-.4h2.1v2.1h-2.1zm.3,11.5h2.1v2.1h-2.1zm0-13.4h2.1v2.1h-2.1zm0,6.2h2.1v2.1h-2.1zm.2-2.1h2.1v2.1h-2.1zm.1-.2h2.1v2.1h-2.1zm.1,.6h2.1v2.1h-2.1zm.1,6.3h2.1v2.1h-2.1zm0-2.2h2.1v2.1h-2.1zm.1,8.4h2.1v2.1h-2.1zm.2-10.5h2.1v2.1h-2.1zm.1-1.1h2.1v2.1h-2.1zm.2,3.6h2.1v2.1h-2.1zm0-8.6h2.1v2.1h-2.1zm.1,10.6h2.1v2.1h-2.1zm0-3.5h2.1v2.1h-2.1zm0,8h2.1v2.1h-2.1zm.1-8.8h2.1v2.1h-2.1zm.5,8.5h2.1v2.1h-2.1zm.2-14.6h2.1v2.1h-2.1zm.4,8.6h2.1v2.1h-2.1zm0-9.1h2.1v2.1h-2.1zm.1,15.3h2.1v2.1h-2.1zm.1,7.2h2.1v2.1h-2.1zm.1-1.4h2.1v2.1h-2.1zm.1-13h2.1v2.1h-2.1zm.1,12.9h2.1v2.1h-2.1zm0-1.4h2.1v2.1h-2.1zm.1-9.4h2.1v2.1h-2.1zm.1,10.8h2.1v2.1h-2.1zm.2-12h2.1v2.1h-2.1zm.1-5.2h2.1v2.1h-2.1zm.2,15.3h2.1v2.1h-2.1zm0-6.4h2.1v2.1h-2.1zm.3-8.9h2.1v2.1h-2.1zm.8,17.2h2.1v2.1h-2.1zm.2-13.1h2.1v2.1h-2.1zm.1,4h2.1v2.1h-2.1zm.1,9.9h2.1v2.1h-2.1zm0-6.9h2.1v2.1h-2.1zm.1-8.2h2.1v2.1h-2.1zm.2,9.7h2.1v2.1h-2.1zm.2-9.2h2.1v2.1h-2.1zm.1,15.9h2.1v2.1h-2.1zm.2-13.1h2.1v2.1h-2.1zm0,12.5h2.1v2.1h-2.1zm.2,.6h2.1v2.1h-2.1zm0,.1h2.1v2.1h-2.1zm.4-9.9h2.1v2.1h-2.1zm1.1,.2h2.1v2.1h-2.1zm.1,.4h2.1v2.1h-2.1z" fill="#000000"/></g></g><g id="patch_8"><path d="M 54.576 249.1056  L 54.576 127.8864  " style="fill: none; stroke: #000000; stroke-width: 0.8; stroke-linejoin: miter; stroke-linecap: square"/></g><g id="patch_9"><path d="M 541.8 249.1056  L 541.8 127.8864  " style="fill: none; stroke: #000000; stroke-width: 0.8; stroke-linejoin: miter; stroke-linecap: square"/></g><g id="patch_10"><path d="M 54.576 249.1056  L 541.8 249.1056  " style="fill: none; stroke: #000000; stroke-width: 0.8; stroke-linejoin: miter; stroke-linecap: square"/></g><g id="patch_11"><path d="M 54.576 127.8864  L 541.8 127.8864  " style="fill: none; stroke: #000000; stroke-width: 0.8; stroke-linejoin: miter; stroke-linecap: square"/></g><g id="text_14"><!-- $z = 3.0\times10^{5}$ --><g transform="translate(69.1927 243.0446)"><text><tspan x="0.0000" y="-0.0641" style="font-style: oblique; font-size: 10px; font-family: 'DejaVu Sans'">z</tspan><tspan x="7.1973" y="-0.0641" style="font-size: 10px; font-family: 'DejaVu Sans'">=</tspan><tspan x="16.8044" y="-0.0641" style="font-size: 10px; font-family: 'DejaVu Sans'">3</tspan><tspan x="23.0371" y="-0.0641" style="font-size: 10px; font-family: 'DejaVu Sans'">.</tspan><tspan x="26.2158" y="-0.0641" style="font-size: 10px; font-family: 'DejaVu Sans'">0</tspan><tspan x="34.3680" y="-0.0641" style="font-size: 10px; font-family: 'DejaVu Sans'">×</tspan><tspan x="44.3351" y="-0.0641" style="font-size: 10px; font-family: 'DejaVu Sans'">1</tspan><tspan x="50.6254" y="-0.0641" style="font-size: 10px; font-family: 'DejaVu Sans'">0</tspan><tspan x="57.1554" y="-3.4602" style="font-size: 7px; font-family: 'DejaVu Sans'">5</tspan></text></g></g></g><g id="axes_3"><g id="patch_12"><path d="M 54.576 370.1232  L 541.8 370.1232  L 541.8 249.1056  L 54.576 249.1056  z " style="fill: #ffffff"/></g><g id="matplotlib.axis_5"><g id="xtick_89"><g id="line2d_99"><g><use xlink:href="#m1504cfccaf" x="95.837366" y="370.1232" style="stroke: #000000; stroke-width: 0.8"/></g></g></g><g id="xtick_90"><g id="line2d_100"><g><use xlink:href="#m1504cfccaf" x="199.52477" y="370.1232" style="stroke: #000000; stroke-width: 0.8"/></g></g></g><g id="xtick_91"><g id="line2d_101"><g><use xlink:href="#m1504cfccaf" x="303.212174" y="370.1232" style="stroke: #000000; stroke-width: 0.8"/></g></g></g><g id="xtick_92"><g id="line2d_102"><g><use xlink:href="#m1504cfccaf" x="406.899578" y="370.1232" style="stroke: #000000; stroke-width: 0.8"/></g></g></g><g id="xtick_93"><g id="line2d_103"><g><use xlink:href="#m1504cfccaf" x="510.586981" y="370.1232" style="stroke: #000000; stroke-width: 0.8"/></g></g></g><g id="xtick_94"><g id="line2d_104"><g><use xlink:href="#m05db3bdf9b" x="54.576" y="370.1232" style="stroke: #000000; stroke-width: 0.6"/></g></g></g><g id="xtick_95"><g id="line2d_105"><g><use xlink:href="#m05db3bdf9b" x="64.624348" y="370.1232" style="stroke: #000000; stroke-width: 0.6"/></g></g></g><g id="xtick_96"><g id="line2d_106"><g><use xlink:href="#m05db3bdf9b" x="72.834445" y="370.1232" style="stroke: #000000; stroke-width: 0.6"/></g></g></g><g id="xtick_97"><g id="line2d_107"><g><use xlink:href="#m05db3bdf9b" x="79.775984" y="370.1232" style="stroke: #000000; stroke-width: 0.6"/></g></g></g><g id="xtick_98"><g id="line2d_108"><g><use xlink:href="#m05db3bdf9b" x="85.789019" y="370.1232" style="stroke: #000000; stroke-width: 0.6"/></g></g></g><g id="xtick_99"><g id="line2d_109"><g><use xlink:href="#m05db3bdf9b" x="91.092891" y="370.1232" style="stroke: #000000; stroke-width: 0.6"/></g></g></g><g id="xtick_100"><g id="line2d_110"><g><use xlink:href="#m05db3bdf9b" x="127.050385" y="370.1232" style="stroke: #000000; stroke-width: 0.6"/></g></g></g><g id="xtick_101"><g id="line2d_111"><g><use xlink:href="#m05db3bdf9b" x="145.308831" y="370.1232" style="stroke: #000000; stroke-width: 0.6"/></g></g></g><g id="xtick_102"><g id="line2d_112"><g><use xlink:href="#m05db3bdf9b" x="158.263404" y="370.1232" style="stroke: #000000; stroke-width: 0.6"/></g></g></g><g id="xtick_103"><g id="line2d_113"><g><use xlink:href="#m05db3bdf9b" x="168.311751" y="370.1232" style="stroke: #000000; stroke-width: 0.6"/></g></g></g><g id="xtick_104"><g id="line2d_114"><g><use xlink:href="#m05db3bdf9b" x="176.521849" y="370.1232" style="stroke: #000000; stroke-width: 0.6"/></g></g></g><g id="xtick_105"><g id="line2d_115"><g><use xlink:href="#m05db3bdf9b" x="183.463388" y="370.1232" style="stroke: #000000; stroke-width: 0.6"/></g></g></g><g id="xtick_106"><g id="line2d_116"><g><use xlink:href="#m05db3bdf9b" x="189.476422" y="370.1232" style="stroke: #000000; stroke-width: 0.6"/></g></g></g><g id="xtick_107"><g id="line2d_117"><g><use xlink:href="#m05db3bdf9b" x="194.780295" y="370.1232" style="stroke: #000000; stroke-width: 0.6"/></g></g></g><g id="xtick_108"><g id="line2d_118"><g><use xlink:href="#m05db3bdf9b" x="230.737789" y="370.1232" style="stroke: #000000; stroke-width: 0.6"/></g></g></g><g id="xtick_109"><g id="line2d_119"><g><use xlink:href="#m05db3bdf9b" x="248.996234" y="370.1232" style="stroke: #000000; stroke-width: 0.6"/></g></g></g><g id="xtick_110"><g id="line2d_120"><g><use xlink:href="#m05db3bdf9b" x="261.950807" y="370.1232" style="stroke: #000000; stroke-width: 0.6"/></g></g></g><g id="xtick_111"><g id="line2d_121"><g><use xlink:href="#m05db3bdf9b" x="271.999155" y="370.1232" style="stroke: #000000; stroke-width: 0.6"/></g></g></g><g id="xtick_112"><g id="line2d_122"><g><use xlink:href="#m05db3bdf9b" x="280.209253" y="370.1232" style="stroke: #000000; stroke-width: 0.6"/></g></g></g><g id="xtick_113"><g id="line2d_123"><g><use xlink:href="#m05db3bdf9b" x="287.150792" y="370.1232" style="stroke: #000000; stroke-width: 0.6"/></g></g></g><g id="xtick_114"><g id="line2d_124"><g><use xlink:href="#m05db3bdf9b" x="293.163826" y="370.1232" style="stroke: #000000; stroke-width: 0.6"/></g></g></g><g id="xtick_115"><g id="line2d_125"><g><use xlink:href="#m05db3bdf9b" x="298.467698" y="370.1232" style="stroke: #000000; stroke-width: 0.6"/></g></g></g><g id="xtick_116"><g id="line2d_126"><g><use xlink:href="#m05db3bdf9b" x="334.425193" y="370.1232" style="stroke: #000000; stroke-width: 0.6"/></g></g></g><g id="xtick_117"><g id="line2d_127"><g><use xlink:href="#m05db3bdf9b" x="352.683638" y="370.1232" style="stroke: #000000; stroke-width: 0.6"/></g></g></g><g id="xtick_118"><g id="line2d_128"><g><use xlink:href="#m05db3bdf9b" x="365.638211" y="370.1232" style="stroke: #000000; stroke-width: 0.6"/></g></g></g><g id="xtick_119"><g id="line2d_129"><g><use xlink:href="#m05db3bdf9b" x="375.686559" y="370.1232" style="stroke: #000000; stroke-width: 0.6"/></g></g></g><g id="xtick_120"><g id="line2d_130"><g><use xlink:href="#m05db3bdf9b" x="383.896657" y="370.1232" style="stroke: #000000; stroke-width: 0.6"/></g></g></g><g id="xtick_121"><g id="line2d_131"><g><use xlink:href="#m05db3bdf9b" x="390.838195" y="370.1232" style="stroke: #000000; stroke-width: 0.6"/></g></g></g><g id="xtick_122"><g id="line2d_132"><g><use xlink:href="#m05db3bdf9b" x="396.85123" y="370.1232" style="stroke: #000000; stroke-width: 0.6"/></g></g></g><g id="xtick_123"><g id="line2d_133"><g><use xlink:href="#m05db3bdf9b" x="402.155102" y="370.1232" style="stroke: #000000; stroke-width: 0.6"/></g></g></g><g id="xtick_124"><g id="line2d_134"><g><use xlink:href="#m05db3bdf9b" x="438.112596" y="370.1232" style="stroke: #000000; stroke-width: 0.6"/></g></g></g><g id="xtick_125"><g id="line2d_135"><g><use xlink:href="#m05db3bdf9b" x="456.371042" y="370.1232" style="stroke: #000000; stroke-width: 0.6"/></g></g></g><g id="xtick_126"><g id="line2d_136"><g><use xlink:href="#m05db3bdf9b" x="469.325615" y="370.1232" style="stroke: #000000; stroke-width: 0.6"/></g></g></g><g id="xtick_127"><g id="line2d_137"><g><use xlink:href="#m05db3bdf9b" x="479.373963" y="370.1232" style="stroke: #000000; stroke-width: 0.6"/></g></g></g><g id="xtick_128"><g id="line2d_138"><g><use xlink:href="#m05db3bdf9b" x="487.58406" y="370.1232" style="stroke: #000000; stroke-width: 0.6"/></g></g></g><g id="xtick_129"><g id="line2d_139"><g><use xlink:href="#m05db3bdf9b" x="494.525599" y="370.1232" style="stroke: #000000; stroke-width: 0.6"/></g></g></g><g id="xtick_130"><g id="line2d_140"><g><use xlink:href="#m05db3bdf9b" x="500.538634" y="370.1232" style="stroke: #000000; stroke-width: 0.6"/></g></g></g><g id="xtick_131"><g id="line2d_141"><g><use xlink:href="#m05db3bdf9b" x="505.842506" y="370.1232" style="stroke: #000000; stroke-width: 0.6"/></g></g></g><g id="xtick_132"><g id="line2d_142"><g><use xlink:href="#m05db3bdf9b" x="541.8" y="370.1232" style="stroke: #000000; stroke-width: 0.6"/></g></g></g></g><g id="matplotlib.axis_6"><g id="ytick_11"><g id="line2d_143"><g><use xlink:href="#m5d545ce8f8" x="54.576" y="350.237883" style="stroke: #000000; stroke-width: 0.8"/></g></g><g id="text_15"><!-- $\mathdefault{10^{-26}}$ --><g transform="translate(19.7840 354.7211)"><text><tspan x="0.0000" y="-0.9766" style="font-size: 10px; font-family: 'DejaVu Sans'">1</tspan><tspan x="6.3623" y="-0.9766" style="font-size: 10px; font-family: 'DejaVu Sans'">0</tspan><tspan x="12.8203" y="-4.1927" style="font-size: 7px; font-family: 'DejaVu Sans'">−</tspan><tspan x="18.6855" y="-4.1927" style="font-size: 7px; font-family: 'DejaVu Sans'">2</tspan><tspan x="23.1392" y="-4.1927" style="font-size: 7px; font-family: 'DejaVu Sans'">6</tspan></text></g></g></g><g id="ytick_12"><g id="line2d_144"><g><use xlink:href="#m5d545ce8f8" x="54.576" y="328.481519" style="stroke: #000000; stroke-width: 0.8"/></g></g><g id="text_16"><!-- $\mathdefault{10^{-21}}$ --><g transform="translate(19.7840 332.9647)"><text><tspan x="0.0000" y="-0.9766" style="font-size: 10px; font-family: 'DejaVu Sans'">1</tspan><tspan x="6.3623" y="-0.9766" style="font-size: 10px; font-family: 'DejaVu Sans'">0</tspan><tspan x="12.8203" y="-4.1927" style="font-size: 7px; font-family: 'DejaVu Sans'">−</tspan><tspan x="18.6855" y="-4.1927" style="font-size: 7px; font-family: 'DejaVu Sans'">2</tspan><tspan x="23.1392" y="-4.1927" style="font-size: 7px; font-family: 'DejaVu Sans'">1</tspan></text></g></g></g><g id="ytick_13"><g id="line2d_145"><g><use xlink:href="#m5d545ce8f8" x="54.576" y="306.725155" style="stroke: #000000; stroke-width: 0.8"/></g></g><g id="text_17"><!-- $\mathdefault{10^{-16}}$ --><g transform="translate(19.7840 311.2084)"><text><tspan x="0.0000" y="-0.9766" style="font-size: 10px; font-family: 'DejaVu Sans'">1</tspan><tspan x="6.3623" y="-0.9766" style="font-size: 10px; font-family: 'DejaVu Sans'">0</tspan><tspan x="12.8203" y="-4.1927" style="font-size: 7px; font-family: 'DejaVu Sans'">−</tspan><tspan x="18.6855" y="-4.1927" style="font-size: 7px; font-family: 'DejaVu Sans'">1</tspan><tspan x="23.1392" y="-4.1927" style="font-size: 7px; font-family: 'DejaVu Sans'">6</tspan></text></g></g></g><g id="ytick_14"><g id="line2d_146"><g><use xlink:href="#m5d545ce8f8" x="54.576" y="284.968791" style="stroke: #000000; stroke-width: 0.8"/></g></g><g id="text_18"><!-- $\mathdefault{10^{-11}}$ --><g transform="translate(19.7840 289.4520)"><text><tspan x="0.0000" y="-0.0641" style="font-size: 10px; font-family: 'DejaVu Sans'">1</tspan><tspan x="6.3623" y="-0.0641" style="font-size: 10px; font-family: 'DejaVu Sans'">0</tspan><tspan x="12.8203" y="-3.2802" style="font-size: 7px; font-family: 'DejaVu Sans'">−</tspan><tspan x="18.6855" y="-3.2802" style="font-size: 7px; font-family: 'DejaVu Sans'">1</tspan><tspan x="23.1392" y="-3.2802" style="font-size: 7px; font-family: 'DejaVu Sans'">1</tspan></text></g></g></g><g id="ytick_15"><g id="line2d_147"><g><use xlink:href="#m5d545ce8f8" x="54.576" y="263.212427" style="stroke: #000000; stroke-width: 0.8"/></g></g><g id="text_19"><!-- $\mathdefault{10^{-6}}$ --><g transform="translate(24.1840 267.6956)"><text><tspan x="0.0000" y="-0.9766" style="font-size: 10px; font-family: 'DejaVu Sans'">1</tspan><tspan x="6.3623" y="-0.9766" style="font-size: 10px; font-family: 'DejaVu Sans'">0</tspan><tspan x="12.8203" y="-4.1927" style="font-size: 7px; font-family: 'DejaVu Sans'">−</tspan><tspan x="18.6855" y="-4.1927" style="font-size: 7px; font-family: 'DejaVu Sans'">6</tspan></text></g></g></g><g id="text_20"><!-- $S_{\rm ac}(k,z)$ --><g transform="translate(15.0723 329.0144) rotate(-90)"><text><tspan x="0.0000" y="-0.4062" style="font-style: oblique; font-size: 10px; font-family: 'DejaVu Sans'">S</tspan><tspan x="18.6606" y="-0.4062" style="font-style: oblique; font-size: 10px; font-family: 'DejaVu Sans'">k</tspan><tspan x="29.5786" y="-0.4062" style="font-style: oblique; font-size: 10px; font-family: 'DejaVu Sans'">z</tspan><tspan x="6.3477" y="1.2344" style="font-size: 7px; font-family: 'DejaVu Sans'">a</tspan><tspan x="10.6372" y="1.2344" style="font-size: 7px; font-family: 'DejaVu Sans'">c</tspan><tspan x="14.7593" y="-0.4062" style="font-size: 10px; font-family: 'DejaVu Sans'">(</tspan><tspan x="24.4517" y="-0.4062" style="font-size: 10px; font-family: 'DejaVu Sans'">,</tspan><tspan x="34.8276" y="-0.4062" style="font-size: 10px; font-family: 'DejaVu Sans'">)</tspan></text></g></g></g><g transform="scale(0.72)"><clipPath id="cp2"><rect x="75.80" y="345.98" width="676.70" height="168.08"/></clipPath><g clip-path="url(#cp2)" stroke-linejoin="round"><path d="M75.8,380.4l4.2-2.5 5-2.3 5.5-2.1 5.8-1.7 5.5-1.2 5.3-.7 5.1-.3 4.5,.3 3.5,.7 2.9,1 2.4,1.4 1.8,1.8 1.3,2 1,2.5 .7,2.8 .7,4.9 .1,.4 .8-6.1 .7-3.5 1.2-3 .8-1.3 .9-1.3 1.2-1.3 1.4-1.1 1.4-.9 1.6-.9 1.7-.6 1.8-.4 1.8-.3 1.6,0 2.5,.4 2.2,1 1.8,1.4 1.4,2 1,2.4 .7,2.8 .4,3 .5,6 .5-5.7 .5-3.8 .7-3 1.1-2.7 .8-1.2 .8-1.1 1-.9 1-.8 1.1-.6 1.2-.4 1.2-.3 1.1,0 1,.1 1,.3 1.7,1 1.3,1.4 1.1,2.2 .8,2.5 .5,3 .3,3.9 .3,5.6 .3-6.3 .4-3.6 .6-3.4 .7-2.5 1.2-2.4 1.4-1.7 .9-.6 .8-.5 .9-.2 .9-.1 .9,.1 .7,.3 1.4,1 1.2,1.7 .8,2.1 .6,2.6 .4,3.4 .4,9.8 .5-10.3 .5-3.3 .6-2.6 .9-2.4 1.1-1.7 .7-.7 .6-.4 .8-.3 .8-.1 .6,.1 .6,.2 1.2,1.1 1,1.6 .7,2.2 .5,2.6 .4,3.1 .4,10.6 .3-10.1 .4-3.4 .5-2.9 .7-2.4 1-1.8 .6-.7 .5-.5 .6-.2 .7-.1 .6,.1 .5,.3 1,1.1 .9,1.8 .6,2.1 .4,2.8 .2,2.8 .4,10.8 .3-10.8 .3-3 .4-2.7 .6-2.3 .8-2 1-1.2 .6-.3 .5-.1 .6,.1 .5,.4 .8,1 .8,1.9 .5,2.2 .3,2.6 .3,3.3 .2,10.5 .4-11.4 .6-5.4 .5-2.5 .7-1.7 .9-1.1 .4-.3 .5-.1 .5,.1 .4,.3 .8,1.2 .6,1.6 .5,2.4 .5,5.3 .3,11.3 .2-10.7 .3-3.7 .3-2.7 .5-2.4 .6-1.6 .8-1.2 .4-.3 .4-.1 .4,.2 .4,.2 .6,1 .6,1.8 .5,2.2 .5,6 .2,10.8 .2-10.3 .3-5.1 .4-2.5 .4-1.9 .5-1.4 .7-1.1 .3-.2 .4-.1 .5,.2 .3,.3 .7,1.4 .5,2.1 .3,2.4 .3,3.3 .2,10.5 .3-9.5 .2-3.9 .5-3.6 .7-2.3 .4-.7 .4-.4 .4-.2 .3,.1 .5,.4 .3,.6 .6,1.9 .4,2.7 .3,3 .3,11.4 .3-10.9 .5-5.3 .5-2.3 .6-1.4 .3-.4 .3-.2 .4,.1 .3,.3 .4,.8 .4,1.1 .6,3.8 .3,6.1 .2,8.3 .1-6.7 .2-6.3 .4-3.4 .6-2.8 .6-1.4 .4-.2 .3,0 .3,.3 .4,.7 .5,1.9 .3,2.3 .3,3.3 .2,11.4 .3-10.5 .3-4.7 .4-2.2 .3-1.4 .5-1.1 .5-.4 .5,.4 .5,1 .3,1.4 .3,2.4 .4,5.7 .1,11.2 .1-8.1 .3-7 .5-4.5 .3-1.4 .4-1 .3-.3 .3-.1 .2,.1 .3,.4 .5,1.5 .3,1.9 .4,6 .2,10.4 .2-9.3 .2-5.1 .4-3.5 .4-1.5 .3-.8 .3-.3 .2-.1 .5,.4 .4,1.2 .3,1.9 .4,5.4 .3,8.5 .2-8.4 .1-3.1 .4-3.1 .4-2 .4-.9 .3-.1 .2,.1 .5,1 .5,2.2 .3,4 .2,12.3 .4-13.1 .2-3 .5-2.4 .4-1.1 .2-.3 .3,.1 .4,.8 .4,2 .5,5.3 .2,9.5 .2-9.1 .2-4.2 .5-3.4 .4-.9 .3-.3 .4,.2 .3,1 .5,3.5 .3,4.8 .1,12 .2-12.6 .3-4.5 .4-3.1 .4-1.3 .2-.2 .2,0 .4,.8 .4,1.8 .4,5.7 .2,10.1 .1-8.7 .3-5.2 .5-3.7 .3-.7 .3-.4 .3,.4 .4,1.2 .4,3.7 .2,7.2 .1,9.9 .1-10.1 .3-7.1 .4-3.8 .2-1 .4-.5 .2,0 .1,.2 .4,1.1 .4,3.5 .2,6.7 .1,9.7 .3-14.6 .3-4.3 .3-1.5 .3-.9 .2-.1 .1,0 .3,.6 .5,3.3 .3,4.9 .1,10.9 .3-13.8 .3-4 .3-1.3 .2-.7 .2-.1 .2,0 .2,.6 .3,1.3 .2,2.4 .3,6.3 .1,8.2 .3-14 .3-3.4 .5-1.5 .1-.1 .2,.1 .3,.6 .4,3.2 .2,5.7 .1,6.1 .4-10.8 .2-2.9 .4-1.8 .2-.4 .3,.1 .2,.8 .3,1.8 .2,3.8 .3,8.5 .1-8.5 .3-3.9 .3-1.8 .2-.9 .2-.1 .1,.1 .3,.7 .3,1.7 .2,3.7 .3,9.4 0-6.3 .3-5.8 .4-3.2 .3-.5 .2,.1 .4,1.5 .2,2.6 .4,12.7 0-7.4 .3-6.1 .3-2.8 .3-.8 .2,0 .5,1.9 .2,3.3 .3,16.3 .1-11.2 .1-5.4 .3-3.2 .4-1.9 .2,0 .1,.1 .2,.9 .4,3.5 .2,12 .3-11.1 .4-4.7 .2-.8 .2-.1 .1,.1 .4,2.7 .2,3 .2,10.7 .2-12.6 .5-3.9 .4,0 .3,1 .2,7.6 .2,1.9 .1,6.4 .1-10.1 .2-4 .2-2.7 .1,.6 .1-.8 .2-.2 .1,.9 .2-.7 .2,4.2 0-2.2 .2,13.5 .2-7.6 .1-1.7 0,2.1 .2-7.8 .1,.2 .1-.9 .2,.3 0-.4 .2,.5 .1,1.3 .1-.3 .1,0 0-.8 .1,6.2 .1-2.8 .2,5 .2-5.5 .1,3.5 .1-1 .1-5.5 .1,1.6 .1-1.7 0,.6 .2-1.1 .1-.2 .1,.4 .1-.4 .2,8.5 .1,8.8 .1-15.2 .1,4.5 .1-3.3 0,11.5 .1-12.3 .2-1.3 .1,9.3 .2-10.5 0,1.9 .2-1.1 .2-.2 .1,1.4 0-2.1 .1,12.1 .1-7.1 .1,4.4 .1-8.3 .1,4.1 .1-3.2 0,1.6 .1-.6 .1,6.1 .1-8.1 .1,6.4 .1-7.2 .1,2.2 .2-2.5 .1,2.3 .1-2.1 .1,.2 .1,10.5 .1-10.5 .1,3.6 .1-1.7 .1,4.3 .1-1.6 .1,.6 .1,4.4 .1-10.1 .1,10 .1-10 .1,0 .2,.7 .2-.5 .1,6.8 .1-6.9 .2,20.1 .1-18.2 .3,15.2 .2-16.1 .1-1 0-.1 .1,.7 .2,.1 .1-.9 .1,4.7 .1-4.7 .2,5.5 .1-1.3 .1,15 .1-19 .1,.6 .1-.9 .1,11.7 .1-11.7 .1,1 .1-.6 .1,1.3 .1-1.3 .2,13.3 .1-13.2 .1,4.3 .1-4.4 .1,3.3 .1-3.6 .1,4.7 .2-1.3 .1-3.3 .1,0 .1,2.5 .1-2.5 0-.3 .1,.4 .1-.3 .2,6.1 .1-5 0,20 .2-21 .2,17 .2-16.1 0,2.7 .1-3 .2,.7 .1,2 .1-3 .1-.3 .1,.1 .2,10.1 .1-10.1 .1,7.9 0-.9 .1,.7 .1-8 .2,1.6 .1-1.6 .2,.9 .1,5.7 .1-6.6 .1,10.2 .2-10.2 .2,4.7 .1-2.3 .1,.7 0-3.1 .1,4.7 .1-4.5 .1,.6 .1,4.8 .2-5.6 .1,24.1 .1-23.9 .1,1.2 .1-.7 .1,1.3 0,4.7 .2-5.1 .2,3.4 .2-4.6 0,1.4 .2-1.7 .1,.8 .2,12.7 0-13 .1,1.8 .1-2.5 .3,6.1 .1-6 .1,5.2 .2-5.3 .1,.1 .1,6.2 0-6.3 .2,19 .1-18.4 .1-.4 .1,0 .2,5.4 .1,11.4 .1-16.6 .1,.1 .1-.4 0,13.9 .1-8.9 .1,.9 .3-5.4 .1,8 0-5.6 .1,4 .1-6.7 .1,.6 .1-.9 .1,.9 0-.3 .1,3.3 .1-1.3 .2,1.4 .2-3.8 .1,4.9 .2-4.4 .1,.2 .1-.3 .2,13 .1-12.9 .1,11.1 .2-11.6 .1,10 .1-10.2 .2,.2 .1-.1 .1,13.8 .2-13.8 .2,8.5 .1-.1 0-6.3 .1-.7 .1,4.5 .1-5.8 .1-.1 .1,7.5 .2-7.1 .1,1 .2-1.1 .1,7.2 0-7.4 .1,17.3 .1-16.7 .1,1.5 .1-2.2 .1,6.1 .1-3.9 .1,2.3 .1-4.4 .1,0 .3,9.2 .1-8.9 .1-.4 .1,5.5 .1-3.4 0,.2 .1,4.2 .1-5.1 .1-1.3 .1,1.4 .1-1.5 .1,9.6 .1-6.6 .1,6.4 .2-8 .1-.1 0,2.4 .1-3.6 .2,.4 .2,1.5 .1,3.1 0,8.3 .1-10.2 .4,10.6 0-11.7 .1,8.3 .1-9.7 .1,2.9 .1-3.3 .1-.1 .1,10.8 .2-10.5 .1-.3 .1,10.2 .1-9.8 0,1 .1-1 .1,.7 .1,8.7 .2-8.4 .1-1.5 0,.1 .2,10.6 .1-10.4 .2,6.6 0-2.2 .2,4.5 .2-7.7 .2,3 0-2.2 .1,3.8 .3-5.7 .1,15.6 .1-7.5 .1,.1 .1-8.5 .2,5.3 .1-5.2 .1,8.1 .3-7.9 .1,.8 0-1.1 .2,.2 .1-.1 .1,1.1 .1-.7 .1,4.7 0-5.1 .4,8.7 .1-.7 0,5.6 .1-13.5 .1,15.4 .1-15.1 .1,9 .2-8.5 0,5 .1-5.1 .1,8.1 .2-8.8 .1,14.6 0-14.5 .1-.1 .1,.7 .1-.7 .1,.6 .2-.6 .1,7.5 .3-7.2 .1-.2 0,6.4 .1-5.6 .1,.1 .1-.9 .1,4.4 .1-3.1 .1,.4 0,10.5 .1-12.3 .1,8.8 .2-8.7 .1,5.2 0-1.9 .1,2.4 .1-5.5 .2,1 .1-.3 .1,.2 .1,3.1 .2-4.1 .1,5.7 .1-2.2 .1,3.4 .1-6.9 .3,13.6 .1-9.1 0,.8 .1-4.5 .1,1.3 .1-1.8 .2,14.4 0-12.1 .1,8.1 .1-10.7 .1,7 .2-6.7 .1,19.5 0-15.4 .1,8.3 .1-12.2 .2,7.6 .1-6.9 0,5 .1-3.9 .1,1 .1,8 .2-10.6 .1-.5 .1,5 .1-4.9 .1,.4 .1,7.9 .1-5.9 0,5.5 .2-8.1 .1,.3 .1-.2 .1,1.6 .1-1.4 0,1.6 .1,.1 .1-.2 .1,4.3 .1-3.9 .1-2.1 .1,2.7 .1-1.6 .2,5.4 .1-5.6 0,5.4 .3-5.2 .1,8 .1-8.5 .1,2.9 .1,19.4 .1-22.6 .2-.2 .1,12.1 .2-11.8 .2,17.2 .2-17.1 .1,6.1 .3-2.3 .1,.2 0-3.6 .1,.3 .2,16.6 .1-14.5 .1,1.2 .1-.3 0-4 .2,10.5 .1-10 .1,3.6 .1-4.1 .1,7.3 .1-6.2 .2-1 .1,0 .1,9.7 .1-9.6 .1,2.6 .1-2.6 .1,2.5 .1-1.3 0,16.2 .2-15.8 .2,19.6 .2-21.2 0,14.3 .1-14.3 .1,16.6 .1-16.6 .1,8.6 .1-7 0,10 .2-8.8 .1,16.3 .2-18.9 .1,8.2 .2-7.8 .1,17.1 .2-15 0,.7 .2-3.3 .1,17.9 .2-17.4 .1,.6 0-.9 .1,4.2 .1-.8 .1,1.3 .1-4.5 .1,7.3 0-4.4 .1,2.1 .1-3.3 .2,7.8 .1-8.7 .1,1.8 0-2.7 .2,3 .1-3 .1,.2 .1,10.3 0-9.5 .1,7.2 .2-6.7 .2,4.3 .1-5.5 .1,2 .1-2.3 .2,2.4 .1-1.6 0,2.8 .1-3.4 .3,3.2 .2-3.2 .2,2.8 .3-2.7 .1,9.8 .1-6.4 .3-3.3 .1,3.4 0-3.6 .1,1 .1-.4 .1,2 .1-2 .1,2.3 0-1.3 .1,6.6 .2-8.1 .2,9.8 .1-9.7 .1,0 .1,.2 .1,5.2 .1-3.9 .1-1.4 .2,4.8 .2-4.7 .1,1.8 .1-1.9 .1,.8 .1-.4 .1,3.8 .1-2.2 .2-1.8 .1,3.8 .1-3.9 .1,10.1 .2-10 .1,15.1 .2-13.7 .2,8.1 0-6.7 .1-.3 .1,.8 .2-3.2 .1,3.6 .1-3 .2,3.8 .1-4.3 .1,6.9 .1-4.9 .2-1.1 .2,2.2 .2-2.8 0,.1 .4,4.1 .1-4.3 .1,15.7 .2-15.6 .1,17.9 .2-17.6 0,.4 .1-.5 .1,2.3 .1-2.4 .1,5.4 .1-5.3 0-.1 .1,18.4 .1-18.1 .1,2.4 .1-2.4 .1,11 .1-10.1 0,2.7 .2-3.5 .1,6.1 .2-6.3 0,17 .1-16.8 .4,4.2 .1-3.7 .2,2.8 .1-3.2 .2,1.1 .1-1 .1,8.5 .1-8.6 .1,4.2 .1-4 .1,8.5 0-1.5 .2,4.7 .1-11.2 .2,9.9 0-9.2 .2,4.7 .1-5.9 .2,2.2 .1-2.1 .1,5 .3-4.7 .1,1.8 .1,4.6 .1-2.6 .1,13.5 .1-17.4 .1,7.8 .1-7.8 0,1.9 .1-1.8 .1,9 .1-8.9 .1,3.5 .1-2.9 .3,3 .2-3.2 .1,10.3 .1-10.3 .1,12.1 .1-12.2 .2,8.8 0-8.1 .1,8.5 .1-6 .1,4.7 .1-6.7 .1,3.7 .1-4.3 0,3 .3-3.5 .2,19 .1-18.8 .2,.8 .1-.3 .2,10.4 0-10.8 .2,2.1 .1-1.6 .1,4.7 .1-.9 .1,4.9 .2-8.8 .2,7.6 .1-7.7 .2,17.4 .1-13.2 .1,.8 .1-4.3 0,6.3 .2-6.7 .2,.3 .1,2.7 .1-2.8 .1,.8 .1,2.8 .1-3.4 .1,.9 .1-.6 0,1.6 .1-1.7 .1,3.6 .2-3.8 .1,3.5 .1-3.6 .1,17 .2-16.8 .1,.3 .1-.3 .1,3 .1-2.8 .1,0 .2,3.4 .1-3.1 0,2.4 .1-2.5 .1,2.3 .1-1.9 .1-.4 .1,.1 .1,5.3 .3-5.2 .1,4.9 .1-4.9 .4,11.9 .1-11.7 .1,6 .2-5.8 .2,4.5 .1-4.5 0,2.8 .2-.6 .1,2.4 .2-3.8 .2,3.6 .1-2.4 .1,5.6 .1-6.8 .1-.3 0,4.6 .1-4.7 .4,7.5 0-7.2 .1,9.3 .1-9.3 .3,1.7 .1-1.5 .2,2.9 .2-2.9 .1,2 .1,10.2 .1-12 .1,4.2 .1-3.9 .2,2.3 .1-2.4 .1,7.2 .2-7.1 .1,4.9 .1-4.6 .2,12.5 .2-12.4 .1,13.1 .2-11 .1,6.7 .1-8.8 .2,4.4 .1-3.7 .1,3.2 .1-.3 .1,8.9 .1-12.1 .3,13 .2-12.2 .1,4.9 .1-3.1 .1,6.3 .1-8.5 .1,13.8 .1-13.7 .1,18.8 .2-18.7 .2,.7 0,5.6 .1-6.1 .2,5.7 .1-2.8 .1,8 0-10.6 .1,.1 .1,15.9 .1-16 .1,2.3 .1-2.4 .1,.8 .1-.6 .1,5.8 .1-2.8 .1,6 .2-7 .1,13.2 .1-15 .1,4.8 .2-4.4 0,1.9 .1-2.1 .1,0 .2,5 .1,10.9 0-12 .1-2.2 .1,5.8 .1-6.7 .2-.4 .1,3.5 .3-3.3 .1,.1 .1,6.7 0-6.7 .2,.3 .1,6.9 .1,.1 .1-5.5 .1,1.6 0-2.9 .2,.8 .1-.8 .1,.3 .2,3.1 .1-2.5 .1,6.2 .2-6.9 .1,3.3 0-3 .1,2.6 .2-2.3 .1,14.3 .1-13.7 0,1.1 .1-2 .1,1.8 .1-1 .2,4.5 .1-5 .1,14 .1-11.3 .2,5.4 .3-7.8 .2,.6 .1,13.8 .1-13.9 0,7.4 .2-7.6 .1,11.5 .1-11.4 .1,.6 .1-.5 .1,9.8 .2-9.5 .1,3.9 .1-3.8 .2,4.4 .1-3.2 .1,8.7 .1-6.3 0,7.3 .1-10.6 .3,21 .2-20.3 .2,14.8 .1-15.1 .2,12.9 0-8.5 .2,6.3 .1-.5 .1,8.2 .1-16.5 .1,5.2 0-6.4 .1,4.6 .1-3.4 .1,6.9 .1-5.3 .1-.2 0,.9 .1-2.7 .3,1.6 .1-1 .1,2.7 0-3.5 .2,1.7 .1-1.4 .1,4.4 .1-4.2 0,.6 .1-.6 .1,.2 .1,6.3 .1-5.9 .1-.4 .1,5.6 .2-5.6 .1,9.4 .1-8.7 .1,.4 .2-.8 .1,10.3 .1-9.5 .1,4.7 .1-4.7 0,10.9 .2-11.2 .1,0 .1,5.8 .1-5.3 0-.3 .1,.4 .1-.2 .1,10.1 .2-9.3 .1,2.3 0-2.1 .1,6.4 .1-6.9 .3,4.2 .1-3.3 .1-.3 .1,.6 .1,2.2 .1-2.6 .1,7.5 0-7.5 .1,0 .1,3.9 .1-2.6 .1,3.3 .1-2.1 0,1.1 .3-2.7 .1,.1 .1-.1 .1,2.3 0-2.3 .1,2.5 .1-2.3 .2,.2 .1,1.8 0-1.4 .1,.1 .1,2.7 .1-2.6 .1,8 .2-7.9 0,5.3 .1-4.7 .1,3.1 .1-2.9 .2,3.1 0-2.8 .1,13.6 .3-12 .1-.4 .1,.4 0-1 .2,4.7 .2-4.4 .1,.5 0,12.2 .2-12.4 .1,19.9 .1-18.8 .1,1.2 .1-.8 0,.1 .1,1.2 .2-2 .1,2.1 .1-.8 0-.2 .1,.1 .1-.2 .1,3.5 .2-3.4 .1,4.2 .1-4 .1,1.8 .1-1.1 .1,6.5 .1-6.2 .1,11.5 .2-10.8 .1-.3 .1,.6 .1,5.6 0-3 .2,2.2 .1-3.8 .1,.5 .1,5.9 0-4 .1,1.7 .1-4 .1,1.2 .1-1.6 .2,1.2 0,9.3 .1-7.5 .1,9 .1-9.9 .1,.4 .1,10.8 0-9.1 .2-2.5 .1,3.3 .1-3.4 .1,.1 .1,10 .2-8.7 .2,12.8 .1-9.9 0,1.9 .2-4.4 .1,4.2 .1-1.6 .1,10.8 .1-13.2 0,7.2 .1-4.8 .1,1.9 .1-3.5 .2,4.6 .2-4.1 .1,2.6 .3-2.3 0,3.9 .1,.6 .1-1.6 .1,8.4 .1-10.1 .1-.5 .1,7.1 .1-6.3 .1,14.6 .1-9.5 .1,.1 .1-4.4 .2,8.2 .1-6.2 .2-1.7 .1,8.9 .1-7.6 .2,8.9 .1-9.4 .1,1.4 .1-1.3 .2,9 .1-8.7 .1,14.4 0-10.4 .1,3.7 .2-6.4 .3,4.6 0-4.6 .1-.1 .1,5.9 .2,.8 .1-4.8 0-1.1 .2,.1 .2,2.4 .2,.1 0-1.6 .1,9.1 .1-8.1 .1-.8 .1,2.4 .1-2.1 0,.3 .4,12.5 .1-11.9 .1,16.2 .1-12.2 .1,3.1 .2-6.4 .1,5.5 .1-4.5 .2,5.6 .1-5.3 .2,13 0-12.2 .1-.3 .3,1.5 .1,9.8 .1-9.7 .2,3.2 .1-3.8 .1,4.8 .1-4.4 .2,13.2 .1-12.9 .1,.2 .1,13.8 .2-10.5 .1-.5 .1,8 .1-9.7 .1,.2 .1,6.1 .1-4.8 .1-.7 .1,.9 .1,3.7 0-4.2 .2,9.2 .1-8.7 .1,.7 .1,.1 0-.3 .2,4.8 .1-3.4 .2,.5 .1,2.9 0-3.9 .2,.5 .1,10.8 .2-10 .1,.6 .2-.4 .1,.4 .1,0 .1,14.5 0-13.5 .1,5.1 .1-3.3 .2,7.1 .1-7.5 0,5.8 .2-6.4 .1,8.2 .2-6.9 .1,1.9 .1-2.1 .4,.9 .2,11.2 .1-9.4 .1,11 .2-11.6 0,12.3 .1-11.9 .1,3 .1-2.3 .2,2.3 .1-.7 .1,5.9 .1-6.7 .2,10.6 .1-9.7 .1,6.2 .1-5.6 .1,1.4 .1,.2 .1-.9 0,.4 .1,14.1 .1-14.3 .1,.2 .1,11.8 .2-10.1 .1,9.9 .2-10.4 .2,6.2 0-4.3 .1,3 .2-2.1 .1,.9 .1-1.4 .1-.4 .1,11.2 .1-10.2 .1,.3 .1-.5 .1,0 .2,7.1 .1-6.4 .2,6.1 .1-4.6 0,1.7 .1-2.2 .1,3 .1-2.7 .1,.8 .1,9.3 0-9.5 .2,10.2 .1-6.7 .1,.9 .1-2.2 .1,3 0-4.2 .4,9.6 .1-8.7 .1,.5 .1,0 .1,1.4 .1-1.1 .2,7.4 .1-6.3 .1-.3 .2,.4 .1,9.3 0-8.8 .2,.9 .3,6.4 .1-6.2 0,3.4 .1-1.3 .1,4.6 .1-3.4 .1,1.6 .1-2.5 .3,8.9 .1-6.6 .2-2.7 .2,3.9 .1,4 .2-7 .1,2.2 .1-2.4 .1,1.6 .2-1.6 .1,5.3 0-3.7 .1,2.2 .1-1.3 .1,.1 .1,0 .1-1.6 .1,2.4 .1-2.5 .1,2 .1,.2 .1-1 .1,.8 0-.3 .2,2.7 .1-2.3 .1,2.2 .1-2.8 .2,5.8 .1-5.9 .3-.6 1.6,.6 2.8,.4 34.1,2.7 107.3,8.2 154.9,11.3" stroke="#add8e6" stroke-width="5.556" fill="none" stroke-linecap="square"/><path d="M352.8,351.8l.8,.1 .9,0 .8,.1 .9,0 .8,.1 .8,0 .9,.1 .8,0 .9,.1 .8,.1 .9,0 .8,.1 .9,0 .8,.1 .9,.1 .8,.1 .9,.1 .8,.1 .8,.1 .9,.1 .8,.1 .9,.1 .8,.1 .9,.2 .8,.1 .9,.1 .8,.2 .9,.1 .8,.2 .9,.1 .8,.2 .8,.2 .9,.1 .8,.2 .9,.2 .8,.2 .9,.3 .8,.2 .9,.2 .8,.3 .9,.3 .8,.2 .9,.3 .8,.3 .8,.3 .9,.3 .8,.3 .9,.3 .8,.4 .9,.3 .8,.3 .9,.4 .8,.3 .9,.4 .8,.3 .8,.4 .9,.4 .8,.4 .9,.3 .8,.4 .9,.4 .8,.4 .9,.4 .8,.5 .9,.4 .8,.5 .9,.5 .8,.5 .8,.6 .9,.6 .8,.6 .9,.6 .8,.7 .9,.7 .8,.8 .9,.9 .8,1 .9,1 .8,1.1 .9,1.2 .8,1.2 .8,1.2 .9,1.2 .8,1.3 .9,1.2 .8,1.3 .9,1.2 .8,1.3 .9,1.2 .8,1.3 .9,1.3 .8,1.3 .9,1.3 .8,1.4 .8,1.4 .9,1.4 .8,1.5 .9,1.5 .8,1.6 .9,1.7 .8,1.8 .9,1.9 .8,1.9 .9,1.9 .8,1.9 .8,1.9 .9,1.8 .8,1.7 .9,1.8 .8,1.7 .9,1.7 .8,1.7 .9,1.6 .8,1.6 .9,1.6 .8,1.7 .9,1.7 0,2.8-.9,30.3-.8-5.7-.9-1.9-.8-5.1-.9,4.9-.8-6.2-.9-.6-.8-1-.9,2.8-.8-4.8-.9-2.2-.8-6.4-.8,1.6-.9-2.6-.8,1.1-.9-1-.8-9.6-.9,5.1-.8-2.3-.9-4.1-.8-5.1-.9,3.7-.8-6.3-.8,1.9-.9-4.6-.8-2.3-.9-1.7-.8,3.5-.9-6.4-.8,1.7-.9-4.2-.8,2.2-.9-5.5-.8,1.3-.9,2.4-.8-6-.8,2.3-.9-1.2-.8-5.8-.9,2.8-.8-1.2-.9-.7-.8-3.3-.9,2.2-.8-4.9-.9,0-.8,2.2-.9-2.3-.8-1.5-.8-.9-.9-.9-.8-3.4-.9-.4-.8-1.1-.9,3.7-.8-3.9-.9-.1-.8-2.8-.9,1.3-.8,0-.9-3.5-.8-.8-.8,2.2-.9-.4-.8-.2-.9-2.4-.8,3-.9-4-.8,.8-.9-.9-.8,1.8-.9-5-.8,2.1-.8,.8-.9-3.3-.8,2.9-.9-1.6-.8,.8-.9-2-.8-1.3-.9,1.8-.8-.3-.9,3.2-.8-2.9-.9-1.9-.8,3.2-.8-2.5-.9,.8-.8,0-.9-2.9-.8-.3-.9,1.1-.8-4.2-.9-.3-.8,2.1-.9,.5-.8-.7-.9-2.6-.8,.6-.8-1.3-.9,0-.8-1-.9-1.6-.8,.7-.9-1-.8-1-.9-.9-.8,.4-.9-1.1-.8-.3-.9-1-.8-.3-.8-1.4-.9,.1-.8-.7-.9-.8-.8-.8z" fill="#add8e6"/><path d="M75.8,380.4l4.3-2.5 5.1-2.4 5.6-2.1 5.8-1.7 5.7-1.2 5.3-.7 5.1-.1 4.6,.3 3.3,.7 2.8,1.1 2.3,1.4 1,1 .9,1 1.2,2.1 1,2.6 .6,2.8 .6,5.1 .1,.6 .6-5.9 .8-4 .5-1.7 .7-1.6 .8-1.6 .9-1.3 1.2-1.3 1.4-1.1 1.5-1 1.7-.9 1.8-.6 1.7-.5 1.8-.2 1.8,0 2.5,.5 1.1,.5 1.1,.6 .9,.7 .8,.8 1.4,2 .9,2.4 .7,3 .4,3.6 .4,6.2 .4-5.9 .5-4.3 .7-3.4 1.1-2.7 .8-1.3 .9-1.1 .9-.9 1.1-.9 1.2-.6 1.2-.5 1.2-.2 1.2,0 1,.1 .9,.3 .9,.5 .8,.6 1.4,1.6 1.1,2.3 .7,2.5 .5,3.4 .3,5 .2,5.6 .2-6.5 .4-4.6 .5-3.3 .7-2.9 1.2-2.5 .8-1.1 .8-.8 .8-.7 .9-.5 1-.3 .9,0 .8,.1 .8,.3 .8,.5 .6,.7 1.2,1.8 .9,2.5 .6,3 .3,3.4 .3,11.1 .5-11.6 .4-3.8 .6-2.9 .9-2.5 1.2-1.9 .7-.7 .7-.5 .8-.3 .8,0 .6,.1 .7,.3 1.2,1.2 .9,1.8 .8,2.5 .4,2.5 .3,3.8 .4,12.3 .2-11.7 .4-4.2 .5-3.1 .7-2.6 1.1-2 .6-.7 .5-.5 .6-.2 .7-.1 .6,.1 .6,.3 1,1.2 .9,1.9 .5,2.4 .5,3.1 .2,3.5 .3,12.9 .2-12.9 .3-3.6 .4-3.2 .7-2.7 .8-2 1-1.2 .6-.3 .5-.1 .6,.1 .5,.4 .9,1.2 .8,2 .5,2.5 .3,2.9 .3,4.4 .1,12.7 .3-14 .5-6 .6-2.9 .7-2.1 1-1.3 .5-.3 .5-.1 .5,.2 .4,.3 .8,1.2 .6,1.8 .5,2.6 .3,3.5 .2,3.3 .2,13.9 .1-12.9 .2-3.9 .3-3.8 .5-2.9 .7-2 .9-1.4 .4-.3 .4-.1 .4,.2 .5,.3 .7,1.3 .6,2.1 .4,2.8 .5,7.3 .1,13.4 .1-12.7 .3-7.1 .4-2.8 .4-2.1 .5-1.6 .6-1 .4-.4 .5-.1 .4,.1 .3,.3 .7,1.3 .6,2.3 .3,2.4 .3,3.3 .2,11.9 .2-8.4 .3-5.3 .5-4.3 .6-2.5 .8-1.3 .4-.2 .4,.1 .5,.4 .3,.6 .7,2.3 .4,3.1 .3,3.8 .2,11.2 .2-10.4 .2-4.4 .4-2.8 .5-2.3 .6-1.4 .3-.4 .4-.2 .4,.1 .3,.4 .4,.9 .5,1.6 .5,4 .2,5.2 .2,9.9 .1-8.2 .2-6.4 .4-3.4 .6-2.8 .6-1.4 .5-.2 .3,.1 .3,.4 .4,.7 .5,2.1 .3,2.8 .3,4.3 .1,10.8 .3-11.8 .3-4.7 .4-2.2 .3-1.4 .5-1.1 .5-.4 .5,.4 .5,1.3 .5,2.1 .2,2.3 .4,8.6 0,12.9 .1-13.5 .3-7 .5-4.6 .4-1.7 .4-.8 .3-.2 .3,0 .5,.7 .5,1.6 .3,2.3 .3,5.2 .2,11.9 .2-10.8 .2-5.1 .4-3.5 .4-1.5 .3-.8 .3-.3 .2-.1 .5,.4 .4,1.2 .3,1.9 .4,5.4 .3,9 .2-8.9 .1-3 .4-3.2 .4-2 .4-.9 .3-.1 .2,.1 .5,1 .5,2.2 .3,4 .2,13.4 .3-12.6 .3-4.6 .5-2.4 .4-1.1 .2-.3 .3,.1 .4,.8 .4,2 .5,5.3 .2,10 .2-9.6 .3-5 .3-1.8 .3-1.3 .4-.6 .2-.1 .2,.1 .3,.8 .4,1.6 .4,4.8 .2,17.3 .2-15.6 .3-4.6 .3-2.7 .4-1.6 .2-.2 .2-.1 .5,.6 .4,2 .4,5.7 .2,10.7 .1-9.2 .3-5.2 .5-3.8 .3-.7 .3-.4 .2,.2 .2,.4 .4,1.5 .4,4.7 .1,5.8 .1,17.7 .1-18 .2-5.6 .4-4.8 .3-1.5 .4-.5 .2,0 .1,.2 .4,1.1 .4,3.6 .2,3.2 .4,163.9 .2-168.1 .4,168.1 .4-172.2 .1,0 .1,0 .4,.9 .5,4.1 .2,3.8 .1,12.1 .1-9.9 .2-5.1 .3-4 .3-1.3 .2-.7 .2-.1 .2,0 .2,.6 .3,1.3 .2,2.4 .3,6.3 .1,8.8 .2-13 .4-4.4 .4-2 .2-.2 .1,0 .3,.4 .4,2.5 .3,4 .1,9 .4-11 .2-2.9 .4-1.8 .2-.4 .3,.1 .2,.8 .3,1.8 .2,3.8 .3,8.7 .1-8.7 .3-3.9 .3-1.8 .2-.9 .2-.1 .1,.1 .3,.7 .3,2.6 .2,2.8 .3,9.6 0-6.5 .3-5.8 .4-3.2 .3-.5 .2,.1 .4,1.5 .2,2.6 .4,13 0-7.7 .3-6.1 .3-2.8 .3-.7 .2-.1 .3,.8 .3,1.9 .2,4.7 .2,16.6 .1-17.1 .4-5.2 .4-1.9 .2,0 .1,.1 .2,.9 .4,3.5 .2,12.2 .3-11.3 .4-4.7 .2-.8 .2-.1 .1,.1 .4,2.7 .2,3 .2,10.9 .2-12.8 .5-3.9 .4,0 .3,1 .2,7.6 .2,1.9 .1,6.7 .1-10.4 .2-4 .2-2.7 .1,.6 .1-.7 .2-.3 .1,.9 .2-.7 .2,4.2 0-2.2 .2,13.6 .2-7.7 .1-1.7 0,2.1 .2-7.8 .1,.2 .1-.9 .2,.3 0-.4 .2,.5 .1,1.3 .1-.3 .1,0 0-.8 .1,6.2 .1-2.8 .2,5 .2-5.5 .1,3.5 .1-1 .1-5.5 .1,1.6 .1-1.7 0,.6 .2-1.1 .1-.2 .1,.4 .1-.4 .2,8.5 .1,9 .1-15.4 .1,4.5 .1-3.3 0,11.6 .1-12.4 .2-1.3 .1,9.3 .2-10.5 0,1.9 .2-1.1 .2-.2 .1,1.4 0-2.1 .1,12.2 .1-7.2 .1,4.4 .1-8.3 .1,4.1 .1-3.2 0,1.6 .1-.6 .1,6.1 .1-8.1 .1,6.4 .1-7.2 .1,2.2 .2-2.5 .1,2.3 .1-2.1 .1,.2 .1,10.5 .1-10.5 .1,3.6 .1-1.7 .1,4.3 .1-1.6 .1,.6 .1,4.4 .1-10.1 .1,10 .1-10 .1,0 .2,.7 .2-.5 .1,6.9 .1-7 0,3.2 .5,171.4 .5-174.6 0,.6 .2,.1 .1-.9 .1,4.7 .1-4.7 .2,5.5 .1-1.3 .1,15.8 .1-19.8 .1,.6 .1-.9 .1,11.8 .1-11.8 .1,1 .1-.6 .1,1.3 .1-1.3 .2,13.3 .1-13.2 .1,4.3 .1-4.4 .1,3.3 .1-3.6 .1,4.7 .2-1.3 .1-3.3 .1,0 .1,2.5 .1-2.5 0-.3 .1,.4 .1-.3 .2,6.1 .1-5 0,24.5 .2-25.5 .2,17.3 .2-16.4 0,2.7 .1-3 .2,.7 .1,2 .1-3 .1-.3 .1,.1 .2,10.1 .1-10.1 .1,7.9 0-.9 .1,.7 .1-8 .2,1.3 .4,173.7 .4-174.4 .2,4.1 .1-2.3 .1,.7 0-3.1 .1,4.7 .1-4.5 .1,.6 .1,4.8 .2-5.6 .1,25.1 .1-24.9 .1,1.2 .1-.7 .1,1.3 0,4.7 .2-5.1 .2,3.4 .2-4.6 0,1.4 .2-1.7 .1,.8 .2,12.7 0-13 .1,1.8 .1-2.5 .1,.6 .2,5.5 .1-6 .1,5.2 .2-5.3 .1,.1 .1,6.2 0-6.3 .2,19.7 .1-19.1 .1-.4 .1,0 .2,5.4 .1,11.9 .1-17.1 .1,.1 .1-.4 0,14 .1-9 .1,.9 .3-5.4 .1,8 0-5.5 .1,3.9 .1-6.7 .1,.6 .1-.9 .1,.9 0-.3 .1,3.3 .1-1.3 .2,1.4 .2-3.8 .1,4.9 .2-4.4 .1,.2 .1-.3 .2,13 .1-12.9 .1,11.1 .2-11.6 .1,10 .1-10.2 .2,.2 .1-.1 .1,14 .2-14 .2,8.6 .1-.2 0-6.3 .1-.7 .1,4.5 .1-5.8 .1-.1 .1,7.5 .2-7.1 .1,1 .2-1.1 .1,7.2 0-7.4 .1,17.5 .1-16.9 .1,1.5 .1-2.1 .1,.5 0,5.5 .1-3.9 .1,2.3 .1-4.4 .1,0 .3,9.2 .1-8.9 .1-.4 .1,5.5 .1-3.4 0,.2 .1,4.2 .1-5.1 .1-1.3 .1,1.4 .1-1.5 .1,9.6 .1-6.6 .1,6.4 .2-8 .1-.1 0,2.4 .1-3.6 .1,.1 .3,1.8 .1,11.5 .1-10.3 .4,10.7 0-11.8 .1,8.3 .1-9.7 .1,2.9 .1-3.3 .1-.1 .1,10.8 .2-10.5 .1-.3 .1,10.2 .1-9.8 0,1 .1-1 .1,.7 .1,8.7 .2-8.4 .1-1.5 0,.1 .2,10.6 .1-10.4 .2,6.7 0-2.3 .2,4.5 .2-7.7 .2,3 0-2.2 .1,3.8 .3-5.7 .1,16.1 .1-8 .1,.1 .1-8.5 .2,5.3 .1-5.2 .1,8.1 .3-7.9 .1,.8 0-1.1 .2,.2 .1-.1 .1,1.1 .1-.7 .1,4.7 0-5.1 .4,8.7 .1-.7 0,5.9 .1-13.8 .1,15.9 .1-15.6 .1,9 .2-8.5 0,5.1 .1-5.2 .1,8.1 .2-8.8 .1,14.7 0-14.6 .1-.1 .1,.7 .1-.7 .1,.6 .2-.6 .1,7.6 .3-7.3 .1-.2 0,6.4 .1-5.6 .1,.1 .1-.9 .1,4.4 .1-3.1 .1,.4 0,10.6 .1-12.4 .1,8.8 .2-8.7 .1,5.2 0-1.9 .1,2.4 .1-5.5 .2,1 .1-.3 .1,.2 .1,3.1 .2-4.1 .1,5.7 .1-2.2 .1,3.4 .1-6.9 .3,13.7 .1-9.2 0,.8 .1-4.5 .1,1.3 .1-1.8 .2,14.8 0-12.5 .1,8.1 .1-10.7 .1,7 .2-6.7 .1,20.5 0-16.4 .1,8.3 .1-12.2 .2,7.7 .1-7 0,5 .1-3.9 .1,1 .1,8 .2-10.6 .1-.5 .1,5 .1-4.9 .1,.4 .1,7.9 .1-5.9 0,5.5 .2-8.1 .1,.3 .1-.2 .1,1.6 .1-1.4 0,1.6 .1,.1 .1-.2 .1,4.3 .1-3.9 .1-2.1 .1,2.7 .1-1.6 .2,5.4 .1-5.6 0,5.4 .3-5.2 .1,8 .1-8.5 .1,2.9 .1,21.4 .1-24.6 .2-.2 .1,12.3 .2-12 .2,17.9 .2-17.8 .1,6.1 .3-2.3 .1,.2 0-3.6 .1,.3 .2,16.9 .1-14.8 .1,1.2 .1-.3 0-4 .2,10.5 .1-10 .1,3.6 .1-4.1 .1,7.3 .1-6.2 .2-1 .1,0 .1,9.8 .1-9.7 .1,2.6 .1-2.6 .1,2.5 .1-1.2 0,18.2 .1-13.6 .1-4.3 .1,4.6 .1,27.6 .2-33.8 0,14.7 .1-14.7 .1,16.9 .1-16.9 .1,8.6 .1-7 0,10 .2-8.8 .1,25.7 .2-28.3 .1,8.2 .2-7.8 .1,19.5 .2-17.4 0,.7 .2-3.3 .1,18.7 .1-14.5 .1-3.7 .1,.6 0-.9 .1,4.2 .1-.8 .1,1.3 .1-4.5 .1,7.3 0-4.4 .1,2.1 .1-3.3 .2,7.9 .1-8.8 .1,1.8 0-2.7 .2,3 .1-3 .1,.2 .1,10.3 0-9.5 .1,7.2 .2-6.7 .2,4.3 .1-5.5 .1,2 .1-2.3 .2,2.4 .1-1.6 0,2.8 .1-3.4 .3,3.2 .2-3.2 .2,2.8 .3-2.7 .1,9.8 .1-6.4 .3-3.3 .1,3.4 0-3.6 .1,1 .1-.4 .1,2 .1-2 .1,2.3 0-1.3 .1,6.7 .2-8.2 .2,9.8 .1-9.7 .1,0 .1,.2 .1,5.2 .1-3.9 .1-1.4 .2,4.8 .2-4.7 .1,1.8 .1-1.9 .1,.8 .1-.4 .1,3.8 .1-2.2 .2-1.8 .1,3.8 .1-3.9 .1,10.2 .2-10.1 .1,15.3 .2-13.9 .2,8.2 0-6.8 .1-.3 .1,.8 .2-3.2 .1,3.6 .1-3 .2,3.8 .1-4.3 .1,6.9 .1-4.9 .2-1.1 .2,2.2 .2-2.8 0,.1 .4,4.2 .1-4.4 .1,16.7 .2-16.6 .1,24.7 .2-24.4 0,.4 .1-.5 .1,2.3 .1-2.4 .1,5.4 .1-5.3 0-.1 .1,18.8 .1-18.5 .1,2.4 .1-2.4 .1,11.2 .1-10.3 0,2.7 .2-3.5 .1,6.1 .2-6.3 0,17.3 .1-17.1 .4,4.2 .1-3.7 .2,2.8 .1-3.2 .2,1.1 .1-1 .1,8.5 .1-8.6 .1,4.2 .1-4 .1,8.5 0-1.5 .1,4.6 .1,.1 .1-11.2 .2,10 0-9.3 .2,4.7 .1-5.9 .2,2.2 .1-2.1 .1,5 .3-4.7 .1,1.8 .1,4.6 .1-2.6 .1,15.4 .1-19.3 .1,7.8 .1-7.8 0,1.9 .1-1.8 .1,9.1 .1-9 .1,3.5 .1-.7 .4,168.1 .4-164.6 .1-6 .2,8.8 0-8.1 .1,8.6 .1-6.1 .1,4.7 .1-6.7 .1,3.7 .1-4.3 0,3 .3-3.5 .2,27 .1-26.8 .2,.8 .1-.3 .2,10.6 0-11 .2,2.1 .1-1.6 .1,4.8 .1-1 .1,4.9 .2-8.8 .2,7.6 .1-7.7 .2,21.2 .1-17 .1,.8 .1-4.3 0,6.3 .2-6.7 .2,.4 .1,2.6 .1-2.8 .1,.8 .1,2.8 .1-3.4 .1,.9 .1-.6 0,1.6 .1-1.7 .1,3.6 .1-1.1 .4,166.5 .4-166.7 .1,.6 .1-2.8 .1,0 .2,3.4 .1-3.1 0,2.4 .1-2.5 .1,2.3 .1-1.9 .1-.4 .1,.1 .1,5.3 .3-5.2 .1,4.9 .1-4.9 .4,12.2 .1-12 .1,6 .2-5.8 .2,4.5 .1-4.5 0,2.8 .2-.6 .1,2.4 .2-3.8 .2,3.6 .1-2.4 .1,5.7 .1-6.9 .1-.3 0,4.6 .1-4.7 .4,7.6 0-7.3 .1,9.4 .1-9.4 .3,1.7 .1-1.5 .2,2.9 .2-2.9 .1,2 .1,10.5 .1-12.3 .1,4.2 .1-3.9 .2,2.3 .1-2.4 .1,7.2 .2-7.1 .1,4.9 .1-4.6 .2,13 .2-12.9 .1,13.7 .2-11.6 .1,6.8 .1-8.9 .2,2 .4,164.3 .4-157.9 .2-7.2 .1,4.9 .1-3.1 .1,6.4 .1-8.6 .1,14.1 .1-14 .1,20.8 .2-20.7 .2,.7 0,5.6 .1-6.1 .1,.3 .4,164.8 .5-164.1 .1-.6 .1,5.8 .1-2.8 .1,6.1 .2-7.1 .1,14.5 .1-16.3 .1,4.8 .2-4.4 0,1.9 .1-2.1 .1,0 .1,1.5 .2,14.8 0-12.4 .1-2.2 .1,5.8 .1-6.7 .2-.4 .1,3.5 .3-3.3 .1,.1 .1,6.7 0-6.7 .2,.3 .1,6.9 .1,.1 .1-5.5 .1,1.6 0-2.9 .2,.8 .1-.8 .1,.3 .2,3.1 .1-2.5 .1,6.3 .2-7 .1,3.3 0-3 .1,2.6 .2-2.3 .1,14.7 .1-14.1 0,1.1 .1-2 .1,1.8 .1-1 .2,4.5 0-3.5 .5,160.8 .5-161.6 0,.2 .1,14.3 .1-14.4 0,7.5 .2-7.7 .1,11.6 .1-11.5 .1,.6 .1-.5 .1,9.9 .2-9.6 .1,3.9 .1-3.8 .2,4.5 .1-3.3 .1,8.7 .1-6.3 0,7.4 .1-10.7 .1,2.1 .4,158.7 .4-149.1 .1,1.8 0-8.7 .2,6.4 .1-.4 .1,9.8 .1-18.3 .1,5.2 0-6.4 .1,4.6 .1-3.4 .1,6.9 .1-5.3 .1-.2 0,.9 .1-2.7 .3,1.6 .1-1 .1,2.8 0-3.6 .2,1.7 .1-1.4 .1,4.4 .1-4.2 0,.6 .1-.6 .1,.2 .1,6.4 .1-6 .1-.4 .1,5.6 .2-5.6 .1,9.4 .1-8.7 .1,.4 0-.1 .5,157.4 .5-153.6 0,1.9 .1-5.4 0-.3 .1,.4 .1-.2 .1,10.3 .2-9.4 .1,2.2 0-2 .1,6.3 .1-6.9 .3,4.2 .1-3.3 .1-.3 .1,.6 .1,2.2 .1-2.6 .1,7.5 0-7.5 .1,0 .1,3.9 .1-2.6 .1,3.3 .1-2.1 0,1.2 .3-2.8 .1,.1 .1-.1 .1,2.3 0-2.3 .1,2.5 .1-2.3 .2,.2 .1,1.8 0-1.4 .1,.1 .1,2.7 .1-2.6 .1,8 .2-7.9 0,5.3 .1-4.7 .1,3.1 .1-2.9 .2,3.1 0-2.8 .1,14.4 .3-12.8 .1-.4 .1,.4 0-.9 .2,4.6 .2-4.4 .1,.5 0,12.8 .2-13 .1,30.7 .1-29.6 .1,1.2 .1-.8 0,.1 .1,1.2 .2-2 .1,2.1 .1-.8 0-.2 .1,.1 .1-.2 .1,3.5 .2-3.4 .1,4.2 .1-4 .1,1.8 .1-1.1 .1,6.5 .1-6.2 .1,12.2 .2-11.5 .1-.3 .1,.6 .1,5.7 0-3.1 .2,2.3 .1-3.9 .1,.5 .1,6 .2-6.4 .1,1.2 .1-1.6 .1,.2 .1,10.7 .1-7.9 .1,9.9 .1-10.8 .1,.4 .1,11.3 0-9.6 .2-2.5 .1,3.4 .1-3.4 .1,0 .1,10.1 0-1.2 .5,136.2 .5-131.9 0,2.2 .1-13.5 0,7.4 .1-5 .1,1.9 .1-3.5 .2,4.6 .2-4.1 .1,2.6 .3-2.3 0,4 .1,.5 .1-1.6 .1,9.5 .1-11.2 .1-.5 .1,7.3 .1-6.5 .1,23.4 .1-18.2 .1,.1 .1-4.5 .2,8.3 .1-6.2 .2-1.8 .1,9 .1-7.7 .2,9.6 .1-10.1 .1,1.4 .1-1.3 .2,9.6 .1-9.3 .1,15.1 0-11.1 .1,3.7 .2-6.3 .3,4.6 0-4.7 .1-.1 .1,6.1 .1,.1 .4,130.4 .4-133.1 .1,7.8 .1-8.5 .1-.7 .1,2.3 .1-2.1 0,.3 .4,13.5 .1-12.9 .1,18.3 .1-14.2 .1,3.2 .2-6.6 .1,5.6 .1-4.6 .1,5.2 .1,.5 .1-5.4 0,1.7 .5,129.7 .5-127.1 0,1 .1-3.8 .1,4.8 .1-4.4 .1,.5 .1,26.4 .1-26.6 .1,.2 .1,23.9 .1-18.2 .2-2.9 .1,9 .1-10.7 0,.2 .1,0 .1,6.2 .1-4.9 .1-.7 .1,.9 .1,3.8 0-4.2 .2,10.3 .1-9.9 .1,.7 .1,.1 0-.3 .2,5 .1-3.6 .2,.5 .1,3 0-3.9 .2,.4 .1,12.3 .2-11.5 .1,.6 .2-.3 .1,.4 .1-.1 .1,16.5 0-15.5 .1,5.2 .1-3.4 .1,2.2 .1,6 .1-8.6 0,6.2 .2-6.8 .1,9.2 .2-7.9 .1,1.9 .1-2 .4,.9 .2,18.7 .1-16.9 .1,11.9 .2-12.6 0,13.6 .1-13.2 .1,3.1 .1-2.3 .2,2.2 .1-.6 .1,6.7 .1-7.6 .2,16.9 .1-14.6 0-1.3 .1,6.3 .1-5.7 .2,1.5 .4,112.9 .4-99.1 .2-13.1 .2,6.3 0-4.3 .1,3.1 .1-.1 .1-2.1 .1,.9 .1-1.5 .1-.3 .1,16.9 .1-15.9 .1,.2 .1-.5 .1,0 0,.9 .2,6.6 .1-6.7 .2,6.2 .1-4.7 0,1.7 .1-2.3 .1,3.2 .1-2.9 .2,17.5 0-16.8 .2,14.7 .1-11.2 .1,1.2 .1-2.5 .1,3.5 0-4.7 .1,.3 .3,16.9 .4,88.6 .4-103.1 .1-.1 .2,.3 .1,13.3 0-12.9 .2,.9 .2,13.9 .2-13.7 .2,8.2 .1-4 .1,2.3 .1-3.8 .1,9.5 .1-3.8 .1,19.1 .1-20.4 .2-4.5 .2,12.1 .3-11.8 .1,2.3 .1-1.8 .1,3.6 .1-3.2 .1,.1 .1,10.6 0-10.1 .2,8.1 .4,88.9 .4-93.1 .1-1.8 .3,12 .2-11.3 0,13.8 .1-9.4 .3-3.5 1,2.2 .5,91.1 .5-89.2 .4,.8 1.4,2.5 1.3,1.7 .6,.5 .6,.3 66.9,9.8 72.8,15.8 79.7,13.4 75.2,16.5" stroke="#ff0000" stroke-dasharray="2.083 3.438" stroke-width="2.083" fill="none"/><path d="M352.8,353.6l.8,.1 .9,0 .8,.1 .9,0 .8,.1 .8,0 .9,.1 .8,0 .9,.1 .8,0 .9,.1 .8,.1 .9,0 .8,.1 .9,.1 .8,.1 .9,0 .8,.1 .8,.1 .9,.2 .8,.1 .9,.1 .8,.1 .9,.1 .8,.2 .9,.1 .8,.2 .9,.1 .8,.2 .9,.1 .8,.2 .8,.1 .9,.2 .8,.2 .9,.2 .8,.2 .9,.2 .8,.3 .9,.2 .8,.3 .9,.2 .8,.3 .9,.3 .8,.3 .8,.3 .9,.3 .8,.3 .9,.3 .8,.3 .9,.4 .8,.3 .9,.4 .8,.3 .9,.4 .8,.3 .8,.4 .9,.4 .8,.3 .9,.4 .8,.4 .9,.4 .8,.4 .9,.4 .8,.5 .9,.4 .8,.5 .9,.5 .8,.5 .8,.6 .9,.5 .8,.6 .9,.7 .8,.7 .9,.7 .8,.8 .9,.9 .8,1 .9,1 .8,1.1 .9,1.2 .8,1.2 .8,1.2 .9,1.2 .8,1.3 .9,1.2 .8,1.3 .9,1.2 .8,1.2 .9,1.3 .8,1.3 .9,1.2 .8,1.4 .9,1.3 .8,1.4 .8,1.4 .9,1.4 .8,1.5 .9,1.5 .8,1.6 .9,1.7 .8,1.8 .9,1.9 .8,1.9 .9,1.9 .8,1.9 .8,1.9 .9,1.8 .8,1.7 .9,1.8 .8,1.7 .9,1.7 .8,1.7 .9,1.6 .8,1.6 .9,1.6 .8,1.7 .9,1.7 0,1-.9,27.8-.8-5.3-.9-4.4-.8,2.8-.9-.3-.8-6.7-.9,0-.8,.9-.9,1.9-.8-6.6-.9,.6-.8-4.3-.8-.3-.9,3.2-.8-8.3-.9-3.3-.8-1.5-.9-4.9-.8,4-.9-3.9-.8-2.2-.9-4.6-.8,2.6-.8-.7-.9,.5-.8-8.1-.9,5.3-.8-1.6-.9-8.6-.8,4.3-.9-5.9-.8,5.5-.9-1.8-.8-6.5-.9,1.2-.8-5.5-.8,1-.9,.6-.8-3.2-.9,2.6-.8-8.1-.9,2.8-.8-3.6-.9,2.5-.8-1-.9,1.2-.8-1.9-.9-5.5-.8,.7-.8,2.9-.9-5.8-.8,.1-.9-2.8-.8,.7-.9,1.9-.8-.8-.9-3.1-.8,3.9-.9-4.5-.8-.6-.9,.7-.8,1.4-.8-2.6-.9,1.8-.8-4.6-.9,3.3-.8-3.6-.9,.7-.8,1.3-.9-5.2-.8,2.5-.9-1.5-.8-1.3-.8,.8-.9-1.5-.8,1.8-.9-2.6-.8-2.4-.9-.2-.8,2.1-.9,.2-.8-3.5-.9,1.4-.8,.3-.9-1.6-.8-2.4-.8,2.7-.9-3.5-.8-.5-.9,2.2-.8-2.3-.9-.4-.8,1.7-.9-.9-.8-1.7-.9-1-.8-.6-.9,0-.8-.9-.8,.7-.9-.3-.8-.5-.9-1.3-.8,.4-.9,0-.8-1.7-.9,.1-.8-.1-.9-.6-.8-.6-.9-.3-.8-.3-.8-.2-.9-.6-.8-.6-.9-.5-.8-.3z" fill="#ff0000"/><path d="M358.8,358.1h2.1v2.1h-2.1zm2.3,2.3h2.1v2.1h-2.1zm3,.7h2.1v2.1h-2.1zm.9,1.5h2.1v2.1h-2.1zm2.7-.2h2.1v2.1h-2.1zm.9,1.7h2.1v2.1h-2.1zm.4-1.1h2.1v2.1h-2.1zm3.7,5.5h2.1v2.1h-2.1zm3,2.1h2.1v2.1h-2.1zm1-.3h2.1v2.1h-2.1zm1.6,.3h2.1v2.1h-2.1zm.2,.3h2.1v2.1h-2.1zm.8,1.8h2.1v2.1h-2.1zm2.9-2.2h2.1v2.1h-2.1z" fill="#ff0000"/><path d="M75.8,394.5l14.3-1.5 3.7-.2 3.5,.1 3.7,.5 3.2,.8 2.7,1.1 2.3,1.4 1.6,1.7 1.3,1.9 .9,2.3 .7,2.8 .4,3 .3,3.5 .2,14.6 .3-13.8 .3-4.6 .6-3.7 .9-2.9 1.2-2.7 1.6-2.2 2.1-1.9 2.7-1.7 3.1-1.4 3.4-1 3.5-.4 3.1,0 2.8,.6 1.2,.5 1.1,.6 1.1,.7 .8,.8 1.2,1.6 .9,2 .7,2.2 .5,2.8 .5,6.7 .2,15.2 .2-13.9 .2-5.3 .3-2.6 .4-2.6 .5-2.1 .7-1.9 1-2 1.2-1.7 1.4-1.4 1.6-1.2 1.8-.8 1.9-.5 1.8,0 1.8,.3 1.1,.4 1,.6 .9,.8 .8,.9 .7,1.1 .6,1.3 .9,3.2 .5,3.6 .3,5.7 .2,18 .1-14.2 .2-5.9 .4-5.2 .7-4 .7-2 .8-1.6 .9-1.4 1.1-1.2 1.3-.9 1.3-.5 1.3-.2 1.3,.2 .9,.3 .9,.6 .9,.9 .7,.9 1.1,2.5 .7,3.3 .4,3.6 .3,5.2 .2,20 .1-21.2 .4-5.4 .5-3.6 .4-1.8 .6-1.7 .7-1.4 .8-1.3 1-.9 1-.6 1.1-.3 1,.1 .8,.3 .8,.6 .7,.7 .6,1 .9,2.4 .7,3.4 .4,4.8 .2,4.9 0,20.5 .2-22 .3-5.4 .4-3.8 .8-3.6 .5-1.3 .7-1.3 .8-.9 .8-.7 .9-.3 .8,.1 .7,.2 .7,.6 .6,.7 .5,.9 .8,2.5 .6,3.6 .3,4.4 .2,5.9 .1,20.7 .1-21.2 .2-5.6 .4-5.1 .7-3.6 .5-1.5 .5-1.1 .6-1.1 .7-.6 .7-.3 .8,0 .6,.3 .5,.5 1,1.6 .7,2.5 .5,3.4 .3,3.3 .2,4.8 .1,23.9 .1-25.1 .4-7.3 .6-3.7 .9-2.7 .6-1 .6-.7 .6-.3 .6,0 .6,.3 .5,.5 .9,1.7 .7,2.7 .4,3.5 .3,8.1 .1,24.2 .1-23.4 .2-6.1 .2-3.7 .5-3.6 .8-2.7 .5-1 .5-.7 .5-.3 .6-.1 .5,.3 .4,.4 .9,1.9 .6,2.6 .4,3.9 .2,6.4 .1,26.2 .1-23.5 .4-9.7 .4-3.7 .7-2.9 .4-1.1 .5-.8 .5-.4 .5-.1 .4,.2 .4,.5 .8,1.8 .6,2.9 .3,3.5 .3,7.2 .1,26.1 .1-25.9 .2-7.4 .4-3.6 .5-2.8 .7-2.1 .4-.5 .5-.3 .4,0 .4,.3 .7,1.2 .5,1.9 .4,3 .4,5.9 .1,16.1 .1-13.2 .3-8.1 .4-3 .5-2.4 .7-1.6 .3-.4 .3-.2 .4,.1 .3,.3 .6,1.1 .5,2 .4,2.4 .2,3.5 .2,5.4 .1,13.1 .1-12.1 .3-8.9 .3-3 .5-2.1 .5-1.6 .6-.6 .4,.1 .2,.1 .5,.9 .5,1.5 .3,2 .4,5.6 .2,9 .3-11 .3-3.1 .3-2.4 .5-1.9 .6-1 .4-.2 .3,.2 .6,1.1 .6,2.8 .3,3.7 .4,12.5 .1-10.2 .2-3.2 .3-3.3 .5-2.2 .5-1.3 .2-.3 .4-.1 .5,.5 .3,.9 .3,1.5 .5,3.7 .2,6.2 .1,7.5 .3-11.3 .3-4.7 .3-2.2 .5-1.8 .6-.6 .2,0 .3,.3 .3,.7 .3,1.3 .5,4.6 .2,3.8 .2,12.4 .1-10.1 .1-5.2 .4-4.2 .4-2.4 .5-1.2 .3-.3 .2,0 .5,.9 .4,1.8 .4,3 .2,2.9 .2,9.7 .2-9.4 .3-5 .4-2.2 .3-1.2 .4-.7 .3,0 .1,.1 .5,1 .3,1.6 .4,5 .2,6 .1,12.4 .1-13.3 .2-6.9 .3-2.8 .4-2.3 .4-1 .3-.1 .2,.2 .4,.7 .3,1.6 .4,4.7 .2,5.6 .1,16.4 .1-16 .1-5.9 .5-5.4 .4-1.4 .4-.7 .3,.1 .1,.2 .4,1 .5,4 .2,6.4 .1,9.2 .2-11.2 .1-3.9 .5-4.1 .5-1.7 .3-.2 .3,.5 .6,2.4 .3,4.6 .2,7.7 .3-9.1 .3-3.8 .4-1.7 .3-.7 .2-.1 .2,.1 .3,.8 .3,2 .4,4.9 .1,9.8 .4-12.1 .3-3.5 .5-2 .2-.2 .2,.1 .1,.2 .5,2.3 .4,4.4 .1,7.3 .4-8.5 .3-3.8 .5-2 .2-.1 .2,0 .3,.9 .5,4.3 .4,11.3 .1-9.3 .4-4.8 .3-1.9 .2-.5 .1-.2 .2,.1 .3,.8 .2,.9 .4,3.7 .3,7.9 .3-9.7 .5-3.4 .2-.3 .2-.1 .1,.1 .4,1.2 .3,3.2 .2,3.7 .2,13 .1-13.8 .4-5.2 .1-1.2 .4-1.1 .1-.1 .2,.2 .2,.4 .3,2.2 .5,10.6 .2-7.3 .3-4.4 .2-1 .3-.8 .2,0 .2,.3 .2,.7 .3,3.1 .2,3.7 .1,12.7 .2-13.5 .2-3.3 .3-2.9 .2-.7 .1-.3 .2,.1 .4,1.1 .1,1.2 .5,11.4 .4-10.7 .1-1.6 .4-1.5 .1-.1 .2,.2 .2,.5 .3,2.8 .2,3.2 .2,13.7 .1-12.9 .2-3.7 .3-3.1 .2-.6 .2-.3 .1,.2 .4,1.5 .3,5.3 .2,20.1 .2-20.9 .3-4.7 .3-1.5 .2,0 .2,.5 .1,1.4 .6,7.6 .1-4.1 .2-1 .2-3.1 .3-1.4 .2-.1 .1,.2 .2,1.1 .2,6.1 .1,.4 .2,1.2 .2,4.5 .2-10.7 .1-2 .2,0 .2-.6 .1,.5 .2-.7 .5,5.6 .2,0 .1,1.2 .2-6 .4-.8 .1-.2 .4,.5 .3,16.8 .2-15.3 .1,1.2 .4-2.7 .1-.4 .2-.1 .2,.2 .3,13.1 .2-11.3 .2,.1 .3,4.1 .2-6.2 .1,.1 .2,1.2 .2-.8 .3,3.8 .2-.9 .2,26.7 .3-30.2 .2-.1 .1,.9 .2-.5 .2,1.8 .1-1.3 .2,.3 .3,8 .2-8.9 .2,3.6 .1-3.7 .2,1.8 .2-.8 .2,23.3 .1-22.7 .2,.9 .2,4.8 .1-2.9 .2,10 .2-10.2 .1-2.6 .2,1.3 .2,3.9 .3-6.4 .4,12.8 .1,1.5 .2-12.6 .2-.2 .1,16.9 .2-.6 .2-15.2 .1-3.1 .2,10.7 .2-10.3 .1-.5 .4,1.7 .2,23.1 .1-20.5 .2-3 .2,.2 .1-1.7 .2,10.4 .2-9.3 .1-1.1 .2,.5 .3,9 .2-7.2 .2-2.4 .2,.9 .1-.5 .4,1.6 .1-.9 .2,11.4 .2-12.5 .1,7.6 .2-1.6 .2-5.4 .3,5.1 .4-4.9 .1,5.8 .2-5.6 .5,8.2 .2-8.7 .1,5.2 .2,16.9 .2-22.3 .1,1.6 .2,13.3 .4-15.2 .1,7.5 .4-7.3 .1,.4 .2,1.4 .2,16 .1-10.2 .5-6.6 .2,17.6 .4-16.8 .1,.3 .2-1.7 .2,6.3 .1-6.4 .2,.7 .2-.9 .1-.1 .2,.8 .2,12.9 .1-12.6 .2,2.6 .2-.2 .2,13.8 .1-17.2 .4,3.9 .1,20.1 .2-23.5 .2,.1 .1,.7 .2-1.4 .2,.4 .1,15.9 .2-1.2 .2-14.9 .2,4.8 .1-3.8 .2-1.3 .2,1.2 .3,11.9 .2-11.5 .1,1.2 .2-2.6 .2-.1 .1,4.1 .2,.2 .2-4.3 .2,30.5 .1-27 .2,6.3 .2-9.7 .1,2.3 .2,.7 .2,5.2 .1-8 .2,1.4 .2,0 .1-1.6 .2,.7 .2-.7 .3,5.1 .4-4.2 .1,.9 .2,13.5 .2-13.9 .3-1.2 .2,2 .1-1.9 .2,10.6 .2-8.4 .2-2.4 .3,.5 .2-.3 .1,.3 .2,11.6 .3-12.1 .2,1 .2,5.1 .1-5.7 .2,24.8 .2-19.1 .2-5.2 .1,4 .2-4.7 .2,.3 .1,3.6 .2-1.8 .2,3.3 .1-5.4 .4,2 .1-1.8 .6,4.7 .1-1.1 .2-3.3 .2,3.9 .3-3.9 .2,4.9 .1-4.4 .2,2.7 .2-1.8 .1,11.2 .2-12.6 .2,1.4 .2-.1 .1,4.4 .2-.1 .2,7 .1-2.6 .2-10.1 .2,1.5 .1-1.6 .2,20.8 .2-20.2 .1,7.9 .4-8.5 .3,4.7 .2-4.3 .2,1.7 .1-.9 .2,15.3 .2-9.6 .3-6.6 .2,19.4 .1-17.4 .2,4 .3-6 .2,0 .2,.1 .2,3.3 .3-2.5 .2,5.5 .1-6.4 .2,.3 .2,2 .1,9.1 .2-10.9 .2,.4 .1,2.9 .2,6.4 .2-10.1 .2,2.7 .3-2 .2,1.4 .1,16.3 .2-15.8 .2-2.4 .1,5.4 .2-.5 .2,22.8 .1-26.2 .2-.7 .2,1.1 .2-1.7 .1,16.1 .2-12.2 .2,4.8 .1-7 .4,20.6 .1-22.1 .2,13.1 .2-13.2 .1,2.1 .2,15.2 .2-13.3 .2,7.7 .1-10.4 .2,7.9 .2-5 .1-1 .2,9.7 .2-10.1 .1-1.8 .2,1.9 .2-2.2 .1,0 .2,9.5 .2-7.4 .2-1.2 .1-.3 .2,.7 .2-1.4 .3,1.4 .2,11.8 .1-10.2 .2-2.1 .2,2 .1,.2 .2,1.7 .2-3.8 .2,.8 .1-1.5 .2,4.5 .2-.9 .1,9.1 .2-12.3 .2,6.2 .1-6.3 .1,4.5 .1,18.1 .1-16.8 .1,12.5 .1-16.7 0,38.6 .2-38.7 .1,2.1 .1-1.1 .1,7.8 .1-1.4 0,11.1 .2-18.1 .1,27.6 .2-28.8 0,24.2 .2-23.6 .2,1.6 .1,3.2 .1-4.6 0-1 .1,.1 .1,11.4 .1-3.7 .1,15.4 .1-23.1 .1,5 .1-4.9 .1,15.7 .1-15.5 .2,26.5 .2-26.5 .1,3.1 .1-2 .1,1.5 0-1.7 .2,3.2 .2-3.5 .1,.2 .1,13 0-6 .1,10.1 .3-17 .1,3.6 .2-4.1 .1,8.8 .1-7.5 .1,16.9 .1-14 .1,5.7 .1-7.7 .1,.9 .1-2.3 .1-.5 .1,9.1 .3-9 .2,9.7 0-8.5 .1,3.9 .1-2.3 .1,41.8 .1-44 .1,5 .1-4.5 .2,2.2 .1-2.9 .1,9.3 .1-4.8 0,2.5 .3-6.5 .1,1.9 .1-.5 0,22.9 .1-21.5 .1-1.8 .1,10.1 .1-6.3 .1,2.5 .1-7.3 .1,6.3 .2-6 .1-.1 .1,25.5 .1-25.5 .2,16 .1-14.1 .1,19.9 .1-21.7 .1,2 .1,16.1 .1-16.1 .1,3.6 .1-2.4 0,3.9 .1-6.6 .2,2.8 .1-2.5 .1,11.2 .1-10.2 0,4.9 .1-4.8 .1,1.3 .1-2.5 .2,2 .1-1.9 .1,19.4 .1-19 .2,3.7 .1-4.1 0,6.5 .3-6.3 .1,24.7 .1-24.6 .1,1.9 .1,21.4 .2-22.9 .1,3.8 .1-1.8 0,27.9 .1-28.2 .1,.8 .1-2.5 .2,1.9 0,4.8 .1-6.4 .1,0 .1,6.6 .2-6.7 .1,1.8 .1-.6 .2,13.2 .2-13.9 .1,9.4 .1-7.6 .1,.7 .1-1.9 .2,12.8 .1-12.7 .1,8.3 .1-4.5 .1,13.4 .1-17.4 0,1.1 .1-1.1 .2,7.1 .1,.8 .1-1.9 .1,16.2 .2-18.2 .1,3 .1-5.9 .1,11.9 .1-12.7 .2,3.9 .1-1.8 .2,6.6 .1-8.5 .1,16.3 .1-16.4 .1,.1 .3,1.2 .1,33.4 .1-27.5 .2-6.8 .2,.4 .1,1 .1,5.2 .1-5 0,1.9 .1-3 .1,.5 .1,8.3 .2-8.6 .1,9.5 .1-9.6 .2,22.9 .1-21 .1,.3 .1,9.4 .1-11.2 .2,15.7 .2-15.8 .1,12.5 .2-12 .2,5.9 0-4.9 .1,2.4 .2-3.2 .1,6.6 .1-6.9 .1,23.4 .3-22.2 .1-.3 .1,5.5 0-5.9 .1,19.1 .2-15.3 .2,12.7 .1-16.3 0,9.1 .1-9.1 .1,6 .2-5.9 .1,1 0-.5 .2,28.9 .1-29.2 .1,8.2 .2-8.1 0,27 .1-19.5 .2-7.3 .1,3.2 .1-1.4 0,.8 .1,5.6 .1-6.9 .1-.9 .1,.3 .2,16.6 .1-13.6 .1,16.8 .1-19.1 .1,8.3 .1-7.2 0,5 .1-6 .2,4 .1-4.5 .1,1.9 0-1.8 .1,4.1 .1-3.9 .2,1.6 .1-1.2 .1,.1 0-.3 .2,.4 .1,3.3 .2-3.2 .1,10.5 .2-10.2 .3,21.5 0-16.5 .1,15.8 .1-20 .1,7.5 .1-6.8 .1,15.9 .1-14.5 .1,41.1 .2-43.7 .1,4.5 .1-4.3 .2,.8 .1-.4 .1,.1 .1,2.3 0-2.1 .1,5.3 .1-2.6 .1,14.3 .1-14.4 .1,20.8 .2-22 .2,9.7 .1-9.6 .1,3.5 0-4.6 .1,2.3 .1-1 .1,7.6 .1-8.4 .1,.4 .1,9.9 .3-8.2 .1,15.8 .1-16.5 0,4.2 .1-2.8 .1,4.5 .1-6.2 .1,16.8 .1-17.1 .1-.2 0,5.8 .1-5.7 .2,18.2 .1-16.2 .1,20.1 .2-19.6 .1,28.1 .1-22.9 .1,2.3 .1-8.2 0,3.2 .1-1.1 .1,1 .1,14.7 .1-16.3 .1,6.4 0-8.6 .2,.8 .2,17.8 .1-12.4 .1,0 0-5.9 .1,.8 .1-.5 .1,3.3 .1-2.5 .1-.4 .1,22.4 .1-22.5 .1,26.1 .1-25.8 .2,15.8 .2-15.5 .1,0 .1,12.4 .1-12.4 .1,12.3 .1-10.9 .2,.4 .1-1.4 .1,4.2 0-3.8 .2,4.1 .1-3.9 .1,0 .1,6.3 0-5.5 .1,.6 .2-1.3 .1,1.9 .1-1.7 .1,15.9 0-15.2 .1,3.9 .1-3.5 .1,5.4 .1-5.7 .1,2.3 .1-2.5 .2,56.7 .1-55.3 .1,6.7 .1-6.8 0,2.8 .1-3.3 .1,25.5 .1-24.6 .1,0 .1,.6 0,10.4 .1-11.8 .1,15.7 .1-13.9 .1,24.2 .1-19.2 .1-6.3 .3,29.2 .1-28.4 .1-.5 0,5.2 .4-4.1 .1,15.4 .1-15.7 0,1.6 .1-1.5 .1,3.9 .1-3.6 .2,18 0-16.7 .1-.1 .1,8.7 .3-8.7 .1,2.6 .1-3 .1,11.3 .1-11.4 .1,7.6 .1-5.3 0,.1 .1,10.4 .1-11.9 .2,5.1 .1,.1 .1-4.7 0,4.6 .1-4.4 .1,.2 .1-.8 .1,3.5 .1-2.3 .1,15.8 .1-16.6 .1,16.8 .2-15.8 .1,14 0-14.4 .1,2.7 .1-2.6 .1,9.8 .2-9.6 .1,20.7 .2-19.9 .1-.4 .1,2.3 .1-1.1 0,.3 .1,5.1 .2-6 .2,7.5 0-6.6 .1,4.9 .1-5.5 .1,0 .2,20 .1-16.5 0,4.6 .1,20 .2-27.5 .1,4.1 .1-3.7 .1,.8 .1,4.8 .1-2.3 .1,7.8 .1-9.8 .1-.8 0,.2 .1,16.6 .2-15.8 .1-.2 .2,4 .1-4.1 .1,0 .1,23.8 .1-18.5 .1-3.2 .1,8.2 .2-9.6 .2,33.4 .2-33.1 .1,3.4 .2-.8 .1,6.9 0-9 .1,6.8 .1-4.3 .1-.1 .1-2.1 .1,15.3 .2-14.8 .1,5.9 .1-5.1 .1,3.1 .1-3.4 .1,2.9 .1-1.6 .1,24.1 .2-24.6 0-.1 .2,1.8 .1,11.1 .1-10.6 .1,19.9 .1-20.3 0,2.9 .1,.6 .1-.5 .1,4.1 .1-7.6 .1,.9 0,17.4 .1-18.6 .1,24.6 .2-24.2 .1,16.3 .1-15.1 0,2.4 .1-3.3 .1,4.9 .2-4.2 .1,10.8 0-11.1 .1,3.1 .1-2.9 .1,4.5 .1-2.6 .1,0 .1,7.4 0-4.1 .1,2.3 .1-5.4 .2-1.2 .1,5.8 0-4.1 .2,13.5 .1-14.6 .1,15.8 .1-15.6 .1,4.1 0-1.4 .2,3.8 .1,10.8 .1-10.5 .1,5.6 0-8.4 .2,6.4 .1-9 .2,19.8 .1-13.7 .1-4.1 .2,2.5 .2,21.2 0-23 .1-1.5 .2-.4 .1,13.6 .2-11.5 0,9.2 .1-1.8 .2,23.8 .2-32.3 0,14.6 .2-14.2 .1,7 .1-6.8 .2,13.3 0-12.8 .1,14.5 .1-11.4 .1,32 .1-33.4 .1,2.4 .1-2.2 .1,35.9 .1-35.6 .1-.7 .1,28.5 .1-29.3 .1,5.4 .1-5.1 .1,5.1 .1-3.7 .1,10.4 0-6.5 .1,21.2 .1-25.1 .1,20.8 .1-14.4 .1,21.5 .1-28.3 .1,1.5 .1,0 .1,34.2 .1-35.1 .1,14.1 .1-14 .1,12.1 .1-11.1 .1,0 .1,6.2 .1-5.8 0,13.4 .1-13.6 .2,6.8 .2-7.1 0,7.1 .1-6.9 .1,4.7 .1-4.3 .1,0 .1,7.2 0-7.3 .1,4.3 .1-3.3 .2-.6 .1,4.5 .1-3.4 0,1.8 .1-1.3 .1,3.1 .1-3.3 .1,8.5 .1-8.5 0,.5 .3,19.8 .1-20.2 .1,4.6 .3-4.6 .2,37.4 .1-28.6 .1-8.6 .3,.4 .1,4.5 .1-3.8 0,25.5 .1-20.8 .1,7.7 .1-11.3 .1-.8 .1,.4 0,6.6 .1-7 .2,9.5 .2-9.4 .1,.2 0,10.2 .1-9.8 .1,2.4 .1-2.6 .1,7.2 .1-3.6 0,13.6 .2-15.4 .2-1.1 .1,32.6 .1-32.1 0,3.6 .1-3.1 .2,40.5 .1-40.4 .1,3.1 .1,24.1 .1-24.7 .2,13.3 .1-15.8 .1,14.8 0-13.5 .1,2 .1,16 .3-18.1 0,6.9 .1-7.5 .2,2.3 .1,8.7 .2-10.2 0,.7 .1-1 .2,2.1 .1,6.7 .1-4.9 .1,16.9 .1-19.6 .1-.5 .1,6.4 .1-6.3 .1,7.9 0-7.7 .1,1.4 .1-.9 .2,29 .1-28.3 .1,9 .1-6.8 .2,3.2 .1-5.2 .1,5.6 0-5.8 .1,4.2 .1-4.6 .1,27.2 .1-18.5 .1,21.7 0-30.4 .1,11.9 .2-10.9 .1-.6 .2,2 0-2 .1,7.2 .3-6.2 .1,9.2 .1-8.7 .1-1.1 .2-.2 .1,34 .1-34 .1,5.2 .1,13.7 .1-18.5 .1,1.4 .1-1.7 .2,6 .1-5.7 .2,15.5 .1-14.6 0-1 .1,9.5 .1-9.5 .1,6.6 .1-1.9 .1,12.9 .1-17.1 .1,5.6 .2-6.5 .1,19.4 .2-19.2 .1,6.3 .1-5.6 .2,2.2 0,9.7 .1-12.9 .1,24.3 .2-23.8 .1,1.9 .1-1.5 0,25.6 .2-26.1 .2,10.7 .1-3.8 .1,3.9 .1-10.2 .1-1.2 .1,7.3 .1-7.4 .1,9.1 .2-9.1 .2,22.1 .1-21.9 .1,17.4 .1-17.8 .2,2.4 .1-2.3 .1,2.6 .2,.4 .1-2.5 .1,13.2 .1-13.9 .2,12.5 .1-11.9 .3-.6 145.8,11.2 154.9,11.3" stroke="#008000" stroke-dasharray="2.083 3.438" stroke-width="2.083" fill="none"/><path d="M352.8,375.7l.8-.1 .9,0 .8-.1 .9,0 .8,0 .8,0 .9-.1 .8,0 .9,0 .8,0 .9,0 .8,0 .9,0 .8,0 .9,0 .8,.1 .9,0 .8,0 .8,.1 .9,0 .8,.1 .9,0 .8,.1 .9,0 .8,.1 .9,0 .8,.1 .9,.1 .8,.1 .9,0 .8,.1 .8,.1 .9,.1 .8,.1 .9,.1 .8,.2 .9,.2 .8,.2 .9,.2 .8,.2 .9,.2 .8,.3 .9,.2 .8,.3 .8,.3 .9,.2 .8,.3 .9,.3 .8,.3 .9,.3 .8,.4 .9,.4 .8,.3 .9,.4 .8,.4 .8,.4 .9,.5 .8,.4 .9,.4 .8,.5 .9,.4 .8,.4 .9,.5 .8,.4 .9,.4 .8,.5 .9,.5 .8,.4 .8,.5 .9,.5 .8,.6 .9,.5 .8,.6 .9,.6 .8,.6 .9,.7 .8,.7 .9,.8 .8,.8 .9,.8 .8,.9 .8,.9 .9,1 .8,1 .9,1 .8,1.1 .9,1 .8,1.1 .9,1.1 .8,1 .9,1.1 .8,1.2 .9,1.2 .8,1.2 .8,1.2 .9,1.3 .8,1.3 .9,1.3 .8,1.4 .9,1.4 .8,1.4 .9,1.5 .8,1.6 .9,1.7 .8,1.7 .8,1.8 .9,1.8 .8,1.7 .9,.9 .8,.1 .9,0 .8-.1 .9-.2 .8-.2 .9-.1 .8-.2 .9,0 0,1-.9,25.6-.8-4.8-.9,3.6-.8-4.7-.9-.4-.8,2.5-.9-.7-.8,4.6-.9-6-.8,2.1-.9-2.4-.8,7.2-.8-2.8-.9-.9-.8,1.8-.9-5.7-.8-3.8-.9,5.4-.8,2.3-.9-10.8-.8,6.3-.9-4.8-.8-3.5-.8,5.8-.9-3-.8-5.5-.9,.7-.8,4.1-.9,3.4-.8-9.7-.9,2.6-.8-4.6-.9-5-.8,6.1-.9,1.7-.8-4.5-.8,4.6-.9-6.4-.8-3.9-.9,5.6-.8,.2-.9-3-.8,3.4-.9-12.5-.8-.9-.9,8.2-.8-9.7-.9,4.6-.8-5.5-.8-1.7-.9,3.3-.8-4.5-.9,3-.8,.9-.9-6.1-.8,7.6-.9-2.1-.8-5.5-.9,5.1-.8-5-.9-3.9-.8,4.7-.8-4-.9,2.1-.8-1.3-.9-7-.8,4.4-.9,3-.8-5.9-.9-1.5-.8,.3-.9-1.9-.8-3.7-.8,4.8-.9,2.1-.8-4.5-.9,3-.8-7.1-.9,1.5-.8,3.9-.9-1.3-.8-6.3-.9,2.9-.8-2.5-.9,2.3-.8-1.1-.8,.1-.9-5.1-.8-1.1-.9,2.3-.8-3.1-.9,1.6-.8,.9-.9-1.5-.8-2.4-.9-1-.8,.4-.9,1.4-.8-3.4-.8,1.9-.9-2.8-.8,1.4-.9-1.9-.8-.3-.9,.9-.8-1.8-.9-.1-.8-1.7-.9,1-.8-1.4-.9-.9-.8-.3-.8,.3-.9-1.6-.8-.6-.9,.2-.8-1z" fill="#008000"/><path d="M75.8,424l4.1-2.9 4.9-2.9 5.2-2.6 5.5-2.3 5.3-1.7 5-1.3 4.9-.7 4.6-.3 3.6,.3 3.1,.6 2.5,1.1 1.1,.7 1,.8 1.6,1.9 1.1,2.1 .7,2.5 .9,4.5 .2,.6 .9-5.4 .8-3.4 1.2-2.8 1.7-2.6 1.2-1.3 1.2-1.2 1.5-1 1.5-.9 1.6-.7 1.7-.5 1.7-.4 1.6-.2 2.5,.2 2.2,.7 1,.6 .8,.7 1.5,1.7 1,2 .7,2.6 .5,3 .6,5.6 .5-5.5 .6-3.3 .8-3.2 1.1-2.5 1.6-2.3 2-1.8 1.1-.6 1.1-.6 1.1-.3 1.2-.2 1.9,.2 .8,.3 .9,.5 1.3,1.3 1.1,2 .8,2.4 .5,3 .3,3.7 .3,5.2 .4-7 .3-3.2 .6-3.2 .8-2.5 1.2-2.4 1.5-1.9 .9-.7 .8-.5 .9-.4 .9-.1 .7,0 .8,.2 .7,.4 .7,.5 1.1,1.5 .8,2.1 .6,2.5 .4,3.3 .4,9.8 .5-10.4 .5-3.3 .6-2.7 .9-2.5 1.2-2 1.3-1.2 .8-.4 .8-.1 .6,0 .6,.3 .6,.3 .6,.6 .9,1.6 .8,2.3 .4,2.2 .4,3.1 .4,11.1 .3-10.7 .4-3.5 .5-2.9 .7-2.5 1-1.9 1.1-1.3 .6-.3 .7-.2 .6,.1 .5,.2 1,1 .9,1.7 .6,2.1 .4,2.7 .2,2.8 .4,11.9 .3-12 .3-3 .4-2.8 .6-2.4 .8-2 1-1.3 .6-.4 .5-.1 .6,0 .5,.3 .8,1 .8,1.8 .5,2.1 .3,2.5 .3,3.4 .2,12.2 .3-11.7 .2-3.8 .4-2.8 .6-2.7 .7-2 1-1.4 .4-.3 .5-.1 .5,.1 .4,.3 .8,1.1 .6,1.7 .5,2.6 .3,3.3 .2,3.4 .2,11.5 .2-12.9 .5-6 .5-2.7 .7-2 .8-1.3 .4-.3 .4-.2 .4,.1 .5,.3 .6,1 .6,1.8 .4,2.4 .5,5.4 .2,13.6 .1-10.4 .3-7.1 .4-2.9 .4-2.1 .5-1.7 .7-1.2 .4-.4 .4-.1 .5,.1 .3,.3 .7,1.3 .5,2 .3,2.4 .3,3.2 .2,11.6 .2-8.1 .3-5.4 .5-4.3 .7-2.9 .8-1.2 .4-.2 .4,.1 .4,.4 .4,.6 .6,2.1 .3,2.2 .3,3 .3,12.4 .2-10.1 .2-4.4 .4-2.9 .5-2.4 .6-1.5 .3-.4 .4-.2 .4,0 .3,.4 .4,.8 .5,1.6 .5,3.9 .2,5.1 .2,9.6 .1-7.9 .2-6.4 .4-3.5 .6-2.9 .6-1.5 .5-.3 .3,.1 .3,.4 .4,.7 .5,2 .3,2.7 .3,4.3 .1,10.6 .3-11.6 .3-4.7 .7-3.8 .5-1.2 .5-.4 .5,.3 .5,1.2 .5,2.1 .2,2.3 .4,8.5 0,11.6 .1-12.2 .3-7.1 .2-2.8 .4-2.2 .4-1.5 .4-.8 .3-.2 .2,0 .5,.7 .5,1.5 .3,2.3 .3,5.2 .2,11.7 .2-10.6 .2-5.2 .4-3.6 .4-1.4 .3-.9 .3-.3 .2-.1 .5,.3 .4,1.2 .3,1.8 .4,5.4 .3,8.9 .2-8.8 .1-3.1 .4-3.2 .4-2.1 .4-.9 .3-.2 .2,.1 .5,1 .5,2.2 .3,3.9 .2,13.3 .3-12.6 .3-4.5 .5-2.5 .4-1.2 .2-.2 .3,0 .4,.8 .4,1.9 .5,5.3 .2,9.9 .2-9.5 .3-5.1 .3-1.7 .3-1.4 .4-.7 .2-.1 .2,.2 .3,.7 .4,1.6 .4,4.8 .2,16.9 .1-11.9 .2-5.4 .3-4.2 .5-2.5 .4-.5 .2-.1 .2,.2 .3,1 .4,2 .3,5.1 .2,10.7 .3-13.3 .3-3.6 .4-1.6 .3-.8 .2-.1 .2,.1 .3,.7 .3,1.8 .4,4.1 .1,5.8 .2-.3 .2-5.6 .3-4.2 .5-2.3 .4-.4 .3,.4 .5,2.6 .4,5.3 .1,15.1 .2-14.6 .2-3.7 .5-4.3 .1-.6 .4-.5 .3,.4 .2,.5 .5,4.2 .2,3.7 .1,12.1 .2-13 .3-5.2 .5-2.6 .2-.3 .2,0 .3,.6 .5,3.7 .2,3.3 .2,11.8 .3-14.6 .3-3.3 .4-1.4 .2-.3 .1,0 .2,.2 .3,1.4 .2,1.4 .5,11.4 .2-7.8 .3-4.6 .2-1.1 .3-1 .2-.1 .2,.2 .1,.4 .4,2.1 .1,2.2 .4,10.3 .1-8.6 .4-4.7 .3-1.7 .2-.3 .2-.1 .1,.3 .4,1.5 .1,1.6 .4,10.5 .3-9.1 .2-2.2 .3-2.2 .2-.4 .2-.2 .1,.2 .4,1.5 .3,4.2 .2,6.9 .5-10.2 .3-2.2 .2-.4 .2-.1 .3,.9 .2,1.1 .3,5.4 .2,16.6 .1-17 .4-5.2 .2-1.1 .3-.9 .2,.2 .1,.5 .4,2.6 .1,3.1 .2,10.4 .3-12.8 .2-2 .4-1.8 .1-.3 .2,.2 .3,2 .4,6.1 .1,6.4 .2-10.8 .5-3.6 .2-.4 .2,.5 .1-.2 .5,6.7 .4-2.2 .3-4.2 .3-.6 .2,.6 .4,3.5 .1-1.7 .2,17.2 .2-14.2 .1-.5 .2-4.6 .2,.3 .3-.8 .2,.1 .1,2 .2-1 .4,21 .1-13.4 .2-1.7 .2-7.1 .1,.1 .2,.6 .2-.7 .1,4.6 .2-.6 .2,2.9 .1,6.3 .2-9.6 .4-3.6 .1-.1 .2,.2 .2,1.9 .1-1.9 .2,.3 .2,1.4 .1,8.1 .2-9.7 .2,11 .1-10.8 .2,1.2 .2-.1 .2,1.2 .1-1.9 .2,14.1 .2-13.3 .1,1.9 .2,12.5 .2-16.1 .1,3.9 .2-3.6 .2,2.2 .1,.3 .2,9.1 .2-7.7 .1-1.8 .2,2.8 .2-4.9 .2,4.8 .1-5.4 .2,.2 .2,6 .1-6.2 .2,5.6 .2-4.4 .1,10.1 .2-1.3 .2-10.1 .1,3.7 .2-2.8 .2,.3 .2-.5 .1,.8 .2-1.4 .2,5.3 .1-4.3 .2,1.1 .2-2.2 .1,.8 .2,3.1 .2-2.3 .1-.3 .2,.1 .2,2.4 .2-3.4 .1,2.1 .4-2.5 .1,.2 .2,3.9 .2-.3 .1-2.5 .2,4 .2-5.5 .5-.1 .2,.2 .3,9.4 .2-7.8 .1,4.1 .2-5 .2-.9 .1,0 .4,3.8 .1-3.5 .2,13.9 .2-7.3 .2-1.2 .1-5.5 .2-.1 .2,14.6 .1-13.1 .4,1.4 .1,11 .2-9.4 .2-3.4 .1,11.2 .2-11.9 .2,1 .2,6.4 .1-4.4 .2-.8 .2,1.5 .1-3.5 .2,.6 .3-1.5 .2,1.5 .2,6.2 .1-7.6 .2,1.7 .2,13.5 .2-13.1 .1,7.4 .2-7.5 .2-2.1 .1,.5 .2-.6 .2,6.2 .1-6.1 .5,1.8 .2,1.7 .2-3.8 .2,6.2 .3-6.1 .2,1 .1,14.9 .7-16 .2,0 .1,21.4 .2-21.5 .2,.1 .2,2.4 .1-1.2 .4,2.8 .1-3.9 .2-.3 .2,0 .1,6.3 .4-1.1 .1,.6 .2-4.9 .2-.2 .2,.5 .1,2.1 .2,6.2 .2-6.3 .1,7.8 .4-10.4 .1,6.8 .2-1 .2,7.1 .5-13.1 .2,2.4 .1-2.6 .2-.4 .2,3.9 .1-2.5 .2,2.4 .2,14.4 .3-17.7 .2,2 .1,5.9 .2-8.5 .4,4.8 .3,2.7 .3-7.5 .2,.6 .2,.1 .3-.8 .2,4.1 .1-4.2 .2,0 .2,4.7 .2,21.1 .1-20.1 .2-5.1 .2,4 .1,11.5 .2-16.2 .2,13.1 .1-10.6 .4-2 .1,.1 .2,1.7 .2-1 .2,1.9 .1,6.4 .2-6.7 .2,4.5 .1-7.5 .2,.4 .2,1.4 .1-1.8 .4,1.6 .1-1.5 .2,14.7 .2-8.6 .2,8 .1-12.7 .2,1.3 .2-2.5 .1,8.3 .2-6.6 .2,1.5 .1-.7 .2-2.7 .2-.2 .1,5.9 .2-5.2 .2-.7 .3,.7 .2,8.5 .2-3.7 .1,3.2 .2-8.3 .2,4.9 .1-4.9 .2,2.8 .3-2.8 .2,3 .2,.8 .1-4.3 .2,0 .2,9.8 .2-8.8 .1,6.5 .2-5.5 .2-1.1 .1,.3 .2-1.3 .3,6.9 .2-5.3 .2,.4 .3-2 .2,1.5 .2,5.2 .1-5.7 .2-.3 .2,1 .1,2.2 .2-3.8 .2,5 .1-4.6 .2-.4 .2,1 .1-1.1 .2,0 .4,7.6 .1-6.9 .2,4.7 .2-5.4 .1,.5 .2-.4 .2,7.7 .1-.7 .2-.1 .3-6.5 .4,4.9 .2-.9 .1-3.5 .2,6 .2-3.2 .1,3.9 .2-3.5 .2,2.7 .1-6 .2-.8 .3,.9 .2-.8 .2,.2 .2,0 .1,6.6 .2,.7 .2-6.8 .1,2.2 .2-3 .2,1 .1-.7 .2,6.8 .2-4.2 .3,3 .2-5.8 .2,.3 .1-.3 .4,3.2 .1-3.1 .2,4.4 .2-3 .1,5.1 .1-6.5 .3,1.9 .1-1.3 0,1.6 .1-2.2 .2,1.4 .1-1 .1,1.1 .1-.5 0,.6 .2,1.8 .1-2.9 .1,1.2 .1-1.2 .1-.4 .4,3.7 .1-2.6 .1,3.6 .2-4.7 .1,6.9 .1-6.3 .1,6 .1-6.4 .1-.1 .3,4.9 0-4.8 .1-.1 .1,1.8 .2-1.8 .1,3.1 0-3.1 .2,6.7 .1-6.5 .1,2.9 .2-2.9 0,1.1 .2-1.2 .1,.5 .2-.5 0,1.2 .1-.5 .1,.4 .1-1.1 .2,.2 .2,6.5 .2-4.4 .1,4.1 .1-6.3 .1,5.3 .1-1.7 .1,1.4 .1-4.1 .1-.7 .1,.9 0-.9 .1,6.2 .1-6.3 .3,1.9 0,3 .1-1.1 .1,2.7 .1-5 .1,.4 .1-1 .1,.8 .1,3.8 .1-4.2 .1-.1 .1,2.6 .1-3.7 .2,6.3 .2-6.1 .1,5.5 .1-.3 0,.1 .1-4.9 .1,3.8 .2-.8 .1-2.9 .1,4 .1-4.2 .1-.2 .1,3.1 .1-3.2 .1,6.2 .1-6.2 .3,5.4 .1-4.5 .1,5.5 .1-6.4 .1,1.7 .1-1.6 .2,5.1 .1-5 .1,.2 .1-.3 .2,5.1 .2-4.9 .1,5 .1-4.9 .1,2.6 .1-1.8 .1,3.1 .2-3.4 .2,4.9 .3-5.3 .1,.7 .1-.1 .1,4.8 0-4.4 .1,4.3 .1-5.2 .1,3.2 .1,.7 .1-2.2 0,2.5 .2-4.1 .1,5.2 .2-5.2 .1,5.5 .2-4.8 .1,5.5 .1-6 .1,5.4 0-5.4 .1,4.3 .1-4.2 .1,.4 .1,5.5 .2-.2 .1-5.6 .1,.7 .2-.6 .1,5.9 0-4.8 .1,4.8 .1-4.7 .1,.2 .1-1.1 .1,5.8 .1-4.4 .1,.2 .1-.5 .1,4 .1-4.4 .1,5.2 0-4.4 .1,2.2 .2-3.7 .1,4.3 .1-2.9 .1,2.9 .1-4.1 .3,1.3 .1-.8 0,1.2 .2-1.3 .1,4.3 .1-4.2 .1,5.6 .1-5.7 0,.1 .1,1.7 .1,0 .1-1.6 .1,5.4 .1-5.3 0,1.4 .2-1.6 .1,3.4 .1-3.3 .1,4.3 .1-4.3 0,2.3 .1-.4 .1,.5 .2-1.9 .1,3.6 .1-3.6 .1,2.3 .1-2.6 .3,4.9 .2-4.5 .1,3.5 .2-1.3 .1,2.7 .1-4.4 .1,.1 .2,4.7 .1-5.1 .1,5.6 .2-4.1 .1-.9 .1,1 .1-1.3 .1,3 .1-1.5 .2,1.6 .1-2.9 0,.5 .1,5 .1-5.5 .1,0 .1,3.2 .1-1.6 0,.4 .1-1.2 .1,3.9 .1-4.6 .1,5 .1-2 .1,1.9 0-.4 .1-4.3 .1,1.7 .1-.9 .1,.3 .1,4.6 .3-5 .2,.8 0,4.5 .1-5.4 .2,3 .1-2.9 .1,3.4 .1-2.3 0,2.9 .1-3.8 .1,4.3 .2-4.3 .1,.9 0-.9 .1,5.5 .1-5.4 .1,2.8 .2-2.5 .1,4.6 .1-4.2 .1,1.1 .1-1.4 .2,0 .1,3.6 .2-3.6 .2,4.8 .1-4.6 0,5.5 .1-5.5 .2,.3 .2,1 0-1 .1,.8 .1-.7 .1,0 .3,1.1 0-.7 .1,3.1 .1-2.7 .2,.1 .1,4.7 0-4.1 .1-.9 .1,.2 .1,5.1 .2-5.3 .1,1 0-.4 .1,.5 .1-1 .3,3.7 .1-3.5 .1,4.5 .1-4.4 .1,5.2 .2-4.5 .1,4.8 .1-4.3 .1-.9 .2,5.2 .1-4.9 .1,5.3 .1-4.6 .3,.6 0,2.3 .2,.5 .1-3.8 .2,5.1 0-.2 .1,.6 .1-5.3 .1,1.9 .1-1.7 .1,2.7 .1-2.6 0,5 .1-4.7 .2,3.5 .2-3.6 0,5.1 .1-4.8 .2,4 .2-4.1 .1,2 0-.2 .1,.5 .1-1.6 .1,.2 .2,4.7 0-5.2 .1,5 .3-4.3 .1,.8 .1-1.3 .1,4.8 .1-2 .2,.4 .1-2.9 0,4.4 .1-4.2 .1,.2 .1-.1 .1,2.1 .1-.9 .1,3.6 0-2.3 .1,1.9 .1-3.1 .1,0 .1,4.1 .1-4.4 .1,.1 .1-.7 .2,5.3 .2-5 0-.1 .1,2.5 .1-2.4 .2,3.2 .1-2.8 .1,3.7 .2-3.6 .1,2.5 .1-2.2 .1,1.5 0-1.8 .1,.3 .1,3 .1-2 .1,4.1 .1-5.1 .2,.1 .1,2.5 .3-2.3 0,5.2 .2-1.1 .1-2.8 .2,2.3 0-3.3 .2,3.9 .1-3.5 .1,4.5 .1-3.9 .1,0 .1,4.4 .2-.9 .1-3.2 .1,3.9 0-4.3 .1,.3 .2,4.8 .1-4.8 .1,3.1 .1-2.1 0,2.7 .1-3.8 .2,3.3 .1-2.7 .1,4.8 0-2.6 .1,2.8 .1-5.1 .2,1.5 .1-.9 .1,1.3 0-1.7 .1,4.9 .1-3.5 .2,2.7 .1-3.7 .1,4 .1-1.1 .1,.7 .2-2.9 .1,4.7 0-5 .1,1.8 .1-1.7 .2,.7 .1,4.7 0-4.9 .1,1.4 .1-1.5 .1,0 .2,1.3 .1,3.6 0-3.8 .2,2.9 .1-3.3 .2,2.6 0-1.3 .2,2 .1-3 .1,1.9 .1-1.9 .1,4.4 .1-3.9 .1,4.6 .1-2.3 .1,1 .1-2.8 0,4.3 .1-3.5 .1,1.7 .3-2.4 .1,.9 0-.3 .1,4 .1-4.1 .1-.1 .1,3.2 .1-3.2 .1,1.2 .1-.1 .2,4.4 .2-3.9 .1,4 .1-3.6 .1,3.8 .1-3.5 .1,.3 0-.8 .1,.7 .1-1.2 .2,.7 .1,4.7 .1-4.9 .1,3.2 .1-2.4 .1,4 .3-3.8 .1,4.5 .1-4.5 .1,4.1 .1-2.7 .1,2.7 .1-3.9 .1,.7 .1-.4 .1,1.7 .1-1.5 .2,1.8 .1-1.6 .1,1 .1-.7 .1,1.6 0-1.3 .1,4.2 .1-4.1 .2,5.3 .1-4.8 .1,5.1 .1-3.7 .2,2.3 .1-3.3 .1,.1 0,4.9 .2-4.7 .1,1.8 .1-.3 .1,1.2 0,2.9 .2-4.6 .1,1.4 .1-1.5 .2,5.3 0-4.8 .1,3.7 .1-3.2 .1,4.5 .2-2.2 0,.6 .1-2.4 .2,3.2 .1-2.1 .2-1.1 .1,1.5 .2-1 .1,1.1 .1-.9 0,5.1 .1-4.7 .1,5.1 .1-3.6 .1,.4 .1-1.7 .1,.1 0,5.3 .1-1.4 .1,.2 .1-3.6 .1,.4 .1,.1 .1,4.4 .1-2.3 .1,1.4 .1-2.9 .2,4.2 .1-3.3 .1,3.1 .1-3.8 .2,5.4 0-1.2 .1,1 .1-.7 .2-3 .1,3.4 .1-3.9 .1,5.4 .1-4.9 .2,3.1 .1-2.9 .1,4.8 .1-4.5 .1,4.1 .2-.8 .1-2.6 .2,2.8 .1-2.5 .1,0 .1,1.6 0-.3 .1,.5 .2-1 .3,5.4 0,.1 .2-4.8 .2,1.9 .1-.4 .2,3.4 .1-2.8 .1,.7 .1-1.9 .1,5 .1,.3 .3-3.1 .1,1.1 .1-1.9 .4,5.4 0-2.5 .2,1.4 .1-2.6 .1,4.3 .1-5 .1,1.9 .2-1.4 .3,2.9 0-.9 .1,.5 .1,3.3 .1-4.8 .1,4.9 .1-.6 .1,1.2 0-3.6 .1,2.9 .1-4.1 .1,4.9 .1-3.9 .1,3.8 0-2.3 .1,2.3 .1-4 .1,4.4 .1-.9 .1,.4 .2-2.8 .1,3.6 .2-3.4 .1,1.9 0-1.3 .1,.8 .1,4.4 .1-4.7 .1,1.3 .1-.9 .1,4.7 0-4.6 .2,5.2 .2-4.4 .1,1.8 0-1.4 .2,1.5 .1-1.6 .1,5.2 .1-4.3 .1,3.6 .1-3.7 .1,4.3 .1-1.9 .2-1.8 .1,1.1 .1-.2 .2,4.7 .1-3.2 .1,3.6 .1-4.4 .1,.9 .2-.6 .1,5.2 .1-4.7 .1,.1 .1,5 .1-4.7 .2,5.3 0-4.6 .1,4.6 .1-4.3 .1,1.9 .1-.7 .1,1.3 0-.7 .1,4.1 .1-1.2 .2,1.2 .1-4.2 .1,3 0-2.4 .1,1.1 .1-1.2 .1,5.3 .1-4.8 .1,4 .1-2.4 .2-1 .2,5.4 .1-4 .1,1.4 .1-.9 .1,1.1 .1,3.2 .1-3.7 0,.9 .1-.1 .2,2.6 .1-1.7 .1,3.2 .1-4.4 .1,5 .1-3.5 .1,.1 .1-.7 .1,.7 0-.5 .3,5.2 .2-4.1 .1,0 0,.2 .3,3.8 .1-2.6 .1-.2 0,2.3 .1-2.4 .1,.2 .1,3.6 .1-3 .2,4.1 0-3.8 .1,3.4 .1-3 .1,2.3 .2-1.7 0,1.8 .1-1.5 .1,2.8 .1-1.7 .1,.3 .2,4.6 .2-4.8 .3,4.2 0-3.1 .1,.2 .1,4.8 .1-3.7 .2,3.1 .1-2.9 0,.5 .1-1.1 .1,2.6 .1-1.3 .1,3.6 .1-.7 0,1.7 .1-5 .1,2.6 .3,2.2 .2-2.5 .2,4.3 .1-4.5 .1,3.8 .1-3.8 .2,.4 .2,4 .1-3 0,.4 .2,4.3 .1-3.5 .2,2.8 .1-2.1 .1,1.2 .1,47 .1-45.5 .2-2.7 2.2,5.3 1.4,2.7 1.3,1.9 .6,.5 .5,.3 67,5.9 72.8,10.1 79.7,14.2 75.2,19.1" stroke="#000000" stroke-dasharray="2.083 3.438" stroke-width="2.083" fill="none"/><path d="M352.8,373.7l.8-.1 .9,0 .8-.1 .9,0 .8,0 .8,0 .9-.1 .8,0 .9,0 .8,0 .9,0 .8,0 .9,0 .8,0 .9,0 .8,.1 .9,0 .8,0 .8,.1 .9,0 .8,.1 .9,0 .8,.1 .9,0 .8,.1 .9,0 .8,.1 .9,.1 .8,.1 .9,0 .8,.1 .8,.1 .9,.1 .8,.1 .9,.1 .8,.2 .9,.2 .8,.2 .9,.2 .8,.2 .9,.2 .8,.3 .9,.2 .8,.3 .8,.3 .9,.2 .8,.3 .9,.3 .8,.3 .9,.3 .8,.4 .9,.4 .8,.3 .9,.4 .8,.4 .8,.4 .9,.5 .8,.4 .9,.4 .8,.5 .9,.4 .8,.4 .9,.5 .8,.4 .9,.4 .8,.5 .9,.5 .8,.4 .8,.5 .9,.5 .8,.6 .9,.5 .8,.6 .9,.6 .8,.6 .9,.7 .8,.7 .9,.8 .8,.8 .9,.8 .8,.9 .8,.9 .9,1 .8,1 .9,1 .8,1.1 .9,1 .8,1.1 .9,1.1 .8,1 .9,1.1 .8,1.2 .9,1.2 .8,1.2 .8,1.2 .9,1.3 .8,1.3 .9,1.3 .8,1.4 .9,1.4 .8,1.4 .9,1.5 .8,1.6 .9,1.7 .8,1.7 .8,1.8 .9,1.8 .8,1.7 .9,1.7 .8,1.6 .9,1.7 .8,1.6 .9,1.7 .8,1.6 .9,1.6 .8,1.8 .9,1.9 0,1-.9,4.8-.8-3-.9,0-.8-2.4-.9-2.8-.8-1.7-.9-1.4-.8-.4-.9-1.6-.8-2.5-.9-1.8-.8-.8-.8-3.1-.9-.8-.8-1.4-.9-1.6-.8-1.5-.9-2.5-.8-.7-.9-1.5-.8-2.6-.9,0-.8-2.3-.8-.3-.9-1.8-.8-1.2-.9-1.2-.8-1.2-.9-.5-.8-.9-.9-1.4-.8-.8-.9-1.9-.8-.4-.9-.6-.8-2.3-.8,.3-.9-2-.8,.3-.9-1.9-.8-1-.9-.5-.8-.1-.9-.4-.8-.8-.9-.3-.8-.7-.9-.8-.8-1.2-.8-.6-.9,.2-.8-.3-.9-.4-.8-.5-.9-1.4-.8,.4-.9-1.4-.8-.3-.9,.1-.8-.2-.9-.6-.8-1.1-.8-.1-.9-.7-.8-.4-.9-.1-.8-.4-.9-.2-.8-1.3-.9,.2-.8-.8-.9-.2-.8-.5-.8,.3-.9,0-.8-.6-.9-.5-.8,0-.9-.5-.8-.7-.9,.5-.8-.9-.9-.2-.8,.4-.9-.6-.8,.2-.8-.5-.9,.4-.8-.6-.9,.1-.8-.4-.9,0-.8-.2-.9,.3-.8-.1-.9-.3-.8-.1-.9-.2-.8,0-.8-.1-.9-.1-.8-.1-.9-.3-.8,0-.9,.2-.8-.2-.9,0-.8-.2-.9,0-.8-.1-.9,0-.8-.1-.8,0-.9,0-.8,0-.9-.1-.8,0z" fill="#000000"/><path d="M443.5,434.6h2.1v2.1h-2.1zm.6,9.3h2.1v2.1h-2.1zm.4-3h2.1v2.1h-2.1zm.1-1.7h2.1v2.1h-2.1zm0-5.3h2.1v2.1h-2.1zm0,7.7h2.1v2.1h-2.1zm.1-.3h2.1v2.1h-2.1zm0-3.5h2.1v2.1h-2.1zm.2,7.4h2.1v2.1h-2.1zm.1,1h2.1v2.1h-2.1zm.2-6.6h2.1v2.1h-2.1zm.3-2.2h2.1v2.1h-2.1zm.1,9.4h2.1v2.1h-2.1zm0,3.1h2.1v2.1h-2.1zm0-13.1h2.1v2.1h-2.1zm.1-2.7h2.1v2.1h-2.1zm.3,11.8h2.1v2.1h-2.1zm0,1.7h2.1v2.1h-2.1zm.2-3.6h2.1v2.1h-2.1zm0,6.1h2.1v2.1h-2.1zm.3-4.8h2.1v2.1h-2.1zm.3,6.9h2.1v2.1h-2.1zm.3-6.7h2.1v2.1h-2.1zm0-5h2.1v2.1h-2.1zm.1,7h2.1v2.1h-2.1zm.2-7.2h2.1v2.1h-2.1zm.1,6.9h2.1v2.1h-2.1zm0-10.2h2.1v2.1h-2.1zm0,12.1h2.1v2.1h-2.1zm.2-3h2.1v2.1h-2.1zm.1,3.8h2.1v2.1h-2.1zm.1,3.7h2.1v2.1h-2.1zm0-17.7h2.1v2.1h-2.1zm0,9.7h2.1v2.1h-2.1zm.1,5.7h2.1v2.1h-2.1zm.1,4.1h2.1v2.1h-2.1zm.1,5.5h2.1v2.1h-2.1zm.1-7.8h2.1v2.1h-2.1zm.3-1.5h2.1v2.1h-2.1zm.3,9h2.1v2.1h-2.1zm.4-10.5h2.1v2.1h-2.1zm.1-11.5h2.1v2.1h-2.1zm.1,12.5h2.1v2.1h-2.1zm.3,5.7h2.1v2.1h-2.1zm.1,1.5h2.1v2.1h-2.1zm0-9.2h2.1v2.1h-2.1zm.4-5.3h2.1v2.1h-2.1zm.1,8.8h2.1v2.1h-2.1zm.3,2h2.1v2.1h-2.1zm.2-11.7h2.1v2.1h-2.1zm.1,21.9h2.1v2.1h-2.1zm.2-15.2h2.1v2.1h-2.1zm.1,3.2h2.1v2.1h-2.1zm0,2.9h2.1v2.1h-2.1zm0-6.4h2.1v2.1h-2.1zm.1,15.5h2.1v2.1h-2.1zm.2-18h2.1v2.1h-2.1zm.1,12.7h2.1v2.1h-2.1zm0-14.9h2.1v2.1h-2.1zm0,13.4h2.1v2.1h-2.1zm.1-5.8h2.1v2.1h-2.1zm.3,3.8h2.1v2.1h-2.1zm.3-8.7h2.1v2.1h-2.1zm.3,1.7h2.1v2.1h-2.1zm.4,7.1h2.1v2.1h-2.1zm.1-5.8h2.1v2.1h-2.1zm.6,1.5h2.1v2.1h-2.1zm0,8.1h2.1v2.1h-2.1zm.1-2.8h2.1v2.1h-2.1zm.1-5.9h2.1v2.1h-2.1zm1.1,3.5h2.1v2.1h-2.1zm.1-.1h2.1v2.1h-2.1zm1,.4h2.1v2.1h-2.1z" fill="#000000"/></g></g><g id="patch_13"><path d="M 54.576 370.1232  L 54.576 249.1056  " style="fill: none; stroke: #000000; stroke-width: 0.8; stroke-linejoin: miter; stroke-linecap: square"/></g><g id="patch_14"><path d="M 541.8 370.1232  L 541.8 249.1056  " style="fill: none; stroke: #000000; stroke-width: 0.8; stroke-linejoin: miter; stroke-linecap: square"/></g><g id="patch_15"><path d="M 54.576 370.1232  L 541.8 370.1232  " style="fill: none; stroke: #000000; stroke-width: 0.8; stroke-linejoin: miter; stroke-linecap: square"/></g><g id="patch_16"><path d="M 54.576 249.1056  L 541.8 249.1056  " style="fill: none; stroke: #000000; stroke-width: 0.8; stroke-linejoin: miter; stroke-linecap: square"/></g><g id="text_21"><!-- $z = 4.4\times10^{4}$ --><g transform="translate(69.1927 364.0723)"><text><tspan x="0.0000" y="-0.0641" style="font-style: oblique; font-size: 10px; font-family: 'DejaVu Sans'">z</tspan><tspan x="7.1973" y="-0.0641" style="font-size: 10px; font-family: 'DejaVu Sans'">=</tspan><tspan x="16.8044" y="-0.0641" style="font-size: 10px; font-family: 'DejaVu Sans'">4</tspan><tspan x="23.0371" y="-0.0641" style="font-size: 10px; font-family: 'DejaVu Sans'">.</tspan><tspan x="26.2158" y="-0.0641" style="font-size: 10px; font-family: 'DejaVu Sans'">4</tspan><tspan x="34.3680" y="-0.0641" style="font-size: 10px; font-family: 'DejaVu Sans'">×</tspan><tspan x="44.3351" y="-0.0641" style="font-size: 10px; font-family: 'DejaVu Sans'">1</tspan><tspan x="50.6254" y="-0.0641" style="font-size: 10px; font-family: 'DejaVu Sans'">0</tspan><tspan x="57.1554" y="-3.4602" style="font-size: 7px; font-family: 'DejaVu Sans'">4</tspan></text></g></g></g><g id="axes_4"><g id="patch_17"><path d="M 54.576 491.292  L 541.8 491.292  L 541.8 370.1232  L 54.576 370.1232  z " style="fill: #ffffff"/></g><g id="matplotlib.axis_7"><g id="xtick_133"><g id="line2d_148"><g><use xlink:href="#m1504cfccaf" x="95.837366" y="491.292" style="stroke: #000000; stroke-width: 0.8"/></g></g><g id="text_22"><!-- $\mathdefault{10^{0}}$ --><g transform="translate(86.7494 506.9704)"><text><tspan x="0.0000" y="-0.9766" style="font-size: 10px; font-family: 'DejaVu Sans'">1</tspan><tspan x="6.3623" y="-0.9766" style="font-size: 10px; font-family: 'DejaVu Sans'">0</tspan><tspan x="12.6763" y="-4.4807" style="font-size: 7px; font-family: 'DejaVu Sans'">0</tspan></text></g></g></g><g id="xtick_134"><g id="line2d_149"><g><use xlink:href="#m1504cfccaf" x="199.52477" y="491.292" style="stroke: #000000; stroke-width: 0.8"/></g></g><g id="text_23"><!-- $\mathdefault{10^{1}}$ --><g transform="translate(190.4368 506.9704)"><text><tspan x="0.0000" y="-0.0641" style="font-size: 10px; font-family: 'DejaVu Sans'">1</tspan><tspan x="6.3623" y="-0.0641" style="font-size: 10px; font-family: 'DejaVu Sans'">0</tspan><tspan x="12.6763" y="-3.5682" style="font-size: 7px; font-family: 'DejaVu Sans'">1</tspan></text></g></g></g><g id="xtick_135"><g id="line2d_150"><g><use xlink:href="#m1504cfccaf" x="303.212174" y="491.292" style="stroke: #000000; stroke-width: 0.8"/></g></g><g id="text_24"><!-- $\mathdefault{10^{2}}$ --><g transform="translate(294.1242 506.9704)"><text><tspan x="0.0000" y="-0.9766" style="font-size: 10px; font-family: 'DejaVu Sans'">1</tspan><tspan x="6.3623" y="-0.9766" style="font-size: 10px; font-family: 'DejaVu Sans'">0</tspan><tspan x="12.6763" y="-4.4807" style="font-size: 7px; font-family: 'DejaVu Sans'">2</tspan></text></g></g></g><g id="xtick_136"><g id="line2d_151"><g><use xlink:href="#m1504cfccaf" x="406.899578" y="491.292" style="stroke: #000000; stroke-width: 0.8"/></g></g><g id="text_25"><!-- $\mathdefault{10^{3}}$ --><g transform="translate(397.8116 506.9704)"><text><tspan x="0.0000" y="-0.9766" style="font-size: 10px; font-family: 'DejaVu Sans'">1</tspan><tspan x="6.3623" y="-0.9766" style="font-size: 10px; font-family: 'DejaVu Sans'">0</tspan><tspan x="12.6763" y="-4.4807" style="font-size: 7px; font-family: 'DejaVu Sans'">3</tspan></text></g></g></g><g id="xtick_137"><g id="line2d_152"><g><use xlink:href="#m1504cfccaf" x="510.586981" y="491.292" style="stroke: #000000; stroke-width: 0.8"/></g></g><g id="text_26"><!-- $\mathdefault{10^{4}}$ --><g transform="translate(501.4990 506.9704)"><text><tspan x="0.0000" y="-0.0641" style="font-size: 10px; font-family: 'DejaVu Sans'">1</tspan><tspan x="6.3623" y="-0.0641" style="font-size: 10px; font-family: 'DejaVu Sans'">0</tspan><tspan x="12.6763" y="-3.5682" style="font-size: 7px; font-family: 'DejaVu Sans'">4</tspan></text></g></g></g><g id="xtick_138"><g id="line2d_153"><g><use xlink:href="#m05db3bdf9b" x="54.576" y="491.292" style="stroke: #000000; stroke-width: 0.6"/></g></g></g><g id="xtick_139"><g id="line2d_154"><g><use xlink:href="#m05db3bdf9b" x="64.624348" y="491.292" style="stroke: #000000; stroke-width: 0.6"/></g></g></g><g id="xtick_140"><g id="line2d_155"><g><use xlink:href="#m05db3bdf9b" x="72.834445" y="491.292" style="stroke: #000000; stroke-width: 0.6"/></g></g></g><g id="xtick_141"><g id="line2d_156"><g><use xlink:href="#m05db3bdf9b" x="79.775984" y="491.292" style="stroke: #000000; stroke-width: 0.6"/></g></g></g><g id="xtick_142"><g id="line2d_157"><g><use xlink:href="#m05db3bdf9b" x="85.789019" y="491.292" style="stroke: #000000; stroke-width: 0.6"/></g></g></g><g id="xtick_143"><g id="line2d_158"><g><use xlink:href="#m05db3bdf9b" x="91.092891" y="491.292" style="stroke: #000000; stroke-width: 0.6"/></g></g></g><g id="xtick_144"><g id="line2d_159"><g><use xlink:href="#m05db3bdf9b" x="127.050385" y="491.292" style="stroke: #000000; stroke-width: 0.6"/></g></g></g><g id="xtick_145"><g id="line2d_160"><g><use xlink:href="#m05db3bdf9b" x="145.308831" y="491.292" style="stroke: #000000; stroke-width: 0.6"/></g></g></g><g id="xtick_146"><g id="line2d_161"><g><use xlink:href="#m05db3bdf9b" x="158.263404" y="491.292" style="stroke: #000000; stroke-width: 0.6"/></g></g></g><g id="xtick_147"><g id="line2d_162"><g><use xlink:href="#m05db3bdf9b" x="168.311751" y="491.292" style="stroke: #000000; stroke-width: 0.6"/></g></g></g><g id="xtick_148"><g id="line2d_163"><g><use xlink:href="#m05db3bdf9b" x="176.521849" y="491.292" style="stroke: #000000; stroke-width: 0.6"/></g></g></g><g id="xtick_149"><g id="line2d_164"><g><use xlink:href="#m05db3bdf9b" x="183.463388" y="491.292" style="stroke: #000000; stroke-width: 0.6"/></g></g></g><g id="xtick_150"><g id="line2d_165"><g><use xlink:href="#m05db3bdf9b" x="189.476422" y="491.292" style="stroke: #000000; stroke-width: 0.6"/></g></g></g><g id="xtick_151"><g id="line2d_166"><g><use xlink:href="#m05db3bdf9b" x="194.780295" y="491.292" style="stroke: #000000; stroke-width: 0.6"/></g></g></g><g id="xtick_152"><g id="line2d_167"><g><use xlink:href="#m05db3bdf9b" x="230.737789" y="491.292" style="stroke: #000000; stroke-width: 0.6"/></g></g></g><g id="xtick_153"><g id="line2d_168"><g><use xlink:href="#m05db3bdf9b" x="248.996234" y="491.292" style="stroke: #000000; stroke-width: 0.6"/></g></g></g><g id="xtick_154"><g id="line2d_169"><g><use xlink:href="#m05db3bdf9b" x="261.950807" y="491.292" style="stroke: #000000; stroke-width: 0.6"/></g></g></g><g id="xtick_155"><g id="line2d_170"><g><use xlink:href="#m05db3bdf9b" x="271.999155" y="491.292" style="stroke: #000000; stroke-width: 0.6"/></g></g></g><g id="xtick_156"><g id="line2d_171"><g><use xlink:href="#m05db3bdf9b" x="280.209253" y="491.292" style="stroke: #000000; stroke-width: 0.6"/></g></g></g><g id="xtick_157"><g id="line2d_172"><g><use xlink:href="#m05db3bdf9b" x="287.150792" y="491.292" style="stroke: #000000; stroke-width: 0.6"/></g></g></g><g id="xtick_158"><g id="line2d_173"><g><use xlink:href="#m05db3bdf9b" x="293.163826" y="491.292" style="stroke: #000000; stroke-width: 0.6"/></g></g></g><g id="xtick_159"><g id="line2d_174"><g><use xlink:href="#m05db3bdf9b" x="298.467698" y="491.292" style="stroke: #000000; stroke-width: 0.6"/></g></g></g><g id="xtick_160"><g id="line2d_175"><g><use xlink:href="#m05db3bdf9b" x="334.425193" y="491.292" style="stroke: #000000; stroke-width: 0.6"/></g></g></g><g id="xtick_161"><g id="line2d_176"><g><use xlink:href="#m05db3bdf9b" x="352.683638" y="491.292" style="stroke: #000000; stroke-width: 0.6"/></g></g></g><g id="xtick_162"><g id="line2d_177"><g><use xlink:href="#m05db3bdf9b" x="365.638211" y="491.292" style="stroke: #000000; stroke-width: 0.6"/></g></g></g><g id="xtick_163"><g id="line2d_178"><g><use xlink:href="#m05db3bdf9b" x="375.686559" y="491.292" style="stroke: #000000; stroke-width: 0.6"/></g></g></g><g id="xtick_164"><g id="line2d_179"><g><use xlink:href="#m05db3bdf9b" x="383.896657" y="491.292" style="stroke: #000000; stroke-width: 0.6"/></g></g></g><g id="xtick_165"><g id="line2d_180"><g><use xlink:href="#m05db3bdf9b" x="390.838195" y="491.292" style="stroke: #000000; stroke-width: 0.6"/></g></g></g><g id="xtick_166"><g id="line2d_181"><g><use xlink:href="#m05db3bdf9b" x="396.85123" y="491.292" style="stroke: #000000; stroke-width: 0.6"/></g></g></g><g id="xtick_167"><g id="line2d_182"><g><use xlink:href="#m05db3bdf9b" x="402.155102" y="491.292" style="stroke: #000000; stroke-width: 0.6"/></g></g></g><g id="xtick_168"><g id="line2d_183"><g><use xlink:href="#m05db3bdf9b" x="438.112596" y="491.292" style="stroke: #000000; stroke-width: 0.6"/></g></g></g><g id="xtick_169"><g id="line2d_184"><g><use xlink:href="#m05db3bdf9b" x="456.371042" y="491.292" style="stroke: #000000; stroke-width: 0.6"/></g></g></g><g id="xtick_170"><g id="line2d_185"><g><use xlink:href="#m05db3bdf9b" x="469.325615" y="491.292" style="stroke: #000000; stroke-width: 0.6"/></g></g></g><g id="xtick_171"><g id="line2d_186"><g><use xlink:href="#m05db3bdf9b" x="479.373963" y="491.292" style="stroke: #000000; stroke-width: 0.6"/></g></g></g><g id="xtick_172"><g id="line2d_187"><g><use xlink:href="#m05db3bdf9b" x="487.58406" y="491.292" style="stroke: #000000; stroke-width: 0.6"/></g></g></g><g id="xtick_173"><g id="line2d_188"><g><use xlink:href="#m05db3bdf9b" x="494.525599" y="491.292" style="stroke: #000000; stroke-width: 0.6"/></g></g></g><g id="xtick_174"><g id="line2d_189"><g><use xlink:href="#m05db3bdf9b" x="500.538634" y="491.292" style="stroke: #000000; stroke-width: 0.6"/></g></g></g><g id="xtick_175"><g id="line2d_190"><g><use xlink:href="#m05db3bdf9b" x="505.842506" y="491.292" style="stroke: #000000; stroke-width: 0.6"/></g></g></g><g id="xtick_176"><g id="line2d_191"><g><use xlink:href="#m05db3bdf9b" x="541.8" y="491.292" style="stroke: #000000; stroke-width: 0.6"/></g></g></g><g id="text_27"><!-- $k$ [Mpc$^{-1}$] --><g transform="translate(274.1880 521.7621)"><text><tspan x="0.0000" y="-0.0641" style="font-style: oblique; font-size: 10px; font-family: 'DejaVu Sans'">k</tspan><tspan x="5.7910" y="-0.0641" style="font-size: 10px; font-family: 'DejaVu Sans'"></tspan><tspan x="10.0497" y="-0.0641" style="font-size: 10px; font-family: 'DejaVu Sans'">[</tspan><tspan x="13.5911" y="-0.0641" style="font-size: 10px; font-family: 'DejaVu Sans'">M</tspan><tspan x="22.0750" y="-0.0641" style="font-size: 10px; font-family: 'DejaVu Sans'">p</tspan><tspan x="28.5667" y="-0.0641" style="font-size: 10px; font-family: 'DejaVu Sans'">c</tspan><tspan x="44.0327" y="-0.0641" style="font-size: 10px; font-family: 'DejaVu Sans'">]</tspan><tspan x="33.7284" y="-3.2442" style="font-size: 7px; font-family: 'DejaVu Sans'">−</tspan><tspan x="39.3057" y="-3.2442" style="font-size: 7px; font-family: 'DejaVu Sans'">1</tspan></text></g></g></g><g id="matplotlib.axis_8"><g id="ytick_16"><g id="line2d_192"><g><use xlink:href="#m5d545ce8f8" x="54.576" y="469.283882" style="stroke: #000000; stroke-width: 0.8"/></g></g><g id="text_28"><!-- $\mathdefault{10^{-28}}$ --><g transform="translate(19.7840 473.7671)"><text><tspan x="0.0000" y="-0.9766" style="font-size: 10px; font-family: 'DejaVu Sans'">1</tspan><tspan x="6.3623" y="-0.9766" style="font-size: 10px; font-family: 'DejaVu Sans'">0</tspan><tspan x="12.8203" y="-4.1927" style="font-size: 7px; font-family: 'DejaVu Sans'">−</tspan><tspan x="18.6855" y="-4.1927" style="font-size: 7px; font-family: 'DejaVu Sans'">2</tspan><tspan x="23.1392" y="-4.1927" style="font-size: 7px; font-family: 'DejaVu Sans'">8</tspan></text></g></g></g><g id="ytick_17"><g id="line2d_193"><g><use xlink:href="#m5d545ce8f8" x="54.576" y="446.711452" style="stroke: #000000; stroke-width: 0.8"/></g></g><g id="text_29"><!-- $\mathdefault{10^{-22}}$ --><g transform="translate(19.7840 451.1947)"><text><tspan x="0.0000" y="-0.9766" style="font-size: 10px; font-family: 'DejaVu Sans'">1</tspan><tspan x="6.3623" y="-0.9766" style="font-size: 10px; font-family: 'DejaVu Sans'">0</tspan><tspan x="12.8203" y="-4.1927" style="font-size: 7px; font-family: 'DejaVu Sans'">−</tspan><tspan x="18.6855" y="-4.1927" style="font-size: 7px; font-family: 'DejaVu Sans'">2</tspan><tspan x="23.1392" y="-4.1927" style="font-size: 7px; font-family: 'DejaVu Sans'">2</tspan></text></g></g></g><g id="ytick_18"><g id="line2d_194"><g><use xlink:href="#m5d545ce8f8" x="54.576" y="424.139023" style="stroke: #000000; stroke-width: 0.8"/></g></g><g id="text_30"><!-- $\mathdefault{10^{-16}}$ --><g transform="translate(19.7840 428.6222)"><text><tspan x="0.0000" y="-0.9766" style="font-size: 10px; font-family: 'DejaVu Sans'">1</tspan><tspan x="6.3623" y="-0.9766" style="font-size: 10px; font-family: 'DejaVu Sans'">0</tspan><tspan x="12.8203" y="-4.1927" style="font-size: 7px; font-family: 'DejaVu Sans'">−</tspan><tspan x="18.6855" y="-4.1927" style="font-size: 7px; font-family: 'DejaVu Sans'">1</tspan><tspan x="23.1392" y="-4.1927" style="font-size: 7px; font-family: 'DejaVu Sans'">6</tspan></text></g></g></g><g id="ytick_19"><g id="line2d_195"><g><use xlink:href="#m5d545ce8f8" x="54.576" y="401.566594" style="stroke: #000000; stroke-width: 0.8"/></g></g><g id="text_31"><!-- $\mathdefault{10^{-10}}$ --><g transform="translate(19.7840 406.0498)"><text><tspan x="0.0000" y="-0.9766" style="font-size: 10px; font-family: 'DejaVu Sans'">1</tspan><tspan x="6.3623" y="-0.9766" style="font-size: 10px; font-family: 'DejaVu Sans'">0</tspan><tspan x="12.8203" y="-4.1927" style="font-size: 7px; font-family: 'DejaVu Sans'">−</tspan><tspan x="18.6855" y="-4.1927" style="font-size: 7px; font-family: 'DejaVu Sans'">1</tspan><tspan x="23.1392" y="-4.1927" style="font-size: 7px; font-family: 'DejaVu Sans'">0</tspan></text></g></g></g><g id="ytick_20"><g id="line2d_196"><g><use xlink:href="#m5d545ce8f8" x="54.576" y="378.994165" style="stroke: #000000; stroke-width: 0.8"/></g></g><g id="text_32"><!-- $\mathdefault{10^{-4}}$ --><g transform="translate(24.1840 383.4774)"><text><tspan x="0.0000" y="-0.0641" style="font-size: 10px; font-family: 'DejaVu Sans'">1</tspan><tspan x="6.3623" y="-0.0641" style="font-size: 10px; font-family: 'DejaVu Sans'">0</tspan><tspan x="12.8203" y="-3.2802" style="font-size: 7px; font-family: 'DejaVu Sans'">−</tspan><tspan x="18.6855" y="-3.2802" style="font-size: 7px; font-family: 'DejaVu Sans'">4</tspan></text></g></g></g><g id="text_33"><!-- $S_{\rm ac}(k,z)$ --><g transform="translate(15.0723 450.1076) rotate(-90)"><text><tspan x="0.0000" y="-0.4062" style="font-style: oblique; font-size: 10px; font-family: 'DejaVu Sans'">S</tspan><tspan x="18.6606" y="-0.4062" style="font-style: oblique; font-size: 10px; font-family: 'DejaVu Sans'">k</tspan><tspan x="29.5786" y="-0.4062" style="font-style: oblique; font-size: 10px; font-family: 'DejaVu Sans'">z</tspan><tspan x="6.3477" y="1.2344" style="font-size: 7px; font-family: 'DejaVu Sans'">a</tspan><tspan x="10.6372" y="1.2344" style="font-size: 7px; font-family: 'DejaVu Sans'">c</tspan><tspan x="14.7593" y="-0.4062" style="font-size: 10px; font-family: 'DejaVu Sans'">(</tspan><tspan x="24.4517" y="-0.4062" style="font-size: 10px; font-family: 'DejaVu Sans'">,</tspan><tspan x="34.8276" y="-0.4062" style="font-size: 10px; font-family: 'DejaVu Sans'">)</tspan></text></g></g></g><g transform="scale(0.72)"><clipPath id="cp3"><rect x="75.80" y="514.06" width="676.70" height="168.29"/></clipPath><g clip-path="url(#cp3)" stroke-linejoin="round"><path d="M75.8,529.1l1.1,1 .9,1.4 .8,1.8 .8,3 .3,.4 .2-.5 .8-2.9 .6-1.8 .7-1.4 .8-1.3 1.1-1.1 1.2-.6 1.2-.2 1.2,.3 .7,.4 .6,.7 1,1.7 .7,2 1,4.2 .1-.3 1-4.9 .5-1.5 .6-1.2 .8-1.1 .9-.9 1-.4 1,0 .6,.3 .7,.6 .6,.8 .5,1 .8,2.5 .7,4.3 .1,.5 .9-5.2 .4-1.6 .5-1.4 .7-1.2 .7-.9 .8-.4 .9-.1 .6,.3 .7,.7 .5,.7 .5,1.2 .7,2.8 .7,4.8 .7-5.5 .8-2.9 .6-1.2 .6-.8 .7-.5 .7-.1 .7,.3 .6,.6 .5,1 .4,1.1 .6,2.8 .6,5.1 .6-5.3 .7-3.1 .5-1.3 .6-.9 .6-.5 .6-.1 .6,.2 .5,.6 .6,1 .4,1.3 .5,2.7 .5,5.3 .6-5.6 .6-3 .4-1.2 .5-.9 .5-.5 .6-.1 .5,.2 .5,.5 .4,.8 .5,1.3 .5,2.8 .5,5.6 .5-5.6 .5-2.8 .4-1.4 .4-.8 .5-.5 .6-.2 .5,.2 .4,.5 .7,2.1 .6,3 .4,5.4 .5-5.6 .5-3 .3-1.1 .5-.9 .4-.4 .5-.2 .4,.2 .4,.6 .7,2 .5,3.5 .4,4.8 .5-5.7 .4-2.7 .7-2 .4-.5 .4-.2 .4,.2 .5,.6 .6,2.3 .5,3.3 .3,5 .4-5.9 .4-2.8 .7-2.1 .4-.4 .4-.1 .4,.2 .3,.6 .6,2.1 .4,2.5 .4,5.7 .3-5.4 .5-3.1 .5-1.9 .4-.5 .4-.2 .3,.2 .4,.6 .6,2.2 .3,2.9 .4,5.4 .3-5.5 .3-2.8 .6-2.3 .4-.5 .3-.2 .3,.2 .4,.6 .5,1.9 .3,2.7 .4,5.8 .3-5.3 .3-3 .5-2 .4-.6 .3-.2 .4,.2 .3,.7 .5,2.2 .3,3.4 .3,4.8 .4-6.9 .4-2.3 .4-1.5 .3-.5 .3-.1 .1,.1 .4,.6 .3,1.1 .4,3 .4,6.3 .3-5.6 .4-3 .4-1.7 .2-.5 .4-.2 .3,.3 .3,.6 .4,2 .6,8 .2-5.3 .3-2.6 .4-2.1 .3-.6 .3-.2 .3,.2 .3,.6 .4,2.2 .5,8.2 .4-7.4 .3-1.9 .3-1.3 .4-.5 .3,0 .4,.7 .2,1.2 .3,2.9 .4,6.1 .2-5.7 .3-2.6 .4-2 .3-.5 .2-.1 .3,.2 .2,.7 .4,1.9 .5,8.3 .3-6.9 .3-2.2 .3-1.4 .3-.5 .1-.1 .2,.1 .3,.6 .2,1 .3,3 .4,6 .4-7.7 .3-2 .3-.7 .3-.2 .2,.2 .3,.8 .3,2.1 .4,8.1 .4-7.2 .4-3.2 .2-.6 .3-.1 .3,.6 .3,1.9 .1-.2 .1,1.6 .2,7 .2-.2 .1-6.3 0-.2 .1,.9 .1-3.6 .1,.7 .3-1.9 0-.2 .1,0 .1,.1 .2-.2 .2,.5 .2,1.1 .2,3 .1-2.1 .2,8.7 .2-6.9 .1,4.1 0-5 .2,3.5 .1-6.2 .1,1.9 .1-1.6 .1,1.3 0-1.8 .1,.1 .1-.4 .1,.3 .1-.4 .1,.8 0-.8 .3,2.8 .1-2.4 .2,5.5 0-1.7 .1,3.7 .1-2.7 .1,.6 .1-1.5 .1,5.9 .2-8.3 .1,4.6 .1-5.5 .1,.3 .2-1.2 .2,.6 .1-.6 .1,.9 0-.9 .2,2.6 .3-1.7 .1,9 .1-7 .3,3.8 .1-5.3 0,6.5 .3-7.5 .1,1.8 .2-2 0-.2 .2,.1 .1,1.4 .1-1.4 .1-.1 .1,11.1 .2-10.5 .1,.7 .1-.1 .1,5.3 0-3.7 .1,5.1 .1-2.9 .2,4.4 .1-9.2 0-.1 .1,6.7 .1-6.4 .1,.1 .1-.4 .2,1.2 .1-1.1 .1,4.6 .1-4.6 .1-.1 .1,6.9 .1-6.3 .2,.8 .1,4.3 .2-4.4 .1,6.7 .3-7.8 .1,.1 0-.1 .1,3.6 .2-3.3 .2,2.6 .1-2.8 .1,2.7 .1-2.5 .2,2.4 .1,8.4 .1-9.8 .2-.8 .3,6.4 0-6.8 .1,8.3 .2-8.4 .2,.1 0,.6 .1-.2 .2,3.4 .1-3.7 .1,.9 .1-.7 .1,5.1 .2-3.5 .1,0 .1,4.5 0-6.2 .3,8.4 .1-6.9 .2-1.6 0,1.4 .1-1 .1,1.8 .2-2.1 .1,3.4 .1-3.3 .2,4 .1-2.1 .2,4.5 .1-4.9 .1,2.5 .3-3.3 0,5.8 .1-6.3 .1,.9 .1-1 .1,6.6 .1-6.6 .1,0 0,9.8 .2-9.8 .1,9.2 .1-5.3 .2-3.9 .2,7.6 .1-6.7 .1,2.2 .1-2.9 0,4.9 .1,0 .1-4.9 .1,1.6 .1-1.4 .1,2.1 0-2.3 .1,0 .2,10.6 .1-8.3 .2-2.1 0,4.5 .2-4.1 .1,2.8 .1-2.6 .1,.1 0,5.3 .2-5.3 .1,5.4 .1-5.1 .1-.9 .1,.2 .1,9.3 .2-9.6 .1,3.4 .1-2.8 0,5.2 .1-3.6 .2,4.1 .2-6.1 .1,4.8 0-2.9 .1,4.5 .1-4.6 .1,2.4 .1-4.3 .1,1.6 0-1.6 .1,.6 .1,4.2 .1-3.4 .2-1.3 .1,6.3 0-6 .1,0 .2,3.2 .1-3.1 .1,6.6 0-6.6 .1,4.1 .2-4.4 .2,1.5 .1-1.5 .1,.5 .3-.4 .1,3.3 .1-3.2 .2,6.4 .1-5.6 .1-.2 0,.3 .1,5.5 .1-6.4 .1,1.8 .1-1.3 .1,9.5 .1-9.8 .1,1.3 .1-1.3 .1,1 .1-.4 .1,.7 0-1.2 .1,.5 .1,9.3 .1-9.9 .2,6.6 .1-6.4 .1,1.3 .2-1.4 .1,7.3 .1-6.2 0,2.5 .1-.1 .1,5.4 .1-5.5 .1,2.1 .2-5.2 .1,6.8 .1-6.7 .2,.6 .1,1.3 0-1.8 .2,3.2 .1-3.4 .2,1.4 .1-1.2 0,3.4 .1-2.1 .1,4.7 .3-5.6 0,2.3 .1-1.1 .1,.9 .1-1 .1,.5 .1-2 .1,2.3 0-1.1 .1,1.3 .1,6 .1-6.7 .1,4.7 .1-6.4 .1,6.4 .1-6.2 .1,.9 .1-1 .3,4 .1-3 .2,6.6 .1-4.2 0,2 .1-5.2 .2,0 .2,2 .1-2 0,.4 .2,5 .1-2 .1,4.6 .1-6.4 .1,6.7 .1-8.1 .2,4.5 .1-1.5 .1,2.1 0-3.4 .1,1.3 .1-2.5 .1,.4 .1-.6 .1,1.1 0-1.3 .3,9.4 .2-9.4 .1,3.9 .1-3.8 .1,8.5 .3-8.5 .1,1 .2-.9 .1,5.2 .1-4.9 .1,.3 .2,9.4 .1-4.9 .2-4.3 .2,9 .1-8.7 .2,4.8 .1-5.2 .1,.6 .1,2.1 .1-2.4 .1,3 .1-2.4 0,6.7 .1-6.5 .1,2.4 .2-2.3 .1,5.2 .1-6.1 .2,5.6 .1-6.1 .2,1.3 0,2.9 .1-2.3 .1,4 .1-3.7 .1,1 .1-2.7 .1,.5 .1-.7 .1,5 .1-4.1 .1,1.5 .1-1 0,6.9 .1-5.2 .1,5.4 .2-8.2 .2,3 0-3.1 .2,2.7 .1-2.7 .1,.1 .1,8.8 0-8.5 .1,9 .2-8.2 .2,.4 .1-1.4 0,3.9 .2-3.8 .1,9.2 .1-7 .1,1.3 0-3.1 .1,6.5 .2-6.6 .1,2 .2-1.4 .1-.4 .1,8.3 .1-6.6 .1,2.8 .1-4.4 0,1.4 .1-1.4 .2,3.2 .3-2.9 .1,5.4 .2-5.5 .1,3.7 .1-3.3 0,6.4 .2-6.8 .1,1.6 .2-1.5 .1,9.2 .1-2.5 .1,1.6 .1-5.1 .1,5.8 .1,.1 0-6.9 .1-1.8 .1,2.6 .1-2.7 .1,5.5 .1-4.6 .1-.7 .1,2 .1,0 .1-1.4 .1,7.3 .1-6.7 .2-1.1 .3,.2 .1,.4 0,3.5 .1-3.4 .1,4.7 .1-4.4 .2,6.4 .2-6.9 .1,0 .1,6.7 .1-5.5 .1,.5 .2-1.5 .1,1.4 .1-.5 .1,7.4 0-8.1 .1,1 .2-1 .1,4.2 .1-4 .1,.3 0,5.2 .1-5.4 .2,3.9 .1-2 .1,3.1 0-2.2 .2,6.2 .1-6.2 .2-1 .1,5.5 .1-6.9 .1,1.2 .1,0 .1-.1 .1-.5 .1,4.6 .1-3 .1,7.3 .1-8.6 .2,2.5 .1-2.6 .1,2.8 .2-2.7 .1,7.5 .2-7.7 .1,.9 .1-1 .1,5.4 .1,.1 0-4.9 .2,1 .1-1.2 .1,1.3 .1-1 .1,5.2 .2-5.1 .1,2.5 .2-2.7 .1,9.5 .2-8.5 .1,8.5 .1-9.2 .1,.7 .1-.6 .1,.4 .1,6.7 .1-5.9 .1,1.3 0-1.8 .1,6.2 .1-5.7 .1,5.3 .1-4.6 .1,3.3 0-4.3 .1-.3 .2,4.8 .2-4.7 .1,5.3 .1-5.2 .1,3.5 .1-3.3 .1,6.7 .1-6.4 0,.2 .1-.3 .1,.6 .1-.2 .1,.6 .1-.5 .1,7.1 .1-7.3 .1,1.8 .3-1.7 0,.9 .1,4.8 .1-3.7 .2,4.8 .2-6.4 .1,8.6 .3-8.4 .3,7 .1-5.6 .2,0 .1-1 0,8.7 .1-7.7 .2-.6 .1,.7 .1,3 0-2.7 .2-.7 .2,4 .1-3.6 .1,8.9 .2-9.1 .1,3.6 .1-2 .1,1.5 0,4.2 .1-7 .3,7.6 .1-7.3 0,6.8 .1-5.1 .1,2.9 .1-4.3 .1,2.6 .1-2.6 .1,1.2 .2-.9 .1,1.3 .1-1 .1,7.4 0-6.8 .2,2.2 .1-1.5 .1,.8 .1-.1 .1-1.8 0,.4 .1-.3 .1,5.9 .1-4 .2,7.7 .1-8.5 .2,2.2 .1-2.4 .2,9.1 .1-8.5 .1-.4 .2,8.9 .1-7.9 0,3 .1-1.6 .1,2.3 .1-4.3 .1,.8 .2,6.9 .1-7.5 .1,1.9 .1-1.3 .2-.3 0,1.6 .1-1.4 .1,4.6 .1-4 .1,5.7 .1-4.6 .1-.6 .2-.6 .3,9.6 0-8.8 .1-.4 .1,7.6 .1-7.2 .1,9.1 .1-9.2 .1,.1 .1,8.4 .1-7.9 .3,1.2 0-1.2 .2,8.1 .2-7.7 .1,5.1 .1-4.7 .1,6.9 .1-5.6 .2-.5 .1,4.7 0-4.9 .2,3.3 .1-2.9 .1,2.3 .1-2.6 .2,2.7 .2-2 .2,6.4 .1-5.4 .3,4.3 .1,4.5 .1-6.9 0,2.7 .1-4.8 .1,1.2 .1-1 .1,1 .1-.8 0,5.2 .1-3.3 .1-.6 .1,1.4 .2,7.2 .1-9.2 .1,5.4 .2-5 .2,2.9 0-2.6 .2,1.7 .1-1.4 .1,1.5 .1-.2 .1,.6 .1,7.9 .3-9 .2,4.9 .1-4.4 .1,3.4 .2-3 .1,3 0-2.7 .1,.7 .1-.5 .1,5.8 .1-5.7 .2,5.3 .1-4.5 .1,8.7 .2-8.6 .1,.3 .1,1.9 .1-.2 .2,1.9 .1-3.3 0,2.1 .1-1.1 .2,3.6 .1-3.9 .1,0 .1,2.9 0-1.9 .1,.7 .1-1 .1,.4 .1,1.5 .1-.5 0,5 .1-6 .1,.3 .2,6.4 .1-5.9 .1-.1 .1,3.4 .1-3.1 .1,8.1 .1-6.3 .1,2.2 .1-3.1 .1,8 .1-7.9 .2,.2 .1,.8 0,4.4 .1-4.9 .1,.2 .1,6.2 .1-4.6 .1,2.6 0-3.5 .2,2 .1-1.7 .3,1.6 0,5.3 .1-3.6 .1-.3 .1,.4 .1-.5 .1,4.5 0-5.5 .1,3.3 .1-3.4 .1,1.4 .2-1.2 .1,4.4 .1-4 .1,6.2 .2-5.5 .1,3.9 0-3.2 .2,1.4 .1-1.5 .1,2.5 .1-.7 .1,4.2 0-3.9 .2,3.4 .1-5 .1,2 .1-.8 .1,1.3 .1-.3 .1,4.7 .1-6.2 .3,4.2 .1,0 .1-3.1 .2,2.1 .1-1.6 .3-1.1 .1,3.2 .1,0 0-.1 .1,.3 .1-3 .1,3.3 .2-3.4 0,7.8 .1-7.8 .1-.2 5,.5 326.5,21.2 152.5,10.6" stroke="#add8e6" stroke-width="5.556" fill="none" stroke-linecap="square"/><path d="M234.3,529.7l.8,.3 .8,.4 .9,.4 .8,.4 .9,.4 .8,.4 .9,.5 .8,.4 .9,.5 .8,.6 .9,.5 .8,.5 .8,.6 .9,.6 .8,.6 .9,.6 .8,.7 .9,.6 .8,.7 .9,.8 .8,.8 .9,.8 .8,.9 .9,.9 .8,1 .8,1 .9,1 .8,1.1 .9,1.1 .8,1.1 .9,1.2 .8,1.2 .9,1.3 .8,1.5 .9,1.5 .8,1.5 .9,1.6 .8,1.6 .8,1.6 .9,1.8 .4,.9 0,2.8-.4,19.8-.9,2.7-.8-3.7-.8-.4-.9-5.9-.8,2.3-.9-7.7-.8,4.1-.9-5.9-.8,1.9-.9-2-.8-4.3-.9,.5-.8-2.6-.9,3.1-.8,0-.8-2.3-.9,.2-.8-4.3-.9-3.2-.8-.6-.9-3.3-.8,3.2-.9-1.2-.8-6.6-.9-1.4-.8,1.2-.9-.1-.8-2.9-.8-3-.9-.3-.8-1.6-.9-.1-.8-3.2-.9,.6-.8-2.2-.9-1.6-.8-1.5-.9-1-.8-1.4-.8-1z" fill="#add8e6"/><path d="M75.8,529.1l1,.9 .9,1.3 .6,1.6 .5,2 .4,2.2 0,.7 .5,159.6 .5-159.9 0-.4 .6-3.6 .9-2.8 .7-1.2 .8-1.1 1-.8 .9-.5 1-.2 1,.2 1,.5 .7,.7 .7,1 .6,1.4 .5,2 .2,.7 .4,164 .4-157.1 .3-4 .4-3.4 .6-2.5 1-2.4 .7-.9 .7-.6 .7-.5 .8-.1 .7,.1 .7,.3 .9,.9 .6,1.2 .6,1.8 .5,2.2 .4,4.5 0,1.7 .5,158.8 .5-165.7 .2-1.6 .8-2.3 .5-1 .6-.8 .6-.5 .6-.3 .7-.1 .6,.2 .8,.8 .7,1.1 .6,1.7 .4,2.1 .3,2 .4,164.4 .4-165 .1-.3 .3-2.3 .7-2.5 .8-1.7 .6-.5 .5-.4 .6-.1 .5,.1 .8,.7 .7,1.3 .5,1.6 .4,2.3 .1,.3 .4,166.5 .4-164.5 .1-1 .4-2.6 .5-2.2 .7-1.7 .5-.6 .5-.4 .5-.1 .4,0 .8,.7 .6,1.3 .5,1.8 .4,2.2 .1,.6 .4,166.5 .4-166.2 .3-1.8 .4-2.2 .5-1.5 .6-1.1 .4-.4 .5-.1 .4,.1 .5,.3 .7,1.4 .6,2.3 .4,2.5 .2,4 .2,12.7 .1-9.1 .2-6.5 .5-4.1 .5-1.7 .5-1.1 .3-.5 .4-.3 .4-.1 .5,.2 .6,1 .6,2 .1,0 .4,170.2 .4-157.1 .4-9.6 .4-3.2 .7-2.4 .7-.9 .4-.2 .3,.1 .7,.9 .6,1.8 .2,.9 0,.4 .5,169.3 .4-165.1 .1-.8 .2-2 .1-1.3 .2-1 .2-.8 .1-.6 .2-.5 .2-.4 .1-.3 .2-.2 .2-.2 .2-.1 .1-.1 .2,0 .2,.1 .1,.1 .2,.2 .2,.3 .1,.3 .2,.5 .2,.5 .1,.7 .1,0 .4,170.7 .4-156.4 .2-7.2 .1-3.1 .2-1.8 .2-1.3 .1-.9 .2-.7 .2-.6 .1-.4 .2-.3 .2-.3 .2-.2 .1-.1 .2,0 .2,0 .1,.1 .2,.1 .2,.3 .1,.3 .2,.4 .2,.6 .1,.7 .2,1 .1,.2 .4,169.6 .4-166.2 .1-1.2 .2-1.6 .2-1.2 .1-.9 .2-.6 .2-.5 .1-.4 .2-.3 .2-.2 .2-.2 .1,0 .2,0 .2,.1 .1,.2 .2,.3 .2,.4 .1,.5 .2,.7 .2,.7 .4,170.4 .4-164.8 .2-2.5 .2-1.8 .1-1.2 .2-.9 .2-.6 .1-.5 .2-.4 .2-.3 .1-.2 .2-.1 .2,.1 .2,0 .1,.2 .2,.3 .2,.4 .1,.6 .2,.7 .2,.9 .1,1.4 .2,2.1 .2,4.2 .1,2.7 .1-.3 .4,160 .4-171.8 .2-.4 .1-.4 .2-.3 .2-.2 .1-.1 .2,0 .2,.1 .1,.2 .2,.3 .2,.5 .2,.6 .1,.9 .2,1.2 .2,1.7 .1,3.1 .2,18 .2-18 .1-3.1 .2-1.8 .2-1.1 .1-.9 .2-.6 .2-.5 .2-.3 .1-.2 .2,0 .4,173.1 .4-171.7 .2,.7 .2,1.1 .1,1.6 .2,2.8 .2,8.4 .2-6.8 .1-3.6 .2-1.9 .2-1.2 .1-.9 .2-.6 .2-.5 .1-.3 .2-.2 .2,0 .1,.1 .2,.2 .2,.3 .2,.6 .1,.7 .2,1 .2,1.5 .1,2.5 .2,6.4 .2-3.4 .1-4.1 .2-2 .2-1.3 .1-.9 .2-.7 .2-.4 .2-.3 .1-.1 .2,0 .2,.1 .1,.3 .2,.4 .2,.7 .1,.9 .2,1.4 .2,2.2 .1,4.8 .2,.4 .2-5.1 .1-2.2 .2-1.4 .2-1 .2-.6 .1-.5 .2-.3 .2-.1 .1,.1 .2,.1 .2,.4 .1,.6 .2,.8 .2,1.1 .1,1.9 .2,3.4 0,1.5 .5,163.1 .5-171.7 0-.3 .2-.5 .2-.3 .1-.1 .2,0 .2,.2 .1,.4 .2,.7 .2,.7 .4,170.9 .4-167.7 .2-1.8 .2-1.4 .1-.8 .2-.6 .2-.4 .1-.1 .2,0 .2,.2 .2,.4 .1,.6 .2,1 .2,1.4 .1,2.5 .2,6.8 .2-4.1 .1-3.9 .2-2 .2-1.2 .1-.8 .2-.5 .2-.3 .2-.1 .1,.1 .2,.3 .2,.6 .1,.9 .2,1.3 .2,2.2 .1,5 .2-.3 .2-4.8 .1-2.2 .2-1.3 .2-.9 .2-.5 .1-.3 .2,0 .1,.1 .4,172.6 .4-161.8 .1,4.2 .2,.4 .1-11.2 .2-2.7 .2-.1 .2-1.2 .1-.2 .2-.1 .2,.1 .1,.4 .2,1.1 .2,3 .1,1.8 .2,8.2 .2-10.2 .1-.9 .2,3.7 .2-4.5 .2-.4 0-1 1.2,171.4 1.1-172.4 1.1,172.4 1.2-172.4 1.2,172.4 1.1-172.3 1.2,172.3 1.1-167 .7-5.1 .2,5.8 .2-5.8 .1,.6 .2,2.4 .2-2.9 .2,.2 .1,5.1 .2-3.5 .2,4.6 .1-1.6 .2,4.5 .2-8.2 .1,.3 .2,.8 .2-2.1 .1,.3 .2,0 .4,171.6 .4-170.9 .1-.2 .1-.5 .2-.1 .2,0 .1,9.8 .2-9.8 .2,4 .1-2.1 .2-1.4 .2,3.1 .4,168.1 .4-171.3 .2,10.6 .2-10.2 .1,4.2 .2-4.2 .2,.2 .1,5.6 .2-5.5 .2,.3 .2-.7 .1,9.7 .2-10 .2,.6 .1,1.6 0,.8 .5,168.3 .5-169.7 0-1.5 .2,4.8 .2-4.1 .2,5.9 .1-6.2 .2,3.2 .2,3.8 .1-2.7 .2-4.5 .2,1.5 .1-1.4 .2,.2 .2-.2 .1,3.3 .2,1.4 .2-3.8 .1,.1 .2-.9 .2,.5 .2,4.9 .1-3.9 .2-.3 .2,.3 .1-.6 .2-.7 .2,6.8 .1-6.6 .2,0 .2,7.5 .1-4 .2,5.5 .2-3.5 .2-5.3 .1,6.8 .2-6.6 .2,1.8 0-.8 1.2,169 1.1-164.6 1.2,164.6 1.1-167.7 1.2,167.7 1.1-169.1 1.2,169.1 1.1-166.3 1.2,166.3 .2-168.3 .2,.9 .2,.5 .1,1.7 .2,5 .2-6.8 .1-1.1 .2,2.7 .2-2.6 .1,.3 .2,4.2 .2-3.4 .2-1 .1,2.6 .2,7.2 .2-6.2 0-2.8 .5,167.1 .5-163.6 0,.9 .1-3.1 .2,1.4 .2,.1 .2-2.6 .1,5.5 .2-5.6 .2,.4 .1,3.3 .2-2.1 .2-1.5 .1,9.6 .2-1.1 0-2.7 .5,161.1 .5-166.1 0,1.7 .2-1.3 .2,3.6 .1-3.7 .2-.4 .2,.1 .1,3.9 0-.5 .5,162.7 .5-163.4 .1-1 .1-.3 .2,.5 .2,6.9 .1-7.1 .2-1 .2,.3 .1,5.4 .2-4.3 .2,.8 .1,.9 .2,6.2 .1-6.3 .5,162.4 .5-160.2 .1,5 .2-7.1 .1,.6 .2,.6 .2-2.7 .1,7.8 .1-6.6 .5,162.6 .5-163.3 0-.1 .1,5.3 .2-5.2 .1,2.5 .2-2.7 .1,9.5 .2-8.5 .1,8.7 .1-9.4 .1,.7 .1-.6 .1,.2 .4,162.9 .4-162.2 .1-.3 .2,4.9 .2-4.8 .1,5.4 .1-5.3 .1,3.5 .1-3.3 .1,6.8 .1-6.5 0,.2 .1-.3 .1,.6 .1-.2 .1,.6 .1-.5 .1,7.2 .1-7.4 .1,1.8 .3-1.7 0,.9 .1,4.8 .1-3.7 .2,4.9 .2-6.5 .1,8.8 .3-8.6 .3,7 .1-5.6 .2,0 .1-1 0,8.7 .1-7.7 .2-.6 .1,.7 .1,3 0-2.7 .2-.7 .2,4 .1-3.6 .1,9 .2-9.1 .1,3.5 .1-2 .1,1.5 0,4.2 .1-7 .3,7.7 .1-7.4 0,6.8 .1-5 .1,2.8 .1-4.3 .1,2.6 0-.3 1,156.4 .9-154.1 .9,154.1 1-155.6 .9,155.6 1-154 .9,154 1-152 .9,152 1-148.1 .9,148.1 1-143.3 .9,143.3 1-145.4 .9,145.4 1-142.9 .9,142.9 1-137.8 .9,137.8 1-136.6 .1,8.6 .2-8.2 .1,4.1 0-3.4 .2,3.3 .1-3.2 .3,6.3 0-4.1 .2,3.1 .1-4.2 .1,9.6 0-8 .5,132.7 .5-128.5 0-3.8 .1,1.7 .1-1.3 0,.6 .1-.3 .1,.2 .2,1.2 .1,8.5 .1-8.5 .2,5.5 .5,124.7 .5-127.9 1,2.6 .5,125.3 .5-123.2 .1,.4 1.5,3 .4,.8 .5,119 .5-117.8 .6,.6 .6,.3 64.6,10 58.3,10.2 41.9,7.9 50,8 64.8,8.9 63.2,8.9 134.5,18.6" stroke="#ff0000" stroke-dasharray="2.083 3.438" stroke-width="2.083" fill="none"/><path d="M234.3,531.5l.8,.3 .8,.4 .9,.3 .8,.4 .9,.5 .8,.4 .9,.4 .8,.5 .9,.5 .8,.5 .9,.6 .8,.5 .8,.6 .9,.6 .8,.6 .9,.6 .8,.7 .9,.6 .8,.7 .9,.8 .8,.8 .9,.8 .8,.9 .9,.9 .8,1 .8,1 .9,1 .8,1.1 .9,1.1 .8,1.1 .9,1.2 .8,1.2 .9,1.3 .8,1.4 .9,1.6 .8,1.5 .9,1.6 .8,1.5 .8,1.6 .9,1.9 .4,.9 0,1-.4,23.7-.9-6.1-.8-1.1-.8,2.5-.9-4.3-.8-.1-.9-2-.8-3.4-.9-.3-.8-3.8-.9-3.5-.8-2.4-.9,2.2-.8-5.9-.9,1.6-.8-4.1-.8-1.3-.9-1.2-.8-1.2-.9,0-.8-3.8-.9-.3-.8-.5-.9-2.6-.8-1.9-.9-.1-.8-2.7-.9,1-.8-3.3-.8,.6-.9-1.2-.8-1.5-.9-.9-.8-1.8-.9-.4-.8-.6-.9-1.1-.8-1.2-.9-1.1-.8-.9-.8-.8z" fill="#ff0000"/><path d="M239.4,539.7h2.1v2.1h-2.1zm.4,.2h2.1v2.1h-2.1zm.3,1.8h2.1v2.1h-2.1zm1.1,3.2h2.1v2.1h-2.1zm2.7,2.5h2.1v2.1h-2.1zm2.7,2.6h2.1v2.1h-2.1zm.9,3.5h2.1v2.1h-2.1zm.2-3.6h2.1v2.1h-2.1zm.4,4.7h2.1v2.1h-2.1zm1.2,1.6h2.1v2.1h-2.1zm.4,1.7h2.1v2.1h-2.1zm2.9,.5h2.1v2.1h-2.1zm1,.8h2.1v2.1h-2.1z" fill="#ff0000"/><path d="M75.8,540.9l.9-1.8 1.1-1.3 1.4-.9 1.4-.4 1.4,.2 1.2,.7 1.1,1.2 .9,1.7 .5,1.6 .3,1.6 .5,4.9 .2,4.8 .1,16.8 .2-19.7 .3-5 .6-3.6 .6-1.9 .7-1.4 .8-1.1 .9-.8 1.1-.4 1.1,0 1,.5 .8,.9 .9,1.5 .6,1.8 .4,2.2 .3,3.3 .3,7.5 .1,16.5 0-19.3 .3-5.4 .4-3.5 .4-1.9 .5-1.5 .6-1.2 .7-.9 .9-.7 .8-.2 .9,.2 .7,.5 .9,1.3 .7,1.8 .5,2.4 .4,3 .2,6 .1,19.8 .1-19 .2-5.3 .4-4.5 .7-3.3 .6-1.2 .5-.9 .6-.7 .7-.3 .7,0 .7,.4 .9,1.2 .7,1.8 .5,2.4 .3,3.2 .3,6.9 .1,19.7 0-21.3 .2-4.5 .3-3 .6-3.4 .8-2.2 .6-.8 .6-.5 .6-.1 .6,.3 .8,.9 .7,1.7 .5,2.4 .3,3 .3,6.3 .1,21.6 .1-21.6 .3-7.3 .5-3.5 .8-2.4 .4-.7 .5-.5 .6-.3 .5,.2 .8,.8 .6,1.6 .6,2.4 .3,3.2 .2,7.2 .1,21.3 .1-23.5 .3-5.6 .3-2.9 .5-2.3 .7-1.6 .4-.5 .4-.3 .7,.2 .7,.8 .5,1.2 .4,1.9 .5,5.2 .3,9.3 .2-10.3 .3-2.9 .4-2.5 .7-2 .3-.5 .4-.3 .5-.1 .3,.2 .4,.5 .4,.7 .6,2.3 .4,3.6 .2,6.9 .1,7.4 .1-8.9 .3-5.8 .5-3.9 .3-1.3 .4-1 .4-.4 .3-.3 .4,.1 .4,.2 .6,1.2 .5,2.2 .3,2.9 .2,2.9 .1,11.1 .2-10.3 .2-3.3 .3-3.2 .6-2.5 .6-1.1 .3-.2 .4,.1 .3,.3 .4,.6 .5,1.8 .5,4.4 .2,9.6 .3-8.4 .4-4.7 .3-1.7 .6-1.4 .5-.5 .3,0 .3,.2 .4,.8 .4,1.6 .5,4.7 .2,4.8 .1,13.3 0-12.8 .3-6.5 .3-2.4 .3-1.9 .5-1.4 .5-.4 .4,.2 .5,.8 .5,2.7 .4,4.1 .2,8.2 .2-7.9 .2-2.7 .3-2.7 .4-1.7 .5-.9 .3-.1 .3,.1 .5,1 .4,1.9 .3,3.4 .3,10.3 .3-10.7 .4-3.2 .4-1.8 .4-.8 .3-.2 .2,.1 .4,.8 .5,1.8 .4,4.5 .2,9.3 .2-8.7 .3-4.4 .4-1.9 .3-1 .4-.4 .5,.3 .3,.8 .3,1.2 .3,3 .2,3.4 .1,9.8 .1-8 .4-6.5 .3-2.3 .3-1.2 .5-.5 .2,.1 .2,.2 .3,1 .3,1.3 .3,3.7 .2,5 .1,14.1 0-14.5 .2-4.8 .4-4.1 .4-1.3 .4-.6 .3,.1 .4,.8 .5,3.4 .1,2.7 .2,8.7 .4-10.7 .3-3 .3-1.4 .4-.6 .3,.1 .2,.3 .3,1.3 .4,2.7 .1,2.9 .2,13.4 .2-12.9 .1-3.2 .5-3.6 .2-.5 .3-.5 .4,.3 .2,.4 .5,3.3 .1,2.6 .2,8.1 .3-9.9 .5-3.8 .4-.8 .2-.1 .1,.1 .4,.8 .1,.8 .4,3.2 .3,7.3 .2-6.3 .3-3.9 .5-1.8 .2-.2 .2,.1 .1,.3 .5,2.8 .2,2.4 .2,13.1 .3-14.5 .5-3.7 .2-.3 .2-.1 .1,.3 .2,0 .2,.6 .1,2.3 .2,.3 .3,9.8 .2-9.7 .4-3 .1,.7 .2-1.3 .3,0 .4,.7 .5,5.3 .1,6.1 .2-.9 .2-7.4 .2-3 .1-.7 .4,0 .3,1.5 .3,7.6 .2-5.7 .2,7.2 .1,.2 .2-8.5 .2,0 .3-2.3 .5,0 .2,1.6 .2-1 .1,1.2 .2,8.4 .2-7.2 .1,1.6 .4-4.5 .2,2.5 .3-2.5 .3,.3 .2,.6 .2,9.6 .1-9.4 .2,1.5 .2,4.7 .1-6.9 .4,3.7 .2-3.7 .1,.5 .2-.1 .2-.7 .1,.3 .2,7.7 .2-6.8 .3,15.1 .2-15.6 .1,5.8 .2-5.2 .2,.2 .2-1.1 .1,.3 .2,8.1 .3-7.3 .2,.5 .2-1.1 .1,.7 .2,10.1 .2-8.3 .1,0 .2,4.6 .2-1.6 .2,6.3 .3-11.2 .2,.5 .1,2.1 .4-3.1 .1,.7 .2,.2 .2-1.2 .1,1.2 .2,5.6 .2-6.7 .2,2.1 .1,8.1 .2-9.6 .2,14.5 .1-13.2 .2-1.6 .2-.1 .1,5.7 .2-4.1 .2-1.5 .1,.5 .2-.4 .2,.6 .2,12 .1-8.7 .2,11.9 .3-14.6 .2,3.6 .2-4.6 .1,13.6 .2-13.4 .2,.1 .1,4.7 .2-4.3 .2,5.1 .2-4.4 .1,8.7 .2-8 .2,1.9 .3-3.5 .2,.1 .1,1.4 .2-1.2 .2,6 .1-3.9 .2-1.2 .2,7.2 .1-7.8 .2-.2 .2,5.2 .2-2.3 .1,.9 .2,4 .2-7.3 .1,7.9 .2-6.8 .3,3.9 .2-4.6 .2,6.9 .5-5.8 .2,2.4 .1-3.9 .2,.3 .2-.2 .1,.5 .2,3.3 .2-3.7 .1,16.5 .2-10 .3-5.7 .2,3.4 .2-4 .2,.1 .1,1.9 .2,0 .2-1.7 .1,13.3 .2-13.3 .2,1 .1,8.9 .2-9.5 .2,.8 .3,8.5 .2,9.4 .2-18.8 .3,.1 .2,7.5 .1-6.2 .2-.2 .2,8.7 .1-8.1 .2-.6 .2,.7 .1,2.8 .4-4.1 .2,0 .1,.3 .2,21.4 .2-17.4 .1,1.6 .2-5.7 .2,9.7 .1-9 .4,4.6 .3-4.9 .2,6.3 .2,1.2 .5-7.5 .1,6 .2-5.6 .2-.2 .3,7 .2-6.9 .1,2.3 .2-1.8 .2,0 .3,5.9 .5-5.9 .2,7.4 .2-7.5 .1,5.8 .2-5.1 .2,1.8 .3-2.2 .2,4 .2-1.2 .3,6.2 .3-8.7 .2-.1 .2,1.3 .1-1.1 .2,.4 .2,.1 .1,2.9 .2-.1 .2,2 .2-2.6 .1,.4 .2-2.6 .2,.9 .1,.3 .2-1 .2-.2 .1,.1 .2,7.2 .2,2 .5-6.5 .2,1 .3-3.3 .2,.5 .3,10.9 .3-11.1 .2,1.9 .3-1.7 .2,.9 .2,15 .2-14.8 .1,4.9 .2,19.9 .2-23.7 .1,2.4 .2,.1 .2,.5 .1-2 .2,.3 .2-2.6 .1,.1 .2,3.7 .2-3.6 .3,7.9 .4-7.1 .1,.4 .2,1.8 .3-2.6 .4,1.4 .1-1.2 .4,.2 .2-.1 .1,.7 .2,7.3 .2-5.3 .1,2.1 .2,13 .2-16.1 .1,2.9 .2,18.1 .2-19.8 .1,13 .2-14 .4,1.6 .1,21.6 .2-20.1 .2-3.6 .1,7.1 .2-6.6 .2,2.7 .1,9.1 .2,2.7 .2-13.6 .1-.9 .2,2.5 .2,12 .3-13.9 .4,4.2 .1-1.5 .2,1.4 .2-.2 .1-1.5 .2,.6 .2-2.2 .1,5.1 .2-4.9 .4,.3 .1,2.5 .2-2.1 .2,17.1 .1-11.9 .2,6.9 .2-4.7 .1-.2 .2-4.1 .2,10.8 .1-7.8 .2,6.5 .2-6.2 .2-1.4 .1,2.8 .2-6.1 .3,27.3 .4-21.8 .1-4.2 .2,5.7 .2-6.1 .1,6.7 .4-6.2 .3,7.8 .2-7.4 .2,.9 .1-.4 .2-.1 .2,6.8 .1-4.8 .2,1.5 .2-2.6 .1-.1 .2,2.4 .2,8.3 .1-10.3 .2,4.6 .2-4.4 .3,.3 .2,6 .2-5.6 .1,.3 .2,5.8 .3-5.3 .2,1.7 .2-1.8 .1,18.6 .2-12.4 .2-3.4 .2,.3 .1,2.2 .2-2 .2,2.1 .1-3.7 .4,8.7 .1-5.7 .2,.5 .3,6.9 .4-9.2 .3,.7 .4,9.1 .1-7.7 .2,.3 .2,14.3 .1-14.3 .2,3.1 .2-3.4 .1-.1 .2,3.2 .2-2.7 .3,12.6 .2-4.4 .2,7.5 .1-15 .2,.7 .2,3.4 .1-3.4 .2,40.2 .2-40.2 .1,13.4 .2-12.3 .2,10.5 .2-10.8 .1,20.2 .3-18.9 .1-1.1 0,2.9 .1,8.3 .1-10.8 .1,.1 .1,21.4 .1-20.1 .1,.9 0-2.5 .1,7.7 .1-6.8 .2,1.2 .1-1.8 0,4.8 .1-4.5 .2-.3 .2,3.3 .1-1.2 0,2.9 .1-4.3 .1,5.2 .2-5.5 .1,6.4 .1-6.6 .1,14.1 .1-14.2 .1,7 .1-6.9 .1,.4 0,12.1 .2-11.8 .2,11.3 .1-12 .1,10.1 .1-7.8 .2-2.5 .2,8.4 .1-8.4 .1,3.5 .2-3.5 .1-.1 0,14.2 .1-10.6 .2,3.6 .1-4.9 .2-1.7 0,2 .3-2.6 .1,9.5 .1,.9 0-6.4 .1,11.3 .1-13.7 .1,1.2 .1-3 .2,.7 0,4.4 .1-5.2 .1,2.9 .1,.2 .1-.1 .1,2.3 0-1.5 .1,4.5 .1-8.3 .1,2.1 .2-2.3 .1,6.7 0-2.9 .1,.5 .1,7.7 .2-12 .1,8.1 0-2 .1,14.5 .1-20.2 .1,13.2 .1-13.2 .2,13.5 0-9.1 .1,10.5 .1-12.3 .1-1.1 .1,.7 .1,19 .2-21 .2-1 .2,5.7 .2-5.7 .1,3.3 .2-3.2 0,19.3 .1-19.6 1,0 330.6,21.5 152.5,10.6" stroke="#008000" stroke-dasharray="2.083 3.438" stroke-width="2.083" fill="none"/><path d="M146.1,534.2l.8,0 .9,0 .8,0 .9,0 .8,0 .9,.1 .8,0 .9,0 .8,0 .9,0 .8,0 .9,0 .8,0 .8,0 .9,0 .8,0 .9,0 .8,0 .9,0 .8,0 .9,.1 .8,0 .9,0 .8,0 .9,0 .8,0 .8,0 .9,0 .8,0 .9,0 .8,.1 .9,0 .8,0 .9,0 .8,0 .9,0 .8,0 .8,0 .9,.1 .8,0 .9,0 .8,0 .9,0 .8,0 .9,.1 .8,0 .9,0 .8,0 .9,0 .8,0 .8,.1 .9,0 .8,0 .9,0 .8,0 .9,.1 .8,0 .9,.1 .8,.1 .9,.1 .8,0 .9,.2 .8,.1 .8,.1 .9,.1 .8,.2 .9,.1 .8,.2 .9,.1 .8,.2 .9,.2 .8,.1 .9,.2 .8,.2 .8,.2 .9,.2 .8,.2 .9,.2 .8,.2 .9,.2 .8,.2 .9,.2 .8,.2 .9,.2 .8,.2 .9,.2 .8,.2 .8,.2 .9,.2 .8,.3 .9,.2 .8,.2 .9,.2 .8,.3 .9,.2 .8,.2 .9,.3 .8,.3 .9,.3 .8,.2 .8,.3 .9,.4 .8,.3 .9,.3 .8,.4 .9,.3 .8,.4 .9,.4 .8,.4 .9,.5 .8,.5 .9,.6 .8,.6 .8,.6 .9,.7 .8,.7 .9,.7 .8,.7 .9,.7 .8,.7 .9,.7 .8,.7 .9,.7 .8,.8 .8,.9 .9,.9 .8,1 .9,.9 .8,.9 .9,.8 .8,.8 .9,.6 .8,.6 .9,.4 .8,.2 .9,0 .8-.1 .8-.1 .9-.1 .8-.2 .9-.2 .8-.2 .9-.2 .8-.1 .6-.1 0,1-.6,8.5-.8,1.1-.9,.5-.8,1.1-.9-1.9-.8,.1-.9,2.5-.8-1.7-.8,.4-.9,1.4-.8-.2-.9-2.3-.8-.2-.9,.9-.8-.9-.9,1.4-.8-1.7-.9,.7-.8-2.8-.9-1.7-.8-2.2-.8,1.4-.9-.6-.8-3.5-.9,2-.8-2.3-.9-.5-.8-.2-.9,.6-.8,.1-.9-1.2-.8-1.5-.8-.4-.9-.2-.8-3.9-.9,.2-.8-1.3-.9,2.2-.8-1.4-.9,.5-.8,0-.9-.3-.8-.7-.9-1.7-.8-1.7-.8-.2-.9,1.5-.8-.3-.9,.9-.8-.2-.9-1.9-.8-1.8-.9,2.4-.8-1.8-.9,.8-.8-2.3-.9-.3-.8,3.2-.8-.6-.9-.6-.8-2.4-.9,.5-.8,1.8-.9,0-.8-1.4-.9-.4-.8,.5-.9-2.5-.8-.6-.9,.2-.8,.5-.8,.7-.9-2-.8,.3-.9,.2-.8,.2-.9,1.5-.8-.6-.9-1.3-.8-.2-.9-.4-.8-.9-.8,2.3-.9-1.3-.8-1.5-.9,.8-.8,1.4-.9-1.3-.8-.7-.9,.8-.8-.7-.9-.8-.8,1.5-.9-.3-.8-.7-.8,.1-.9-.5-.8,1-.9-.1-.8-.2-.9,1.5-.8-.7-.9-1.1-.8-1.1-.9,.3-.8,1.9-.9-1.1-.8-1-.8,1.9-.9,.3-.8,0-.9-.3-.8-1.1-.9,1.1-.8,.6-.9-2.3-.8,1.9-.9-2.5-.8,1-.8-.7-.9,.3-.8-.1-.9-1.6-.8,1.3-.9-.3-.8-1.8-.9,.2-.8-.1-.9-.3-.8,.3-.9-1.5-.8,.9-.8-1.4-.9-.4-.8,.1-.9-.8-.8,.7-.9-1-.8-.5-.9,.2-.8-.7-.9-.3-.8-.3-.9-.4-.8-.4z" fill="#008000"/><path d="M120.1,543.4h2.1v2.1h-2.1zm.2,4.5h2.1v2.1h-2.1zm0-5.8h2.1v2.1h-2.1zm0-.8h2.1v2.1h-2.1zm.1-3.3h2.1v2.1h-2.1zm.7,2.9h2.1v2.1h-2.1zm1.1,7.5h2.1v2.1h-2.1zm.5,3.7h2.1v2.1h-2.1zm.1-15h2.1v2.1h-2.1zm.7,12.9h2.1v2.1h-2.1zm.3-7.3h2.1v2.1h-2.1zm.1-7.6h2.1v2.1h-2.1zm.5,5.1h2.1v2.1h-2.1zm.2-5.7h2.1v2.1h-2.1zm1.3,9.9h2.1v2.1h-2.1zm2.4-5.2h2.1v2.1h-2.1zm.1,8.5h2.1v2.1h-2.1zm1.1-.6h2.1v2.1h-2.1zm.3-2.3h2.1v2.1h-2.1zm.4-1.7h2.1v2.1h-2.1zm2-8.5h2.1v2.1h-2.1zm.2,10h2.1v2.1h-2.1zm1.2-9.1h2.1v2.1h-2.1zm.2,8.4h2.1v2.1h-2.1zm1,2.9h2.1v2.1h-2.1zm.1-7.1h2.1v2.1h-2.1zm.1-2.1h2.1v2.1h-2.1zm.3,5.8h2.1v2.1h-2.1zm.3,6.6h2.1v2.1h-2.1zm.3-11.2h2.1v2.1h-2.1zm1.3,.9h2.1v2.1h-2.1zm0-3.6h2.1v2.1h-2.1zm.4,1.9h2.1v2.1h-2.1zm.3,2.7h2.1v2.1h-2.1zm.5,6h2.1v2.1h-2.1z" fill="#008000"/><path d="M138.8,555.6h2.1v2.1h-2.1zm.6-14h2.1v2.1h-2.1zm0,14h2.1v2.1h-2.1zm0-7.9h2.1v2.1h-2.1zm1.1-9.9h2.1v2.1h-2.1zm.1-1.9h2.1v2.1h-2.1zm.4,16.4h2.1v2.1h-2.1zm.1-3.1h2.1v2.1h-2.1zm.3,2.1h2.1v2.1h-2.1zm.1,2.9h2.1v2.1h-2.1zm.4-9.4h2.1v2.1h-2.1zm.2-8h2.1v2.1h-2.1zm0,5.3h2.1v2.1h-2.1zm.3,3.2h2.1v2.1h-2.1zm.4-2.3h2.1v2.1h-2.1zm.8,13.2h2.1v2.1h-2.1zm.6-15.1h2.1v2.1h-2.1zm.1,6.5h2.1v2.1h-2.1zm0-7.8h2.1v2.1h-2.1zm.4,3.9h2.1v2.1h-2.1zm.5,7.7h2.1v2.1h-2.1zm.1,2.4h2.1v2.1h-2.1zm1-6.7h2.1v2.1h-2.1zm.6-2.3h2.1v2.1h-2.1zm.5,9.4h2.1v2.1h-2.1zm.7-8.7h2.1v2.1h-2.1zm.2-4.4h2.1v2.1h-2.1zm.4,14.7h2.1v2.1h-2.1zm.1-18h2.1v2.1h-2.1zm.1,13.8h2.1v2.1h-2.1zm.1,3.7h2.1v2.1h-2.1zm0-16.3h2.1v2.1h-2.1zm.4,6.6h2.1v2.1h-2.1zm.3,9.5h2.1v2.1h-2.1zm.1-18.7h2.1v2.1h-2.1zm.2,3.7h2.1v2.1h-2.1zm.8,10.4h2.1v2.1h-2.1zm0,.6h2.1v2.1h-2.1zm.1-13.5h2.1v2.1h-2.1zm0,6.2h2.1v2.1h-2.1zm.3,11.1h2.1v2.1h-2.1zm.5-10.4h2.1v2.1h-2.1zm.2-6.4h2.1v2.1h-2.1zm.2,8.4h2.1v2.1h-2.1zm.3-2.1h2.1v2.1h-2.1zm0,5.7h2.1v2.1h-2.1zm.4-10.5h2.1v2.1h-2.1zm0-5.2h2.1v2.1h-2.1zm.1,17.8h2.1v2.1h-2.1zm.2,.3h2.1v2.1h-2.1zm.2-14.2h2.1v2.1h-2.1zm.3,1.5h2.1v2.1h-2.1zm.4,.7h2.1v2.1h-2.1zm.5,14.5h2.1v2.1h-2.1zm1.2-19h2.1v2.1h-2.1zm.6,3.6h2.1v2.1h-2.1zm0,6.4h2.1v2.1h-2.1zm.1-9.3h2.1v2.1h-2.1zm0-2.2h2.1v2.1h-2.1zm.4,1.4h2.1v2.1h-2.1zm0,19.7h2.1v2.1h-2.1zm0-15.1h2.1v2.1h-2.1zm.1-4h2.1v2.1h-2.1zm.1,8.5h2.1v2.1h-2.1zm0,1.8h2.1v2.1h-2.1zm.3-7.8h2.1v2.1h-2.1zm.3-.9h2.1v2.1h-2.1zm.3-1.3h2.1v2.1h-2.1zm0,11.6h2.1v2.1h-2.1zm.3-.3h2.1v2.1h-2.1zm.2,7.4h2.1v2.1h-2.1zm0-8.7h2.1v2.1h-2.1zm.4-8h2.1v2.1h-2.1zm.2,2h2.1v2.1h-2.1zm.5,13.2h2.1v2.1h-2.1zm.5-19.4h2.1v2.1h-2.1zm.6,15.3h2.1v2.1h-2.1zm.1-5.4h2.1v2.1h-2.1zm.3,11.1h2.1v2.1h-2.1zm1.3-5.6h2.1v2.1h-2.1zm.1-8.4h2.1v2.1h-2.1zm.3,2.9h2.1v2.1h-2.1zm.1-8.5h2.1v2.1h-2.1zm.4,4.9h2.1v2.1h-2.1zm.1,9h2.1v2.1h-2.1zm0-11.3h2.1v2.1h-2.1zm.1,15.6h2.1v2.1h-2.1zm.6-6.3h2.1v2.1h-2.1zm1.1,6.1h2.1v2.1h-2.1zm.1-7.5h2.1v2.1h-2.1zm.3-1.9h2.1v2.1h-2.1zm.9,9.8h2.1v2.1h-2.1zm.2-6h2.1v2.1h-2.1zm.4-6.7h2.1v2.1h-2.1zm0,1.9h2.1v2.1h-2.1zm.5-7.9h2.1v2.1h-2.1zm.2-.6h2.1v2.1h-2.1zm.2,19.1h2.1v2.1h-2.1zm.9-11.1h2.1v2.1h-2.1zm0-7.5h2.1v2.1h-2.1zm.3,3.4h2.1v2.1h-2.1zm.1-4.3h2.1v2.1h-2.1zm.4,0h2.1v2.1h-2.1zm.1,17.8h2.1v2.1h-2.1zm.6,.9h2.1v2.1h-2.1zm.5-11.9h2.1v2.1h-2.1zm.2,2.8h2.1v2.1h-2.1zm.3-8.5h2.1v2.1h-2.1zm.1,20.3h2.1v2.1h-2.1zm0-14.4h2.1v2.1h-2.1zm.2,11.2h2.1v2.1h-2.1zm0-11.3h2.1v2.1h-2.1zm.6,7.9h2.1v2.1h-2.1zm.7-2.1h2.1v2.1h-2.1zm.1-12h2.1v2.1h-2.1zm.1,5.8h2.1v2.1h-2.1zm.1,7.5h2.1v2.1h-2.1zm0-7.3h2.1v2.1h-2.1zm.6,10.2h2.1v2.1h-2.1zm.4-15.2h2.1v2.1h-2.1zm0-.7h2.1v2.1h-2.1zm.1,14.8h2.1v2.1h-2.1zm.1,1.4h2.1v2.1h-2.1zm.2-9.2h2.1v2.1h-2.1zm0-3.2h2.1v2.1h-2.1zm.2-1.2h2.1v2.1h-2.1zm.2,15.1h2.1v2.1h-2.1zm.1-7h2.1v2.1h-2.1zm.1-2.3h2.1v2.1h-2.1zm0-.5h2.1v2.1h-2.1zm.2,10.7h2.1v2.1h-2.1zm1.3-11.6h2.1v2.1h-2.1zm.1,6.7h2.1v2.1h-2.1zm.2-6.3h2.1v2.1h-2.1zm.2,11h2.1v2.1h-2.1zm0-8.4h2.1v2.1h-2.1zm1.1,4.2h2.1v2.1h-2.1zm.5-2.8h2.1v2.1h-2.1zm.9-5.5h2.1v2.1h-2.1zm.2,4.3h2.1v2.1h-2.1zm1-7.4h2.1v2.1h-2.1zm.1,13.9h2.1v2.1h-2.1zm.2-7.1h2.1v2.1h-2.1zm.2-3h2.1v2.1h-2.1zm.1-4.4h2.1v2.1h-2.1zm.3,11h2.1v2.1h-2.1zm.3,5.5h2.1v2.1h-2.1zm.2-13.4h2.1v2.1h-2.1zm.1,.1h2.1v2.1h-2.1zm.2-4.7h2.1v2.1h-2.1zm.2,2.7h2.1v2.1h-2.1zm.6-.4h2.1v2.1h-2.1zm.1,14.3h2.1v2.1h-2.1zm.2-5.8h2.1v2.1h-2.1zm.2,6.1h2.1v2.1h-2.1zm.2-7.2h2.1v2.1h-2.1zm.2-11.1h2.1v2.1h-2.1zm0,14h2.1v2.1h-2.1zm.6,1.7h2.1v2.1h-2.1zm.1,2h2.1v2.1h-2.1zm.2,2.3h2.1v2.1h-2.1zm.4-16.9h2.1v2.1h-2.1zm0,12.4h2.1v2.1h-2.1zm.1-14.4h2.1v2.1h-2.1zm0,7.9h2.1v2.1h-2.1zm.5-8.3h2.1v2.1h-2.1zm.2,19.4h2.1v2.1h-2.1zm.2,1.4h2.1v2.1h-2.1zm.1-10.6h2.1v2.1h-2.1zm.3-5.3h2.1v2.1h-2.1zm.1,7.1h2.1v2.1h-2.1zm0,6h2.1v2.1h-2.1zm.4-8.7h2.1v2.1h-2.1zm.4,10.2h2.1v2.1h-2.1zm.5-11.5h2.1v2.1h-2.1zm.1,12.2h2.1v2.1h-2.1zm.2,.5h2.1v2.1h-2.1zm.1-14.8h2.1v2.1h-2.1zm.6,11.4h2.1v2.1h-2.1zm.3-12.7h2.1v2.1h-2.1zm0,11.3h2.1v2.1h-2.1zm.5-10.1h2.1v2.1h-2.1zm.8,1.1h2.1v2.1h-2.1zm0,8.9h2.1v2.1h-2.1zm.5,4.7h2.1v2.1h-2.1zm.8-.9h2.1v2.1h-2.1zm.2-12.7h2.1v2.1h-2.1zm.6,13.1h2.1v2.1h-2.1zm.1-15.2h2.1v2.1h-2.1zm.1,11.4h2.1v2.1h-2.1zm0,2.9h2.1v2.1h-2.1zm0-16.7h2.1v2.1h-2.1zm.6,10h2.1v2.1h-2.1zm.1-3.8h2.1v2.1h-2.1zm.2,9.8h2.1v2.1h-2.1zm0-12.2h2.1v2.1h-2.1zm.2,.8h2.1v2.1h-2.1zm.1,1.1h2.1v2.1h-2.1zm.3,11.7h2.1v2.1h-2.1zm.3-19.1h2.1v2.1h-2.1zm.1,14.9h2.1v2.1h-2.1zm.2-2.5h2.1v2.1h-2.1zm.5,3.3h2.1v2.1h-2.1zm.4-.7h2.1v2.1h-2.1zm0-2.3h2.1v2.1h-2.1zm.1-1.3h2.1v2.1h-2.1zm.1-9.3h2.1v2.1h-2.1zm.1,10.3h2.1v2.1h-2.1zm.4,7.1h2.1v2.1h-2.1zm.1-3.8h2.1v2.1h-2.1zm0-16.3h2.1v2.1h-2.1zm.1,.6h2.1v2.1h-2.1zm.4,5.5h2.1v2.1h-2.1zm.3,3.4h2.1v2.1h-2.1zm.1,5.6h2.1v2.1h-2.1zm.3-2.1h2.1v2.1h-2.1zm.9-1.7h2.1v2.1h-2.1zm.1-9.8h2.1v2.1h-2.1zm.6,2.5h2.1v2.1h-2.1zm.1-1.4h2.1v2.1h-2.1zm.2,10.9h2.1v2.1h-2.1zm.3-7.1h2.1v2.1h-2.1zm.3,.7h2.1v2.1h-2.1zm.1,3.9h2.1v2.1h-2.1zm.3,8.4h2.1v2.1h-2.1zm.2-12.8h2.1v2.1h-2.1zm0,13.3h2.1v2.1h-2.1zm.5-11.5h2.1v2.1h-2.1zm0-3.8h2.1v2.1h-2.1zm.4-1.5h2.1v2.1h-2.1zm.3,4h2.1v2.1h-2.1zm0-1.1h2.1v2.1h-2.1zm.3,2.4h2.1v2.1h-2.1zm.4-5.8h2.1v2.1h-2.1zm0,13.4h2.1v2.1h-2.1zm0,1h2.1v2.1h-2.1zm.2,5.5h2.1v2.1h-2.1zm.3-15.5h2.1v2.1h-2.1zm.1,1.2h2.1v2.1h-2.1zm.5,1.2h2.1v2.1h-2.1zm.1-8.3h2.1v2.1h-2.1zm.2,6.8h2.1v2.1h-2.1zm.1,14.6h2.1v2.1h-2.1zm.2-21.3h2.1v2.1h-2.1zm.1,7.7h2.1v2.1h-2.1zm0,6.4h2.1v2.1h-2.1zm.2-12.8h2.1v2.1h-2.1zm0,3.6h2.1v2.1h-2.1zm.4,15.8h2.1v2.1h-2.1zm.2-19.7h2.1v2.1h-2.1zm1.1,5h2.1v2.1h-2.1zm.2,.7h2.1v2.1h-2.1zm.2,11.2h2.1v2.1h-2.1zm.2-.1h2.1v2.1h-2.1zm.4-6.4h2.1v2.1h-2.1zm.3,8.9h2.1v2.1h-2.1zm.1-12.3h2.1v2.1h-2.1zm0,14.2h2.1v2.1h-2.1zm.7-2.7h2.1v2.1h-2.1zm.2-10.6h2.1v2.1h-2.1zm.3-5.2h2.1v2.1h-2.1zm.4,14.3h2.1v2.1h-2.1zm.3-12.1h2.1v2.1h-2.1zm.1,12.3h2.1v2.1h-2.1zm.1-.5h2.1v2.1h-2.1zm.3-1h2.1v2.1h-2.1zm.5-12.4h2.1v2.1h-2.1zm.1,6.4h2.1v2.1h-2.1zm.3,2.7h2.1v2.1h-2.1zm.1,6.9h2.1v2.1h-2.1zm.1-14.6h2.1v2.1h-2.1zm0,11.9h2.1v2.1h-2.1zm.1,1.8h2.1v2.1h-2.1zm.3,3.8h2.1v2.1h-2.1zm.1-.2h2.1v2.1h-2.1zm.4-6.2h2.1v2.1h-2.1zm.4-8.8h2.1v2.1h-2.1zm.1-5.2h2.1v2.1h-2.1zm.4,11.6h2.1v2.1h-2.1zm.6-5.8h2.1v2.1h-2.1zm.5,1.6h2.1v2.1h-2.1zm.6,5.8h2.1v2.1h-2.1zm.3,6.3h2.1v2.1h-2.1zm.6-11.7h2.1v2.1h-2.1zm.6,11.3h2.1v2.1h-2.1zm.2-9.6h2.1v2.1h-2.1zm.3-6.9h2.1v2.1h-2.1zm.2,13.5h2.1v2.1h-2.1zm.2-15.1h2.1v2.1h-2.1zm.2,3.8h2.1v2.1h-2.1zm.8,15.8h2.1v2.1h-2.1zm.6-12.5h2.1v2.1h-2.1zm.2,9.4h2.1v2.1h-2.1zm.1-1.2h2.1v2.1h-2.1zm.2-14.8h2.1v2.1h-2.1zm0,.6h2.1v2.1h-2.1zm.1,9h2.1v2.1h-2.1zm.3,10.5h2.1v2.1h-2.1zm0-1.8h2.1v2.1h-2.1zm.2-8.4h2.1v2.1h-2.1zm.7,5.7h2.1v2.1h-2.1zm.2-6.9h2.1v2.1h-2.1zm.2-4.3h2.1v2.1h-2.1zm.5,14.7h2.1v2.1h-2.1zm0-18.8h2.1v2.1h-2.1zm.2,9.5h2.1v2.1h-2.1zm1.7,4.8h2.1v2.1h-2.1zm.2-7.6h2.1v2.1h-2.1zm.4,11.4h2.1v2.1h-2.1zm.3-13.9h2.1v2.1h-2.1zm0,14.4h2.1v2.1h-2.1zm0-11.1h2.1v2.1h-2.1zm.1,5.8h2.1v2.1h-2.1zm.8,6.4h2.1v2.1h-2.1zm0,.8h2.1v2.1h-2.1zm.3-18.6h2.1v2.1h-2.1zm.2,15.4h2.1v2.1h-2.1zm.2-3.4h2.1v2.1h-2.1zm.2-5.2h2.1v2.1h-2.1zm0,.9h2.1v2.1h-2.1zm.4,9.4h2.1v2.1h-2.1zm.4-13.3h2.1v2.1h-2.1zm.4,1.8h2.1v2.1h-2.1zm.7,2.8h2.1v2.1h-2.1zm.3-.7h2.1v2.1h-2.1zm.4-2.8h2.1v2.1h-2.1zm.4-.8h2.1v2.1h-2.1zm.3,14.5h2.1v2.1h-2.1zm.2-.3h2.1v2.1h-2.1zm.4-15.5h2.1v2.1h-2.1zm.8,15h2.1v2.1h-2.1zm.8,.6h2.1v2.1h-2.1zm.9-8.5h2.1v2.1h-2.1zm0-4.4h2.1v2.1h-2.1zm.2-1.7h2.1v2.1h-2.1zm.2,16.7h2.1v2.1h-2.1zm0-9.5h2.1v2.1h-2.1zm.8,10.9h2.1v2.1h-2.1zm.2-3.5h2.1v2.1h-2.1zm.2-.3h2.1v2.1h-2.1zm0-4.6h2.1v2.1h-2.1zm.1-9.4h2.1v2.1h-2.1zm.2-1.9h2.1v2.1h-2.1zm.1,8.5h2.1v2.1h-2.1zm.6-2.7h2.1v2.1h-2.1zm.3,14.8h2.1v2.1h-2.1zm.9-12.1h2.1v2.1h-2.1zm.6-7.5h2.1v2.1h-2.1zm.4,6.1h2.1v2.1h-2.1zm.3-3.4h2.1v2.1h-2.1zm1,16.6h2.1v2.1h-2.1zm.1-12.3h2.1v2.1h-2.1zm.2-4.9h2.1v2.1h-2.1zm0,17.1h2.1v2.1h-2.1zm.2,3.3h2.1v2.1h-2.1zm0-9.8h2.1v2.1h-2.1zm.3-5.3h2.1v2.1h-2.1zm.1-.4h2.1v2.1h-2.1zm.2,3.3h2.1v2.1h-2.1zm.1,7.8h2.1v2.1h-2.1zm.4-6.6h2.1v2.1h-2.1zm.3-2.5h2.1v2.1h-2.1zm.8,9.2h2.1v2.1h-2.1zm0,2h2.1v2.1h-2.1zm.3-7.5h2.1v2.1h-2.1zm0-8.3h2.1v2.1h-2.1zm.1,7.5h2.1v2.1h-2.1zm.2,8h2.1v2.1h-2.1zm.4-12.4h2.1v2.1h-2.1zm.3,12.8h2.1v2.1h-2.1zm.1,5.3h2.1v2.1h-2.1zm0-15.4h2.1v2.1h-2.1zm1.1,4.9h2.1v2.1h-2.1zm.1-7.6h2.1v2.1h-2.1zm.2,8.8h2.1v2.1h-2.1zm0-11.4h2.1v2.1h-2.1zm.1,13h2.1v2.1h-2.1zm.1,4.4h2.1v2.1h-2.1zm.2-10.7h2.1v2.1h-2.1zm0,10.6h2.1v2.1h-2.1zm.2,2h2.1v2.1h-2.1zm.3-11.9h2.1v2.1h-2.1zm0,2.3h2.1v2.1h-2.1zm.2,11.5h2.1v2.1h-2.1zm0-13.2h2.1v2.1h-2.1zm.3-1h2.1v2.1h-2.1zm.1-1.2h2.1v2.1h-2.1zm.2,14.3h2.1v2.1h-2.1zm.4-4.7h2.1v2.1h-2.1zm0-2.2h2.1v2.1h-2.1zm.4-6.6h2.1v2.1h-2.1zm.1,15.9h2.1v2.1h-2.1zm.1-6.5h2.1v2.1h-2.1zm.9,7.5h2.1v2.1h-2.1zm.2-18.7h2.1v2.1h-2.1zm.2,8.4h2.1v2.1h-2.1zm.6-5.3h2.1v2.1h-2.1zm.1,4.6h2.1v2.1h-2.1zm.5,13.7h2.1v2.1h-2.1zm.2-19.9h2.1v2.1h-2.1zm.4,8.3h2.1v2.1h-2.1zm.1,10.7h2.1v2.1h-2.1zm.2-8.8h2.1v2.1h-2.1zm1,10h2.1v2.1h-2.1zm.3-.7h2.1v2.1h-2.1zm.3-.9h2.1v2.1h-2.1zm0-.5h2.1v2.1h-2.1zm.7-7.1h2.1v2.1h-2.1zm.1-6.9h2.1v2.1h-2.1zm.3,4.3h2.1v2.1h-2.1zm.8,14.5h2.1v2.1h-2.1zm.1-17.8h2.1v2.1h-2.1zm.1,7h2.1v2.1h-2.1zm.3,6.8h2.1v2.1h-2.1zm.1-6.1h2.1v2.1h-2.1zm.2,11.6h2.1v2.1h-2.1zm.2-9.3h2.1v2.1h-2.1zm.1-.2h2.1v2.1h-2.1zm0,2.6h2.1v2.1h-2.1zm1.2-8.1h2.1v2.1h-2.1zm.6,2.5h2.1v2.1h-2.1zm.1-1.8h2.1v2.1h-2.1zm.7,5.2h2.1v2.1h-2.1zm.2,1.6h2.1v2.1h-2.1zm.2-6h2.1v2.1h-2.1zm.1,8.5h2.1v2.1h-2.1zm.9,8.1h2.1v2.1h-2.1zm.1-8.7h2.1v2.1h-2.1zm.1-8.7h2.1v2.1h-2.1zm.7-3.8h2.1v2.1h-2.1zm.7,21.1h2.1v2.1h-2.1zm0-15.6h2.1v2.1h-2.1zm0,5.6h2.1v2.1h-2.1zm0-.4h2.1v2.1h-2.1zm.1-9.9h2.1v2.1h-2.1zm.2,11.6h2.1v2.1h-2.1zm.2,8.5h2.1v2.1h-2.1zm.1-3.5h2.1v2.1h-2.1zm.1-14.8h2.1v2.1h-2.1zm.4,16.9h2.1v2.1h-2.1zm.8-16.6h2.1v2.1h-2.1zm.4,12.9h2.1v2.1h-2.1zm.3,1.5h2.1v2.1h-2.1zm0-13.5h2.1v2.1h-2.1zm.2-4.6h2.1v2.1h-2.1zm.1-.1h2.1v2.1h-2.1zm.2,4.7h2.1v2.1h-2.1zm.4,11.5h2.1v2.1h-2.1zm.1,4.5h2.1v2.1h-2.1zm.1,.3h2.1v2.1h-2.1zm.3-14.6h2.1v2.1h-2.1zm.6,6.9h2.1v2.1h-2.1zm0-9.4h2.1v2.1h-2.1zm.1-3.6h2.1v2.1h-2.1z" fill="#008000"/><path d="M75.8,549.1l.7,.5 .7,.8 1,1.9 .7,2.9 .5,3.6 .2,6.1 .1,29.5 .1-29.2 .1-5.1 .3-3.2 .6-3.6 .4-1.5 .6-1.5 .7-1.2 .7-1 .9-.8 .9-.5 1-.3 1,.1 .9,.4 .8,.7 .7,1 .6,1.3 .5,1.7 .4,1.9 .3,3.4 .2,3.8 .1,32 0-27.2 .2-7.2 .3-3.6 .5-3.4 .8-2.8 .6-1.2 .6-.8 .7-.7 .7-.5 .9-.2 .8,.2 .9,.5 .6,.8 .6,1.1 .5,1.4 .7,3.8 .3,3.3 .1,5.8 .1,29.7 .1-32 .3-5.6 .4-3.5 .8-3 1-2 .6-.7 .6-.4 .7-.2 .8,.1 .7,.5 .5,.8 .6,1 .4,1.3 .6,3.4 .2,3.1 .2,5.1 .1,31.4 .1-31.9 .2-6.1 .4-3.6 .6-2.5 .9-1.9 .5-.7 .6-.5 .7-.1 .5,.1 .6,.5 .6,.9 .5,1 .4,1.5 .5,3.5 .3,7.4 .1,31.9 .1-32.4 .2-4.9 .3-3.7 .6-3.1 .8-1.9 .5-.7 .5-.4 .6-.2 .6,.3 .5,.5 .5,.9 .7,2.6 .5,3.4 .2,5.2 .1,34 .1-30.6 .1-6.4 .4-4.2 .5-2.8 .8-2.1 .4-.6 .4-.3 .4-.2 .4,.1 .5,.4 .4,.6 .6,1.5 .5,2.5 .4,5.5 .2,15.2 .1-11.6 .2-6.5 .5-4.1 .5-1.7 .4-1 .7-1 .5-.1 .3,.1 .4,.4 .4,.5 .5,1.8 .5,2.4 .2,2.8 .3,9.3 .2-8.1 .3-3.4 .4-2.8 .7-2.1 .7-.9 .4-.1 .3,.1 .7,1 .5,1.6 .5,3.7 .5,4.9 .5-7.2 .5-2.4 .5-1.2 .6-.6 .5,0 .5,.6 .5,1.3 .5,2.9 .5,23.7 .5-23.7 .5-2.9 .5-1.4 .5-.6 .5,.1 .5,.7 .5,1.7 .6,4.1 .5,2.1 .5-5.6 .5-2.1 .5-.9 .5-.1 .5,.6 .5,1.5 .5,3.9 .5,3 .5-6.1 .5-2 .5-.9 .6,0 .5,.9 .5,2.2 .5,7.6 .5-5.8 .5-3.4 .5-1.3 .5-.3 .5,.6 .5,2 .5,6 .5-3.1 .5-3.8 .6-1.4 .5-.3 .5,.8 .5,2.5 .5,12.8 .5-12.3 .5-2.8 .5-.9 .5,.2 .5,1.6 .5,5 .5-1 .5-4.3 .6-1.3 .5,0 .5,1.4 .5,4.5 .5,.1 .5-4.6 .5-1.4 .5,.1 .5,1.8 .5,6.4 .5-4 .5-3.4 .5-.9 .5,.7 .6,3 .5,6.4 .5-7.9 .5-1.8 .5,0 .5,2 .5,10.8 .5-10 .5-2.5 .5-.2 .5,1.7 .5,8.6 .5-7.2 .6-2.8 .5,0 .5,2.7 .5,3.8 .5-5.1 .5-1.5 .5,1.1 .5,7.9 .5-4.3 .5-4.2 .5-.2 .5,2.4 .5,12.8 .6-14.6 .5-.3 .5,2.6 .5,1.7 .5-2.7 .5-.9 .5-.2 .5,3.1 .5-.7 .5-1.2 .5,5.1 .5,5.5 .5-9.8 .6,0 .5,11.6 .5-13.1 .5,.8 .5,12.2 .5-12.6 .5,7.6 .5-8 .5,.1 .5,.6 .5,2.8 .5,6 .5-3.1 .6-6 .5,7 .5-6.8 .5,1.4 .5-.4 .5,6.6 .5-7.4 .5,.2 .5,9.9 .5-7.5 .5,3.2 .5,.5 .5-1.7 .5-2.7 .6,3.3 .5-4.1 .5-.3 .5,5.5 .5,.2 .5-3.5 .5,2.6 .5-3 .5-.6 .5,16.6 .5-11.1 .5,5.1 .5,2.9 .6-13.6 .5,.5 .5,6 .5-5.4 .5-.9 .5,.1 .5,4.5 .5,6 .5-7.6 .5-1.1 .5,1.2 .5-1.6 .5-.5 .6,.1 .5,1 .5-.9 .5,.8 .5,.6 .5-.9 .5,4.4 .5,1.3 .5,2.8 .5-3.2 .5-2.6 .5-1.6 .5,1.7 .6-1.2 .5,5.5 .5-2.7 .5-.8 .5,1.5 .5,1.4 .5-.9 .5-.3 .5-1.8 .5,9.4 .5-6.1 .5-1.5 .5-.1 .6,1.3 .5,.1 .5,.8 .5,7.2 .5-8.3 .5,.8 .5-.4 .5,.6 .5,.1 .5,.7 .5-.1 .5,2.3 .5-.6 .6,3.4 .5-2.2 .5-.4 .5,2 .5-1.5 .5,4.4 .5-4.4 .5,12.3 .5-.4 .5-10.7 .5,9.8 .5-7.5 .5,5.6 .5,1.4 .6-7.7 .5,1.4 .5,1.5 .5,.2 .5,.1 .5,.1 .5,2.2 .5-2 .5,1.6 .5-.8 .5,.5 .5,2.4 .5,8.1 .6-2.6 .5,12.9 .5-7.3 .5-10.1 .5,.7 .5,.4 .5,2.8 .5-1.6 .5,.6 .5,.3 .5,.9 .3,.2 .1,.4 .1,5.8 0-6.1 .2,4.2 .1-2.9 .2,8.1 .1-6.1 .1,2.5 .2-.2 .2-3.4 0,11.4 .1-11.9 .1,3.5 .2-3.3 .1,4.8 .2-4.4 .2,8.2 .1-7.6 .1,3.9 0-3.6 .2-.1 .2,6.8 .1-6.3 .1,10.7 .1-10.4 .1,.1 .2,6.4 .1-6.1 0,.3 .2,16.8 .1-13.5 .2,12.8 0-10.6 .1,2.1 .1-5.2 .1,4.4 .1-3.5 .1,10.4 .1-12.3 0,5.8 .1-5.6 .3,16.3 .3-15.6 .1,0 .1,1.5 .1,9 .1-10.2 .4,.6 .1,1.1 .1,2.4 .1,12.7 .1-16 1,.9 .9,.5 1,.3 .9,.1 .1,39.2 .1-39.2 2.6,0 4.8,.4 59.7,5.8 58.4,9.5 41.9,8.7 50,9.8 128,26 134.5,28.2" stroke="#000000" stroke-dasharray="2.083 3.438" stroke-width="2.083" fill="none"/><path d="M256.9,570.2h2.1v2.1h-2.1zm.4,4.1h2.1v2.1h-2.1zm.3,1.7h2.1v2.1h-2.1zm0-6.2h2.1v2.1h-2.1zm.1,.4h2.1v2.1h-2.1zm0,4.3h2.1v2.1h-2.1zm.1-4.4h2.1v2.1h-2.1zm.2,9.4h2.1v2.1h-2.1zm0-9.5h2.1v2.1h-2.1zm.1,1.4h2.1v2.1h-2.1zm0-4.2h2.1v2.1h-2.1zm.4,11.3h2.1v2.1h-2.1zm.3,4.4h2.1v2.1h-2.1zm0-3.1h2.1v2.1h-2.1zm.2-8.9h2.1v2.1h-2.1zm.3,4.5h2.1v2.1h-2.1zm0,7.2h2.1v2.1h-2.1zm.1-4.8h2.1v2.1h-2.1zm.1-7h2.1v2.1h-2.1zm0,6.8h2.1v2.1h-2.1zm.1-5.4h2.1v2.1h-2.1zm0,12.1h2.1v2.1h-2.1zm.1-7.9h2.1v2.1h-2.1zm.1,4h2.1v2.1h-2.1zm.6-1.7h2.1v2.1h-2.1zm.4-1.8h2.1v2.1h-2.1zm.3,5.1h2.1v2.1h-2.1zm.1,1.3h2.1v2.1h-2.1zm.4-15.7h2.1v2.1h-2.1zm.3,5.9h2.1v2.1h-2.1zm.1,10h2.1v2.1h-2.1zm.2,3.6h2.1v2.1h-2.1zm.1-11.5h2.1v2.1h-2.1zm.1-7.5h2.1v2.1h-2.1zm0,23.7h2.1v2.1h-2.1zm0-18.9h2.1v2.1h-2.1zm.1,7.4h2.1v2.1h-2.1zm0-12.2h2.1v2.1h-2.1zm.1,15.3h2.1v2.1h-2.1zm.3-8.4h2.1v2.1h-2.1zm.1,14.8h2.1v2.1h-2.1zm0-19.6h2.1v2.1h-2.1zm0,.4h2.1v2.1h-2.1zm0,7.9h2.1v2.1h-2.1zm.2,8.2h2.1v2.1h-2.1zm0,2.2h2.1v2.1h-2.1zm.2-1.5h2.1v2.1h-2.1zm0,7h2.1v2.1h-2.1zm.1-8.6h2.1v2.1h-2.1zm0,7.1h2.1v2.1h-2.1zm.2-5.2h2.1v2.1h-2.1zm.1,7.5h2.1v2.1h-2.1zm.1-16.8h2.1v2.1h-2.1zm.1-5.8h2.1v2.1h-2.1zm.1,23.8h2.1v2.1h-2.1zm.2-22.6h2.1v2.1h-2.1zm.1,1.9h2.1v2.1h-2.1zm0,2.9h2.1v2.1h-2.1zm.1,.5h2.1v2.1h-2.1zm.1,13.2h2.1v2.1h-2.1zm.1-17.9h2.1v2.1h-2.1zm.1,9h2.1v2.1h-2.1zm.2-1.3h2.1v2.1h-2.1zm.2-.1h2.1v2.1h-2.1zm.3-5.9h2.1v2.1h-2.1zm.2,9.2h2.1v2.1h-2.1zm.1-.3h2.1v2.1h-2.1zm0,1.4h2.1v2.1h-2.1zm.2,6.2h2.1v2.1h-2.1zm.2-9.2h2.1v2.1h-2.1zm0,2.1h2.1v2.1h-2.1zm0,3.6h2.1v2.1h-2.1zm.1,3.8h2.1v2.1h-2.1zm.2-13.2h2.1v2.1h-2.1zm.1-3.4h2.1v2.1h-2.1zm.1,9.2h2.1v2.1h-2.1zm.3,1.1h2.1v2.1h-2.1zm0,4.7h2.1v2.1h-2.1zm0-14.4h2.1v2.1h-2.1zm.1-1.3h2.1v2.1h-2.1zm0,21h2.1v2.1h-2.1zm.1-22.2h2.1v2.1h-2.1zm.2,3.9h2.1v2.1h-2.1zm.2,6.7h2.1v2.1h-2.1zm0-3.9h2.1v2.1h-2.1zm0,16.7h2.1v2.1h-2.1zm.4-1.8h2.1v2.1h-2.1zm.1-8.5h2.1v2.1h-2.1zm0-8h2.1v2.1h-2.1zm0-.1h2.1v2.1h-2.1zm.1-.2h2.1v2.1h-2.1zm0,17.9h2.1v2.1h-2.1zm.3-20.8h2.1v2.1h-2.1zm0,2.7h2.1v2.1h-2.1zm.1,15.6h2.1v2.1h-2.1zm.1-8h2.1v2.1h-2.1zm.3-5.8h2.1v2.1h-2.1zm.1,11h2.1v2.1h-2.1zm.1-14.1h2.1v2.1h-2.1zm.2,14.6h2.1v2.1h-2.1zm.2-4.9h2.1v2.1h-2.1zm.2-10h2.1v2.1h-2.1zm.2,3.9h2.1v2.1h-2.1zm0,7.2h2.1v2.1h-2.1zm0-3h2.1v2.1h-2.1zm.1,1.7h2.1v2.1h-2.1zm.1-7.8h2.1v2.1h-2.1zm0-.4h2.1v2.1h-2.1zm.1,13.3h2.1v2.1h-2.1zm.1-4.4h2.1v2.1h-2.1zm.4-6h2.1v2.1h-2.1zm.1,15.2h2.1v2.1h-2.1zm.1-18.3h2.1v2.1h-2.1zm.2,13.8h2.1v2.1h-2.1zm.1-7.1h2.1v2.1h-2.1zm0,8.2h2.1v2.1h-2.1zm.3,2.2h2.1v2.1h-2.1zm0-9.8h2.1v2.1h-2.1zm0,2.1h2.1v2.1h-2.1zm.4-2.6h2.1v2.1h-2.1zm0,10.9h2.1v2.1h-2.1zm.1-14h2.1v2.1h-2.1zm.2,2.2h2.1v2.1h-2.1zm.2,10.3h2.1v2.1h-2.1zm0-10.4h2.1v2.1h-2.1zm.2,7.8h2.1v2.1h-2.1zm.3,.5h2.1v2.1h-2.1zm.3-11.7h2.1v2.1h-2.1zm.4,10h2.1v2.1h-2.1zm.2-2.6h2.1v2.1h-2.1zm0,.1h2.1v2.1h-2.1zm.3-3.1h2.1v2.1h-2.1zm.4-1.6h2.1v2.1h-2.1zm.2,3.1h2.1v2.1h-2.1zm.9-1.6h2.1v2.1h-2.1z" fill="#000000"/></g></g><g id="patch_18"><path d="M 54.576 491.292  L 54.576 370.1232  " style="fill: none; stroke: #000000; stroke-width: 0.8; stroke-linejoin: miter; stroke-linecap: square"/></g><g id="patch_19"><path d="M 541.8 491.292  L 541.8 370.1232  " style="fill: none; stroke: #000000; stroke-width: 0.8; stroke-linejoin: miter; stroke-linecap: square"/></g><g id="patch_20"><path d="M 54.576 491.292  L 541.8 491.292  " style="fill: none; stroke: #000000; stroke-width: 0.8; stroke-linejoin: miter; stroke-linecap: square"/></g><g id="patch_21"><path d="M 54.576 370.1232  L 541.8 370.1232  " style="fill: none; stroke: #000000; stroke-width: 0.8; stroke-linejoin: miter; stroke-linecap: square"/></g><g id="text_34"><!-- $z = 6.5\times10^{3}$ --><g transform="translate(69.1927 485.2336)"><text><tspan x="0.0000" y="-0.9766" style="font-style: oblique; font-size: 10px; font-family: 'DejaVu Sans'">z</tspan><tspan x="7.1973" y="-0.9766" style="font-size: 10px; font-family: 'DejaVu Sans'">=</tspan><tspan x="16.8044" y="-0.9766" style="font-size: 10px; font-family: 'DejaVu Sans'">6</tspan><tspan x="23.0371" y="-0.9766" style="font-size: 10px; font-family: 'DejaVu Sans'">.</tspan><tspan x="26.2158" y="-0.9766" style="font-size: 10px; font-family: 'DejaVu Sans'">5</tspan><tspan x="34.3680" y="-0.9766" style="font-size: 10px; font-family: 'DejaVu Sans'">×</tspan><tspan x="44.3351" y="-0.9766" style="font-size: 10px; font-family: 'DejaVu Sans'">1</tspan><tspan x="50.6254" y="-0.9766" style="font-size: 10px; font-family: 'DejaVu Sans'">0</tspan><tspan x="57.1554" y="-4.3727" style="font-size: 7px; font-family: 'DejaVu Sans'">3</tspan></text></g></g><g id="legend_1"><g id="patch_22"><path d="M 447.320 461.808 L 534.976 461.808 Q 536.976 461.808 536.976 459.808 L 536.976 401.384 Q 536.976 399.384 534.976 399.384 L 447.320 399.384 Q 445.320 399.384 445.320 401.384 L 445.320 459.808 Q 445.320 461.808 447.320 461.808 z" style="fill: #ffffff; opacity: 0.8; stroke: #cccccc; stroke-linejoin: miter"/></g><g id="line2d_197"><path d="M 448.859 409.456 L 458.859 409.456 L 468.859 409.456" style="fill: none; stroke: #add8e6; stroke-width: 4; stroke-linecap: square"/></g><g id="text_35"><!-- $S_{\rm ac}^{(A1)}(k,z)$ --><g transform="translate(475.7792 413.2804)"><text><tspan x="0.0000" y="-0.8562" style="font-style: oblique; font-size: 10px; font-family: 'DejaVu Sans'">S</tspan><tspan x="25.9466" y="-0.8562" style="font-style: oblique; font-size: 10px; font-family: 'DejaVu Sans'">k</tspan><tspan x="36.8646" y="-0.8562" style="font-style: oblique; font-size: 10px; font-family: 'DejaVu Sans'">z</tspan><tspan x="6.3477" y="1.4461" style="font-size: 7px; font-family: 'DejaVu Sans'">a</tspan><tspan x="7.0677" y="-5.1164" style="font-size: 7px; font-family: 'DejaVu Sans'">(</tspan><tspan x="10.6372" y="1.4461" style="font-size: 7px; font-family: 'DejaVu Sans'">c</tspan><tspan x="14.5872" y="-5.1164" style="font-size: 7px; font-family: 'DejaVu Sans'">1</tspan><tspan x="19.0409" y="-5.1164" style="font-size: 7px; font-family: 'DejaVu Sans'">)</tspan><tspan x="9.7987" y="-5.1164" style="font-style: oblique; font-size: 7px; font-family: 'DejaVu Sans'">A</tspan><tspan x="22.0452" y="-0.8562" style="font-size: 10px; font-family: 'DejaVu Sans'">(</tspan><tspan x="31.7376" y="-0.8562" style="font-size: 10px; font-family: 'DejaVu Sans'">,</tspan><tspan x="42.1136" y="-0.8562" style="font-size: 10px; font-family: 'DejaVu Sans'">)</tspan></text></g></g><g id="line2d_198"><path d="M 448.859 424.559 L 458.859 424.559 L 468.859 424.559" style="fill: none; stroke-dasharray: 1.5,2.475; stroke-dashoffset: 0; stroke: #008000; stroke-width: 1.5"/></g><g id="text_36"><text style="font-size: 10px; font-family: 'DejaVu Sans', 'Bitstream Vera Sans', 'Computer Modern Sans Serif', 'Lucida Grande', 'Verdana', 'Geneva', 'Lucid', 'Arial', 'Helvetica', 'Avant Garde', sans-serif; text-anchor: start" x="476.1392" y="427.7708" transform="translate(476.1392 0) scale(0.972 1) translate(-476.1392 0)">Dipole</text></g><g id="line2d_199"><path d="M 448.859 438.769 L 458.859 438.769 L 468.859 438.769" style="fill: none; stroke-dasharray: 1.5,2.475; stroke-dashoffset: 0; stroke: #ff0000; stroke-width: 1.5"/></g><g id="text_37"><text style="font-size: 10px; font-family: 'DejaVu Sans', 'Bitstream Vera Sans', 'Computer Modern Sans Serif', 'Lucida Grande', 'Verdana', 'Geneva', 'Lucid', 'Arial', 'Helvetica', 'Avant Garde', sans-serif; text-anchor: start" x="476.1392" y="442.4490" transform="translate(476.1392 0) scale(0.972 1) translate(-476.1392 0)">Quadrupole</text></g><g id="line2d_200"><path d="M 448.859 453.123 L 458.859 453.123 L 468.859 453.123" style="fill: none; stroke-dasharray: 1.5,2.475; stroke-dashoffset: 0; stroke: #000000; stroke-width: 1.5"/></g><g id="text_38"><text style="font-size: 10px; font-family: 'DejaVu Sans', 'Bitstream Vera Sans', 'Computer Modern Sans Serif', 'Lucida Grande', 'Verdana', 'Geneva', 'Lucid', 'Arial', 'Helvetica', 'Avant Garde', sans-serif; text-anchor: start" x="476.1392" y="456.6951" transform="translate(476.1392 0) scale(0.972 1) translate(-476.1392 0)">Octopole</text></g></g></g></g><defs><clipPath id="p4272b45b1d"><rect x="54.576" y="6.8904" width="487.224" height="120.996"/></clipPath><clipPath id="pe261a286ae"><rect x="54.576" y="127.8864" width="487.224" height="121.2192"/></clipPath><clipPath id="p5ef7a6bb5e"><rect x="54.576" y="249.1056" width="487.224" height="121.0176"/></clipPath><clipPath id="pbd874820b1"><rect x="54.576" y="370.1232" width="487.224" height="121.1688"/></clipPath></defs></svg> </body></html>
